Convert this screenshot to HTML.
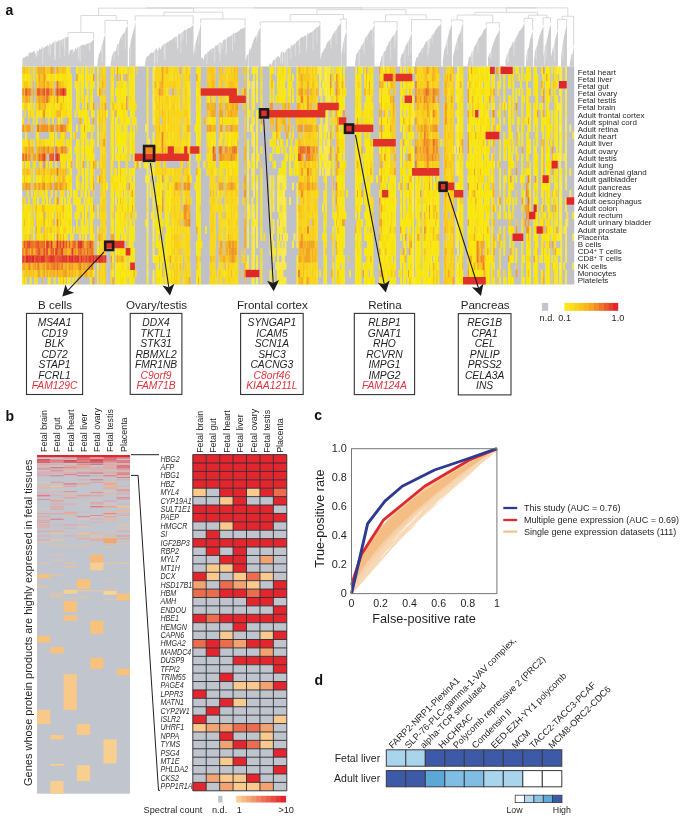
<!DOCTYPE html>
<html><head><meta charset="utf-8"><style>
html,body{margin:0;padding:0;background:#fff;width:685px;height:825px;overflow:hidden}
svg text{font-family:'Liberation Sans', sans-serif}
</style></head><body><svg width="685" height="825" viewBox="0 0 685 825" style="display:block;filter:blur(0.3px)"><defs><filter id="bl" x="-1%" y="-1%" width="102%" height="102%"><feGaussianBlur stdDeviation="0.45"/></filter></defs><g filter="url(#bl)"><path fill="#f8c018" d="M22.2 66.4h1.75v7.56h-1.75zM46.19 66.4h1.75v7.56h-1.75zM61.19 66.4h3.25v7.56h-3.25zM208.13 66.4h1.75v7.56h-1.75zM218.63 66.4h1.75v7.56h-1.75zM221.63 66.4h1.75v7.56h-1.75zM236.62 66.4h1.75v7.56h-1.75zM389.57 66.4h1.75v7.56h-1.75zM424.05 66.4h1.75v7.56h-1.75zM431.55 66.4h1.75v7.56h-1.75zM37.19 73.66h1.75v7.56h-1.75zM188.64 73.66h1.75v7.56h-1.75zM214.13 73.66h1.75v7.56h-1.75zM220.13 73.66h1.75v7.56h-1.75zM236.62 73.66h1.75v7.56h-1.75zM299.6 73.66h1.75v7.56h-1.75zM394.07 73.66h1.75v7.56h-1.75zM424.05 73.66h3.25v7.56h-3.25zM434.55 73.66h1.75v7.56h-1.75zM467.54 73.66h1.75v7.56h-1.75zM32.7 80.93h1.75v7.56h-1.75zM35.7 80.93h1.75v7.56h-1.75zM41.69 80.93h1.75v7.56h-1.75zM55.19 80.93h1.75v7.56h-1.75zM58.19 80.93h1.75v7.56h-1.75zM169.15 80.93h1.75v7.56h-1.75zM172.15 80.93h1.75v7.56h-1.75zM208.13 80.93h1.75v7.56h-1.75zM214.13 80.93h1.75v7.56h-1.75zM220.13 80.93h1.75v7.56h-1.75zM230.62 80.93h3.25v7.56h-3.25zM358.08 80.93h1.75v7.56h-1.75zM380.57 80.93h1.75v7.56h-1.75zM394.07 80.93h1.75v7.56h-1.75zM425.55 80.93h1.75v7.56h-1.75zM433.05 80.93h1.75v7.56h-1.75zM452.54 80.93h1.75v7.56h-1.75zM241.12 88.19h1.75v7.56h-1.75zM313.09 88.19h1.75v7.56h-1.75zM338.59 88.19h1.75v7.56h-1.75zM368.57 88.19h1.75v7.56h-1.75zM416.56 88.19h1.75v7.56h-1.75zM23.7 95.45h1.75v7.56h-1.75zM35.7 95.45h1.75v7.56h-1.75zM49.19 95.45h1.75v7.56h-1.75zM53.69 95.45h1.75v7.56h-1.75zM158.65 95.45h1.75v7.56h-1.75zM166.15 95.45h1.75v7.56h-1.75zM380.57 95.45h1.75v7.56h-1.75zM391.07 95.45h1.75v7.56h-1.75zM421.06 95.45h1.75v7.56h-1.75zM40.19 102.72h3.25v7.56h-3.25zM59.69 102.72h3.25v7.56h-3.25zM97.17 102.72h1.75v7.56h-1.75zM172.15 102.72h1.75v7.56h-1.75zM209.63 102.72h1.75v7.56h-1.75zM212.63 102.72h1.75v7.56h-1.75zM221.63 102.72h1.75v7.56h-1.75zM229.12 102.72h3.25v7.56h-3.25zM244.12 102.72h1.75v7.56h-1.75zM281.61 102.72h3.25v7.56h-3.25zM380.57 102.72h1.75v7.56h-1.75zM394.07 102.72h1.75v7.56h-1.75zM415.06 102.72h1.75v7.56h-1.75zM422.55 102.72h1.75v7.56h-1.75zM425.55 102.72h1.75v7.56h-1.75zM430.05 102.72h1.75v7.56h-1.75zM433.05 102.72h1.75v7.56h-1.75zM55.19 109.98h1.75v7.56h-1.75zM98.67 109.98h1.75v7.56h-1.75zM184.14 109.98h1.75v7.56h-1.75zM206.63 109.98h1.75v7.56h-1.75zM236.62 109.98h1.75v7.56h-1.75zM409.06 109.98h1.75v7.56h-1.75zM415.06 109.98h1.75v7.56h-1.75zM428.55 109.98h1.75v7.56h-1.75zM431.55 109.98h1.75v7.56h-1.75zM434.55 109.98h3.25v7.56h-3.25zM218.63 117.24h1.75v7.56h-1.75zM221.63 117.24h1.75v7.56h-1.75zM271.11 117.24h3.25v7.56h-3.25zM280.11 117.24h3.25v7.56h-3.25zM284.6 117.24h1.75v7.56h-1.75zM289.1 117.24h1.75v7.56h-1.75zM298.1 117.24h1.75v7.56h-1.75zM301.1 117.24h1.75v7.56h-1.75zM334.09 117.24h1.75v7.56h-1.75zM425.55 117.24h1.75v7.56h-1.75zM428.55 117.24h1.75v7.56h-1.75zM436.05 117.24h1.75v7.56h-1.75zM467.54 117.24h1.75v7.56h-1.75zM32.7 124.51h1.75v7.56h-1.75zM58.19 124.51h1.75v7.56h-1.75zM65.68 124.51h1.75v7.56h-1.75zM188.64 124.51h1.75v7.56h-1.75zM269.61 124.51h1.75v7.56h-1.75zM272.61 124.51h1.75v7.56h-1.75zM277.11 124.51h1.75v7.56h-1.75zM296.6 124.51h1.75v7.56h-1.75zM407.56 124.51h1.75v7.56h-1.75zM419.56 124.51h1.75v7.56h-1.75zM422.55 124.51h1.75v7.56h-1.75zM74.68 131.77h1.75v7.56h-1.75zM166.15 131.77h1.75v7.56h-1.75zM277.11 131.77h1.75v7.56h-1.75zM298.1 131.77h1.75v7.56h-1.75zM307.1 131.77h1.75v7.56h-1.75zM337.09 131.77h1.75v7.56h-1.75zM415.06 131.77h1.75v7.56h-1.75zM421.06 131.77h1.75v7.56h-1.75zM425.55 131.77h1.75v7.56h-1.75zM433.05 131.77h1.75v7.56h-1.75zM436.05 131.77h1.75v7.56h-1.75zM236.62 139.03h1.75v7.56h-1.75zM244.12 139.03h1.75v7.56h-1.75zM301.1 139.03h1.75v7.56h-1.75zM416.56 139.03h1.75v7.56h-1.75zM445.05 139.03h1.75v7.56h-1.75zM460.04 139.03h1.75v7.56h-1.75zM482.53 139.03h1.75v7.56h-1.75zM515.52 139.03h1.75v7.56h-1.75zM542.51 139.03h1.75v7.56h-1.75zM23.7 146.3h1.75v7.56h-1.75zM26.7 146.3h1.75v7.56h-1.75zM49.19 146.3h1.75v7.56h-1.75zM188.64 146.3h1.75v7.56h-1.75zM314.59 146.3h1.75v7.56h-1.75zM380.57 146.3h1.75v7.56h-1.75zM385.07 146.3h1.75v7.56h-1.75zM391.07 146.3h1.75v7.56h-1.75zM421.06 146.3h1.75v7.56h-1.75zM443.55 146.3h3.25v7.56h-3.25zM542.51 146.3h1.75v7.56h-1.75zM302.6 153.56h1.75v7.56h-1.75zM316.09 153.56h1.75v7.56h-1.75zM337.09 153.56h1.75v7.56h-1.75zM385.07 153.56h1.75v7.56h-1.75zM418.06 153.56h1.75v7.56h-1.75zM443.55 153.56h1.75v7.56h-1.75zM551.51 153.56h1.75v7.56h-1.75zM59.69 160.82h1.75v7.56h-1.75zM73.18 160.82h1.75v7.56h-1.75zM335.59 160.82h1.75v7.56h-1.75zM370.07 160.82h1.75v7.56h-1.75zM406.06 160.82h1.75v7.56h-1.75zM424.05 160.82h3.25v7.56h-3.25zM515.52 160.82h1.75v7.56h-1.75zM542.51 160.82h1.75v7.56h-1.75zM25.2 168.09h1.75v7.56h-1.75zM28.2 168.09h1.75v7.56h-1.75zM37.19 168.09h1.75v7.56h-1.75zM53.69 168.09h1.75v7.56h-1.75zM64.18 168.09h3.25v7.56h-3.25zM100.17 168.09h1.75v7.56h-1.75zM119.66 168.09h1.75v7.56h-1.75zM182.64 168.09h1.75v7.56h-1.75zM232.12 168.09h1.75v7.56h-1.75zM244.12 168.09h1.75v7.56h-1.75zM380.57 168.09h1.75v7.56h-1.75zM443.55 168.09h1.75v7.56h-1.75zM479.53 168.09h1.75v7.56h-1.75zM493.03 168.09h1.75v7.56h-1.75zM503.53 168.09h1.75v7.56h-1.75zM542.51 168.09h1.75v7.56h-1.75zM23.7 175.35h1.75v7.56h-1.75zM43.19 175.35h1.75v7.56h-1.75zM64.18 175.35h1.75v7.56h-1.75zM92.67 175.35h1.75v7.56h-1.75zM308.6 175.35h1.75v7.56h-1.75zM332.59 175.35h1.75v7.56h-1.75zM379.07 175.35h1.75v7.56h-1.75zM410.56 175.35h1.75v7.56h-1.75zM418.06 175.35h1.75v7.56h-1.75zM428.55 175.35h1.75v7.56h-1.75zM35.7 182.61h1.75v7.56h-1.75zM47.69 182.61h1.75v7.56h-1.75zM64.18 182.61h1.75v7.56h-1.75zM235.12 182.61h1.75v7.56h-1.75zM304.1 182.61h3.25v7.56h-3.25zM316.09 182.61h1.75v7.56h-1.75zM332.59 182.61h1.75v7.56h-1.75zM173.65 189.88h1.75v7.56h-1.75zM178.14 189.88h1.75v7.56h-1.75zM212.63 189.88h1.75v7.56h-1.75zM409.06 189.88h1.75v7.56h-1.75zM472.04 189.88h1.75v7.56h-1.75zM551.51 189.88h1.75v7.56h-1.75zM119.66 197.14h1.75v7.56h-1.75zM307.1 197.14h1.75v7.56h-1.75zM445.05 197.14h1.75v7.56h-1.75zM115.17 204.4h1.75v7.56h-1.75zM121.16 204.4h1.75v7.56h-1.75zM244.12 204.4h1.75v7.56h-1.75zM301.1 204.4h1.75v7.56h-1.75zM337.09 204.4h1.75v7.56h-1.75zM379.07 204.4h1.75v7.56h-1.75zM433.05 204.4h1.75v7.56h-1.75zM445.05 204.4h1.75v7.56h-1.75zM452.54 204.4h1.75v7.56h-1.75zM124.16 211.67h1.75v7.56h-1.75zM182.64 211.67h1.75v7.56h-1.75zM244.12 211.67h1.75v7.56h-1.75zM443.55 211.67h1.75v7.56h-1.75zM452.54 211.67h1.75v7.56h-1.75zM311.6 218.93h3.25v7.56h-3.25zM335.59 218.93h1.75v7.56h-1.75zM424.05 218.93h1.75v7.56h-1.75zM46.19 226.19h1.75v7.56h-1.75zM49.19 226.19h1.75v7.56h-1.75zM56.69 226.19h1.75v7.56h-1.75zM92.67 226.19h1.75v7.56h-1.75zM161.65 226.19h1.75v7.56h-1.75zM394.07 226.19h1.75v7.56h-1.75zM419.56 226.19h1.75v7.56h-1.75zM452.54 226.19h1.75v7.56h-1.75zM46.19 233.46h1.75v7.56h-1.75zM175.14 233.46h1.75v7.56h-1.75zM298.1 233.46h1.75v7.56h-1.75zM331.09 233.46h1.75v7.56h-1.75zM433.05 233.46h1.75v7.56h-1.75zM436.05 233.46h1.75v7.56h-1.75zM452.54 233.46h1.75v7.56h-1.75zM482.53 233.46h1.75v7.56h-1.75zM527.52 233.46h1.75v7.56h-1.75zM67.18 240.72h1.75v7.56h-1.75zM125.66 240.72h1.75v7.56h-1.75zM305.6 240.72h1.75v7.56h-1.75zM452.54 240.72h1.75v7.56h-1.75zM479.53 240.72h1.75v7.56h-1.75zM29.7 247.98h1.75v7.56h-1.75zM157.15 247.98h1.75v7.56h-1.75zM221.63 247.98h1.75v7.56h-1.75zM224.63 247.98h1.75v7.56h-1.75zM304.1 247.98h1.75v7.56h-1.75zM313.09 247.98h1.75v7.56h-1.75zM316.09 247.98h1.75v7.56h-1.75zM325.09 247.98h1.75v7.56h-1.75zM484.03 247.98h1.75v7.56h-1.75zM536.51 247.98h1.75v7.56h-1.75zM118.17 255.25h3.25v7.56h-3.25zM175.14 255.25h1.75v7.56h-1.75zM199.14 255.25h1.75v7.56h-1.75zM211.13 255.25h1.75v7.56h-1.75zM221.63 255.25h1.75v7.56h-1.75zM224.63 255.25h1.75v7.56h-1.75zM241.12 255.25h1.75v7.56h-1.75zM302.6 255.25h1.75v7.56h-1.75zM316.09 255.25h1.75v7.56h-1.75zM437.55 255.25h1.75v7.56h-1.75zM493.03 255.25h1.75v7.56h-1.75zM26.7 262.51h1.75v7.56h-1.75zM44.69 262.51h1.75v7.56h-1.75zM67.18 262.51h1.75v7.56h-1.75zM110.67 262.51h1.75v7.56h-1.75zM172.15 262.51h1.75v7.56h-1.75zM196.14 262.51h1.75v7.56h-1.75zM224.63 262.51h1.75v7.56h-1.75zM227.63 262.51h1.75v7.56h-1.75zM298.1 262.51h1.75v7.56h-1.75zM302.6 262.51h1.75v7.56h-1.75zM380.57 262.51h1.75v7.56h-1.75zM452.54 262.51h1.75v7.56h-1.75zM481.03 262.51h1.75v7.56h-1.75zM484.03 262.51h1.75v7.56h-1.75zM32.7 269.77h1.75v7.56h-1.75zM41.69 269.77h1.75v7.56h-1.75zM67.18 269.77h1.75v7.56h-1.75zM77.68 269.77h1.75v7.56h-1.75zM82.18 269.77h1.75v7.56h-1.75zM86.68 269.77h1.75v7.56h-1.75zM89.68 269.77h3.25v7.56h-3.25zM161.65 269.77h1.75v7.56h-1.75zM241.12 269.77h1.75v7.56h-1.75zM302.6 269.77h1.75v7.56h-1.75zM379.07 269.77h1.75v7.56h-1.75zM394.07 269.77h1.75v7.56h-1.75zM436.05 269.77h1.75v7.56h-1.75zM445.05 269.77h1.75v7.56h-1.75zM482.53 269.77h1.75v7.56h-1.75zM493.03 269.77h1.75v7.56h-1.75zM527.52 269.77h1.75v7.56h-1.75zM187.14 277.04h1.75v7.56h-1.75zM299.6 277.04h1.75v7.56h-1.75zM337.09 277.04h1.75v7.56h-1.75zM445.05 277.04h1.75v7.56h-1.75zM496.03 277.04h1.75v7.56h-1.75z"/><path fill="#f8b818" d="M23.7 66.4h1.75v7.56h-1.75zM41.69 66.4h1.75v7.56h-1.75zM49.19 66.4h1.75v7.56h-1.75zM64.18 66.4h1.75v7.56h-1.75zM233.62 66.4h1.75v7.56h-1.75zM307.1 66.4h1.75v7.56h-1.75zM365.58 66.4h1.75v7.56h-1.75zM385.07 66.4h1.75v7.56h-1.75zM425.55 66.4h1.75v7.56h-1.75zM437.55 66.4h1.75v7.56h-1.75zM452.54 66.4h1.75v7.56h-1.75zM44.69 73.66h1.75v7.56h-1.75zM119.66 73.66h1.75v7.56h-1.75zM211.13 73.66h1.75v7.56h-1.75zM271.11 73.66h1.75v7.56h-1.75zM298.1 73.66h1.75v7.56h-1.75zM307.1 73.66h1.75v7.56h-1.75zM337.09 73.66h1.75v7.56h-1.75zM365.58 73.66h1.75v7.56h-1.75zM392.57 73.66h1.75v7.56h-1.75zM433.05 73.66h1.75v7.56h-1.75zM446.55 73.66h1.75v7.56h-1.75zM40.19 80.93h1.75v7.56h-1.75zM59.69 80.93h1.75v7.56h-1.75zM211.13 80.93h3.25v7.56h-3.25zM229.12 80.93h1.75v7.56h-1.75zM244.12 80.93h1.75v7.56h-1.75zM313.09 80.93h1.75v7.56h-1.75zM553.01 80.93h1.75v7.56h-1.75zM23.7 88.19h1.75v7.56h-1.75zM100.17 88.19h1.75v7.56h-1.75zM304.1 88.19h3.25v7.56h-3.25zM329.59 88.19h1.75v7.56h-1.75zM337.09 88.19h1.75v7.56h-1.75zM388.07 88.19h1.75v7.56h-1.75zM419.56 88.19h3.25v7.56h-3.25zM22.2 95.45h1.75v7.56h-1.75zM32.7 95.45h1.75v7.56h-1.75zM62.69 95.45h1.75v7.56h-1.75zM209.63 95.45h1.75v7.56h-1.75zM220.13 95.45h1.75v7.56h-1.75zM416.56 95.45h3.25v7.56h-3.25zM422.55 95.45h1.75v7.56h-1.75zM434.55 95.45h1.75v7.56h-1.75zM25.2 102.72h1.75v7.56h-1.75zM43.19 102.72h1.75v7.56h-1.75zM218.63 102.72h3.25v7.56h-3.25zM224.63 102.72h1.75v7.56h-1.75zM277.11 102.72h1.75v7.56h-1.75zM289.1 102.72h1.75v7.56h-1.75zM416.56 102.72h3.25v7.56h-3.25zM472.04 102.72h1.75v7.56h-1.75zM56.69 109.98h4.75v7.56h-4.75zM161.65 109.98h1.75v7.56h-1.75zM209.63 109.98h1.75v7.56h-1.75zM224.63 109.98h1.75v7.56h-1.75zM229.12 109.98h1.75v7.56h-1.75zM232.12 109.98h3.25v7.56h-3.25zM244.12 109.98h1.75v7.56h-1.75zM380.57 109.98h1.75v7.56h-1.75zM383.57 109.98h1.75v7.56h-1.75zM491.53 109.98h1.75v7.56h-1.75zM503.53 109.98h1.75v7.56h-1.75zM40.19 117.24h1.75v7.56h-1.75zM98.67 117.24h1.75v7.56h-1.75zM187.14 117.24h1.75v7.56h-1.75zM269.61 117.24h1.75v7.56h-1.75zM295.1 117.24h1.75v7.56h-1.75zM424.05 117.24h1.75v7.56h-1.75zM433.05 117.24h1.75v7.56h-1.75zM23.7 124.51h1.75v7.56h-1.75zM29.7 124.51h1.75v7.56h-1.75zM47.69 124.51h1.75v7.56h-1.75zM158.65 124.51h1.75v7.56h-1.75zM211.13 124.51h3.25v7.56h-3.25zM221.63 124.51h1.75v7.56h-1.75zM233.62 124.51h1.75v7.56h-1.75zM236.62 124.51h1.75v7.56h-1.75zM311.6 124.51h1.75v7.56h-1.75zM379.07 124.51h1.75v7.56h-1.75zM415.06 124.51h1.75v7.56h-1.75zM64.18 131.77h1.75v7.56h-1.75zM275.61 131.77h1.75v7.56h-1.75zM419.56 131.77h1.75v7.56h-1.75zM448.05 131.77h1.75v7.56h-1.75zM515.52 131.77h1.75v7.56h-1.75zM337.09 139.03h1.75v7.56h-1.75zM418.06 139.03h1.75v7.56h-1.75zM421.06 139.03h1.75v7.56h-1.75zM487.03 139.03h1.75v7.56h-1.75zM541.01 139.03h1.75v7.56h-1.75zM29.7 146.3h1.75v7.56h-1.75zM32.7 146.3h1.75v7.56h-1.75zM58.19 146.3h1.75v7.56h-1.75zM164.65 146.3h1.75v7.56h-1.75zM175.14 146.3h1.75v7.56h-1.75zM178.14 146.3h1.75v7.56h-1.75zM227.63 146.3h1.75v7.56h-1.75zM392.57 146.3h1.75v7.56h-1.75zM418.06 146.3h1.75v7.56h-1.75zM428.55 146.3h1.75v7.56h-1.75zM437.55 146.3h1.75v7.56h-1.75zM224.63 153.56h1.75v7.56h-1.75zM313.09 153.56h3.25v7.56h-3.25zM379.07 153.56h1.75v7.56h-1.75zM422.55 153.56h1.75v7.56h-1.75zM493.03 153.56h1.75v7.56h-1.75zM185.64 160.82h1.75v7.56h-1.75zM244.12 160.82h1.75v7.56h-1.75zM379.07 160.82h1.75v7.56h-1.75zM499.03 160.82h1.75v7.56h-1.75zM26.7 168.09h1.75v7.56h-1.75zM38.69 168.09h1.75v7.56h-1.75zM59.69 168.09h1.75v7.56h-1.75zM62.69 168.09h1.75v7.56h-1.75zM211.13 168.09h1.75v7.56h-1.75zM337.09 168.09h1.75v7.56h-1.75zM49.19 175.35h1.75v7.56h-1.75zM58.19 175.35h1.75v7.56h-1.75zM217.13 175.35h1.75v7.56h-1.75zM304.1 175.35h1.75v7.56h-1.75zM23.7 182.61h1.75v7.56h-1.75zM29.7 182.61h1.75v7.56h-1.75zM37.19 182.61h1.75v7.56h-1.75zM46.19 182.61h1.75v7.56h-1.75zM58.19 182.61h1.75v7.56h-1.75zM62.69 182.61h1.75v7.56h-1.75zM182.64 182.61h1.75v7.56h-1.75zM226.13 182.61h1.75v7.56h-1.75zM233.62 182.61h1.75v7.56h-1.75zM314.59 182.61h1.75v7.56h-1.75zM379.07 182.61h1.75v7.56h-1.75zM436.05 182.61h1.75v7.56h-1.75zM493.03 182.61h1.75v7.56h-1.75zM209.63 189.88h1.75v7.56h-1.75zM226.13 189.88h1.75v7.56h-1.75zM235.12 189.88h1.75v7.56h-1.75zM307.1 189.88h1.75v7.56h-1.75zM340.08 189.88h1.75v7.56h-1.75zM185.64 197.14h1.75v7.56h-1.75zM244.12 197.14h1.75v7.56h-1.75zM302.6 197.14h1.75v7.56h-1.75zM409.06 197.14h1.75v7.56h-1.75zM460.04 197.14h1.75v7.56h-1.75zM35.7 204.4h1.75v7.56h-1.75zM41.69 204.4h3.25v7.56h-3.25zM62.69 204.4h1.75v7.56h-1.75zM127.16 204.4h1.75v7.56h-1.75zM182.64 204.4h1.75v7.56h-1.75zM307.1 204.4h1.75v7.56h-1.75zM434.55 204.4h1.75v7.56h-1.75zM56.69 211.67h1.75v7.56h-1.75zM187.14 211.67h1.75v7.56h-1.75zM337.09 211.67h1.75v7.56h-1.75zM379.07 211.67h1.75v7.56h-1.75zM419.56 211.67h1.75v7.56h-1.75zM23.7 218.93h1.75v7.56h-1.75zM52.19 218.93h1.75v7.56h-1.75zM59.69 218.93h1.75v7.56h-1.75zM178.14 218.93h1.75v7.56h-1.75zM307.1 218.93h1.75v7.56h-1.75zM445.05 218.93h1.75v7.56h-1.75zM40.19 226.19h1.75v7.56h-1.75zM43.19 226.19h1.75v7.56h-1.75zM304.1 226.19h1.75v7.56h-1.75zM337.09 226.19h1.75v7.56h-1.75zM380.57 226.19h1.75v7.56h-1.75zM389.57 226.19h1.75v7.56h-1.75zM443.55 226.19h3.25v7.56h-3.25zM451.04 226.19h1.75v7.56h-1.75zM59.69 233.46h1.75v7.56h-1.75zM62.69 233.46h1.75v7.56h-1.75zM217.13 233.46h1.75v7.56h-1.75zM227.63 233.46h1.75v7.56h-1.75zM409.06 233.46h1.75v7.56h-1.75zM437.55 233.46h1.75v7.56h-1.75zM44.69 240.72h1.75v7.56h-1.75zM70.18 240.72h1.75v7.56h-1.75zM221.63 240.72h1.75v7.56h-1.75zM224.63 240.72h3.25v7.56h-3.25zM230.62 240.72h1.75v7.56h-1.75zM298.1 240.72h1.75v7.56h-1.75zM302.6 240.72h1.75v7.56h-1.75zM316.09 240.72h1.75v7.56h-1.75zM478.03 240.72h1.75v7.56h-1.75zM499.03 240.72h1.75v7.56h-1.75zM548.51 240.72h1.75v7.56h-1.75zM68.68 247.98h1.75v7.56h-1.75zM76.18 247.98h1.75v7.56h-1.75zM178.14 247.98h1.75v7.56h-1.75zM298.1 247.98h1.75v7.56h-1.75zM301.1 247.98h1.75v7.56h-1.75zM314.59 247.98h1.75v7.56h-1.75zM335.59 247.98h1.75v7.56h-1.75zM424.05 247.98h1.75v7.56h-1.75zM122.66 255.25h1.75v7.56h-1.75zM209.63 255.25h1.75v7.56h-1.75zM220.13 255.25h1.75v7.56h-1.75zM235.12 255.25h1.75v7.56h-1.75zM301.1 255.25h1.75v7.56h-1.75zM313.09 255.25h3.25v7.56h-3.25zM443.55 255.25h1.75v7.56h-1.75zM484.03 255.25h1.75v7.56h-1.75zM35.7 262.51h1.75v7.56h-1.75zM62.69 262.51h1.75v7.56h-1.75zM73.18 262.51h4.75v7.56h-4.75zM92.67 262.51h1.75v7.56h-1.75zM179.64 262.51h1.75v7.56h-1.75zM445.05 262.51h1.75v7.56h-1.75zM461.54 262.51h1.75v7.56h-1.75zM467.54 262.51h1.75v7.56h-1.75zM476.54 262.51h3.25v7.56h-3.25zM25.2 269.77h1.75v7.56h-1.75zM28.2 269.77h1.75v7.56h-1.75zM50.69 269.77h1.75v7.56h-1.75zM58.19 269.77h4.75v7.56h-4.75zM70.18 269.77h1.75v7.56h-1.75zM74.68 269.77h1.75v7.56h-1.75zM83.68 269.77h1.75v7.56h-1.75zM230.62 269.77h1.75v7.56h-1.75zM391.07 269.77h1.75v7.56h-1.75zM433.05 269.77h1.75v7.56h-1.75zM542.51 269.77h1.75v7.56h-1.75zM41.69 277.04h1.75v7.56h-1.75zM62.69 277.04h1.75v7.56h-1.75zM77.68 277.04h1.75v7.56h-1.75zM244.12 277.04h1.75v7.56h-1.75zM305.6 277.04h1.75v7.56h-1.75z"/><path fill="#f8c818" d="M25.2 66.4h3.25v7.56h-3.25zM47.69 66.4h1.75v7.56h-1.75zM55.19 66.4h1.75v7.56h-1.75zM58.19 66.4h3.25v7.56h-3.25zM100.17 66.4h1.75v7.56h-1.75zM163.15 66.4h1.75v7.56h-1.75zM185.64 66.4h1.75v7.56h-1.75zM209.63 66.4h4.75v7.56h-4.75zM220.13 66.4h1.75v7.56h-1.75zM226.13 66.4h1.75v7.56h-1.75zM230.62 66.4h1.75v7.56h-1.75zM235.12 66.4h1.75v7.56h-1.75zM242.62 66.4h3.25v7.56h-3.25zM299.6 66.4h1.75v7.56h-1.75zM302.6 66.4h1.75v7.56h-1.75zM305.6 66.4h1.75v7.56h-1.75zM311.6 66.4h1.75v7.56h-1.75zM394.07 66.4h1.75v7.56h-1.75zM422.55 66.4h1.75v7.56h-1.75zM434.55 66.4h3.25v7.56h-3.25zM443.55 66.4h1.75v7.56h-1.75zM451.04 66.4h1.75v7.56h-1.75zM467.54 66.4h1.75v7.56h-1.75zM40.19 73.66h3.25v7.56h-3.25zM100.17 73.66h1.75v7.56h-1.75zM104.67 73.66h1.75v7.56h-1.75zM157.15 73.66h1.75v7.56h-1.75zM208.13 73.66h1.75v7.56h-1.75zM212.63 73.66h1.75v7.56h-1.75zM223.13 73.66h1.75v7.56h-1.75zM229.12 73.66h1.75v7.56h-1.75zM232.12 73.66h4.75v7.56h-4.75zM302.6 73.66h4.75v7.56h-4.75zM308.6 73.66h1.75v7.56h-1.75zM341.58 73.66h1.75v7.56h-1.75zM379.07 73.66h1.75v7.56h-1.75zM418.06 73.66h1.75v7.56h-1.75zM421.06 73.66h1.75v7.56h-1.75zM427.05 73.66h1.75v7.56h-1.75zM443.55 73.66h3.25v7.56h-3.25zM451.04 73.66h1.75v7.56h-1.75zM23.7 80.93h4.75v7.56h-4.75zM49.19 80.93h1.75v7.56h-1.75zM61.19 80.93h3.25v7.56h-3.25zM104.67 80.93h1.75v7.56h-1.75zM121.16 80.93h1.75v7.56h-1.75zM158.65 80.93h1.75v7.56h-1.75zM206.63 80.93h1.75v7.56h-1.75zM221.63 80.93h1.75v7.56h-1.75zM233.62 80.93h1.75v7.56h-1.75zM298.1 80.93h1.75v7.56h-1.75zM304.1 80.93h1.75v7.56h-1.75zM311.6 80.93h1.75v7.56h-1.75zM392.57 80.93h1.75v7.56h-1.75zM419.56 80.93h1.75v7.56h-1.75zM424.05 80.93h1.75v7.56h-1.75zM431.55 80.93h1.75v7.56h-1.75zM443.55 80.93h1.75v7.56h-1.75zM448.05 80.93h1.75v7.56h-1.75zM101.67 88.19h1.75v7.56h-1.75zM104.67 88.19h1.75v7.56h-1.75zM302.6 88.19h1.75v7.56h-1.75zM311.6 88.19h1.75v7.56h-1.75zM367.07 88.19h1.75v7.56h-1.75zM392.57 88.19h3.25v7.56h-3.25zM443.55 88.19h1.75v7.56h-1.75zM277.11 95.45h1.75v7.56h-1.75zM299.6 95.45h1.75v7.56h-1.75zM310.1 95.45h3.25v7.56h-3.25zM337.09 95.45h1.75v7.56h-1.75zM430.05 95.45h1.75v7.56h-1.75zM449.55 95.45h1.75v7.56h-1.75zM493.03 95.45h1.75v7.56h-1.75zM551.51 95.45h1.75v7.56h-1.75zM101.67 102.72h1.75v7.56h-1.75zM161.65 102.72h1.75v7.56h-1.75zM227.63 102.72h1.75v7.56h-1.75zM233.62 102.72h1.75v7.56h-1.75zM299.6 102.72h1.75v7.56h-1.75zM302.6 102.72h1.75v7.56h-1.75zM308.6 102.72h1.75v7.56h-1.75zM379.07 102.72h1.75v7.56h-1.75zM409.06 102.72h1.75v7.56h-1.75zM421.06 102.72h1.75v7.56h-1.75zM431.55 102.72h1.75v7.56h-1.75zM443.55 102.72h1.75v7.56h-1.75zM446.55 102.72h1.75v7.56h-1.75zM478.03 102.72h1.75v7.56h-1.75zM503.53 102.72h1.75v7.56h-1.75zM29.7 109.98h1.75v7.56h-1.75zM101.67 109.98h1.75v7.56h-1.75zM104.67 109.98h1.75v7.56h-1.75zM158.65 109.98h1.75v7.56h-1.75zM167.65 109.98h1.75v7.56h-1.75zM172.15 109.98h1.75v7.56h-1.75zM208.13 109.98h1.75v7.56h-1.75zM226.13 109.98h1.75v7.56h-1.75zM329.59 109.98h1.75v7.56h-1.75zM361.08 109.98h1.75v7.56h-1.75zM389.57 109.98h1.75v7.56h-1.75zM421.06 109.98h3.25v7.56h-3.25zM443.55 109.98h1.75v7.56h-1.75zM451.04 109.98h1.75v7.56h-1.75zM515.52 109.98h1.75v7.56h-1.75zM28.2 117.24h1.75v7.56h-1.75zM56.69 117.24h1.75v7.56h-1.75zM80.68 117.24h1.75v7.56h-1.75zM101.67 117.24h1.75v7.56h-1.75zM104.67 117.24h1.75v7.56h-1.75zM158.65 117.24h1.75v7.56h-1.75zM161.65 117.24h1.75v7.56h-1.75zM167.65 117.24h1.75v7.56h-1.75zM232.12 117.24h1.75v7.56h-1.75zM277.11 117.24h1.75v7.56h-1.75zM287.6 117.24h1.75v7.56h-1.75zM299.6 117.24h1.75v7.56h-1.75zM310.1 117.24h1.75v7.56h-1.75zM386.57 117.24h1.75v7.56h-1.75zM391.07 117.24h4.75v7.56h-4.75zM409.06 117.24h1.75v7.56h-1.75zM416.56 117.24h1.75v7.56h-1.75zM422.55 117.24h1.75v7.56h-1.75zM443.55 117.24h1.75v7.56h-1.75zM449.55 117.24h3.25v7.56h-3.25zM35.7 124.51h1.75v7.56h-1.75zM67.18 124.51h1.75v7.56h-1.75zM100.17 124.51h1.75v7.56h-1.75zM155.65 124.51h1.75v7.56h-1.75zM218.63 124.51h1.75v7.56h-1.75zM224.63 124.51h1.75v7.56h-1.75zM244.12 124.51h1.75v7.56h-1.75zM280.11 124.51h1.75v7.56h-1.75zM283.11 124.51h1.75v7.56h-1.75zM289.1 124.51h1.75v7.56h-1.75zM313.09 124.51h3.25v7.56h-3.25zM329.59 124.51h1.75v7.56h-1.75zM394.07 124.51h1.75v7.56h-1.75zM416.56 124.51h1.75v7.56h-1.75zM443.55 124.51h3.25v7.56h-3.25zM449.55 124.51h1.75v7.56h-1.75zM452.54 124.51h1.75v7.56h-1.75zM523.02 124.51h1.75v7.56h-1.75zM59.69 131.77h1.75v7.56h-1.75zM184.14 131.77h1.75v7.56h-1.75zM187.14 131.77h1.75v7.56h-1.75zM218.63 131.77h1.75v7.56h-1.75zM244.12 131.77h1.75v7.56h-1.75zM304.1 131.77h1.75v7.56h-1.75zM308.6 131.77h3.25v7.56h-3.25zM394.07 131.77h1.75v7.56h-1.75zM431.55 131.77h1.75v7.56h-1.75zM434.55 131.77h1.75v7.56h-1.75zM443.55 131.77h3.25v7.56h-3.25zM452.54 131.77h1.75v7.56h-1.75zM40.19 139.03h1.75v7.56h-1.75zM43.19 139.03h1.75v7.56h-1.75zM100.17 139.03h1.75v7.56h-1.75zM104.67 139.03h1.75v7.56h-1.75zM226.13 139.03h1.75v7.56h-1.75zM299.6 139.03h1.75v7.56h-1.75zM305.6 139.03h1.75v7.56h-1.75zM310.1 139.03h1.75v7.56h-1.75zM329.59 139.03h1.75v7.56h-1.75zM335.59 139.03h1.75v7.56h-1.75zM419.56 139.03h1.75v7.56h-1.75zM437.55 139.03h1.75v7.56h-1.75zM452.54 139.03h1.75v7.56h-1.75zM551.51 139.03h1.75v7.56h-1.75zM22.2 146.3h1.75v7.56h-1.75zM35.7 146.3h1.75v7.56h-1.75zM83.68 146.3h1.75v7.56h-1.75zM92.67 146.3h1.75v7.56h-1.75zM104.67 146.3h1.75v7.56h-1.75zM157.15 146.3h1.75v7.56h-1.75zM208.13 146.3h1.75v7.56h-1.75zM236.62 146.3h1.75v7.56h-1.75zM394.07 146.3h1.75v7.56h-1.75zM493.03 146.3h1.75v7.56h-1.75zM35.7 153.56h1.75v7.56h-1.75zM101.67 153.56h1.75v7.56h-1.75zM380.57 153.56h1.75v7.56h-1.75zM445.05 153.56h3.25v7.56h-3.25zM451.04 153.56h3.25v7.56h-3.25zM542.51 153.56h1.75v7.56h-1.75zM104.67 160.82h1.75v7.56h-1.75zM157.15 160.82h1.75v7.56h-1.75zM260.61 160.82h1.75v7.56h-1.75zM299.6 160.82h3.25v7.56h-3.25zM307.1 160.82h3.25v7.56h-3.25zM314.59 160.82h1.75v7.56h-1.75zM391.07 160.82h1.75v7.56h-1.75zM394.07 160.82h1.75v7.56h-1.75zM416.56 160.82h3.25v7.56h-3.25zM431.55 160.82h3.25v7.56h-3.25zM443.55 160.82h1.75v7.56h-1.75zM448.05 160.82h4.75v7.56h-4.75zM526.02 160.82h1.75v7.56h-1.75zM22.2 168.09h3.25v7.56h-3.25zM35.7 168.09h1.75v7.56h-1.75zM40.19 168.09h1.75v7.56h-1.75zM46.19 168.09h1.75v7.56h-1.75zM49.19 168.09h1.75v7.56h-1.75zM52.19 168.09h1.75v7.56h-1.75zM55.19 168.09h1.75v7.56h-1.75zM61.19 168.09h1.75v7.56h-1.75zM101.67 168.09h1.75v7.56h-1.75zM104.67 168.09h1.75v7.56h-1.75zM161.65 168.09h1.75v7.56h-1.75zM208.13 168.09h1.75v7.56h-1.75zM295.1 168.09h1.75v7.56h-1.75zM308.6 168.09h1.75v7.56h-1.75zM389.57 168.09h1.75v7.56h-1.75zM445.05 168.09h1.75v7.56h-1.75zM451.04 168.09h1.75v7.56h-1.75zM41.69 175.35h1.75v7.56h-1.75zM56.69 175.35h1.75v7.56h-1.75zM61.19 175.35h1.75v7.56h-1.75zM100.17 175.35h3.25v7.56h-3.25zM230.62 175.35h1.75v7.56h-1.75zM298.1 175.35h1.75v7.56h-1.75zM311.6 175.35h1.75v7.56h-1.75zM436.05 175.35h1.75v7.56h-1.75zM443.55 175.35h3.25v7.56h-3.25zM451.04 175.35h3.25v7.56h-3.25zM478.03 175.35h1.75v7.56h-1.75zM32.7 182.61h1.75v7.56h-1.75zM40.19 182.61h1.75v7.56h-1.75zM125.66 182.61h1.75v7.56h-1.75zM167.65 182.61h1.75v7.56h-1.75zM173.65 182.61h1.75v7.56h-1.75zM224.63 182.61h1.75v7.56h-1.75zM242.62 182.61h1.75v7.56h-1.75zM310.1 182.61h1.75v7.56h-1.75zM424.05 182.61h1.75v7.56h-1.75zM491.53 182.61h1.75v7.56h-1.75zM100.17 189.88h1.75v7.56h-1.75zM184.14 189.88h1.75v7.56h-1.75zM232.12 189.88h1.75v7.56h-1.75zM298.1 189.88h1.75v7.56h-1.75zM302.6 189.88h1.75v7.56h-1.75zM317.59 189.88h1.75v7.56h-1.75zM337.09 189.88h1.75v7.56h-1.75zM343.08 189.88h1.75v7.56h-1.75zM433.05 189.88h1.75v7.56h-1.75zM443.55 189.88h1.75v7.56h-1.75zM449.55 189.88h1.75v7.56h-1.75zM467.54 189.88h1.75v7.56h-1.75zM556.01 189.88h1.75v7.56h-1.75zM22.2 197.14h1.75v7.56h-1.75zM188.64 197.14h1.75v7.56h-1.75zM214.13 197.14h1.75v7.56h-1.75zM226.13 197.14h1.75v7.56h-1.75zM310.1 197.14h1.75v7.56h-1.75zM443.55 197.14h1.75v7.56h-1.75zM448.05 197.14h1.75v7.56h-1.75zM452.54 197.14h1.75v7.56h-1.75zM34.2 204.4h1.75v7.56h-1.75zM55.19 204.4h1.75v7.56h-1.75zM61.19 204.4h1.75v7.56h-1.75zM100.17 204.4h1.75v7.56h-1.75zM104.67 204.4h1.75v7.56h-1.75zM173.65 204.4h1.75v7.56h-1.75zM199.14 204.4h1.75v7.56h-1.75zM299.6 204.4h1.75v7.56h-1.75zM308.6 204.4h1.75v7.56h-1.75zM425.55 204.4h1.75v7.56h-1.75zM451.04 204.4h1.75v7.56h-1.75zM475.04 204.4h1.75v7.56h-1.75zM59.69 211.67h1.75v7.56h-1.75zM62.69 211.67h1.75v7.56h-1.75zM80.68 211.67h1.75v7.56h-1.75zM86.68 211.67h1.75v7.56h-1.75zM112.17 211.67h1.75v7.56h-1.75zM179.64 211.67h1.75v7.56h-1.75zM224.63 211.67h1.75v7.56h-1.75zM298.1 211.67h4.75v7.56h-4.75zM304.1 211.67h1.75v7.56h-1.75zM307.1 211.67h1.75v7.56h-1.75zM311.6 211.67h1.75v7.56h-1.75zM371.57 211.67h1.75v7.56h-1.75zM391.07 211.67h1.75v7.56h-1.75zM409.06 211.67h1.75v7.56h-1.75zM451.04 211.67h1.75v7.56h-1.75zM535.01 211.67h1.75v7.56h-1.75zM545.51 211.67h1.75v7.56h-1.75zM104.67 218.93h1.75v7.56h-1.75zM182.64 218.93h1.75v7.56h-1.75zM211.13 218.93h1.75v7.56h-1.75zM227.63 218.93h1.75v7.56h-1.75zM298.1 218.93h1.75v7.56h-1.75zM301.1 218.93h1.75v7.56h-1.75zM434.55 218.93h1.75v7.56h-1.75zM446.55 218.93h1.75v7.56h-1.75zM451.04 218.93h1.75v7.56h-1.75zM508.02 218.93h1.75v7.56h-1.75zM515.52 218.93h1.75v7.56h-1.75zM542.51 218.93h1.75v7.56h-1.75zM50.69 226.19h1.75v7.56h-1.75zM58.19 226.19h1.75v7.56h-1.75zM101.67 226.19h1.75v7.56h-1.75zM298.1 226.19h4.75v7.56h-4.75zM310.1 226.19h1.75v7.56h-1.75zM313.09 226.19h1.75v7.56h-1.75zM446.55 226.19h1.75v7.56h-1.75zM473.54 226.19h1.75v7.56h-1.75zM25.2 233.46h1.75v7.56h-1.75zM28.2 233.46h3.25v7.56h-3.25zM97.17 233.46h1.75v7.56h-1.75zM100.17 233.46h3.25v7.56h-3.25zM173.65 233.46h1.75v7.56h-1.75zM178.14 233.46h1.75v7.56h-1.75zM299.6 233.46h1.75v7.56h-1.75zM307.1 233.46h1.75v7.56h-1.75zM310.1 233.46h1.75v7.56h-1.75zM313.09 233.46h1.75v7.56h-1.75zM443.55 233.46h1.75v7.56h-1.75zM449.55 233.46h1.75v7.56h-1.75zM218.63 240.72h1.75v7.56h-1.75zM430.05 240.72h1.75v7.56h-1.75zM100.17 247.98h1.75v7.56h-1.75zM173.65 247.98h1.75v7.56h-1.75zM227.63 247.98h1.75v7.56h-1.75zM241.12 247.98h1.75v7.56h-1.75zM244.12 247.98h1.75v7.56h-1.75zM310.1 247.98h1.75v7.56h-1.75zM443.55 247.98h1.75v7.56h-1.75zM451.04 247.98h3.25v7.56h-3.25zM542.51 247.98h1.75v7.56h-1.75zM551.51 247.98h1.75v7.56h-1.75zM115.17 255.25h1.75v7.56h-1.75zM158.65 255.25h1.75v7.56h-1.75zM212.63 255.25h3.25v7.56h-3.25zM218.63 255.25h1.75v7.56h-1.75zM226.13 255.25h3.25v7.56h-3.25zM244.12 255.25h1.75v7.56h-1.75zM310.1 255.25h1.75v7.56h-1.75zM347.58 255.25h1.75v7.56h-1.75zM424.05 255.25h1.75v7.56h-1.75zM445.05 255.25h1.75v7.56h-1.75zM451.04 255.25h1.75v7.56h-1.75zM104.67 262.51h1.75v7.56h-1.75zM161.65 262.51h1.75v7.56h-1.75zM304.1 262.51h1.75v7.56h-1.75zM307.1 262.51h1.75v7.56h-1.75zM313.09 262.51h1.75v7.56h-1.75zM443.55 262.51h1.75v7.56h-1.75zM479.53 262.51h1.75v7.56h-1.75zM509.52 262.51h1.75v7.56h-1.75zM515.52 262.51h1.75v7.56h-1.75zM551.51 262.51h1.75v7.56h-1.75zM23.7 269.77h1.75v7.56h-1.75zM26.7 269.77h1.75v7.56h-1.75zM29.7 269.77h3.25v7.56h-3.25zM34.2 269.77h1.75v7.56h-1.75zM44.69 269.77h1.75v7.56h-1.75zM47.69 269.77h1.75v7.56h-1.75zM55.19 269.77h1.75v7.56h-1.75zM73.18 269.77h1.75v7.56h-1.75zM88.18 269.77h1.75v7.56h-1.75zM98.67 269.77h1.75v7.56h-1.75zM104.67 269.77h1.75v7.56h-1.75zM173.65 269.77h1.75v7.56h-1.75zM185.64 269.77h1.75v7.56h-1.75zM218.63 269.77h1.75v7.56h-1.75zM311.6 269.77h1.75v7.56h-1.75zM451.04 269.77h1.75v7.56h-1.75zM104.67 277.04h1.75v7.56h-1.75zM184.14 277.04h1.75v7.56h-1.75zM313.09 277.04h1.75v7.56h-1.75zM443.55 277.04h1.75v7.56h-1.75zM446.55 277.04h1.75v7.56h-1.75z"/><path fill="#f8d018" d="M28.2 66.4h3.25v7.56h-3.25zM44.69 66.4h1.75v7.56h-1.75zM101.67 66.4h1.75v7.56h-1.75zM104.67 66.4h1.75v7.56h-1.75zM136.16 66.4h1.75v7.56h-1.75zM155.65 66.4h3.25v7.56h-3.25zM164.65 66.4h1.75v7.56h-1.75zM187.14 66.4h1.75v7.56h-1.75zM206.63 66.4h1.75v7.56h-1.75zM214.13 66.4h1.75v7.56h-1.75zM229.12 66.4h1.75v7.56h-1.75zM232.12 66.4h1.75v7.56h-1.75zM301.1 66.4h1.75v7.56h-1.75zM314.59 66.4h3.25v7.56h-3.25zM337.09 66.4h1.75v7.56h-1.75zM391.07 66.4h3.25v7.56h-3.25zM421.06 66.4h1.75v7.56h-1.75zM428.55 66.4h3.25v7.56h-3.25zM449.55 66.4h1.75v7.56h-1.75zM101.67 73.66h3.25v7.56h-3.25zM154.15 73.66h1.75v7.56h-1.75zM173.65 73.66h1.75v7.56h-1.75zM176.64 73.66h1.75v7.56h-1.75zM206.63 73.66h1.75v7.56h-1.75zM209.63 73.66h1.75v7.56h-1.75zM218.63 73.66h1.75v7.56h-1.75zM221.63 73.66h1.75v7.56h-1.75zM224.63 73.66h1.75v7.56h-1.75zM227.63 73.66h1.75v7.56h-1.75zM230.62 73.66h1.75v7.56h-1.75zM244.12 73.66h1.75v7.56h-1.75zM311.6 73.66h3.25v7.56h-3.25zM316.09 73.66h1.75v7.56h-1.75zM415.06 73.66h1.75v7.56h-1.75zM515.52 73.66h1.75v7.56h-1.75zM551.51 73.66h1.75v7.56h-1.75zM37.19 80.93h1.75v7.56h-1.75zM44.69 80.93h1.75v7.56h-1.75zM50.69 80.93h3.25v7.56h-3.25zM103.17 80.93h1.75v7.56h-1.75zM155.65 80.93h1.75v7.56h-1.75zM173.65 80.93h3.25v7.56h-3.25zM179.64 80.93h1.75v7.56h-1.75zM184.14 80.93h1.75v7.56h-1.75zM199.14 80.93h1.75v7.56h-1.75zM209.63 80.93h1.75v7.56h-1.75zM226.13 80.93h3.25v7.56h-3.25zM235.12 80.93h3.25v7.56h-3.25zM299.6 80.93h1.75v7.56h-1.75zM389.57 80.93h1.75v7.56h-1.75zM406.06 80.93h1.75v7.56h-1.75zM416.56 80.93h3.25v7.56h-3.25zM421.06 80.93h3.25v7.56h-3.25zM428.55 80.93h1.75v7.56h-1.75zM436.05 80.93h3.25v7.56h-3.25zM446.55 80.93h1.75v7.56h-1.75zM451.04 80.93h1.75v7.56h-1.75zM554.51 80.93h1.75v7.56h-1.75zM163.15 88.19h1.75v7.56h-1.75zM167.65 88.19h1.75v7.56h-1.75zM173.65 88.19h1.75v7.56h-1.75zM178.14 88.19h3.25v7.56h-3.25zM184.14 88.19h3.25v7.56h-3.25zM242.62 88.19h1.75v7.56h-1.75zM314.59 88.19h1.75v7.56h-1.75zM341.58 88.19h1.75v7.56h-1.75zM380.57 88.19h1.75v7.56h-1.75zM389.57 88.19h1.75v7.56h-1.75zM446.55 88.19h1.75v7.56h-1.75zM449.55 88.19h4.75v7.56h-4.75zM29.7 95.45h1.75v7.56h-1.75zM101.67 95.45h1.75v7.56h-1.75zM104.67 95.45h1.75v7.56h-1.75zM154.15 95.45h3.25v7.56h-3.25zM161.65 95.45h1.75v7.56h-1.75zM170.65 95.45h1.75v7.56h-1.75zM176.64 95.45h1.75v7.56h-1.75zM179.64 95.45h1.75v7.56h-1.75zM184.14 95.45h3.25v7.56h-3.25zM214.13 95.45h1.75v7.56h-1.75zM298.1 95.45h1.75v7.56h-1.75zM302.6 95.45h1.75v7.56h-1.75zM313.09 95.45h3.25v7.56h-3.25zM371.57 95.45h1.75v7.56h-1.75zM448.05 95.45h1.75v7.56h-1.75zM452.54 95.45h1.75v7.56h-1.75zM499.03 95.45h1.75v7.56h-1.75zM23.7 102.72h1.75v7.56h-1.75zM53.69 102.72h1.75v7.56h-1.75zM100.17 102.72h1.75v7.56h-1.75zM103.17 102.72h1.75v7.56h-1.75zM155.65 102.72h4.75v7.56h-4.75zM173.65 102.72h1.75v7.56h-1.75zM176.64 102.72h1.75v7.56h-1.75zM179.64 102.72h1.75v7.56h-1.75zM187.14 102.72h1.75v7.56h-1.75zM242.62 102.72h1.75v7.56h-1.75zM301.1 102.72h1.75v7.56h-1.75zM305.6 102.72h1.75v7.56h-1.75zM311.6 102.72h1.75v7.56h-1.75zM314.59 102.72h3.25v7.56h-3.25zM419.56 102.72h1.75v7.56h-1.75zM428.55 102.72h1.75v7.56h-1.75zM437.55 102.72h1.75v7.56h-1.75zM449.55 102.72h4.75v7.56h-4.75zM41.69 109.98h1.75v7.56h-1.75zM65.68 109.98h1.75v7.56h-1.75zM155.65 109.98h1.75v7.56h-1.75zM160.15 109.98h1.75v7.56h-1.75zM163.15 109.98h3.25v7.56h-3.25zM181.14 109.98h1.75v7.56h-1.75zM185.64 109.98h3.25v7.56h-3.25zM394.07 109.98h1.75v7.56h-1.75zM416.56 109.98h3.25v7.56h-3.25zM424.05 109.98h3.25v7.56h-3.25zM452.54 109.98h1.75v7.56h-1.75zM545.51 109.98h1.75v7.56h-1.75zM100.17 117.24h1.75v7.56h-1.75zM155.65 117.24h3.25v7.56h-3.25zM163.15 117.24h3.25v7.56h-3.25zM173.65 117.24h1.75v7.56h-1.75zM178.14 117.24h1.75v7.56h-1.75zM184.14 117.24h1.75v7.56h-1.75zM244.12 117.24h1.75v7.56h-1.75zM278.61 117.24h1.75v7.56h-1.75zM302.6 117.24h6.25v7.56h-6.25zM311.6 117.24h1.75v7.56h-1.75zM418.06 117.24h1.75v7.56h-1.75zM421.06 117.24h1.75v7.56h-1.75zM427.05 117.24h1.75v7.56h-1.75zM431.55 117.24h1.75v7.56h-1.75zM434.55 117.24h1.75v7.56h-1.75zM446.55 117.24h3.25v7.56h-3.25zM452.54 117.24h1.75v7.56h-1.75zM101.67 124.51h1.75v7.56h-1.75zM104.67 124.51h1.75v7.56h-1.75zM136.16 124.51h1.75v7.56h-1.75zM154.15 124.51h1.75v7.56h-1.75zM157.15 124.51h1.75v7.56h-1.75zM161.65 124.51h4.75v7.56h-4.75zM173.65 124.51h1.75v7.56h-1.75zM178.14 124.51h3.25v7.56h-3.25zM185.64 124.51h1.75v7.56h-1.75zM278.61 124.51h1.75v7.56h-1.75zM292.1 124.51h1.75v7.56h-1.75zM391.07 124.51h3.25v7.56h-3.25zM406.06 124.51h1.75v7.56h-1.75zM428.55 124.51h1.75v7.56h-1.75zM446.55 124.51h1.75v7.56h-1.75zM451.04 124.51h1.75v7.56h-1.75zM479.53 124.51h1.75v7.56h-1.75zM103.17 131.77h3.25v7.56h-3.25zM155.65 131.77h4.75v7.56h-4.75zM163.15 131.77h1.75v7.56h-1.75zM175.14 131.77h1.75v7.56h-1.75zM178.14 131.77h3.25v7.56h-3.25zM299.6 131.77h1.75v7.56h-1.75zM305.6 131.77h1.75v7.56h-1.75zM311.6 131.77h3.25v7.56h-3.25zM335.59 131.77h1.75v7.56h-1.75zM391.07 131.77h3.25v7.56h-3.25zM418.06 131.77h1.75v7.56h-1.75zM422.55 131.77h1.75v7.56h-1.75zM428.55 131.77h1.75v7.56h-1.75zM437.55 131.77h1.75v7.56h-1.75zM449.55 131.77h3.25v7.56h-3.25zM35.7 139.03h1.75v7.56h-1.75zM38.69 139.03h1.75v7.56h-1.75zM49.19 139.03h1.75v7.56h-1.75zM101.67 139.03h1.75v7.56h-1.75zM154.15 139.03h4.75v7.56h-4.75zM160.15 139.03h1.75v7.56h-1.75zM164.65 139.03h1.75v7.56h-1.75zM173.65 139.03h1.75v7.56h-1.75zM176.64 139.03h1.75v7.56h-1.75zM179.64 139.03h1.75v7.56h-1.75zM185.64 139.03h1.75v7.56h-1.75zM221.63 139.03h1.75v7.56h-1.75zM302.6 139.03h1.75v7.56h-1.75zM307.1 139.03h3.25v7.56h-3.25zM311.6 139.03h6.25v7.56h-6.25zM443.55 139.03h1.75v7.56h-1.75zM446.55 139.03h1.75v7.56h-1.75zM451.04 139.03h1.75v7.56h-1.75zM101.67 146.3h1.75v7.56h-1.75zM155.65 146.3h1.75v7.56h-1.75zM158.65 146.3h3.25v7.56h-3.25zM163.15 146.3h1.75v7.56h-1.75zM173.65 146.3h1.75v7.56h-1.75zM176.64 146.3h1.75v7.56h-1.75zM182.64 146.3h1.75v7.56h-1.75zM199.14 146.3h1.75v7.56h-1.75zM206.63 146.3h1.75v7.56h-1.75zM335.59 146.3h1.75v7.56h-1.75zM338.59 146.3h1.75v7.56h-1.75zM389.57 146.3h1.75v7.56h-1.75zM409.06 146.3h1.75v7.56h-1.75zM446.55 146.3h1.75v7.56h-1.75zM452.54 146.3h1.75v7.56h-1.75zM481.03 146.3h1.75v7.56h-1.75zM103.17 153.56h3.25v7.56h-3.25zM271.11 153.56h1.75v7.56h-1.75zM392.57 153.56h1.75v7.56h-1.75zM448.05 153.56h1.75v7.56h-1.75zM515.52 153.56h1.75v7.56h-1.75zM38.69 160.82h1.75v7.56h-1.75zM101.67 160.82h3.25v7.56h-3.25zM112.17 160.82h1.75v7.56h-1.75zM164.65 160.82h1.75v7.56h-1.75zM179.64 160.82h1.75v7.56h-1.75zM206.63 160.82h1.75v7.56h-1.75zM211.13 160.82h1.75v7.56h-1.75zM218.63 160.82h1.75v7.56h-1.75zM298.1 160.82h1.75v7.56h-1.75zM302.6 160.82h1.75v7.56h-1.75zM305.6 160.82h1.75v7.56h-1.75zM311.6 160.82h3.25v7.56h-3.25zM385.07 160.82h1.75v7.56h-1.75zM392.57 160.82h1.75v7.56h-1.75zM421.06 160.82h1.75v7.56h-1.75zM428.55 160.82h3.25v7.56h-3.25zM434.55 160.82h4.75v7.56h-4.75zM446.55 160.82h1.75v7.56h-1.75zM452.54 160.82h1.75v7.56h-1.75zM460.04 160.82h1.75v7.56h-1.75zM41.69 168.09h1.75v7.56h-1.75zM47.69 168.09h1.75v7.56h-1.75zM58.19 168.09h1.75v7.56h-1.75zM92.67 168.09h1.75v7.56h-1.75zM163.15 168.09h3.25v7.56h-3.25zM173.65 168.09h3.25v7.56h-3.25zM184.14 168.09h4.75v7.56h-4.75zM224.63 168.09h1.75v7.56h-1.75zM227.63 168.09h1.75v7.56h-1.75zM298.1 168.09h3.25v7.56h-3.25zM302.6 168.09h1.75v7.56h-1.75zM314.59 168.09h3.25v7.56h-3.25zM329.59 168.09h1.75v7.56h-1.75zM391.07 168.09h3.25v7.56h-3.25zM449.55 168.09h1.75v7.56h-1.75zM452.54 168.09h1.75v7.56h-1.75zM467.54 168.09h1.75v7.56h-1.75zM59.69 175.35h1.75v7.56h-1.75zM104.67 175.35h1.75v7.56h-1.75zM119.66 175.35h1.75v7.56h-1.75zM170.65 175.35h1.75v7.56h-1.75zM179.64 175.35h1.75v7.56h-1.75zM184.14 175.35h1.75v7.56h-1.75zM188.64 175.35h1.75v7.56h-1.75zM211.13 175.35h1.75v7.56h-1.75zM214.13 175.35h1.75v7.56h-1.75zM229.12 175.35h1.75v7.56h-1.75zM232.12 175.35h1.75v7.56h-1.75zM235.12 175.35h1.75v7.56h-1.75zM299.6 175.35h3.25v7.56h-3.25zM305.6 175.35h1.75v7.56h-1.75zM314.59 175.35h3.25v7.56h-3.25zM335.59 175.35h1.75v7.56h-1.75zM446.55 175.35h1.75v7.56h-1.75zM493.03 175.35h1.75v7.56h-1.75zM44.69 182.61h1.75v7.56h-1.75zM100.17 182.61h3.25v7.56h-3.25zM104.67 182.61h1.75v7.56h-1.75zM166.15 182.61h1.75v7.56h-1.75zM214.13 182.61h1.75v7.56h-1.75zM92.67 189.88h1.75v7.56h-1.75zM104.67 189.88h1.75v7.56h-1.75zM130.16 189.88h1.75v7.56h-1.75zM175.14 189.88h1.75v7.56h-1.75zM179.64 189.88h1.75v7.56h-1.75zM185.64 189.88h4.75v7.56h-4.75zM211.13 189.88h1.75v7.56h-1.75zM229.12 189.88h3.25v7.56h-3.25zM299.6 189.88h1.75v7.56h-1.75zM304.1 189.88h1.75v7.56h-1.75zM308.6 189.88h3.25v7.56h-3.25zM380.57 189.88h1.75v7.56h-1.75zM446.55 189.88h1.75v7.56h-1.75zM451.04 189.88h3.25v7.56h-3.25zM491.53 189.88h1.75v7.56h-1.75zM515.52 189.88h1.75v7.56h-1.75zM53.69 197.14h1.75v7.56h-1.75zM101.67 197.14h4.75v7.56h-4.75zM176.64 197.14h1.75v7.56h-1.75zM179.64 197.14h1.75v7.56h-1.75zM184.14 197.14h1.75v7.56h-1.75zM187.14 197.14h1.75v7.56h-1.75zM190.14 197.14h1.75v7.56h-1.75zM211.13 197.14h3.25v7.56h-3.25zM220.13 197.14h1.75v7.56h-1.75zM230.62 197.14h3.25v7.56h-3.25zM235.12 197.14h1.75v7.56h-1.75zM299.6 197.14h3.25v7.56h-3.25zM304.1 197.14h1.75v7.56h-1.75zM308.6 197.14h1.75v7.56h-1.75zM313.09 197.14h4.75v7.56h-4.75zM395.56 197.14h1.75v7.56h-1.75zM449.55 197.14h3.25v7.56h-3.25zM461.54 197.14h1.75v7.56h-1.75zM493.03 197.14h1.75v7.56h-1.75zM22.2 204.4h1.75v7.56h-1.75zM101.67 204.4h3.25v7.56h-3.25zM170.65 204.4h1.75v7.56h-1.75zM175.14 204.4h1.75v7.56h-1.75zM179.64 204.4h1.75v7.56h-1.75zM209.63 204.4h3.25v7.56h-3.25zM220.13 204.4h1.75v7.56h-1.75zM230.62 204.4h1.75v7.56h-1.75zM236.62 204.4h1.75v7.56h-1.75zM302.6 204.4h1.75v7.56h-1.75zM313.09 204.4h4.75v7.56h-4.75zM335.59 204.4h1.75v7.56h-1.75zM443.55 204.4h1.75v7.56h-1.75zM446.55 204.4h3.25v7.56h-3.25zM173.65 211.67h3.25v7.56h-3.25zM178.14 211.67h1.75v7.56h-1.75zM211.13 211.67h3.25v7.56h-3.25zM220.13 211.67h3.25v7.56h-3.25zM230.62 211.67h1.75v7.56h-1.75zM302.6 211.67h1.75v7.56h-1.75zM313.09 211.67h1.75v7.56h-1.75zM380.57 211.67h1.75v7.56h-1.75zM445.05 211.67h3.25v7.56h-3.25zM449.55 211.67h1.75v7.56h-1.75zM521.52 211.67h1.75v7.56h-1.75zM32.7 218.93h1.75v7.56h-1.75zM35.7 218.93h1.75v7.56h-1.75zM100.17 218.93h1.75v7.56h-1.75zM179.64 218.93h1.75v7.56h-1.75zM212.63 218.93h1.75v7.56h-1.75zM220.13 218.93h1.75v7.56h-1.75zM229.12 218.93h1.75v7.56h-1.75zM235.12 218.93h3.25v7.56h-3.25zM299.6 218.93h1.75v7.56h-1.75zM308.6 218.93h1.75v7.56h-1.75zM391.07 218.93h1.75v7.56h-1.75zM443.55 218.93h1.75v7.56h-1.75zM452.54 218.93h1.75v7.56h-1.75zM509.52 218.93h1.75v7.56h-1.75zM62.69 226.19h3.25v7.56h-3.25zM100.17 226.19h1.75v7.56h-1.75zM103.17 226.19h1.75v7.56h-1.75zM170.65 226.19h1.75v7.56h-1.75zM173.65 226.19h1.75v7.56h-1.75zM176.64 226.19h1.75v7.56h-1.75zM179.64 226.19h1.75v7.56h-1.75zM184.14 226.19h1.75v7.56h-1.75zM188.64 226.19h1.75v7.56h-1.75zM209.63 226.19h4.75v7.56h-4.75zM232.12 226.19h1.75v7.56h-1.75zM235.12 226.19h1.75v7.56h-1.75zM311.6 226.19h1.75v7.56h-1.75zM325.09 226.19h1.75v7.56h-1.75zM379.07 226.19h1.75v7.56h-1.75zM425.55 226.19h1.75v7.56h-1.75zM475.04 226.19h1.75v7.56h-1.75zM35.7 233.46h1.75v7.56h-1.75zM104.67 233.46h1.75v7.56h-1.75zM176.64 233.46h1.75v7.56h-1.75zM184.14 233.46h1.75v7.56h-1.75zM209.63 233.46h1.75v7.56h-1.75zM229.12 233.46h4.75v7.56h-4.75zM235.12 233.46h1.75v7.56h-1.75zM302.6 233.46h3.25v7.56h-3.25zM308.6 233.46h1.75v7.56h-1.75zM311.6 233.46h1.75v7.56h-1.75zM314.59 233.46h1.75v7.56h-1.75zM382.07 233.46h1.75v7.56h-1.75zM173.65 240.72h6.25v7.56h-6.25zM181.14 240.72h1.75v7.56h-1.75zM184.14 240.72h1.75v7.56h-1.75zM188.64 240.72h1.75v7.56h-1.75zM314.59 240.72h1.75v7.56h-1.75zM443.55 240.72h3.25v7.56h-3.25zM451.04 240.72h1.75v7.56h-1.75zM467.54 240.72h1.75v7.56h-1.75zM533.51 240.72h1.75v7.56h-1.75zM542.51 240.72h1.75v7.56h-1.75zM98.67 247.98h1.75v7.56h-1.75zM101.67 247.98h1.75v7.56h-1.75zM104.67 247.98h1.75v7.56h-1.75zM179.64 247.98h1.75v7.56h-1.75zM184.14 247.98h1.75v7.56h-1.75zM211.13 247.98h1.75v7.56h-1.75zM214.13 247.98h1.75v7.56h-1.75zM236.62 247.98h1.75v7.56h-1.75zM337.09 247.98h1.75v7.56h-1.75zM400.06 247.98h1.75v7.56h-1.75zM449.55 247.98h1.75v7.56h-1.75zM479.53 247.98h1.75v7.56h-1.75zM178.14 255.25h1.75v7.56h-1.75zM184.14 255.25h1.75v7.56h-1.75zM187.14 255.25h3.25v7.56h-3.25zM332.59 255.25h1.75v7.56h-1.75zM365.58 255.25h1.75v7.56h-1.75zM446.55 255.25h1.75v7.56h-1.75zM449.55 255.25h1.75v7.56h-1.75zM452.54 255.25h1.75v7.56h-1.75zM461.54 255.25h1.75v7.56h-1.75zM529.02 255.25h1.75v7.56h-1.75zM100.17 262.51h1.75v7.56h-1.75zM103.17 262.51h1.75v7.56h-1.75zM112.17 262.51h1.75v7.56h-1.75zM175.14 262.51h3.25v7.56h-3.25zM181.14 262.51h1.75v7.56h-1.75zM184.14 262.51h3.25v7.56h-3.25zM214.13 262.51h1.75v7.56h-1.75zM220.13 262.51h1.75v7.56h-1.75zM232.12 262.51h1.75v7.56h-1.75zM299.6 262.51h3.25v7.56h-3.25zM305.6 262.51h1.75v7.56h-1.75zM310.1 262.51h1.75v7.56h-1.75zM385.07 262.51h1.75v7.56h-1.75zM428.55 262.51h1.75v7.56h-1.75zM448.05 262.51h4.75v7.56h-4.75zM458.54 262.51h1.75v7.56h-1.75zM22.2 269.77h1.75v7.56h-1.75zM40.19 269.77h1.75v7.56h-1.75zM76.18 269.77h1.75v7.56h-1.75zM100.17 269.77h1.75v7.56h-1.75zM103.17 269.77h1.75v7.56h-1.75zM170.65 269.77h1.75v7.56h-1.75zM175.14 269.77h3.25v7.56h-3.25zM209.63 269.77h3.25v7.56h-3.25zM220.13 269.77h1.75v7.56h-1.75zM299.6 269.77h3.25v7.56h-3.25zM305.6 269.77h3.25v7.56h-3.25zM310.1 269.77h1.75v7.56h-1.75zM314.59 269.77h1.75v7.56h-1.75zM443.55 269.77h1.75v7.56h-1.75zM446.55 269.77h1.75v7.56h-1.75zM452.54 269.77h1.75v7.56h-1.75zM499.03 269.77h1.75v7.56h-1.75zM551.51 269.77h1.75v7.56h-1.75zM23.7 277.04h1.75v7.56h-1.75zM59.69 277.04h1.75v7.56h-1.75zM101.67 277.04h1.75v7.56h-1.75zM166.15 277.04h1.75v7.56h-1.75zM173.65 277.04h4.75v7.56h-4.75zM179.64 277.04h1.75v7.56h-1.75zM185.64 277.04h1.75v7.56h-1.75zM221.63 277.04h1.75v7.56h-1.75zM227.63 277.04h3.25v7.56h-3.25zM232.12 277.04h1.75v7.56h-1.75zM302.6 277.04h1.75v7.56h-1.75zM308.6 277.04h3.25v7.56h-3.25zM314.59 277.04h1.75v7.56h-1.75zM448.05 277.04h4.75v7.56h-4.75zM551.51 277.04h1.75v7.56h-1.75z"/><path fill="#c0c0c8" d="M31.2 66.4h1.75v7.56h-1.75zM34.2 66.4h1.75v7.56h-1.75zM53.69 66.4h1.75v7.56h-1.75zM70.18 66.4h6.25v7.56h-6.25zM79.18 66.4h1.75v7.56h-1.75zM83.68 66.4h1.75v7.56h-1.75zM88.18 66.4h1.75v7.56h-1.75zM91.17 66.4h1.75v7.56h-1.75zM94.17 66.4h3.25v7.56h-3.25zM98.67 66.4h1.75v7.56h-1.75zM106.17 66.4h4.75v7.56h-4.75zM113.67 66.4h1.75v7.56h-1.75zM127.16 66.4h1.75v7.56h-1.75zM134.66 66.4h1.75v7.56h-1.75zM137.66 66.4h9.25v7.56h-9.25zM148.15 66.4h4.75v7.56h-4.75zM178.14 66.4h1.75v7.56h-1.75zM181.14 66.4h1.75v7.56h-1.75zM190.14 66.4h6.25v7.56h-6.25zM200.64 66.4h6.25v7.56h-6.25zM215.63 66.4h3.25v7.56h-3.25zM223.13 66.4h1.75v7.56h-1.75zM238.12 66.4h4.75v7.56h-4.75zM245.62 66.4h1.75v7.56h-1.75zM248.62 66.4h3.25v7.56h-3.25zM257.61 66.4h3.25v7.56h-3.25zM262.11 66.4h7.75v7.56h-7.75zM274.11 66.4h3.25v7.56h-3.25zM286.1 66.4h1.75v7.56h-1.75zM290.6 66.4h6.25v7.56h-6.25zM322.09 66.4h1.75v7.56h-1.75zM331.09 66.4h1.75v7.56h-1.75zM334.09 66.4h1.75v7.56h-1.75zM341.58 66.4h1.75v7.56h-1.75zM344.58 66.4h10.75v7.56h-10.75zM356.58 66.4h1.75v7.56h-1.75zM362.58 66.4h1.75v7.56h-1.75zM367.07 66.4h1.75v7.56h-1.75zM373.07 66.4h6.25v7.56h-6.25zM395.56 66.4h4.75v7.56h-4.75zM401.56 66.4h1.75v7.56h-1.75zM406.06 66.4h1.75v7.56h-1.75zM413.56 66.4h1.75v7.56h-1.75zM439.05 66.4h4.75v7.56h-4.75zM445.05 66.4h1.75v7.56h-1.75zM454.04 66.4h3.25v7.56h-3.25zM463.04 66.4h4.75v7.56h-4.75zM494.53 66.4h1.75v7.56h-1.75zM497.53 66.4h1.75v7.56h-1.75zM514.02 66.4h1.75v7.56h-1.75zM518.52 66.4h3.25v7.56h-3.25zM523.02 66.4h3.25v7.56h-3.25zM530.52 66.4h3.25v7.56h-3.25zM536.51 66.4h4.75v7.56h-4.75zM544.01 66.4h1.75v7.56h-1.75zM550.01 66.4h1.75v7.56h-1.75zM553.01 66.4h1.75v7.56h-1.75zM562 66.4h3.25v7.56h-3.25zM566.5 66.4h7.75v7.56h-7.75zM31.2 73.66h1.75v7.56h-1.75zM34.2 73.66h1.75v7.56h-1.75zM71.68 73.66h4.75v7.56h-4.75zM83.68 73.66h1.75v7.56h-1.75zM94.17 73.66h3.25v7.56h-3.25zM98.67 73.66h1.75v7.56h-1.75zM106.17 73.66h4.75v7.56h-4.75zM113.67 73.66h3.25v7.56h-3.25zM118.17 73.66h1.75v7.56h-1.75zM122.66 73.66h3.25v7.56h-3.25zM127.16 73.66h1.75v7.56h-1.75zM134.66 73.66h12.25v7.56h-12.25zM148.15 73.66h4.75v7.56h-4.75zM181.14 73.66h1.75v7.56h-1.75zM190.14 73.66h6.25v7.56h-6.25zM200.64 73.66h6.25v7.56h-6.25zM215.63 73.66h3.25v7.56h-3.25zM238.12 73.66h6.25v7.56h-6.25zM245.62 73.66h1.75v7.56h-1.75zM248.62 73.66h4.75v7.56h-4.75zM254.62 73.66h1.75v7.56h-1.75zM257.61 73.66h3.25v7.56h-3.25zM262.11 73.66h7.75v7.56h-7.75zM272.61 73.66h4.75v7.56h-4.75zM286.1 73.66h1.75v7.56h-1.75zM290.6 73.66h1.75v7.56h-1.75zM293.6 73.66h3.25v7.56h-3.25zM317.59 73.66h1.75v7.56h-1.75zM322.09 73.66h1.75v7.56h-1.75zM331.09 73.66h1.75v7.56h-1.75zM344.58 73.66h10.75v7.56h-10.75zM361.08 73.66h3.25v7.56h-3.25zM373.07 73.66h6.25v7.56h-6.25zM412.06 73.66h3.25v7.56h-3.25zM439.05 73.66h4.75v7.56h-4.75zM454.04 73.66h1.75v7.56h-1.75zM463.04 73.66h4.75v7.56h-4.75zM490.03 73.66h1.75v7.56h-1.75zM494.53 73.66h4.75v7.56h-4.75zM500.53 73.66h3.25v7.56h-3.25zM505.02 73.66h3.25v7.56h-3.25zM511.02 73.66h1.75v7.56h-1.75zM514.02 73.66h1.75v7.56h-1.75zM517.02 73.66h1.75v7.56h-1.75zM520.02 73.66h1.75v7.56h-1.75zM523.02 73.66h1.75v7.56h-1.75zM530.52 73.66h3.25v7.56h-3.25zM538.01 73.66h4.75v7.56h-4.75zM550.01 73.66h1.75v7.56h-1.75zM553.01 73.66h1.75v7.56h-1.75zM557.51 73.66h1.75v7.56h-1.75zM562 73.66h3.25v7.56h-3.25zM566.5 73.66h7.75v7.56h-7.75zM31.2 80.93h1.75v7.56h-1.75zM34.2 80.93h1.75v7.56h-1.75zM53.69 80.93h1.75v7.56h-1.75zM71.68 80.93h3.25v7.56h-3.25zM79.18 80.93h1.75v7.56h-1.75zM83.68 80.93h1.75v7.56h-1.75zM88.18 80.93h1.75v7.56h-1.75zM94.17 80.93h3.25v7.56h-3.25zM98.67 80.93h1.75v7.56h-1.75zM106.17 80.93h4.75v7.56h-4.75zM113.67 80.93h3.25v7.56h-3.25zM127.16 80.93h1.75v7.56h-1.75zM134.66 80.93h12.25v7.56h-12.25zM148.15 80.93h4.75v7.56h-4.75zM181.14 80.93h1.75v7.56h-1.75zM190.14 80.93h6.25v7.56h-6.25zM200.64 80.93h6.25v7.56h-6.25zM215.63 80.93h3.25v7.56h-3.25zM223.13 80.93h1.75v7.56h-1.75zM238.12 80.93h6.25v7.56h-6.25zM245.62 80.93h1.75v7.56h-1.75zM250.12 80.93h1.75v7.56h-1.75zM254.62 80.93h1.75v7.56h-1.75zM257.61 80.93h3.25v7.56h-3.25zM262.11 80.93h7.75v7.56h-7.75zM274.11 80.93h3.25v7.56h-3.25zM284.6 80.93h3.25v7.56h-3.25zM292.1 80.93h4.75v7.56h-4.75zM317.59 80.93h1.75v7.56h-1.75zM320.59 80.93h1.75v7.56h-1.75zM331.09 80.93h1.75v7.56h-1.75zM334.09 80.93h1.75v7.56h-1.75zM344.58 80.93h10.75v7.56h-10.75zM361.08 80.93h3.25v7.56h-3.25zM373.07 80.93h6.25v7.56h-6.25zM386.57 80.93h1.75v7.56h-1.75zM395.56 80.93h4.75v7.56h-4.75zM401.56 80.93h1.75v7.56h-1.75zM413.56 80.93h1.75v7.56h-1.75zM439.05 80.93h4.75v7.56h-4.75zM454.04 80.93h1.75v7.56h-1.75zM463.04 80.93h4.75v7.56h-4.75zM482.53 80.93h1.75v7.56h-1.75zM490.03 80.93h1.75v7.56h-1.75zM494.53 80.93h3.25v7.56h-3.25zM500.53 80.93h3.25v7.56h-3.25zM505.02 80.93h3.25v7.56h-3.25zM511.02 80.93h1.75v7.56h-1.75zM514.02 80.93h6.25v7.56h-6.25zM521.52 80.93h4.75v7.56h-4.75zM527.52 80.93h6.25v7.56h-6.25zM538.01 80.93h3.25v7.56h-3.25zM544.01 80.93h1.75v7.56h-1.75zM550.01 80.93h1.75v7.56h-1.75zM557.51 80.93h1.75v7.56h-1.75zM566.5 80.93h7.75v7.56h-7.75zM31.2 88.19h1.75v7.56h-1.75zM34.2 88.19h1.75v7.56h-1.75zM53.69 88.19h1.75v7.56h-1.75zM71.68 88.19h4.75v7.56h-4.75zM79.18 88.19h1.75v7.56h-1.75zM83.68 88.19h3.25v7.56h-3.25zM88.18 88.19h1.75v7.56h-1.75zM92.67 88.19h4.75v7.56h-4.75zM103.17 88.19h1.75v7.56h-1.75zM106.17 88.19h4.75v7.56h-4.75zM113.67 88.19h1.75v7.56h-1.75zM127.16 88.19h1.75v7.56h-1.75zM134.66 88.19h12.25v7.56h-12.25zM148.15 88.19h4.75v7.56h-4.75zM169.15 88.19h3.25v7.56h-3.25zM175.14 88.19h1.75v7.56h-1.75zM181.14 88.19h1.75v7.56h-1.75zM190.14 88.19h6.25v7.56h-6.25zM238.12 88.19h3.25v7.56h-3.25zM245.62 88.19h1.75v7.56h-1.75zM248.62 88.19h3.25v7.56h-3.25zM254.62 88.19h1.75v7.56h-1.75zM257.61 88.19h3.25v7.56h-3.25zM262.11 88.19h7.75v7.56h-7.75zM271.11 88.19h1.75v7.56h-1.75zM274.11 88.19h3.25v7.56h-3.25zM286.1 88.19h1.75v7.56h-1.75zM290.6 88.19h1.75v7.56h-1.75zM293.6 88.19h3.25v7.56h-3.25zM308.6 88.19h1.75v7.56h-1.75zM317.59 88.19h1.75v7.56h-1.75zM322.09 88.19h1.75v7.56h-1.75zM334.09 88.19h1.75v7.56h-1.75zM346.08 88.19h9.25v7.56h-9.25zM361.08 88.19h3.25v7.56h-3.25zM373.07 88.19h6.25v7.56h-6.25zM391.07 88.19h1.75v7.56h-1.75zM395.56 88.19h4.75v7.56h-4.75zM406.06 88.19h1.75v7.56h-1.75zM412.06 88.19h3.25v7.56h-3.25zM439.05 88.19h4.75v7.56h-4.75zM454.04 88.19h1.75v7.56h-1.75zM463.04 88.19h4.75v7.56h-4.75zM494.53 88.19h3.25v7.56h-3.25zM499.03 88.19h4.75v7.56h-4.75zM505.02 88.19h7.75v7.56h-7.75zM514.02 88.19h1.75v7.56h-1.75zM517.02 88.19h1.75v7.56h-1.75zM520.02 88.19h1.75v7.56h-1.75zM523.02 88.19h3.25v7.56h-3.25zM530.52 88.19h3.25v7.56h-3.25zM538.01 88.19h3.25v7.56h-3.25zM544.01 88.19h1.75v7.56h-1.75zM550.01 88.19h1.75v7.56h-1.75zM553.01 88.19h1.75v7.56h-1.75zM556.01 88.19h3.25v7.56h-3.25zM562 88.19h3.25v7.56h-3.25zM566.5 88.19h7.75v7.56h-7.75zM31.2 95.45h1.75v7.56h-1.75zM34.2 95.45h1.75v7.56h-1.75zM71.68 95.45h4.75v7.56h-4.75zM79.18 95.45h1.75v7.56h-1.75zM83.68 95.45h1.75v7.56h-1.75zM88.18 95.45h1.75v7.56h-1.75zM92.67 95.45h7.75v7.56h-7.75zM106.17 95.45h4.75v7.56h-4.75zM113.67 95.45h3.25v7.56h-3.25zM127.16 95.45h1.75v7.56h-1.75zM134.66 95.45h12.25v7.56h-12.25zM148.15 95.45h4.75v7.56h-4.75zM181.14 95.45h1.75v7.56h-1.75zM190.14 95.45h6.25v7.56h-6.25zM200.64 95.45h6.25v7.56h-6.25zM211.13 95.45h1.75v7.56h-1.75zM215.63 95.45h3.25v7.56h-3.25zM223.13 95.45h1.75v7.56h-1.75zM245.62 95.45h1.75v7.56h-1.75zM248.62 95.45h3.25v7.56h-3.25zM254.62 95.45h1.75v7.56h-1.75zM257.61 95.45h3.25v7.56h-3.25zM262.11 95.45h7.75v7.56h-7.75zM271.11 95.45h1.75v7.56h-1.75zM274.11 95.45h1.75v7.56h-1.75zM286.1 95.45h1.75v7.56h-1.75zM290.6 95.45h1.75v7.56h-1.75zM293.6 95.45h3.25v7.56h-3.25zM317.59 95.45h3.25v7.56h-3.25zM322.09 95.45h3.25v7.56h-3.25zM331.09 95.45h1.75v7.56h-1.75zM344.58 95.45h10.75v7.56h-10.75zM361.08 95.45h4.75v7.56h-4.75zM373.07 95.45h6.25v7.56h-6.25zM394.07 95.45h6.25v7.56h-6.25zM401.56 95.45h1.75v7.56h-1.75zM413.56 95.45h1.75v7.56h-1.75zM436.05 95.45h1.75v7.56h-1.75zM439.05 95.45h6.25v7.56h-6.25zM454.04 95.45h1.75v7.56h-1.75zM463.04 95.45h4.75v7.56h-4.75zM482.53 95.45h1.75v7.56h-1.75zM490.03 95.45h1.75v7.56h-1.75zM494.53 95.45h4.75v7.56h-4.75zM500.53 95.45h3.25v7.56h-3.25zM505.02 95.45h3.25v7.56h-3.25zM511.02 95.45h1.75v7.56h-1.75zM514.02 95.45h1.75v7.56h-1.75zM517.02 95.45h4.75v7.56h-4.75zM524.52 95.45h1.75v7.56h-1.75zM529.02 95.45h6.25v7.56h-6.25zM538.01 95.45h4.75v7.56h-4.75zM544.01 95.45h1.75v7.56h-1.75zM550.01 95.45h1.75v7.56h-1.75zM553.01 95.45h1.75v7.56h-1.75zM557.51 95.45h3.25v7.56h-3.25zM562 95.45h3.25v7.56h-3.25zM566.5 95.45h7.75v7.56h-7.75zM31.2 102.72h1.75v7.56h-1.75zM34.2 102.72h1.75v7.56h-1.75zM71.68 102.72h4.75v7.56h-4.75zM79.18 102.72h3.25v7.56h-3.25zM83.68 102.72h1.75v7.56h-1.75zM88.18 102.72h1.75v7.56h-1.75zM94.17 102.72h3.25v7.56h-3.25zM98.67 102.72h1.75v7.56h-1.75zM106.17 102.72h4.75v7.56h-4.75zM127.16 102.72h1.75v7.56h-1.75zM136.16 102.72h10.75v7.56h-10.75zM148.15 102.72h4.75v7.56h-4.75zM181.14 102.72h1.75v7.56h-1.75zM190.14 102.72h6.25v7.56h-6.25zM200.64 102.72h6.25v7.56h-6.25zM215.63 102.72h3.25v7.56h-3.25zM223.13 102.72h1.75v7.56h-1.75zM238.12 102.72h4.75v7.56h-4.75zM245.62 102.72h1.75v7.56h-1.75zM248.62 102.72h3.25v7.56h-3.25zM254.62 102.72h6.25v7.56h-6.25zM262.11 102.72h7.75v7.56h-7.75zM272.61 102.72h4.75v7.56h-4.75zM278.61 102.72h3.25v7.56h-3.25zM286.1 102.72h1.75v7.56h-1.75zM290.6 102.72h6.25v7.56h-6.25zM313.09 102.72h1.75v7.56h-1.75zM344.58 102.72h10.75v7.56h-10.75zM361.08 102.72h3.25v7.56h-3.25zM373.07 102.72h6.25v7.56h-6.25zM395.56 102.72h4.75v7.56h-4.75zM413.56 102.72h1.75v7.56h-1.75zM439.05 102.72h4.75v7.56h-4.75zM454.04 102.72h3.25v7.56h-3.25zM463.04 102.72h4.75v7.56h-4.75zM469.04 102.72h1.75v7.56h-1.75zM487.03 102.72h1.75v7.56h-1.75zM490.03 102.72h1.75v7.56h-1.75zM494.53 102.72h4.75v7.56h-4.75zM500.53 102.72h1.75v7.56h-1.75zM506.52 102.72h1.75v7.56h-1.75zM511.02 102.72h1.75v7.56h-1.75zM514.02 102.72h1.75v7.56h-1.75zM517.02 102.72h4.75v7.56h-4.75zM523.02 102.72h3.25v7.56h-3.25zM530.52 102.72h3.25v7.56h-3.25zM538.01 102.72h1.75v7.56h-1.75zM542.51 102.72h3.25v7.56h-3.25zM548.51 102.72h6.25v7.56h-6.25zM562 102.72h3.25v7.56h-3.25zM566.5 102.72h7.75v7.56h-7.75zM22.2 109.98h1.75v7.56h-1.75zM25.2 109.98h3.25v7.56h-3.25zM34.2 109.98h1.75v7.56h-1.75zM71.68 109.98h3.25v7.56h-3.25zM76.18 109.98h1.75v7.56h-1.75zM88.18 109.98h3.25v7.56h-3.25zM94.17 109.98h3.25v7.56h-3.25zM107.67 109.98h3.25v7.56h-3.25zM113.67 109.98h1.75v7.56h-1.75zM127.16 109.98h3.25v7.56h-3.25zM134.66 109.98h12.25v7.56h-12.25zM148.15 109.98h4.75v7.56h-4.75zM190.14 109.98h6.25v7.56h-6.25zM200.64 109.98h6.25v7.56h-6.25zM215.63 109.98h3.25v7.56h-3.25zM223.13 109.98h1.75v7.56h-1.75zM238.12 109.98h6.25v7.56h-6.25zM245.62 109.98h1.75v7.56h-1.75zM250.12 109.98h1.75v7.56h-1.75zM253.12 109.98h3.25v7.56h-3.25zM328.09 109.98h1.75v7.56h-1.75zM331.09 109.98h1.75v7.56h-1.75zM334.09 109.98h1.75v7.56h-1.75zM341.58 109.98h1.75v7.56h-1.75zM344.58 109.98h10.75v7.56h-10.75zM373.07 109.98h6.25v7.56h-6.25zM382.07 109.98h1.75v7.56h-1.75zM388.07 109.98h1.75v7.56h-1.75zM395.56 109.98h4.75v7.56h-4.75zM401.56 109.98h1.75v7.56h-1.75zM406.06 109.98h1.75v7.56h-1.75zM439.05 109.98h4.75v7.56h-4.75zM454.04 109.98h1.75v7.56h-1.75zM463.04 109.98h4.75v7.56h-4.75zM478.03 109.98h1.75v7.56h-1.75zM488.53 109.98h3.25v7.56h-3.25zM494.53 109.98h3.25v7.56h-3.25zM500.53 109.98h3.25v7.56h-3.25zM505.02 109.98h3.25v7.56h-3.25zM511.02 109.98h1.75v7.56h-1.75zM514.02 109.98h1.75v7.56h-1.75zM517.02 109.98h4.75v7.56h-4.75zM523.02 109.98h3.25v7.56h-3.25zM530.52 109.98h3.25v7.56h-3.25zM538.01 109.98h3.25v7.56h-3.25zM544.01 109.98h1.75v7.56h-1.75zM550.01 109.98h1.75v7.56h-1.75zM553.01 109.98h1.75v7.56h-1.75zM557.51 109.98h1.75v7.56h-1.75zM562 109.98h3.25v7.56h-3.25zM566.5 109.98h7.75v7.56h-7.75zM23.7 117.24h4.75v7.56h-4.75zM29.7 117.24h3.25v7.56h-3.25zM34.2 117.24h1.75v7.56h-1.75zM37.19 117.24h3.25v7.56h-3.25zM41.69 117.24h1.75v7.56h-1.75zM44.69 117.24h3.25v7.56h-3.25zM49.19 117.24h3.25v7.56h-3.25zM53.69 117.24h3.25v7.56h-3.25zM59.69 117.24h1.75v7.56h-1.75zM62.69 117.24h4.75v7.56h-4.75zM71.68 117.24h7.75v7.56h-7.75zM82.18 117.24h1.75v7.56h-1.75zM89.68 117.24h3.25v7.56h-3.25zM94.17 117.24h3.25v7.56h-3.25zM106.17 117.24h4.75v7.56h-4.75zM113.67 117.24h1.75v7.56h-1.75zM118.17 117.24h1.75v7.56h-1.75zM130.16 117.24h1.75v7.56h-1.75zM136.16 117.24h10.75v7.56h-10.75zM148.15 117.24h4.75v7.56h-4.75zM160.15 117.24h1.75v7.56h-1.75zM181.14 117.24h1.75v7.56h-1.75zM190.14 117.24h6.25v7.56h-6.25zM200.64 117.24h3.25v7.56h-3.25zM205.13 117.24h1.75v7.56h-1.75zM215.63 117.24h3.25v7.56h-3.25zM238.12 117.24h6.25v7.56h-6.25zM245.62 117.24h1.75v7.56h-1.75zM248.62 117.24h3.25v7.56h-3.25zM254.62 117.24h1.75v7.56h-1.75zM257.61 117.24h3.25v7.56h-3.25zM262.11 117.24h7.75v7.56h-7.75zM274.11 117.24h1.75v7.56h-1.75zM286.1 117.24h1.75v7.56h-1.75zM290.6 117.24h4.75v7.56h-4.75zM316.09 117.24h4.75v7.56h-4.75zM322.09 117.24h3.25v7.56h-3.25zM328.09 117.24h1.75v7.56h-1.75zM331.09 117.24h1.75v7.56h-1.75zM346.08 117.24h9.25v7.56h-9.25zM361.08 117.24h1.75v7.56h-1.75zM373.07 117.24h6.25v7.56h-6.25zM395.56 117.24h4.75v7.56h-4.75zM413.56 117.24h1.75v7.56h-1.75zM439.05 117.24h4.75v7.56h-4.75zM454.04 117.24h3.25v7.56h-3.25zM463.04 117.24h4.75v7.56h-4.75zM490.03 117.24h1.75v7.56h-1.75zM494.53 117.24h4.75v7.56h-4.75zM500.53 117.24h3.25v7.56h-3.25zM505.02 117.24h3.25v7.56h-3.25zM511.02 117.24h1.75v7.56h-1.75zM514.02 117.24h3.25v7.56h-3.25zM520.02 117.24h1.75v7.56h-1.75zM523.02 117.24h1.75v7.56h-1.75zM530.52 117.24h3.25v7.56h-3.25zM538.01 117.24h3.25v7.56h-3.25zM550.01 117.24h1.75v7.56h-1.75zM553.01 117.24h1.75v7.56h-1.75zM557.51 117.24h1.75v7.56h-1.75zM562 117.24h3.25v7.56h-3.25zM566.5 117.24h7.75v7.56h-7.75zM31.2 124.51h1.75v7.56h-1.75zM34.2 124.51h1.75v7.56h-1.75zM53.69 124.51h1.75v7.56h-1.75zM71.68 124.51h4.75v7.56h-4.75zM77.68 124.51h3.25v7.56h-3.25zM91.17 124.51h1.75v7.56h-1.75zM94.17 124.51h3.25v7.56h-3.25zM98.67 124.51h1.75v7.56h-1.75zM106.17 124.51h4.75v7.56h-4.75zM113.67 124.51h1.75v7.56h-1.75zM121.16 124.51h1.75v7.56h-1.75zM127.16 124.51h3.25v7.56h-3.25zM131.66 124.51h1.75v7.56h-1.75zM134.66 124.51h1.75v7.56h-1.75zM137.66 124.51h7.75v7.56h-7.75zM148.15 124.51h6.25v7.56h-6.25zM181.14 124.51h1.75v7.56h-1.75zM190.14 124.51h4.75v7.56h-4.75zM200.64 124.51h6.25v7.56h-6.25zM215.63 124.51h3.25v7.56h-3.25zM223.13 124.51h1.75v7.56h-1.75zM227.63 124.51h1.75v7.56h-1.75zM238.12 124.51h6.25v7.56h-6.25zM245.62 124.51h1.75v7.56h-1.75zM248.62 124.51h1.75v7.56h-1.75zM253.12 124.51h3.25v7.56h-3.25zM257.61 124.51h3.25v7.56h-3.25zM262.11 124.51h7.75v7.56h-7.75zM271.11 124.51h1.75v7.56h-1.75zM274.11 124.51h1.75v7.56h-1.75zM281.61 124.51h1.75v7.56h-1.75zM286.1 124.51h1.75v7.56h-1.75zM290.6 124.51h1.75v7.56h-1.75zM293.6 124.51h3.25v7.56h-3.25zM302.6 124.51h1.75v7.56h-1.75zM317.59 124.51h1.75v7.56h-1.75zM322.09 124.51h1.75v7.56h-1.75zM328.09 124.51h1.75v7.56h-1.75zM331.09 124.51h1.75v7.56h-1.75zM334.09 124.51h1.75v7.56h-1.75zM340.08 124.51h1.75v7.56h-1.75zM373.07 124.51h6.25v7.56h-6.25zM382.07 124.51h1.75v7.56h-1.75zM395.56 124.51h4.75v7.56h-4.75zM401.56 124.51h1.75v7.56h-1.75zM412.06 124.51h3.25v7.56h-3.25zM437.55 124.51h6.25v7.56h-6.25zM454.04 124.51h1.75v7.56h-1.75zM463.04 124.51h4.75v7.56h-4.75zM473.54 124.51h1.75v7.56h-1.75zM490.03 124.51h1.75v7.56h-1.75zM494.53 124.51h1.75v7.56h-1.75zM500.53 124.51h7.75v7.56h-7.75zM511.02 124.51h6.25v7.56h-6.25zM518.52 124.51h3.25v7.56h-3.25zM524.52 124.51h3.25v7.56h-3.25zM530.52 124.51h3.25v7.56h-3.25zM535.01 124.51h1.75v7.56h-1.75zM538.01 124.51h3.25v7.56h-3.25zM544.01 124.51h1.75v7.56h-1.75zM553.01 124.51h1.75v7.56h-1.75zM557.51 124.51h1.75v7.56h-1.75zM562 124.51h3.25v7.56h-3.25zM566.5 124.51h3.25v7.56h-3.25zM571 124.51h3.25v7.56h-3.25zM22.2 131.77h3.25v7.56h-3.25zM26.7 131.77h9.25v7.56h-9.25zM38.69 131.77h10.75v7.56h-10.75zM53.69 131.77h1.75v7.56h-1.75zM56.69 131.77h3.25v7.56h-3.25zM65.68 131.77h4.75v7.56h-4.75zM71.68 131.77h1.75v7.56h-1.75zM76.18 131.77h4.75v7.56h-4.75zM86.68 131.77h4.75v7.56h-4.75zM92.67 131.77h4.75v7.56h-4.75zM98.67 131.77h1.75v7.56h-1.75zM106.17 131.77h4.75v7.56h-4.75zM113.67 131.77h1.75v7.56h-1.75zM127.16 131.77h1.75v7.56h-1.75zM134.66 131.77h12.25v7.56h-12.25zM148.15 131.77h4.75v7.56h-4.75zM154.15 131.77h1.75v7.56h-1.75zM181.14 131.77h1.75v7.56h-1.75zM190.14 131.77h6.25v7.56h-6.25zM200.64 131.77h6.25v7.56h-6.25zM215.63 131.77h3.25v7.56h-3.25zM223.13 131.77h1.75v7.56h-1.75zM238.12 131.77h6.25v7.56h-6.25zM245.62 131.77h6.25v7.56h-6.25zM254.62 131.77h1.75v7.56h-1.75zM257.61 131.77h15.24v7.56h-15.24zM280.11 131.77h6.25v7.56h-6.25zM287.6 131.77h1.75v7.56h-1.75zM290.6 131.77h1.75v7.56h-1.75zM293.6 131.77h4.75v7.56h-4.75zM301.1 131.77h1.75v7.56h-1.75zM317.59 131.77h1.75v7.56h-1.75zM322.09 131.77h1.75v7.56h-1.75zM326.59 131.77h1.75v7.56h-1.75zM331.09 131.77h1.75v7.56h-1.75zM334.09 131.77h1.75v7.56h-1.75zM344.58 131.77h10.75v7.56h-10.75zM361.08 131.77h3.25v7.56h-3.25zM367.07 131.77h1.75v7.56h-1.75zM370.07 131.77h9.25v7.56h-9.25zM395.56 131.77h7.75v7.56h-7.75zM406.06 131.77h1.75v7.56h-1.75zM413.56 131.77h1.75v7.56h-1.75zM416.56 131.77h1.75v7.56h-1.75zM439.05 131.77h4.75v7.56h-4.75zM454.04 131.77h1.75v7.56h-1.75zM463.04 131.77h4.75v7.56h-4.75zM499.03 131.77h4.75v7.56h-4.75zM505.02 131.77h3.25v7.56h-3.25zM512.52 131.77h3.25v7.56h-3.25zM517.02 131.77h1.75v7.56h-1.75zM520.02 131.77h1.75v7.56h-1.75zM523.02 131.77h3.25v7.56h-3.25zM529.02 131.77h6.25v7.56h-6.25zM538.01 131.77h4.75v7.56h-4.75zM544.01 131.77h1.75v7.56h-1.75zM550.01 131.77h1.75v7.56h-1.75zM553.01 131.77h1.75v7.56h-1.75zM557.51 131.77h1.75v7.56h-1.75zM562 131.77h3.25v7.56h-3.25zM566.5 131.77h6.25v7.56h-6.25zM31.2 139.03h1.75v7.56h-1.75zM34.2 139.03h1.75v7.56h-1.75zM53.69 139.03h1.75v7.56h-1.75zM64.18 139.03h1.75v7.56h-1.75zM71.68 139.03h4.75v7.56h-4.75zM79.18 139.03h1.75v7.56h-1.75zM83.68 139.03h1.75v7.56h-1.75zM88.18 139.03h1.75v7.56h-1.75zM94.17 139.03h3.25v7.56h-3.25zM98.67 139.03h1.75v7.56h-1.75zM106.17 139.03h4.75v7.56h-4.75zM113.67 139.03h1.75v7.56h-1.75zM127.16 139.03h1.75v7.56h-1.75zM134.66 139.03h12.25v7.56h-12.25zM149.65 139.03h3.25v7.56h-3.25zM190.14 139.03h6.25v7.56h-6.25zM200.64 139.03h6.25v7.56h-6.25zM215.63 139.03h3.25v7.56h-3.25zM223.13 139.03h1.75v7.56h-1.75zM238.12 139.03h6.25v7.56h-6.25zM245.62 139.03h1.75v7.56h-1.75zM248.62 139.03h3.25v7.56h-3.25zM254.62 139.03h1.75v7.56h-1.75zM257.61 139.03h12.25v7.56h-12.25zM275.61 139.03h1.75v7.56h-1.75zM278.61 139.03h1.75v7.56h-1.75zM283.11 139.03h3.25v7.56h-3.25zM287.6 139.03h3.25v7.56h-3.25zM292.1 139.03h3.25v7.56h-3.25zM317.59 139.03h1.75v7.56h-1.75zM322.09 139.03h1.75v7.56h-1.75zM325.09 139.03h1.75v7.56h-1.75zM331.09 139.03h4.75v7.56h-4.75zM344.58 139.03h10.75v7.56h-10.75zM361.08 139.03h3.25v7.56h-3.25zM395.56 139.03h4.75v7.56h-4.75zM401.56 139.03h1.75v7.56h-1.75zM409.06 139.03h1.75v7.56h-1.75zM412.06 139.03h3.25v7.56h-3.25zM439.05 139.03h1.75v7.56h-1.75zM442.05 139.03h1.75v7.56h-1.75zM454.04 139.03h1.75v7.56h-1.75zM463.04 139.03h4.75v7.56h-4.75zM485.53 139.03h1.75v7.56h-1.75zM490.03 139.03h1.75v7.56h-1.75zM494.53 139.03h4.75v7.56h-4.75zM500.53 139.03h3.25v7.56h-3.25zM511.02 139.03h1.75v7.56h-1.75zM514.02 139.03h1.75v7.56h-1.75zM517.02 139.03h1.75v7.56h-1.75zM520.02 139.03h1.75v7.56h-1.75zM523.02 139.03h3.25v7.56h-3.25zM530.52 139.03h3.25v7.56h-3.25zM535.01 139.03h1.75v7.56h-1.75zM538.01 139.03h3.25v7.56h-3.25zM544.01 139.03h1.75v7.56h-1.75zM548.51 139.03h1.75v7.56h-1.75zM553.01 139.03h1.75v7.56h-1.75zM557.51 139.03h1.75v7.56h-1.75zM562 139.03h3.25v7.56h-3.25zM566.5 139.03h7.75v7.56h-7.75zM34.2 146.3h1.75v7.56h-1.75zM53.69 146.3h1.75v7.56h-1.75zM67.18 146.3h1.75v7.56h-1.75zM71.68 146.3h3.25v7.56h-3.25zM79.18 146.3h1.75v7.56h-1.75zM94.17 146.3h6.25v7.56h-6.25zM106.17 146.3h4.75v7.56h-4.75zM113.67 146.3h1.75v7.56h-1.75zM116.67 146.3h1.75v7.56h-1.75zM122.66 146.3h1.75v7.56h-1.75zM127.16 146.3h1.75v7.56h-1.75zM134.66 146.3h9.25v7.56h-9.25zM200.64 146.3h6.25v7.56h-6.25zM215.63 146.3h3.25v7.56h-3.25zM223.13 146.3h1.75v7.56h-1.75zM238.12 146.3h6.25v7.56h-6.25zM245.62 146.3h1.75v7.56h-1.75zM248.62 146.3h4.75v7.56h-4.75zM254.62 146.3h1.75v7.56h-1.75zM257.61 146.3h3.25v7.56h-3.25zM262.11 146.3h10.75v7.56h-10.75zM274.11 146.3h1.75v7.56h-1.75zM280.11 146.3h1.75v7.56h-1.75zM283.11 146.3h1.75v7.56h-1.75zM286.1 146.3h3.25v7.56h-3.25zM292.1 146.3h1.75v7.56h-1.75zM317.59 146.3h1.75v7.56h-1.75zM322.09 146.3h1.75v7.56h-1.75zM331.09 146.3h1.75v7.56h-1.75zM334.09 146.3h1.75v7.56h-1.75zM344.58 146.3h10.75v7.56h-10.75zM362.58 146.3h3.25v7.56h-3.25zM373.07 146.3h6.25v7.56h-6.25zM395.56 146.3h4.75v7.56h-4.75zM401.56 146.3h1.75v7.56h-1.75zM406.06 146.3h1.75v7.56h-1.75zM413.56 146.3h1.75v7.56h-1.75zM439.05 146.3h4.75v7.56h-4.75zM455.54 146.3h1.75v7.56h-1.75zM463.04 146.3h4.75v7.56h-4.75zM472.04 146.3h1.75v7.56h-1.75zM490.03 146.3h3.25v7.56h-3.25zM494.53 146.3h4.75v7.56h-4.75zM500.53 146.3h3.25v7.56h-3.25zM506.52 146.3h1.75v7.56h-1.75zM511.02 146.3h1.75v7.56h-1.75zM514.02 146.3h1.75v7.56h-1.75zM517.02 146.3h4.75v7.56h-4.75zM523.02 146.3h3.25v7.56h-3.25zM530.52 146.3h3.25v7.56h-3.25zM536.51 146.3h4.75v7.56h-4.75zM544.01 146.3h1.75v7.56h-1.75zM550.01 146.3h1.75v7.56h-1.75zM553.01 146.3h3.25v7.56h-3.25zM557.51 146.3h1.75v7.56h-1.75zM562 146.3h3.25v7.56h-3.25zM566.5 146.3h7.75v7.56h-7.75zM31.2 153.56h1.75v7.56h-1.75zM46.19 153.56h3.25v7.56h-3.25zM53.69 153.56h1.75v7.56h-1.75zM71.68 153.56h4.75v7.56h-4.75zM79.18 153.56h1.75v7.56h-1.75zM83.68 153.56h1.75v7.56h-1.75zM94.17 153.56h6.25v7.56h-6.25zM106.17 153.56h4.75v7.56h-4.75zM113.67 153.56h1.75v7.56h-1.75zM127.16 153.56h1.75v7.56h-1.75zM130.16 153.56h3.25v7.56h-3.25zM190.14 153.56h6.25v7.56h-6.25zM200.64 153.56h6.25v7.56h-6.25zM215.63 153.56h3.25v7.56h-3.25zM238.12 153.56h6.25v7.56h-6.25zM245.62 153.56h1.75v7.56h-1.75zM248.62 153.56h3.25v7.56h-3.25zM254.62 153.56h1.75v7.56h-1.75zM259.11 153.56h10.75v7.56h-10.75zM272.61 153.56h12.25v7.56h-12.25zM287.6 153.56h1.75v7.56h-1.75zM293.6 153.56h1.75v7.56h-1.75zM304.1 153.56h1.75v7.56h-1.75zM317.59 153.56h1.75v7.56h-1.75zM328.09 153.56h1.75v7.56h-1.75zM331.09 153.56h1.75v7.56h-1.75zM334.09 153.56h1.75v7.56h-1.75zM341.58 153.56h1.75v7.56h-1.75zM344.58 153.56h10.75v7.56h-10.75zM361.08 153.56h1.75v7.56h-1.75zM373.07 153.56h6.25v7.56h-6.25zM391.07 153.56h1.75v7.56h-1.75zM395.56 153.56h4.75v7.56h-4.75zM401.56 153.56h1.75v7.56h-1.75zM404.56 153.56h3.25v7.56h-3.25zM413.56 153.56h1.75v7.56h-1.75zM439.05 153.56h4.75v7.56h-4.75zM454.04 153.56h1.75v7.56h-1.75zM457.04 153.56h1.75v7.56h-1.75zM463.04 153.56h4.75v7.56h-4.75zM482.53 153.56h1.75v7.56h-1.75zM488.53 153.56h3.25v7.56h-3.25zM494.53 153.56h4.75v7.56h-4.75zM500.53 153.56h3.25v7.56h-3.25zM506.52 153.56h1.75v7.56h-1.75zM512.52 153.56h3.25v7.56h-3.25zM518.52 153.56h3.25v7.56h-3.25zM523.02 153.56h3.25v7.56h-3.25zM529.02 153.56h4.75v7.56h-4.75zM538.01 153.56h3.25v7.56h-3.25zM544.01 153.56h1.75v7.56h-1.75zM550.01 153.56h1.75v7.56h-1.75zM562 153.56h1.75v7.56h-1.75zM566.5 153.56h7.75v7.56h-7.75zM23.7 160.82h1.75v7.56h-1.75zM29.7 160.82h3.25v7.56h-3.25zM35.7 160.82h3.25v7.56h-3.25zM41.69 160.82h1.75v7.56h-1.75zM44.69 160.82h1.75v7.56h-1.75zM47.69 160.82h1.75v7.56h-1.75zM52.19 160.82h3.25v7.56h-3.25zM56.69 160.82h3.25v7.56h-3.25zM65.68 160.82h1.75v7.56h-1.75zM71.68 160.82h1.75v7.56h-1.75zM74.68 160.82h1.75v7.56h-1.75zM79.18 160.82h1.75v7.56h-1.75zM83.68 160.82h3.25v7.56h-3.25zM88.18 160.82h1.75v7.56h-1.75zM95.67 160.82h1.75v7.56h-1.75zM98.67 160.82h1.75v7.56h-1.75zM106.17 160.82h4.75v7.56h-4.75zM113.67 160.82h4.75v7.56h-4.75zM119.66 160.82h6.25v7.56h-6.25zM127.16 160.82h7.75v7.56h-7.75zM137.66 160.82h1.75v7.56h-1.75zM140.66 160.82h3.25v7.56h-3.25zM148.15 160.82h1.75v7.56h-1.75zM151.15 160.82h1.75v7.56h-1.75zM154.15 160.82h1.75v7.56h-1.75zM160.15 160.82h3.25v7.56h-3.25zM166.15 160.82h13.75v7.56h-13.75zM182.64 160.82h3.25v7.56h-3.25zM187.14 160.82h1.75v7.56h-1.75zM190.14 160.82h7.75v7.56h-7.75zM199.14 160.82h4.75v7.56h-4.75zM205.13 160.82h1.75v7.56h-1.75zM215.63 160.82h3.25v7.56h-3.25zM238.12 160.82h6.25v7.56h-6.25zM245.62 160.82h1.75v7.56h-1.75zM250.12 160.82h1.75v7.56h-1.75zM254.62 160.82h1.75v7.56h-1.75zM257.61 160.82h3.25v7.56h-3.25zM262.11 160.82h10.75v7.56h-10.75zM275.61 160.82h6.25v7.56h-6.25zM286.1 160.82h3.25v7.56h-3.25zM290.6 160.82h3.25v7.56h-3.25zM317.59 160.82h1.75v7.56h-1.75zM322.09 160.82h1.75v7.56h-1.75zM331.09 160.82h1.75v7.56h-1.75zM334.09 160.82h1.75v7.56h-1.75zM338.59 160.82h1.75v7.56h-1.75zM346.08 160.82h9.25v7.56h-9.25zM362.58 160.82h1.75v7.56h-1.75zM373.07 160.82h6.25v7.56h-6.25zM382.07 160.82h1.75v7.56h-1.75zM395.56 160.82h4.75v7.56h-4.75zM401.56 160.82h1.75v7.56h-1.75zM413.56 160.82h1.75v7.56h-1.75zM439.05 160.82h4.75v7.56h-4.75zM454.04 160.82h1.75v7.56h-1.75zM463.04 160.82h3.25v7.56h-3.25zM494.53 160.82h3.25v7.56h-3.25zM500.53 160.82h7.75v7.56h-7.75zM514.02 160.82h1.75v7.56h-1.75zM517.02 160.82h4.75v7.56h-4.75zM523.02 160.82h3.25v7.56h-3.25zM527.52 160.82h1.75v7.56h-1.75zM530.52 160.82h3.25v7.56h-3.25zM538.01 160.82h3.25v7.56h-3.25zM544.01 160.82h1.75v7.56h-1.75zM557.51 160.82h1.75v7.56h-1.75zM560.5 160.82h4.75v7.56h-4.75zM566.5 160.82h7.75v7.56h-7.75zM31.2 168.09h1.75v7.56h-1.75zM34.2 168.09h1.75v7.56h-1.75zM67.18 168.09h1.75v7.56h-1.75zM71.68 168.09h6.25v7.56h-6.25zM79.18 168.09h1.75v7.56h-1.75zM83.68 168.09h1.75v7.56h-1.75zM88.18 168.09h1.75v7.56h-1.75zM94.17 168.09h6.25v7.56h-6.25zM106.17 168.09h4.75v7.56h-4.75zM112.17 168.09h1.75v7.56h-1.75zM116.67 168.09h1.75v7.56h-1.75zM127.16 168.09h1.75v7.56h-1.75zM134.66 168.09h12.25v7.56h-12.25zM148.15 168.09h1.75v7.56h-1.75zM181.14 168.09h1.75v7.56h-1.75zM190.14 168.09h6.25v7.56h-6.25zM200.64 168.09h6.25v7.56h-6.25zM217.13 168.09h1.75v7.56h-1.75zM223.13 168.09h1.75v7.56h-1.75zM238.12 168.09h6.25v7.56h-6.25zM245.62 168.09h1.75v7.56h-1.75zM248.62 168.09h3.25v7.56h-3.25zM254.62 168.09h6.25v7.56h-6.25zM262.11 168.09h16.74v7.56h-16.74zM286.1 168.09h3.25v7.56h-3.25zM292.1 168.09h1.75v7.56h-1.75zM317.59 168.09h1.75v7.56h-1.75zM320.59 168.09h1.75v7.56h-1.75zM323.59 168.09h1.75v7.56h-1.75zM331.09 168.09h1.75v7.56h-1.75zM334.09 168.09h1.75v7.56h-1.75zM344.58 168.09h10.75v7.56h-10.75zM362.58 168.09h1.75v7.56h-1.75zM373.07 168.09h6.25v7.56h-6.25zM395.56 168.09h4.75v7.56h-4.75zM406.06 168.09h1.75v7.56h-1.75zM439.05 168.09h4.75v7.56h-4.75zM454.04 168.09h1.75v7.56h-1.75zM463.04 168.09h4.75v7.56h-4.75zM490.03 168.09h1.75v7.56h-1.75zM494.53 168.09h4.75v7.56h-4.75zM500.53 168.09h3.25v7.56h-3.25zM505.02 168.09h3.25v7.56h-3.25zM511.02 168.09h4.75v7.56h-4.75zM517.02 168.09h4.75v7.56h-4.75zM523.02 168.09h1.75v7.56h-1.75zM530.52 168.09h3.25v7.56h-3.25zM538.01 168.09h3.25v7.56h-3.25zM544.01 168.09h1.75v7.56h-1.75zM550.01 168.09h1.75v7.56h-1.75zM553.01 168.09h1.75v7.56h-1.75zM557.51 168.09h1.75v7.56h-1.75zM562 168.09h3.25v7.56h-3.25zM566.5 168.09h3.25v7.56h-3.25zM571 168.09h3.25v7.56h-3.25zM31.2 175.35h1.75v7.56h-1.75zM34.2 175.35h1.75v7.56h-1.75zM53.69 175.35h1.75v7.56h-1.75zM71.68 175.35h4.75v7.56h-4.75zM79.18 175.35h3.25v7.56h-3.25zM83.68 175.35h1.75v7.56h-1.75zM88.18 175.35h1.75v7.56h-1.75zM94.17 175.35h3.25v7.56h-3.25zM106.17 175.35h4.75v7.56h-4.75zM127.16 175.35h1.75v7.56h-1.75zM131.66 175.35h1.75v7.56h-1.75zM134.66 175.35h10.75v7.56h-10.75zM149.65 175.35h3.25v7.56h-3.25zM154.15 175.35h3.25v7.56h-3.25zM163.15 175.35h1.75v7.56h-1.75zM169.15 175.35h1.75v7.56h-1.75zM181.14 175.35h1.75v7.56h-1.75zM191.64 175.35h4.75v7.56h-4.75zM200.64 175.35h9.25v7.56h-9.25zM215.63 175.35h1.75v7.56h-1.75zM223.13 175.35h1.75v7.56h-1.75zM238.12 175.35h6.25v7.56h-6.25zM245.62 175.35h1.75v7.56h-1.75zM248.62 175.35h3.25v7.56h-3.25zM254.62 175.35h1.75v7.56h-1.75zM257.61 175.35h3.25v7.56h-3.25zM262.11 175.35h7.75v7.56h-7.75zM271.11 175.35h1.75v7.56h-1.75zM274.11 175.35h3.25v7.56h-3.25zM286.1 175.35h12.25v7.56h-12.25zM317.59 175.35h6.25v7.56h-6.25zM326.59 175.35h6.25v7.56h-6.25zM334.09 175.35h1.75v7.56h-1.75zM344.58 175.35h10.75v7.56h-10.75zM362.58 175.35h1.75v7.56h-1.75zM367.07 175.35h1.75v7.56h-1.75zM373.07 175.35h3.25v7.56h-3.25zM377.57 175.35h1.75v7.56h-1.75zM388.07 175.35h1.75v7.56h-1.75zM395.56 175.35h4.75v7.56h-4.75zM401.56 175.35h1.75v7.56h-1.75zM413.56 175.35h1.75v7.56h-1.75zM421.06 175.35h1.75v7.56h-1.75zM431.55 175.35h1.75v7.56h-1.75zM434.55 175.35h1.75v7.56h-1.75zM439.05 175.35h4.75v7.56h-4.75zM454.04 175.35h4.75v7.56h-4.75zM463.04 175.35h4.75v7.56h-4.75zM484.03 175.35h1.75v7.56h-1.75zM487.03 175.35h1.75v7.56h-1.75zM494.53 175.35h4.75v7.56h-4.75zM500.53 175.35h3.25v7.56h-3.25zM506.52 175.35h1.75v7.56h-1.75zM511.02 175.35h1.75v7.56h-1.75zM514.02 175.35h1.75v7.56h-1.75zM517.02 175.35h3.25v7.56h-3.25zM524.52 175.35h3.25v7.56h-3.25zM530.52 175.35h4.75v7.56h-4.75zM538.01 175.35h3.25v7.56h-3.25zM550.01 175.35h1.75v7.56h-1.75zM553.01 175.35h1.75v7.56h-1.75zM557.51 175.35h1.75v7.56h-1.75zM562 175.35h3.25v7.56h-3.25zM566.5 175.35h7.75v7.56h-7.75zM31.2 182.61h1.75v7.56h-1.75zM52.19 182.61h1.75v7.56h-1.75zM71.68 182.61h4.75v7.56h-4.75zM79.18 182.61h1.75v7.56h-1.75zM83.68 182.61h1.75v7.56h-1.75zM88.18 182.61h1.75v7.56h-1.75zM94.17 182.61h6.25v7.56h-6.25zM107.67 182.61h3.25v7.56h-3.25zM127.16 182.61h1.75v7.56h-1.75zM134.66 182.61h12.25v7.56h-12.25zM148.15 182.61h1.75v7.56h-1.75zM151.15 182.61h1.75v7.56h-1.75zM154.15 182.61h1.75v7.56h-1.75zM163.15 182.61h1.75v7.56h-1.75zM181.14 182.61h1.75v7.56h-1.75zM190.14 182.61h4.75v7.56h-4.75zM200.64 182.61h9.25v7.56h-9.25zM217.13 182.61h1.75v7.56h-1.75zM223.13 182.61h1.75v7.56h-1.75zM238.12 182.61h4.75v7.56h-4.75zM245.62 182.61h1.75v7.56h-1.75zM248.62 182.61h3.25v7.56h-3.25zM254.62 182.61h1.75v7.56h-1.75zM257.61 182.61h3.25v7.56h-3.25zM262.11 182.61h7.75v7.56h-7.75zM271.11 182.61h1.75v7.56h-1.75zM274.11 182.61h3.25v7.56h-3.25zM280.11 182.61h1.75v7.56h-1.75zM286.1 182.61h6.25v7.56h-6.25zM293.6 182.61h3.25v7.56h-3.25zM317.59 182.61h7.75v7.56h-7.75zM326.59 182.61h6.25v7.56h-6.25zM334.09 182.61h1.75v7.56h-1.75zM344.58 182.61h10.75v7.56h-10.75zM361.08 182.61h3.25v7.56h-3.25zM370.07 182.61h9.25v7.56h-9.25zM386.57 182.61h1.75v7.56h-1.75zM395.56 182.61h3.25v7.56h-3.25zM401.56 182.61h1.75v7.56h-1.75zM406.06 182.61h1.75v7.56h-1.75zM413.56 182.61h1.75v7.56h-1.75zM421.06 182.61h1.75v7.56h-1.75zM431.55 182.61h1.75v7.56h-1.75zM454.04 182.61h1.75v7.56h-1.75zM463.04 182.61h4.75v7.56h-4.75zM482.53 182.61h1.75v7.56h-1.75zM490.03 182.61h1.75v7.56h-1.75zM494.53 182.61h4.75v7.56h-4.75zM500.53 182.61h3.25v7.56h-3.25zM505.02 182.61h3.25v7.56h-3.25zM514.02 182.61h7.75v7.56h-7.75zM523.02 182.61h3.25v7.56h-3.25zM527.52 182.61h1.75v7.56h-1.75zM530.52 182.61h3.25v7.56h-3.25zM538.01 182.61h3.25v7.56h-3.25zM550.01 182.61h4.75v7.56h-4.75zM557.51 182.61h1.75v7.56h-1.75zM562 182.61h3.25v7.56h-3.25zM566.5 182.61h7.75v7.56h-7.75zM22.2 189.88h4.75v7.56h-4.75zM28.2 189.88h3.25v7.56h-3.25zM32.7 189.88h1.75v7.56h-1.75zM37.19 189.88h1.75v7.56h-1.75zM43.19 189.88h1.75v7.56h-1.75zM47.69 189.88h3.25v7.56h-3.25zM52.19 189.88h3.25v7.56h-3.25zM56.69 189.88h3.25v7.56h-3.25zM64.18 189.88h3.25v7.56h-3.25zM68.68 189.88h1.75v7.56h-1.75zM71.68 189.88h1.75v7.56h-1.75zM77.68 189.88h3.25v7.56h-3.25zM82.18 189.88h1.75v7.56h-1.75zM86.68 189.88h1.75v7.56h-1.75zM89.68 189.88h3.25v7.56h-3.25zM94.17 189.88h6.25v7.56h-6.25zM106.17 189.88h4.75v7.56h-4.75zM113.67 189.88h1.75v7.56h-1.75zM122.66 189.88h1.75v7.56h-1.75zM127.16 189.88h1.75v7.56h-1.75zM134.66 189.88h12.25v7.56h-12.25zM148.15 189.88h1.75v7.56h-1.75zM151.15 189.88h1.75v7.56h-1.75zM154.15 189.88h1.75v7.56h-1.75zM163.15 189.88h1.75v7.56h-1.75zM181.14 189.88h1.75v7.56h-1.75zM190.14 189.88h6.25v7.56h-6.25zM200.64 189.88h9.25v7.56h-9.25zM215.63 189.88h1.75v7.56h-1.75zM223.13 189.88h1.75v7.56h-1.75zM238.12 189.88h6.25v7.56h-6.25zM245.62 189.88h1.75v7.56h-1.75zM248.62 189.88h4.75v7.56h-4.75zM254.62 189.88h1.75v7.56h-1.75zM257.61 189.88h3.25v7.56h-3.25zM262.11 189.88h7.75v7.56h-7.75zM271.11 189.88h1.75v7.56h-1.75zM274.11 189.88h3.25v7.56h-3.25zM284.6 189.88h12.25v7.56h-12.25zM319.09 189.88h4.75v7.56h-4.75zM326.59 189.88h6.25v7.56h-6.25zM334.09 189.88h1.75v7.56h-1.75zM344.58 189.88h1.75v7.56h-1.75zM347.58 189.88h7.75v7.56h-7.75zM362.58 189.88h1.75v7.56h-1.75zM370.07 189.88h9.25v7.56h-9.25zM395.56 189.88h4.75v7.56h-4.75zM401.56 189.88h1.75v7.56h-1.75zM413.56 189.88h1.75v7.56h-1.75zM421.06 189.88h1.75v7.56h-1.75zM439.05 189.88h4.75v7.56h-4.75zM463.04 189.88h4.75v7.56h-4.75zM494.53 189.88h4.75v7.56h-4.75zM500.53 189.88h3.25v7.56h-3.25zM505.02 189.88h3.25v7.56h-3.25zM511.02 189.88h4.75v7.56h-4.75zM517.02 189.88h4.75v7.56h-4.75zM524.52 189.88h1.75v7.56h-1.75zM530.52 189.88h3.25v7.56h-3.25zM535.01 189.88h1.75v7.56h-1.75zM538.01 189.88h3.25v7.56h-3.25zM544.01 189.88h1.75v7.56h-1.75zM550.01 189.88h1.75v7.56h-1.75zM557.51 189.88h1.75v7.56h-1.75zM562 189.88h7.75v7.56h-7.75zM571 189.88h3.25v7.56h-3.25zM25.2 197.14h3.25v7.56h-3.25zM29.7 197.14h3.25v7.56h-3.25zM35.7 197.14h1.75v7.56h-1.75zM38.69 197.14h3.25v7.56h-3.25zM44.69 197.14h1.75v7.56h-1.75zM47.69 197.14h1.75v7.56h-1.75zM50.69 197.14h3.25v7.56h-3.25zM58.19 197.14h1.75v7.56h-1.75zM62.69 197.14h1.75v7.56h-1.75zM65.68 197.14h1.75v7.56h-1.75zM70.18 197.14h3.25v7.56h-3.25zM80.68 197.14h3.25v7.56h-3.25zM85.18 197.14h1.75v7.56h-1.75zM92.67 197.14h7.75v7.56h-7.75zM106.17 197.14h4.75v7.56h-4.75zM113.67 197.14h1.75v7.56h-1.75zM116.67 197.14h1.75v7.56h-1.75zM127.16 197.14h1.75v7.56h-1.75zM134.66 197.14h12.25v7.56h-12.25zM148.15 197.14h4.75v7.56h-4.75zM154.15 197.14h1.75v7.56h-1.75zM163.15 197.14h1.75v7.56h-1.75zM181.14 197.14h1.75v7.56h-1.75zM191.64 197.14h4.75v7.56h-4.75zM200.64 197.14h9.25v7.56h-9.25zM217.13 197.14h1.75v7.56h-1.75zM221.63 197.14h3.25v7.56h-3.25zM238.12 197.14h4.75v7.56h-4.75zM245.62 197.14h1.75v7.56h-1.75zM248.62 197.14h3.25v7.56h-3.25zM253.12 197.14h3.25v7.56h-3.25zM257.61 197.14h3.25v7.56h-3.25zM262.11 197.14h7.75v7.56h-7.75zM271.11 197.14h1.75v7.56h-1.75zM274.11 197.14h3.25v7.56h-3.25zM286.1 197.14h3.25v7.56h-3.25zM290.6 197.14h6.25v7.56h-6.25zM298.1 197.14h1.75v7.56h-1.75zM317.59 197.14h6.25v7.56h-6.25zM326.59 197.14h6.25v7.56h-6.25zM334.09 197.14h1.75v7.56h-1.75zM344.58 197.14h10.75v7.56h-10.75zM362.58 197.14h1.75v7.56h-1.75zM373.07 197.14h6.25v7.56h-6.25zM397.06 197.14h3.25v7.56h-3.25zM401.56 197.14h1.75v7.56h-1.75zM406.06 197.14h1.75v7.56h-1.75zM413.56 197.14h1.75v7.56h-1.75zM421.06 197.14h1.75v7.56h-1.75zM439.05 197.14h4.75v7.56h-4.75zM454.04 197.14h3.25v7.56h-3.25zM463.04 197.14h4.75v7.56h-4.75zM482.53 197.14h1.75v7.56h-1.75zM490.03 197.14h1.75v7.56h-1.75zM494.53 197.14h3.25v7.56h-3.25zM500.53 197.14h3.25v7.56h-3.25zM505.02 197.14h1.75v7.56h-1.75zM511.02 197.14h1.75v7.56h-1.75zM514.02 197.14h1.75v7.56h-1.75zM517.02 197.14h4.75v7.56h-4.75zM524.52 197.14h3.25v7.56h-3.25zM530.52 197.14h3.25v7.56h-3.25zM538.01 197.14h4.75v7.56h-4.75zM544.01 197.14h1.75v7.56h-1.75zM550.01 197.14h1.75v7.56h-1.75zM553.01 197.14h1.75v7.56h-1.75zM557.51 197.14h1.75v7.56h-1.75zM562 197.14h3.25v7.56h-3.25zM31.2 204.4h1.75v7.56h-1.75zM71.68 204.4h4.75v7.56h-4.75zM83.68 204.4h1.75v7.56h-1.75zM88.18 204.4h1.75v7.56h-1.75zM94.17 204.4h3.25v7.56h-3.25zM98.67 204.4h1.75v7.56h-1.75zM106.17 204.4h4.75v7.56h-4.75zM113.67 204.4h1.75v7.56h-1.75zM134.66 204.4h12.25v7.56h-12.25zM148.15 204.4h4.75v7.56h-4.75zM154.15 204.4h1.75v7.56h-1.75zM163.15 204.4h1.75v7.56h-1.75zM181.14 204.4h1.75v7.56h-1.75zM190.14 204.4h6.25v7.56h-6.25zM200.64 204.4h9.25v7.56h-9.25zM223.13 204.4h1.75v7.56h-1.75zM238.12 204.4h6.25v7.56h-6.25zM245.62 204.4h1.75v7.56h-1.75zM250.12 204.4h1.75v7.56h-1.75zM254.62 204.4h1.75v7.56h-1.75zM257.61 204.4h3.25v7.56h-3.25zM262.11 204.4h7.75v7.56h-7.75zM271.11 204.4h1.75v7.56h-1.75zM274.11 204.4h3.25v7.56h-3.25zM280.11 204.4h1.75v7.56h-1.75zM286.1 204.4h10.75v7.56h-10.75zM317.59 204.4h4.75v7.56h-4.75zM323.59 204.4h1.75v7.56h-1.75zM326.59 204.4h6.25v7.56h-6.25zM334.09 204.4h1.75v7.56h-1.75zM344.58 204.4h10.75v7.56h-10.75zM361.08 204.4h4.75v7.56h-4.75zM373.07 204.4h6.25v7.56h-6.25zM395.56 204.4h4.75v7.56h-4.75zM401.56 204.4h1.75v7.56h-1.75zM406.06 204.4h1.75v7.56h-1.75zM413.56 204.4h1.75v7.56h-1.75zM421.06 204.4h1.75v7.56h-1.75zM439.05 204.4h4.75v7.56h-4.75zM454.04 204.4h3.25v7.56h-3.25zM463.04 204.4h4.75v7.56h-4.75zM490.03 204.4h1.75v7.56h-1.75zM496.03 204.4h3.25v7.56h-3.25zM500.53 204.4h3.25v7.56h-3.25zM505.02 204.4h3.25v7.56h-3.25zM509.52 204.4h3.25v7.56h-3.25zM514.02 204.4h7.75v7.56h-7.75zM523.02 204.4h1.75v7.56h-1.75zM530.52 204.4h3.25v7.56h-3.25zM538.01 204.4h3.25v7.56h-3.25zM544.01 204.4h3.25v7.56h-3.25zM550.01 204.4h1.75v7.56h-1.75zM553.01 204.4h1.75v7.56h-1.75zM557.51 204.4h1.75v7.56h-1.75zM562 204.4h3.25v7.56h-3.25zM566.5 204.4h7.75v7.56h-7.75zM31.2 211.67h1.75v7.56h-1.75zM34.2 211.67h1.75v7.56h-1.75zM44.69 211.67h1.75v7.56h-1.75zM53.69 211.67h1.75v7.56h-1.75zM71.68 211.67h3.25v7.56h-3.25zM79.18 211.67h1.75v7.56h-1.75zM83.68 211.67h1.75v7.56h-1.75zM88.18 211.67h1.75v7.56h-1.75zM94.17 211.67h3.25v7.56h-3.25zM98.67 211.67h1.75v7.56h-1.75zM106.17 211.67h4.75v7.56h-4.75zM113.67 211.67h1.75v7.56h-1.75zM127.16 211.67h1.75v7.56h-1.75zM133.16 211.67h1.75v7.56h-1.75zM136.16 211.67h10.75v7.56h-10.75zM148.15 211.67h3.25v7.56h-3.25zM154.15 211.67h1.75v7.56h-1.75zM157.15 211.67h1.75v7.56h-1.75zM161.65 211.67h3.25v7.56h-3.25zM169.15 211.67h1.75v7.56h-1.75zM190.14 211.67h6.25v7.56h-6.25zM200.64 211.67h9.25v7.56h-9.25zM215.63 211.67h3.25v7.56h-3.25zM223.13 211.67h1.75v7.56h-1.75zM238.12 211.67h6.25v7.56h-6.25zM245.62 211.67h1.75v7.56h-1.75zM250.12 211.67h1.75v7.56h-1.75zM254.62 211.67h1.75v7.56h-1.75zM257.61 211.67h3.25v7.56h-3.25zM262.11 211.67h7.75v7.56h-7.75zM271.11 211.67h7.75v7.56h-7.75zM286.1 211.67h10.75v7.56h-10.75zM317.59 211.67h6.25v7.56h-6.25zM326.59 211.67h6.25v7.56h-6.25zM346.08 211.67h9.25v7.56h-9.25zM356.58 211.67h1.75v7.56h-1.75zM359.58 211.67h4.75v7.56h-4.75zM373.07 211.67h6.25v7.56h-6.25zM395.56 211.67h4.75v7.56h-4.75zM401.56 211.67h1.75v7.56h-1.75zM413.56 211.67h1.75v7.56h-1.75zM421.06 211.67h1.75v7.56h-1.75zM439.05 211.67h4.75v7.56h-4.75zM448.05 211.67h1.75v7.56h-1.75zM454.04 211.67h1.75v7.56h-1.75zM463.04 211.67h4.75v7.56h-4.75zM484.03 211.67h1.75v7.56h-1.75zM490.03 211.67h1.75v7.56h-1.75zM493.03 211.67h4.75v7.56h-4.75zM500.53 211.67h3.25v7.56h-3.25zM506.52 211.67h1.75v7.56h-1.75zM511.02 211.67h1.75v7.56h-1.75zM514.02 211.67h7.75v7.56h-7.75zM523.02 211.67h3.25v7.56h-3.25zM538.01 211.67h1.75v7.56h-1.75zM541.01 211.67h1.75v7.56h-1.75zM547.01 211.67h1.75v7.56h-1.75zM553.01 211.67h1.75v7.56h-1.75zM557.51 211.67h1.75v7.56h-1.75zM562 211.67h4.75v7.56h-4.75zM568 211.67h4.75v7.56h-4.75zM34.2 218.93h1.75v7.56h-1.75zM53.69 218.93h1.75v7.56h-1.75zM71.68 218.93h4.75v7.56h-4.75zM77.68 218.93h3.25v7.56h-3.25zM83.68 218.93h1.75v7.56h-1.75zM88.18 218.93h1.75v7.56h-1.75zM92.67 218.93h7.75v7.56h-7.75zM106.17 218.93h4.75v7.56h-4.75zM113.67 218.93h1.75v7.56h-1.75zM127.16 218.93h1.75v7.56h-1.75zM131.66 218.93h1.75v7.56h-1.75zM134.66 218.93h10.75v7.56h-10.75zM148.15 218.93h4.75v7.56h-4.75zM163.15 218.93h1.75v7.56h-1.75zM169.15 218.93h1.75v7.56h-1.75zM181.14 218.93h1.75v7.56h-1.75zM190.14 218.93h6.25v7.56h-6.25zM200.64 218.93h9.25v7.56h-9.25zM215.63 218.93h3.25v7.56h-3.25zM238.12 218.93h6.25v7.56h-6.25zM245.62 218.93h1.75v7.56h-1.75zM248.62 218.93h3.25v7.56h-3.25zM257.61 218.93h3.25v7.56h-3.25zM262.11 218.93h7.75v7.56h-7.75zM271.11 218.93h1.75v7.56h-1.75zM274.11 218.93h3.25v7.56h-3.25zM278.61 218.93h1.75v7.56h-1.75zM286.1 218.93h10.75v7.56h-10.75zM310.1 218.93h1.75v7.56h-1.75zM317.59 218.93h6.25v7.56h-6.25zM326.59 218.93h7.75v7.56h-7.75zM344.58 218.93h12.25v7.56h-12.25zM362.58 218.93h3.25v7.56h-3.25zM373.07 218.93h6.25v7.56h-6.25zM395.56 218.93h4.75v7.56h-4.75zM413.56 218.93h3.25v7.56h-3.25zM421.06 218.93h1.75v7.56h-1.75zM439.05 218.93h4.75v7.56h-4.75zM454.04 218.93h1.75v7.56h-1.75zM463.04 218.93h4.75v7.56h-4.75zM488.53 218.93h3.25v7.56h-3.25zM494.53 218.93h13.75v7.56h-13.75zM511.02 218.93h4.75v7.56h-4.75zM517.02 218.93h4.75v7.56h-4.75zM523.02 218.93h1.75v7.56h-1.75zM526.02 218.93h1.75v7.56h-1.75zM529.02 218.93h4.75v7.56h-4.75zM538.01 218.93h1.75v7.56h-1.75zM544.01 218.93h1.75v7.56h-1.75zM550.01 218.93h1.75v7.56h-1.75zM553.01 218.93h1.75v7.56h-1.75zM557.51 218.93h1.75v7.56h-1.75zM562 218.93h3.25v7.56h-3.25zM568 218.93h6.25v7.56h-6.25zM31.2 226.19h1.75v7.56h-1.75zM34.2 226.19h1.75v7.56h-1.75zM41.69 226.19h1.75v7.56h-1.75zM71.68 226.19h1.75v7.56h-1.75zM74.68 226.19h1.75v7.56h-1.75zM79.18 226.19h1.75v7.56h-1.75zM88.18 226.19h1.75v7.56h-1.75zM94.17 226.19h3.25v7.56h-3.25zM98.67 226.19h1.75v7.56h-1.75zM106.17 226.19h4.75v7.56h-4.75zM113.67 226.19h1.75v7.56h-1.75zM124.16 226.19h1.75v7.56h-1.75zM127.16 226.19h1.75v7.56h-1.75zM134.66 226.19h12.25v7.56h-12.25zM148.15 226.19h4.75v7.56h-4.75zM154.15 226.19h1.75v7.56h-1.75zM163.15 226.19h3.25v7.56h-3.25zM190.14 226.19h6.25v7.56h-6.25zM200.64 226.19h4.75v7.56h-4.75zM206.63 226.19h3.25v7.56h-3.25zM215.63 226.19h3.25v7.56h-3.25zM223.13 226.19h1.75v7.56h-1.75zM238.12 226.19h6.25v7.56h-6.25zM245.62 226.19h1.75v7.56h-1.75zM248.62 226.19h3.25v7.56h-3.25zM254.62 226.19h1.75v7.56h-1.75zM257.61 226.19h3.25v7.56h-3.25zM262.11 226.19h7.75v7.56h-7.75zM271.11 226.19h1.75v7.56h-1.75zM274.11 226.19h3.25v7.56h-3.25zM283.11 226.19h1.75v7.56h-1.75zM286.1 226.19h10.75v7.56h-10.75zM317.59 226.19h6.25v7.56h-6.25zM326.59 226.19h6.25v7.56h-6.25zM334.09 226.19h1.75v7.56h-1.75zM344.58 226.19h10.75v7.56h-10.75zM361.08 226.19h3.25v7.56h-3.25zM367.07 226.19h1.75v7.56h-1.75zM373.07 226.19h6.25v7.56h-6.25zM395.56 226.19h4.75v7.56h-4.75zM406.06 226.19h1.75v7.56h-1.75zM410.56 226.19h1.75v7.56h-1.75zM413.56 226.19h1.75v7.56h-1.75zM421.06 226.19h1.75v7.56h-1.75zM439.05 226.19h4.75v7.56h-4.75zM454.04 226.19h1.75v7.56h-1.75zM463.04 226.19h4.75v7.56h-4.75zM490.03 226.19h1.75v7.56h-1.75zM493.03 226.19h6.25v7.56h-6.25zM500.53 226.19h3.25v7.56h-3.25zM505.02 226.19h3.25v7.56h-3.25zM514.02 226.19h1.75v7.56h-1.75zM517.02 226.19h4.75v7.56h-4.75zM523.02 226.19h3.25v7.56h-3.25zM530.52 226.19h3.25v7.56h-3.25zM544.01 226.19h1.75v7.56h-1.75zM553.01 226.19h1.75v7.56h-1.75zM557.51 226.19h1.75v7.56h-1.75zM562 226.19h1.75v7.56h-1.75zM566.5 226.19h7.75v7.56h-7.75zM31.2 233.46h1.75v7.56h-1.75zM34.2 233.46h1.75v7.56h-1.75zM53.69 233.46h1.75v7.56h-1.75zM67.18 233.46h3.25v7.56h-3.25zM73.18 233.46h6.25v7.56h-6.25zM80.68 233.46h1.75v7.56h-1.75zM83.68 233.46h1.75v7.56h-1.75zM86.68 233.46h3.25v7.56h-3.25zM94.17 233.46h3.25v7.56h-3.25zM106.17 233.46h4.75v7.56h-4.75zM113.67 233.46h1.75v7.56h-1.75zM119.66 233.46h1.75v7.56h-1.75zM127.16 233.46h1.75v7.56h-1.75zM134.66 233.46h12.25v7.56h-12.25zM148.15 233.46h4.75v7.56h-4.75zM154.15 233.46h1.75v7.56h-1.75zM158.65 233.46h1.75v7.56h-1.75zM161.65 233.46h3.25v7.56h-3.25zM181.14 233.46h1.75v7.56h-1.75zM190.14 233.46h7.75v7.56h-7.75zM200.64 233.46h9.25v7.56h-9.25zM215.63 233.46h1.75v7.56h-1.75zM223.13 233.46h1.75v7.56h-1.75zM238.12 233.46h6.25v7.56h-6.25zM245.62 233.46h1.75v7.56h-1.75zM248.62 233.46h3.25v7.56h-3.25zM254.62 233.46h1.75v7.56h-1.75zM257.61 233.46h3.25v7.56h-3.25zM262.11 233.46h1.75v7.56h-1.75zM265.11 233.46h4.75v7.56h-4.75zM272.61 233.46h4.75v7.56h-4.75zM278.61 233.46h1.75v7.56h-1.75zM281.61 233.46h1.75v7.56h-1.75zM287.6 233.46h6.25v7.56h-6.25zM295.1 233.46h1.75v7.56h-1.75zM317.59 233.46h4.75v7.56h-4.75zM326.59 233.46h4.75v7.56h-4.75zM334.09 233.46h1.75v7.56h-1.75zM344.58 233.46h10.75v7.56h-10.75zM361.08 233.46h3.25v7.56h-3.25zM373.07 233.46h6.25v7.56h-6.25zM395.56 233.46h4.75v7.56h-4.75zM401.56 233.46h1.75v7.56h-1.75zM406.06 233.46h1.75v7.56h-1.75zM413.56 233.46h1.75v7.56h-1.75zM421.06 233.46h1.75v7.56h-1.75zM439.05 233.46h4.75v7.56h-4.75zM445.05 233.46h1.75v7.56h-1.75zM454.04 233.46h1.75v7.56h-1.75zM463.04 233.46h4.75v7.56h-4.75zM490.03 233.46h1.75v7.56h-1.75zM494.53 233.46h3.25v7.56h-3.25zM500.53 233.46h3.25v7.56h-3.25zM505.02 233.46h4.75v7.56h-4.75zM511.02 233.46h1.75v7.56h-1.75zM523.02 233.46h3.25v7.56h-3.25zM530.52 233.46h3.25v7.56h-3.25zM538.01 233.46h3.25v7.56h-3.25zM550.01 233.46h1.75v7.56h-1.75zM562 233.46h3.25v7.56h-3.25zM566.5 233.46h6.25v7.56h-6.25zM94.17 240.72h3.25v7.56h-3.25zM98.67 240.72h1.75v7.56h-1.75zM124.16 240.72h1.75v7.56h-1.75zM127.16 240.72h1.75v7.56h-1.75zM133.16 240.72h13.75v7.56h-13.75zM148.15 240.72h4.75v7.56h-4.75zM154.15 240.72h1.75v7.56h-1.75zM163.15 240.72h1.75v7.56h-1.75zM190.14 240.72h6.25v7.56h-6.25zM202.13 240.72h7.75v7.56h-7.75zM215.63 240.72h3.25v7.56h-3.25zM223.13 240.72h1.75v7.56h-1.75zM238.12 240.72h6.25v7.56h-6.25zM245.62 240.72h1.75v7.56h-1.75zM248.62 240.72h3.25v7.56h-3.25zM254.62 240.72h1.75v7.56h-1.75zM257.61 240.72h12.25v7.56h-12.25zM271.11 240.72h1.75v7.56h-1.75zM274.11 240.72h3.25v7.56h-3.25zM280.11 240.72h1.75v7.56h-1.75zM283.11 240.72h1.75v7.56h-1.75zM286.1 240.72h6.25v7.56h-6.25zM293.6 240.72h3.25v7.56h-3.25zM317.59 240.72h6.25v7.56h-6.25zM326.59 240.72h6.25v7.56h-6.25zM334.09 240.72h1.75v7.56h-1.75zM344.58 240.72h10.75v7.56h-10.75zM361.08 240.72h6.25v7.56h-6.25zM373.07 240.72h6.25v7.56h-6.25zM395.56 240.72h7.75v7.56h-7.75zM406.06 240.72h1.75v7.56h-1.75zM413.56 240.72h1.75v7.56h-1.75zM421.06 240.72h1.75v7.56h-1.75zM439.05 240.72h4.75v7.56h-4.75zM454.04 240.72h1.75v7.56h-1.75zM458.54 240.72h1.75v7.56h-1.75zM463.04 240.72h4.75v7.56h-4.75zM484.03 240.72h1.75v7.56h-1.75zM490.03 240.72h1.75v7.56h-1.75zM496.03 240.72h3.25v7.56h-3.25zM502.03 240.72h1.75v7.56h-1.75zM505.02 240.72h4.75v7.56h-4.75zM511.02 240.72h1.75v7.56h-1.75zM514.02 240.72h7.75v7.56h-7.75zM523.02 240.72h3.25v7.56h-3.25zM530.52 240.72h3.25v7.56h-3.25zM538.01 240.72h3.25v7.56h-3.25zM544.01 240.72h1.75v7.56h-1.75zM550.01 240.72h1.75v7.56h-1.75zM553.01 240.72h1.75v7.56h-1.75zM556.01 240.72h4.75v7.56h-4.75zM562 240.72h3.25v7.56h-3.25zM566.5 240.72h7.75v7.56h-7.75zM94.17 247.98h3.25v7.56h-3.25zM106.17 247.98h4.75v7.56h-4.75zM113.67 247.98h1.75v7.56h-1.75zM134.66 247.98h12.25v7.56h-12.25zM148.15 247.98h4.75v7.56h-4.75zM154.15 247.98h3.25v7.56h-3.25zM163.15 247.98h1.75v7.56h-1.75zM181.14 247.98h1.75v7.56h-1.75zM190.14 247.98h6.25v7.56h-6.25zM200.64 247.98h9.25v7.56h-9.25zM215.63 247.98h3.25v7.56h-3.25zM223.13 247.98h1.75v7.56h-1.75zM238.12 247.98h3.25v7.56h-3.25zM242.62 247.98h1.75v7.56h-1.75zM245.62 247.98h6.25v7.56h-6.25zM254.62 247.98h6.25v7.56h-6.25zM262.11 247.98h7.75v7.56h-7.75zM271.11 247.98h1.75v7.56h-1.75zM275.61 247.98h1.75v7.56h-1.75zM286.1 247.98h12.25v7.56h-12.25zM317.59 247.98h6.25v7.56h-6.25zM326.59 247.98h6.25v7.56h-6.25zM334.09 247.98h1.75v7.56h-1.75zM343.08 247.98h12.25v7.56h-12.25zM361.08 247.98h3.25v7.56h-3.25zM373.07 247.98h6.25v7.56h-6.25zM395.56 247.98h4.75v7.56h-4.75zM401.56 247.98h1.75v7.56h-1.75zM406.06 247.98h3.25v7.56h-3.25zM413.56 247.98h1.75v7.56h-1.75zM421.06 247.98h1.75v7.56h-1.75zM439.05 247.98h4.75v7.56h-4.75zM454.04 247.98h3.25v7.56h-3.25zM458.54 247.98h1.75v7.56h-1.75zM463.04 247.98h4.75v7.56h-4.75zM482.53 247.98h1.75v7.56h-1.75zM490.03 247.98h1.75v7.56h-1.75zM494.53 247.98h4.75v7.56h-4.75zM500.53 247.98h3.25v7.56h-3.25zM505.02 247.98h4.75v7.56h-4.75zM511.02 247.98h1.75v7.56h-1.75zM514.02 247.98h1.75v7.56h-1.75zM517.02 247.98h4.75v7.56h-4.75zM523.02 247.98h3.25v7.56h-3.25zM530.52 247.98h3.25v7.56h-3.25zM538.01 247.98h3.25v7.56h-3.25zM547.01 247.98h1.75v7.56h-1.75zM550.01 247.98h1.75v7.56h-1.75zM553.01 247.98h1.75v7.56h-1.75zM562 247.98h3.25v7.56h-3.25zM566.5 247.98h7.75v7.56h-7.75zM106.17 255.25h4.75v7.56h-4.75zM113.67 255.25h1.75v7.56h-1.75zM127.16 255.25h1.75v7.56h-1.75zM134.66 255.25h12.25v7.56h-12.25zM148.15 255.25h4.75v7.56h-4.75zM163.15 255.25h1.75v7.56h-1.75zM182.64 255.25h1.75v7.56h-1.75zM190.14 255.25h6.25v7.56h-6.25zM200.64 255.25h9.25v7.56h-9.25zM215.63 255.25h3.25v7.56h-3.25zM238.12 255.25h3.25v7.56h-3.25zM245.62 255.25h1.75v7.56h-1.75zM248.62 255.25h3.25v7.56h-3.25zM254.62 255.25h1.75v7.56h-1.75zM257.61 255.25h3.25v7.56h-3.25zM262.11 255.25h10.75v7.56h-10.75zM274.11 255.25h3.25v7.56h-3.25zM278.61 255.25h3.25v7.56h-3.25zM284.6 255.25h12.25v7.56h-12.25zM317.59 255.25h6.25v7.56h-6.25zM326.59 255.25h6.25v7.56h-6.25zM334.09 255.25h1.75v7.56h-1.75zM344.58 255.25h3.25v7.56h-3.25zM349.08 255.25h6.25v7.56h-6.25zM361.08 255.25h4.75v7.56h-4.75zM373.07 255.25h6.25v7.56h-6.25zM392.57 255.25h1.75v7.56h-1.75zM395.56 255.25h4.75v7.56h-4.75zM406.06 255.25h1.75v7.56h-1.75zM413.56 255.25h1.75v7.56h-1.75zM421.06 255.25h1.75v7.56h-1.75zM431.55 255.25h1.75v7.56h-1.75zM439.05 255.25h4.75v7.56h-4.75zM454.04 255.25h1.75v7.56h-1.75zM457.04 255.25h1.75v7.56h-1.75zM463.04 255.25h4.75v7.56h-4.75zM494.53 255.25h4.75v7.56h-4.75zM500.53 255.25h7.75v7.56h-7.75zM514.02 255.25h1.75v7.56h-1.75zM517.02 255.25h4.75v7.56h-4.75zM524.52 255.25h1.75v7.56h-1.75zM530.52 255.25h3.25v7.56h-3.25zM538.01 255.25h1.75v7.56h-1.75zM542.51 255.25h1.75v7.56h-1.75zM550.01 255.25h1.75v7.56h-1.75zM553.01 255.25h1.75v7.56h-1.75zM557.51 255.25h3.25v7.56h-3.25zM562 255.25h3.25v7.56h-3.25zM566.5 255.25h7.75v7.56h-7.75zM94.17 262.51h3.25v7.56h-3.25zM98.67 262.51h1.75v7.56h-1.75zM106.17 262.51h4.75v7.56h-4.75zM113.67 262.51h1.75v7.56h-1.75zM127.16 262.51h1.75v7.56h-1.75zM134.66 262.51h12.25v7.56h-12.25zM148.15 262.51h7.75v7.56h-7.75zM158.65 262.51h1.75v7.56h-1.75zM163.15 262.51h1.75v7.56h-1.75zM169.15 262.51h1.75v7.56h-1.75zM182.64 262.51h1.75v7.56h-1.75zM190.14 262.51h6.25v7.56h-6.25zM200.64 262.51h9.25v7.56h-9.25zM215.63 262.51h3.25v7.56h-3.25zM223.13 262.51h1.75v7.56h-1.75zM238.12 262.51h6.25v7.56h-6.25zM248.62 262.51h3.25v7.56h-3.25zM254.62 262.51h1.75v7.56h-1.75zM257.61 262.51h3.25v7.56h-3.25zM262.11 262.51h13.75v7.56h-13.75zM286.1 262.51h10.75v7.56h-10.75zM317.59 262.51h6.25v7.56h-6.25zM326.59 262.51h6.25v7.56h-6.25zM334.09 262.51h1.75v7.56h-1.75zM340.08 262.51h1.75v7.56h-1.75zM344.58 262.51h10.75v7.56h-10.75zM361.08 262.51h1.75v7.56h-1.75zM373.07 262.51h6.25v7.56h-6.25zM395.56 262.51h4.75v7.56h-4.75zM401.56 262.51h1.75v7.56h-1.75zM406.06 262.51h1.75v7.56h-1.75zM413.56 262.51h1.75v7.56h-1.75zM421.06 262.51h1.75v7.56h-1.75zM439.05 262.51h4.75v7.56h-4.75zM454.04 262.51h1.75v7.56h-1.75zM463.04 262.51h4.75v7.56h-4.75zM490.03 262.51h1.75v7.56h-1.75zM494.53 262.51h4.75v7.56h-4.75zM500.53 262.51h7.75v7.56h-7.75zM511.02 262.51h4.75v7.56h-4.75zM517.02 262.51h4.75v7.56h-4.75zM523.02 262.51h3.25v7.56h-3.25zM530.52 262.51h3.25v7.56h-3.25zM538.01 262.51h7.75v7.56h-7.75zM550.01 262.51h1.75v7.56h-1.75zM557.51 262.51h1.75v7.56h-1.75zM562 262.51h1.75v7.56h-1.75zM565 262.51h7.75v7.56h-7.75zM94.17 269.77h3.25v7.56h-3.25zM106.17 269.77h4.75v7.56h-4.75zM113.67 269.77h1.75v7.56h-1.75zM136.16 269.77h10.75v7.56h-10.75zM148.15 269.77h4.75v7.56h-4.75zM154.15 269.77h1.75v7.56h-1.75zM163.15 269.77h1.75v7.56h-1.75zM181.14 269.77h1.75v7.56h-1.75zM190.14 269.77h6.25v7.56h-6.25zM200.64 269.77h9.25v7.56h-9.25zM215.63 269.77h1.75v7.56h-1.75zM238.12 269.77h3.25v7.56h-3.25zM242.62 269.77h1.75v7.56h-1.75zM259.11 269.77h1.75v7.56h-1.75zM262.11 269.77h7.75v7.56h-7.75zM271.11 269.77h1.75v7.56h-1.75zM274.11 269.77h3.25v7.56h-3.25zM283.11 269.77h13.75v7.56h-13.75zM317.59 269.77h1.75v7.56h-1.75zM320.59 269.77h3.25v7.56h-3.25zM326.59 269.77h4.75v7.56h-4.75zM334.09 269.77h1.75v7.56h-1.75zM344.58 269.77h4.75v7.56h-4.75zM350.58 269.77h4.75v7.56h-4.75zM361.08 269.77h1.75v7.56h-1.75zM368.57 269.77h1.75v7.56h-1.75zM373.07 269.77h6.25v7.56h-6.25zM395.56 269.77h3.25v7.56h-3.25zM401.56 269.77h1.75v7.56h-1.75zM413.56 269.77h1.75v7.56h-1.75zM428.55 269.77h1.75v7.56h-1.75zM439.05 269.77h4.75v7.56h-4.75zM454.04 269.77h1.75v7.56h-1.75zM463.04 269.77h4.75v7.56h-4.75zM490.03 269.77h1.75v7.56h-1.75zM494.53 269.77h3.25v7.56h-3.25zM500.53 269.77h3.25v7.56h-3.25zM505.02 269.77h3.25v7.56h-3.25zM511.02 269.77h4.75v7.56h-4.75zM517.02 269.77h4.75v7.56h-4.75zM523.02 269.77h3.25v7.56h-3.25zM530.52 269.77h3.25v7.56h-3.25zM538.01 269.77h3.25v7.56h-3.25zM544.01 269.77h1.75v7.56h-1.75zM550.01 269.77h1.75v7.56h-1.75zM553.01 269.77h1.75v7.56h-1.75zM557.51 269.77h1.75v7.56h-1.75zM562 269.77h3.25v7.56h-3.25zM566.5 269.77h7.75v7.56h-7.75zM26.7 277.04h3.25v7.56h-3.25zM31.2 277.04h3.25v7.56h-3.25zM37.19 277.04h4.75v7.56h-4.75zM43.19 277.04h4.75v7.56h-4.75zM50.69 277.04h3.25v7.56h-3.25zM55.19 277.04h3.25v7.56h-3.25zM65.68 277.04h1.75v7.56h-1.75zM70.18 277.04h1.75v7.56h-1.75zM73.18 277.04h1.75v7.56h-1.75zM76.18 277.04h1.75v7.56h-1.75zM79.18 277.04h10.75v7.56h-10.75zM91.17 277.04h1.75v7.56h-1.75zM94.17 277.04h3.25v7.56h-3.25zM98.67 277.04h1.75v7.56h-1.75zM106.17 277.04h4.75v7.56h-4.75zM113.67 277.04h1.75v7.56h-1.75zM127.16 277.04h1.75v7.56h-1.75zM134.66 277.04h12.25v7.56h-12.25zM148.15 277.04h4.75v7.56h-4.75zM154.15 277.04h1.75v7.56h-1.75zM163.15 277.04h1.75v7.56h-1.75zM181.14 277.04h1.75v7.56h-1.75zM190.14 277.04h6.25v7.56h-6.25zM200.64 277.04h9.25v7.56h-9.25zM217.13 277.04h1.75v7.56h-1.75zM223.13 277.04h1.75v7.56h-1.75zM238.12 277.04h6.25v7.56h-6.25zM245.62 277.04h6.25v7.56h-6.25zM254.62 277.04h1.75v7.56h-1.75zM257.61 277.04h3.25v7.56h-3.25zM262.11 277.04h7.75v7.56h-7.75zM271.11 277.04h1.75v7.56h-1.75zM274.11 277.04h3.25v7.56h-3.25zM286.1 277.04h10.75v7.56h-10.75zM317.59 277.04h6.25v7.56h-6.25zM326.59 277.04h6.25v7.56h-6.25zM334.09 277.04h1.75v7.56h-1.75zM344.58 277.04h10.75v7.56h-10.75zM361.08 277.04h3.25v7.56h-3.25zM374.57 277.04h4.75v7.56h-4.75zM388.07 277.04h1.75v7.56h-1.75zM395.56 277.04h4.75v7.56h-4.75zM401.56 277.04h1.75v7.56h-1.75zM406.06 277.04h1.75v7.56h-1.75zM421.06 277.04h1.75v7.56h-1.75zM439.05 277.04h4.75v7.56h-4.75zM454.04 277.04h1.75v7.56h-1.75zM490.03 277.04h1.75v7.56h-1.75zM494.53 277.04h1.75v7.56h-1.75zM497.53 277.04h1.75v7.56h-1.75zM500.53 277.04h3.25v7.56h-3.25zM506.52 277.04h1.75v7.56h-1.75zM514.02 277.04h7.75v7.56h-7.75zM524.52 277.04h1.75v7.56h-1.75zM530.52 277.04h3.25v7.56h-3.25zM538.01 277.04h3.25v7.56h-3.25zM544.01 277.04h1.75v7.56h-1.75zM550.01 277.04h1.75v7.56h-1.75zM553.01 277.04h1.75v7.56h-1.75zM557.51 277.04h1.75v7.56h-1.75zM562 277.04h3.25v7.56h-3.25zM566.5 277.04h7.75v7.56h-7.75z"/><path fill="#f8e018" d="M32.7 66.4h1.75v7.56h-1.75zM170.65 66.4h1.75v7.56h-1.75zM53.69 73.66h1.75v7.56h-1.75zM169.15 73.66h3.25v7.56h-3.25zM430.05 73.66h1.75v7.56h-1.75zM187.14 80.93h1.75v7.56h-1.75zM166.15 88.19h1.75v7.56h-1.75zM448.05 88.19h1.75v7.56h-1.75zM65.68 95.45h1.75v7.56h-1.75zM182.64 95.45h1.75v7.56h-1.75zM212.63 95.45h1.75v7.56h-1.75zM58.19 102.72h1.75v7.56h-1.75zM154.15 102.72h1.75v7.56h-1.75zM169.15 102.72h1.75v7.56h-1.75zM47.69 109.98h1.75v7.56h-1.75zM430.05 109.98h1.75v7.56h-1.75zM208.13 117.24h1.75v7.56h-1.75zM227.63 117.24h1.75v7.56h-1.75zM430.05 117.24h1.75v7.56h-1.75zM166.15 124.51h1.75v7.56h-1.75zM182.64 124.51h1.75v7.56h-1.75zM182.64 131.77h1.75v7.56h-1.75zM208.13 131.77h1.75v7.56h-1.75zM212.63 131.77h1.75v7.56h-1.75zM224.63 131.77h1.75v7.56h-1.75zM230.62 131.77h1.75v7.56h-1.75zM25.2 139.03h1.75v7.56h-1.75zM167.65 139.03h3.25v7.56h-3.25zM22.2 160.82h1.75v7.56h-1.75zM62.69 160.82h1.75v7.56h-1.75zM229.12 160.82h1.75v7.56h-1.75zM32.7 168.09h1.75v7.56h-1.75zM167.65 168.09h1.75v7.56h-1.75zM172.15 168.09h1.75v7.56h-1.75zM40.19 175.35h1.75v7.56h-1.75zM224.63 175.35h1.75v7.56h-1.75zM103.17 182.61h1.75v7.56h-1.75zM170.65 182.61h1.75v7.56h-1.75zM236.62 182.61h1.75v7.56h-1.75zM59.69 189.88h1.75v7.56h-1.75zM170.65 189.88h1.75v7.56h-1.75zM217.13 189.88h1.75v7.56h-1.75zM221.63 189.88h1.75v7.56h-1.75zM233.62 189.88h1.75v7.56h-1.75zM182.64 197.14h1.75v7.56h-1.75zM215.63 197.14h1.75v7.56h-1.75zM236.62 197.14h1.75v7.56h-1.75zM23.7 204.4h1.75v7.56h-1.75zM221.63 204.4h1.75v7.56h-1.75zM226.13 204.4h1.75v7.56h-1.75zM22.2 211.67h1.75v7.56h-1.75zM41.69 211.67h1.75v7.56h-1.75zM218.63 211.67h1.75v7.56h-1.75zM235.12 211.67h1.75v7.56h-1.75zM221.63 218.93h1.75v7.56h-1.75zM224.63 218.93h1.75v7.56h-1.75zM233.62 218.93h1.75v7.56h-1.75zM28.2 226.19h1.75v7.56h-1.75zM187.14 226.19h1.75v7.56h-1.75zM221.63 226.19h1.75v7.56h-1.75zM40.19 233.46h1.75v7.56h-1.75zM221.63 233.46h1.75v7.56h-1.75zM233.62 233.46h1.75v7.56h-1.75zM448.05 233.46h1.75v7.56h-1.75zM172.15 240.72h1.75v7.56h-1.75zM182.64 240.72h1.75v7.56h-1.75zM172.15 255.25h1.75v7.56h-1.75zM226.13 262.51h1.75v7.56h-1.75zM235.12 262.51h1.75v7.56h-1.75zM172.15 269.77h1.75v7.56h-1.75zM223.13 269.77h1.75v7.56h-1.75zM316.09 269.77h1.75v7.56h-1.75zM58.19 277.04h1.75v7.56h-1.75zM182.64 277.04h1.75v7.56h-1.75zM215.63 277.04h1.75v7.56h-1.75zM235.12 277.04h1.75v7.56h-1.75z"/><path fill="#f8d818" d="M35.7 66.4h1.75v7.56h-1.75zM65.68 66.4h1.75v7.56h-1.75zM103.17 66.4h1.75v7.56h-1.75zM154.15 66.4h1.75v7.56h-1.75zM158.65 66.4h3.25v7.56h-3.25zM167.65 66.4h3.25v7.56h-3.25zM172.15 66.4h6.25v7.56h-6.25zM184.14 66.4h1.75v7.56h-1.75zM224.63 66.4h1.75v7.56h-1.75zM227.63 66.4h1.75v7.56h-1.75zM304.1 66.4h1.75v7.56h-1.75zM308.6 66.4h3.25v7.56h-3.25zM313.09 66.4h1.75v7.56h-1.75zM364.08 66.4h1.75v7.56h-1.75zM416.56 66.4h4.75v7.56h-4.75zM446.55 66.4h3.25v7.56h-3.25zM485.53 66.4h1.75v7.56h-1.75zM26.7 73.66h1.75v7.56h-1.75zM46.19 73.66h1.75v7.56h-1.75zM50.69 73.66h1.75v7.56h-1.75zM155.65 73.66h1.75v7.56h-1.75zM158.65 73.66h3.25v7.56h-3.25zM163.15 73.66h6.25v7.56h-6.25zM172.15 73.66h1.75v7.56h-1.75zM175.14 73.66h1.75v7.56h-1.75zM178.14 73.66h3.25v7.56h-3.25zM182.64 73.66h6.25v7.56h-6.25zM226.13 73.66h1.75v7.56h-1.75zM310.1 73.66h1.75v7.56h-1.75zM314.59 73.66h1.75v7.56h-1.75zM332.59 73.66h1.75v7.56h-1.75zM416.56 73.66h1.75v7.56h-1.75zM419.56 73.66h1.75v7.56h-1.75zM422.55 73.66h1.75v7.56h-1.75zM428.55 73.66h1.75v7.56h-1.75zM436.05 73.66h3.25v7.56h-3.25zM448.05 73.66h1.75v7.56h-1.75zM452.54 73.66h1.75v7.56h-1.75zM478.03 73.66h1.75v7.56h-1.75zM547.01 73.66h1.75v7.56h-1.75zM556.01 73.66h1.75v7.56h-1.75zM22.2 80.93h1.75v7.56h-1.75zM28.2 80.93h3.25v7.56h-3.25zM64.18 80.93h3.25v7.56h-3.25zM100.17 80.93h1.75v7.56h-1.75zM125.66 80.93h1.75v7.56h-1.75zM157.15 80.93h1.75v7.56h-1.75zM163.15 80.93h6.25v7.56h-6.25zM170.65 80.93h1.75v7.56h-1.75zM176.64 80.93h3.25v7.56h-3.25zM182.64 80.93h1.75v7.56h-1.75zM185.64 80.93h1.75v7.56h-1.75zM218.63 80.93h1.75v7.56h-1.75zM224.63 80.93h1.75v7.56h-1.75zM302.6 80.93h1.75v7.56h-1.75zM305.6 80.93h1.75v7.56h-1.75zM308.6 80.93h3.25v7.56h-3.25zM316.09 80.93h1.75v7.56h-1.75zM365.58 80.93h1.75v7.56h-1.75zM430.05 80.93h1.75v7.56h-1.75zM434.55 80.93h1.75v7.56h-1.75zM449.55 80.93h1.75v7.56h-1.75zM154.15 88.19h4.75v7.56h-4.75zM164.65 88.19h1.75v7.56h-1.75zM176.64 88.19h1.75v7.56h-1.75zM187.14 88.19h1.75v7.56h-1.75zM52.19 95.45h1.75v7.56h-1.75zM100.17 95.45h1.75v7.56h-1.75zM103.17 95.45h1.75v7.56h-1.75zM157.15 95.45h1.75v7.56h-1.75zM160.15 95.45h1.75v7.56h-1.75zM163.15 95.45h3.25v7.56h-3.25zM167.65 95.45h1.75v7.56h-1.75zM172.15 95.45h4.75v7.56h-4.75zM178.14 95.45h1.75v7.56h-1.75zM187.14 95.45h1.75v7.56h-1.75zM221.63 95.45h1.75v7.56h-1.75zM227.63 95.45h1.75v7.56h-1.75zM304.1 95.45h3.25v7.56h-3.25zM308.6 95.45h1.75v7.56h-1.75zM316.09 95.45h1.75v7.56h-1.75zM370.07 95.45h1.75v7.56h-1.75zM446.55 95.45h1.75v7.56h-1.75zM35.7 102.72h3.25v7.56h-3.25zM65.68 102.72h1.75v7.56h-1.75zM115.17 102.72h1.75v7.56h-1.75zM160.15 102.72h1.75v7.56h-1.75zM163.15 102.72h6.25v7.56h-6.25zM170.65 102.72h1.75v7.56h-1.75zM175.14 102.72h1.75v7.56h-1.75zM178.14 102.72h1.75v7.56h-1.75zM182.64 102.72h4.75v7.56h-4.75zM304.1 102.72h1.75v7.56h-1.75zM389.57 102.72h3.25v7.56h-3.25zM434.55 102.72h3.25v7.56h-3.25zM448.05 102.72h1.75v7.56h-1.75zM23.7 109.98h1.75v7.56h-1.75zM32.7 109.98h1.75v7.56h-1.75zM70.18 109.98h1.75v7.56h-1.75zM100.17 109.98h1.75v7.56h-1.75zM103.17 109.98h1.75v7.56h-1.75zM154.15 109.98h1.75v7.56h-1.75zM157.15 109.98h1.75v7.56h-1.75zM166.15 109.98h1.75v7.56h-1.75zM169.15 109.98h3.25v7.56h-3.25zM173.65 109.98h7.75v7.56h-7.75zM182.64 109.98h1.75v7.56h-1.75zM362.58 109.98h1.75v7.56h-1.75zM391.07 109.98h1.75v7.56h-1.75zM419.56 109.98h1.75v7.56h-1.75zM437.55 109.98h1.75v7.56h-1.75zM446.55 109.98h4.75v7.56h-4.75zM103.17 117.24h1.75v7.56h-1.75zM154.15 117.24h1.75v7.56h-1.75zM166.15 117.24h1.75v7.56h-1.75zM169.15 117.24h4.75v7.56h-4.75zM175.14 117.24h3.25v7.56h-3.25zM179.64 117.24h1.75v7.56h-1.75zM182.64 117.24h1.75v7.56h-1.75zM185.64 117.24h1.75v7.56h-1.75zM296.6 117.24h1.75v7.56h-1.75zM308.6 117.24h1.75v7.56h-1.75zM313.09 117.24h3.25v7.56h-3.25zM368.57 117.24h1.75v7.56h-1.75zM389.57 117.24h1.75v7.56h-1.75zM419.56 117.24h1.75v7.56h-1.75zM437.55 117.24h1.75v7.56h-1.75zM103.17 124.51h1.75v7.56h-1.75zM160.15 124.51h1.75v7.56h-1.75zM167.65 124.51h6.25v7.56h-6.25zM175.14 124.51h3.25v7.56h-3.25zM184.14 124.51h1.75v7.56h-1.75zM383.57 124.51h1.75v7.56h-1.75zM448.05 124.51h1.75v7.56h-1.75zM550.01 124.51h1.75v7.56h-1.75zM100.17 131.77h3.25v7.56h-3.25zM160.15 131.77h1.75v7.56h-1.75zM164.65 131.77h1.75v7.56h-1.75zM169.15 131.77h3.25v7.56h-3.25zM173.65 131.77h1.75v7.56h-1.75zM176.64 131.77h1.75v7.56h-1.75zM185.64 131.77h1.75v7.56h-1.75zM302.6 131.77h1.75v7.56h-1.75zM314.59 131.77h3.25v7.56h-3.25zM389.57 131.77h1.75v7.56h-1.75zM430.05 131.77h1.75v7.56h-1.75zM446.55 131.77h1.75v7.56h-1.75zM458.54 131.77h1.75v7.56h-1.75zM62.69 139.03h1.75v7.56h-1.75zM68.68 139.03h1.75v7.56h-1.75zM158.65 139.03h1.75v7.56h-1.75zM163.15 139.03h1.75v7.56h-1.75zM166.15 139.03h1.75v7.56h-1.75zM170.65 139.03h3.25v7.56h-3.25zM175.14 139.03h1.75v7.56h-1.75zM178.14 139.03h1.75v7.56h-1.75zM181.14 139.03h1.75v7.56h-1.75zM184.14 139.03h1.75v7.56h-1.75zM187.14 139.03h1.75v7.56h-1.75zM206.63 139.03h1.75v7.56h-1.75zM230.62 139.03h1.75v7.56h-1.75zM272.61 139.03h1.75v7.56h-1.75zM304.1 139.03h1.75v7.56h-1.75zM448.05 139.03h3.25v7.56h-3.25zM478.03 139.03h1.75v7.56h-1.75zM100.17 146.3h1.75v7.56h-1.75zM103.17 146.3h1.75v7.56h-1.75zM166.15 146.3h1.75v7.56h-1.75zM179.64 146.3h3.25v7.56h-3.25zM187.14 146.3h1.75v7.56h-1.75zM211.13 146.3h1.75v7.56h-1.75zM448.05 146.3h4.75v7.56h-4.75zM488.53 146.3h1.75v7.56h-1.75zM65.68 153.56h1.75v7.56h-1.75zM100.17 153.56h1.75v7.56h-1.75zM110.67 153.56h1.75v7.56h-1.75zM119.66 153.56h1.75v7.56h-1.75zM209.63 153.56h1.75v7.56h-1.75zM389.57 153.56h1.75v7.56h-1.75zM449.55 153.56h1.75v7.56h-1.75zM517.02 153.56h1.75v7.56h-1.75zM64.18 160.82h1.75v7.56h-1.75zM89.68 160.82h1.75v7.56h-1.75zM100.17 160.82h1.75v7.56h-1.75zM155.65 160.82h1.75v7.56h-1.75zM158.65 160.82h1.75v7.56h-1.75zM163.15 160.82h1.75v7.56h-1.75zM181.14 160.82h1.75v7.56h-1.75zM310.1 160.82h1.75v7.56h-1.75zM316.09 160.82h1.75v7.56h-1.75zM389.57 160.82h1.75v7.56h-1.75zM419.56 160.82h1.75v7.56h-1.75zM422.55 160.82h1.75v7.56h-1.75zM485.53 160.82h1.75v7.56h-1.75zM29.7 168.09h1.75v7.56h-1.75zM44.69 168.09h1.75v7.56h-1.75zM103.17 168.09h1.75v7.56h-1.75zM154.15 168.09h7.75v7.56h-7.75zM166.15 168.09h1.75v7.56h-1.75zM169.15 168.09h3.25v7.56h-3.25zM176.64 168.09h4.75v7.56h-4.75zM304.1 168.09h3.25v7.56h-3.25zM311.6 168.09h3.25v7.56h-3.25zM446.55 168.09h3.25v7.56h-3.25zM37.19 175.35h1.75v7.56h-1.75zM77.68 175.35h1.75v7.56h-1.75zM103.17 175.35h1.75v7.56h-1.75zM167.65 175.35h1.75v7.56h-1.75zM172.15 175.35h7.75v7.56h-7.75zM182.64 175.35h1.75v7.56h-1.75zM185.64 175.35h1.75v7.56h-1.75zM209.63 175.35h1.75v7.56h-1.75zM212.63 175.35h1.75v7.56h-1.75zM218.63 175.35h4.75v7.56h-4.75zM227.63 175.35h1.75v7.56h-1.75zM233.62 175.35h1.75v7.56h-1.75zM236.62 175.35h1.75v7.56h-1.75zM302.6 175.35h1.75v7.56h-1.75zM310.1 175.35h1.75v7.56h-1.75zM313.09 175.35h1.75v7.56h-1.75zM448.05 175.35h3.25v7.56h-3.25zM172.15 182.61h1.75v7.56h-1.75zM209.63 182.61h4.75v7.56h-4.75zM215.63 182.61h1.75v7.56h-1.75zM61.19 189.88h1.75v7.56h-1.75zM101.67 189.88h3.25v7.56h-3.25zM155.65 189.88h1.75v7.56h-1.75zM172.15 189.88h1.75v7.56h-1.75zM176.64 189.88h1.75v7.56h-1.75zM214.13 189.88h1.75v7.56h-1.75zM218.63 189.88h3.25v7.56h-3.25zM224.63 189.88h1.75v7.56h-1.75zM236.62 189.88h1.75v7.56h-1.75zM305.6 189.88h1.75v7.56h-1.75zM311.6 189.88h6.25v7.56h-6.25zM422.55 189.88h1.75v7.56h-1.75zM448.05 189.88h1.75v7.56h-1.75zM499.03 189.88h1.75v7.56h-1.75zM23.7 197.14h1.75v7.56h-1.75zM28.2 197.14h1.75v7.56h-1.75zM100.17 197.14h1.75v7.56h-1.75zM170.65 197.14h6.25v7.56h-6.25zM178.14 197.14h1.75v7.56h-1.75zM209.63 197.14h1.75v7.56h-1.75zM218.63 197.14h1.75v7.56h-1.75zM224.63 197.14h1.75v7.56h-1.75zM227.63 197.14h3.25v7.56h-3.25zM233.62 197.14h1.75v7.56h-1.75zM242.62 197.14h1.75v7.56h-1.75zM305.6 197.14h1.75v7.56h-1.75zM311.6 197.14h1.75v7.56h-1.75zM446.55 197.14h1.75v7.56h-1.75zM76.18 204.4h1.75v7.56h-1.75zM172.15 204.4h1.75v7.56h-1.75zM176.64 204.4h3.25v7.56h-3.25zM212.63 204.4h3.25v7.56h-3.25zM217.13 204.4h3.25v7.56h-3.25zM229.12 204.4h1.75v7.56h-1.75zM232.12 204.4h4.75v7.56h-4.75zM304.1 204.4h3.25v7.56h-3.25zM310.1 204.4h3.25v7.56h-3.25zM359.58 204.4h1.75v7.56h-1.75zM449.55 204.4h1.75v7.56h-1.75zM484.03 204.4h1.75v7.56h-1.75zM35.7 211.67h1.75v7.56h-1.75zM47.69 211.67h1.75v7.56h-1.75zM58.19 211.67h1.75v7.56h-1.75zM100.17 211.67h6.25v7.56h-6.25zM119.66 211.67h1.75v7.56h-1.75zM170.65 211.67h3.25v7.56h-3.25zM176.64 211.67h1.75v7.56h-1.75zM181.14 211.67h1.75v7.56h-1.75zM209.63 211.67h1.75v7.56h-1.75zM214.13 211.67h1.75v7.56h-1.75zM229.12 211.67h1.75v7.56h-1.75zM232.12 211.67h3.25v7.56h-3.25zM236.62 211.67h1.75v7.56h-1.75zM305.6 211.67h1.75v7.56h-1.75zM308.6 211.67h3.25v7.56h-3.25zM314.59 211.67h3.25v7.56h-3.25zM404.56 211.67h1.75v7.56h-1.75zM503.53 211.67h1.75v7.56h-1.75zM512.52 211.67h1.75v7.56h-1.75zM47.69 218.93h1.75v7.56h-1.75zM101.67 218.93h3.25v7.56h-3.25zM170.65 218.93h1.75v7.56h-1.75zM173.65 218.93h4.75v7.56h-4.75zM209.63 218.93h1.75v7.56h-1.75zM214.13 218.93h1.75v7.56h-1.75zM218.63 218.93h1.75v7.56h-1.75zM223.13 218.93h1.75v7.56h-1.75zM230.62 218.93h3.25v7.56h-3.25zM302.6 218.93h4.75v7.56h-4.75zM314.59 218.93h3.25v7.56h-3.25zM448.05 218.93h3.25v7.56h-3.25zM52.19 226.19h1.75v7.56h-1.75zM104.67 226.19h1.75v7.56h-1.75zM175.14 226.19h1.75v7.56h-1.75zM178.14 226.19h1.75v7.56h-1.75zM181.14 226.19h3.25v7.56h-3.25zM185.64 226.19h1.75v7.56h-1.75zM214.13 226.19h1.75v7.56h-1.75zM218.63 226.19h3.25v7.56h-3.25zM224.63 226.19h1.75v7.56h-1.75zM227.63 226.19h4.75v7.56h-4.75zM233.62 226.19h1.75v7.56h-1.75zM236.62 226.19h1.75v7.56h-1.75zM302.6 226.19h1.75v7.56h-1.75zM305.6 226.19h1.75v7.56h-1.75zM308.6 226.19h1.75v7.56h-1.75zM314.59 226.19h3.25v7.56h-3.25zM448.05 226.19h3.25v7.56h-3.25zM23.7 233.46h1.75v7.56h-1.75zM103.17 233.46h1.75v7.56h-1.75zM170.65 233.46h3.25v7.56h-3.25zM179.64 233.46h1.75v7.56h-1.75zM185.64 233.46h4.75v7.56h-4.75zM211.13 233.46h4.75v7.56h-4.75zM218.63 233.46h3.25v7.56h-3.25zM224.63 233.46h1.75v7.56h-1.75zM236.62 233.46h1.75v7.56h-1.75zM305.6 233.46h1.75v7.56h-1.75zM316.09 233.46h1.75v7.56h-1.75zM410.56 233.46h1.75v7.56h-1.75zM446.55 233.46h1.75v7.56h-1.75zM451.04 233.46h1.75v7.56h-1.75zM100.17 240.72h4.75v7.56h-4.75zM130.16 240.72h1.75v7.56h-1.75zM170.65 240.72h1.75v7.56h-1.75zM179.64 240.72h1.75v7.56h-1.75zM185.64 240.72h3.25v7.56h-3.25zM209.63 240.72h6.25v7.56h-6.25zM236.62 240.72h1.75v7.56h-1.75zM446.55 240.72h4.75v7.56h-4.75zM103.17 247.98h1.75v7.56h-1.75zM170.65 247.98h3.25v7.56h-3.25zM175.14 247.98h3.25v7.56h-3.25zM182.64 247.98h1.75v7.56h-1.75zM185.64 247.98h4.75v7.56h-4.75zM209.63 247.98h1.75v7.56h-1.75zM212.63 247.98h1.75v7.56h-1.75zM446.55 247.98h3.25v7.56h-3.25zM170.65 255.25h1.75v7.56h-1.75zM173.65 255.25h1.75v7.56h-1.75zM176.64 255.25h1.75v7.56h-1.75zM179.64 255.25h3.25v7.56h-3.25zM185.64 255.25h1.75v7.56h-1.75zM236.62 255.25h1.75v7.56h-1.75zM242.62 255.25h1.75v7.56h-1.75zM448.05 255.25h1.75v7.56h-1.75zM101.67 262.51h1.75v7.56h-1.75zM170.65 262.51h1.75v7.56h-1.75zM173.65 262.51h1.75v7.56h-1.75zM178.14 262.51h1.75v7.56h-1.75zM187.14 262.51h3.25v7.56h-3.25zM209.63 262.51h4.75v7.56h-4.75zM229.12 262.51h3.25v7.56h-3.25zM233.62 262.51h1.75v7.56h-1.75zM236.62 262.51h1.75v7.56h-1.75zM308.6 262.51h1.75v7.56h-1.75zM311.6 262.51h1.75v7.56h-1.75zM314.59 262.51h3.25v7.56h-3.25zM388.07 262.51h1.75v7.56h-1.75zM446.55 262.51h1.75v7.56h-1.75zM35.7 269.77h1.75v7.56h-1.75zM101.67 269.77h1.75v7.56h-1.75zM178.14 269.77h3.25v7.56h-3.25zM182.64 269.77h3.25v7.56h-3.25zM187.14 269.77h3.25v7.56h-3.25zM212.63 269.77h3.25v7.56h-3.25zM217.13 269.77h1.75v7.56h-1.75zM226.13 269.77h4.75v7.56h-4.75zM232.12 269.77h1.75v7.56h-1.75zM235.12 269.77h3.25v7.56h-3.25zM304.1 269.77h1.75v7.56h-1.75zM308.6 269.77h1.75v7.56h-1.75zM313.09 269.77h1.75v7.56h-1.75zM449.55 269.77h1.75v7.56h-1.75zM472.04 269.77h1.75v7.56h-1.75zM503.53 269.77h1.75v7.56h-1.75zM100.17 277.04h1.75v7.56h-1.75zM103.17 277.04h1.75v7.56h-1.75zM110.67 277.04h1.75v7.56h-1.75zM170.65 277.04h3.25v7.56h-3.25zM178.14 277.04h1.75v7.56h-1.75zM209.63 277.04h6.25v7.56h-6.25zM218.63 277.04h3.25v7.56h-3.25zM224.63 277.04h3.25v7.56h-3.25zM230.62 277.04h1.75v7.56h-1.75zM233.62 277.04h1.75v7.56h-1.75zM236.62 277.04h1.75v7.56h-1.75zM304.1 277.04h1.75v7.56h-1.75zM311.6 277.04h1.75v7.56h-1.75zM316.09 277.04h1.75v7.56h-1.75z"/><path fill="#f0a820" d="M37.19 66.4h1.75v7.56h-1.75zM40.19 66.4h1.75v7.56h-1.75zM52.19 66.4h1.75v7.56h-1.75zM56.69 66.4h1.75v7.56h-1.75zM415.06 66.4h1.75v7.56h-1.75zM38.69 73.66h1.75v7.56h-1.75zM301.1 73.66h1.75v7.56h-1.75zM449.55 73.66h1.75v7.56h-1.75zM161.65 80.93h1.75v7.56h-1.75zM307.1 80.93h1.75v7.56h-1.75zM335.59 80.93h1.75v7.56h-1.75zM379.07 80.93h1.75v7.56h-1.75zM382.07 80.93h1.75v7.56h-1.75zM469.04 80.93h1.75v7.56h-1.75zM32.7 88.19h1.75v7.56h-1.75zM35.7 88.19h1.75v7.56h-1.75zM44.69 88.19h1.75v7.56h-1.75zM160.15 88.19h1.75v7.56h-1.75zM298.1 88.19h3.25v7.56h-3.25zM418.06 88.19h1.75v7.56h-1.75zM422.55 88.19h1.75v7.56h-1.75zM428.55 88.19h1.75v7.56h-1.75zM431.55 88.19h1.75v7.56h-1.75zM437.55 88.19h1.75v7.56h-1.75zM490.03 88.19h1.75v7.56h-1.75zM26.7 95.45h1.75v7.56h-1.75zM40.19 95.45h1.75v7.56h-1.75zM44.69 95.45h1.75v7.56h-1.75zM428.55 95.45h1.75v7.56h-1.75zM437.55 95.45h1.75v7.56h-1.75zM451.04 95.45h1.75v7.56h-1.75zM472.04 95.45h1.75v7.56h-1.75zM488.53 95.45h1.75v7.56h-1.75zM112.17 102.72h1.75v7.56h-1.75zM211.13 102.72h1.75v7.56h-1.75zM235.12 102.72h3.25v7.56h-3.25zM284.6 102.72h1.75v7.56h-1.75zM115.17 109.98h1.75v7.56h-1.75zM211.13 109.98h1.75v7.56h-1.75zM214.13 109.98h1.75v7.56h-1.75zM379.07 109.98h1.75v7.56h-1.75zM79.18 117.24h1.75v7.56h-1.75zM92.67 117.24h1.75v7.56h-1.75zM260.61 117.24h1.75v7.56h-1.75zM283.11 117.24h1.75v7.56h-1.75zM380.57 117.24h1.75v7.56h-1.75zM527.52 117.24h1.75v7.56h-1.75zM25.2 124.51h1.75v7.56h-1.75zM38.69 124.51h1.75v7.56h-1.75zM49.19 124.51h1.75v7.56h-1.75zM208.13 124.51h1.75v7.56h-1.75zM226.13 124.51h1.75v7.56h-1.75zM304.1 124.51h3.25v7.56h-3.25zM308.6 124.51h1.75v7.56h-1.75zM316.09 124.51h1.75v7.56h-1.75zM389.57 124.51h1.75v7.56h-1.75zM409.06 124.51h1.75v7.56h-1.75zM431.55 124.51h1.75v7.56h-1.75zM286.1 131.77h1.75v7.56h-1.75zM329.59 131.77h1.75v7.56h-1.75zM380.57 131.77h1.75v7.56h-1.75zM427.05 131.77h1.75v7.56h-1.75zM298.1 139.03h1.75v7.56h-1.75zM403.06 139.03h1.75v7.56h-1.75zM415.06 139.03h1.75v7.56h-1.75zM428.55 139.03h1.75v7.56h-1.75zM431.55 139.03h1.75v7.56h-1.75zM434.55 139.03h1.75v7.56h-1.75zM461.54 139.03h1.75v7.56h-1.75zM25.2 146.3h1.75v7.56h-1.75zM31.2 146.3h1.75v7.56h-1.75zM37.19 146.3h1.75v7.56h-1.75zM40.19 146.3h1.75v7.56h-1.75zM65.68 146.3h1.75v7.56h-1.75zM230.62 146.3h1.75v7.56h-1.75zM310.1 146.3h1.75v7.56h-1.75zM337.09 146.3h1.75v7.56h-1.75zM424.05 146.3h1.75v7.56h-1.75zM458.54 146.3h1.75v7.56h-1.75zM521.52 146.3h1.75v7.56h-1.75zM32.7 153.56h1.75v7.56h-1.75zM218.63 153.56h1.75v7.56h-1.75zM329.59 153.56h1.75v7.56h-1.75zM415.06 153.56h1.75v7.56h-1.75zM421.06 153.56h1.75v7.56h-1.75zM424.05 153.56h1.75v7.56h-1.75zM430.05 153.56h1.75v7.56h-1.75zM437.55 153.56h1.75v7.56h-1.75zM380.57 160.82h1.75v7.56h-1.75zM196.14 168.09h1.75v7.56h-1.75zM380.57 175.35h1.75v7.56h-1.75zM26.7 182.61h1.75v7.56h-1.75zM49.19 182.61h1.75v7.56h-1.75zM53.69 182.61h1.75v7.56h-1.75zM56.69 182.61h1.75v7.56h-1.75zM61.19 182.61h1.75v7.56h-1.75zM65.68 182.61h1.75v7.56h-1.75zM92.67 182.61h1.75v7.56h-1.75zM218.63 182.61h3.25v7.56h-3.25zM229.12 182.61h1.75v7.56h-1.75zM301.1 182.61h1.75v7.56h-1.75zM400.06 182.61h1.75v7.56h-1.75zM131.66 189.88h1.75v7.56h-1.75zM356.58 189.88h1.75v7.56h-1.75zM445.05 189.88h1.75v7.56h-1.75zM527.52 189.88h1.75v7.56h-1.75zM367.07 197.14h1.75v7.56h-1.75zM92.67 204.4h1.75v7.56h-1.75zM131.66 204.4h1.75v7.56h-1.75zM524.52 204.4h1.75v7.56h-1.75zM542.51 204.4h1.75v7.56h-1.75zM130.16 211.67h1.75v7.56h-1.75zM185.64 211.67h1.75v7.56h-1.75zM428.55 211.67h1.75v7.56h-1.75zM433.05 211.67h1.75v7.56h-1.75zM184.14 218.93h1.75v7.56h-1.75zM341.58 218.93h1.75v7.56h-1.75zM379.07 218.93h1.75v7.56h-1.75zM467.54 218.93h1.75v7.56h-1.75zM244.12 226.19h1.75v7.56h-1.75zM370.07 226.19h1.75v7.56h-1.75zM433.05 226.19h1.75v7.56h-1.75zM542.51 226.19h1.75v7.56h-1.75zM556.01 226.19h1.75v7.56h-1.75zM98.67 233.46h1.75v7.56h-1.75zM110.67 233.46h1.75v7.56h-1.75zM379.07 233.46h1.75v7.56h-1.75zM418.06 233.46h1.75v7.56h-1.75zM424.05 233.46h1.75v7.56h-1.75zM493.03 233.46h1.75v7.56h-1.75zM22.2 240.72h1.75v7.56h-1.75zM52.19 240.72h3.25v7.56h-3.25zM76.18 240.72h1.75v7.56h-1.75zM83.68 240.72h1.75v7.56h-1.75zM92.67 240.72h1.75v7.56h-1.75zM227.63 240.72h1.75v7.56h-1.75zM235.12 240.72h1.75v7.56h-1.75zM244.12 240.72h1.75v7.56h-1.75zM304.1 240.72h1.75v7.56h-1.75zM308.6 240.72h6.25v7.56h-6.25zM410.56 240.72h1.75v7.56h-1.75zM482.53 240.72h1.75v7.56h-1.75zM493.03 240.72h1.75v7.56h-1.75zM551.51 240.72h1.75v7.56h-1.75zM47.69 247.98h1.75v7.56h-1.75zM53.69 247.98h1.75v7.56h-1.75zM73.18 247.98h1.75v7.56h-1.75zM85.18 247.98h1.75v7.56h-1.75zM226.13 247.98h1.75v7.56h-1.75zM305.6 247.98h1.75v7.56h-1.75zM308.6 247.98h1.75v7.56h-1.75zM379.07 247.98h1.75v7.56h-1.75zM478.03 247.98h1.75v7.56h-1.75zM223.13 255.25h1.75v7.56h-1.75zM230.62 255.25h1.75v7.56h-1.75zM298.1 255.25h3.25v7.56h-3.25zM304.1 255.25h6.25v7.56h-6.25zM479.53 255.25h1.75v7.56h-1.75zM533.51 255.25h1.75v7.56h-1.75zM22.2 262.51h3.25v7.56h-3.25zM29.7 262.51h1.75v7.56h-1.75zM32.7 262.51h1.75v7.56h-1.75zM38.69 262.51h1.75v7.56h-1.75zM64.18 262.51h3.25v7.56h-3.25zM70.18 262.51h1.75v7.56h-1.75zM82.18 262.51h1.75v7.56h-1.75zM37.19 269.77h3.25v7.56h-3.25zM43.19 269.77h1.75v7.56h-1.75zM62.69 269.77h1.75v7.56h-1.75zM65.68 269.77h1.75v7.56h-1.75zM133.16 269.77h1.75v7.56h-1.75zM331.09 269.77h1.75v7.56h-1.75zM448.05 269.77h1.75v7.56h-1.75zM112.17 277.04h1.75v7.56h-1.75zM197.64 277.04h1.75v7.56h-1.75zM301.1 277.04h1.75v7.56h-1.75zM307.1 277.04h1.75v7.56h-1.75z"/><path fill="#f0b020" d="M38.69 66.4h1.75v7.56h-1.75zM298.1 66.4h1.75v7.56h-1.75zM409.06 66.4h1.75v7.56h-1.75zM433.05 66.4h1.75v7.56h-1.75zM116.67 73.66h1.75v7.56h-1.75zM545.51 73.66h1.75v7.56h-1.75zM38.69 80.93h1.75v7.56h-1.75zM47.69 80.93h1.75v7.56h-1.75zM154.15 80.93h1.75v7.56h-1.75zM301.1 80.93h1.75v7.56h-1.75zM445.05 80.93h1.75v7.56h-1.75zM65.68 88.19h1.75v7.56h-1.75zM161.65 88.19h1.75v7.56h-1.75zM172.15 88.19h1.75v7.56h-1.75zM310.1 88.19h1.75v7.56h-1.75zM409.06 88.19h1.75v7.56h-1.75zM430.05 88.19h1.75v7.56h-1.75zM28.2 95.45h1.75v7.56h-1.75zM37.19 95.45h1.75v7.56h-1.75zM335.59 95.45h1.75v7.56h-1.75zM389.57 95.45h1.75v7.56h-1.75zM427.05 95.45h1.75v7.56h-1.75zM445.05 95.45h1.75v7.56h-1.75zM44.69 102.72h1.75v7.56h-1.75zM86.68 102.72h1.75v7.56h-1.75zM121.16 102.72h1.75v7.56h-1.75zM206.63 102.72h3.25v7.56h-3.25zM296.6 102.72h3.25v7.56h-3.25zM392.57 102.72h1.75v7.56h-1.75zM424.05 102.72h1.75v7.56h-1.75zM218.63 109.98h1.75v7.56h-1.75zM221.63 109.98h1.75v7.56h-1.75zM235.12 109.98h1.75v7.56h-1.75zM43.19 117.24h1.75v7.56h-1.75zM67.18 117.24h1.75v7.56h-1.75zM55.19 124.51h1.75v7.56h-1.75zM229.12 124.51h1.75v7.56h-1.75zM232.12 124.51h1.75v7.56h-1.75zM287.6 124.51h1.75v7.56h-1.75zM335.59 124.51h1.75v7.56h-1.75zM430.05 124.51h1.75v7.56h-1.75zM493.03 124.51h1.75v7.56h-1.75zM467.54 131.77h1.75v7.56h-1.75zM370.07 139.03h1.75v7.56h-1.75zM44.69 146.3h1.75v7.56h-1.75zM50.69 146.3h1.75v7.56h-1.75zM59.69 146.3h1.75v7.56h-1.75zM416.56 146.3h1.75v7.56h-1.75zM430.05 146.3h1.75v7.56h-1.75zM434.55 146.3h1.75v7.56h-1.75zM461.54 146.3h1.75v7.56h-1.75zM26.7 153.56h1.75v7.56h-1.75zM29.7 153.56h1.75v7.56h-1.75zM394.07 153.56h1.75v7.56h-1.75zM416.56 153.56h1.75v7.56h-1.75zM433.05 153.56h1.75v7.56h-1.75zM70.18 160.82h1.75v7.56h-1.75zM445.05 160.82h1.75v7.56h-1.75zM50.69 168.09h1.75v7.56h-1.75zM551.51 168.09h1.75v7.56h-1.75zM62.69 175.35h1.75v7.56h-1.75zM409.06 175.35h1.75v7.56h-1.75zM22.2 182.61h1.75v7.56h-1.75zM179.64 182.61h1.75v7.56h-1.75zM185.64 182.61h1.75v7.56h-1.75zM227.63 182.61h1.75v7.56h-1.75zM244.12 182.61h1.75v7.56h-1.75zM437.55 182.61h1.75v7.56h-1.75zM161.65 189.88h1.75v7.56h-1.75zM551.51 204.4h1.75v7.56h-1.75zM43.19 211.67h1.75v7.56h-1.75zM244.12 218.93h1.75v7.56h-1.75zM493.03 218.93h1.75v7.56h-1.75zM35.7 226.19h1.75v7.56h-1.75zM355.08 226.19h1.75v7.56h-1.75zM43.19 233.46h1.75v7.56h-1.75zM244.12 233.46h1.75v7.56h-1.75zM416.56 233.46h1.75v7.56h-1.75zM499.03 233.46h1.75v7.56h-1.75zM233.62 240.72h1.75v7.56h-1.75zM335.59 240.72h1.75v7.56h-1.75zM32.7 247.98h1.75v7.56h-1.75zM302.6 247.98h1.75v7.56h-1.75zM385.07 247.98h1.75v7.56h-1.75zM445.05 247.98h1.75v7.56h-1.75zM554.51 247.98h1.75v7.56h-1.75zM196.14 255.25h1.75v7.56h-1.75zM229.12 255.25h1.75v7.56h-1.75zM233.62 255.25h1.75v7.56h-1.75zM469.04 255.25h3.25v7.56h-3.25zM478.03 255.25h1.75v7.56h-1.75zM25.2 262.51h1.75v7.56h-1.75zM40.19 262.51h1.75v7.56h-1.75zM80.68 262.51h1.75v7.56h-1.75zM85.18 262.51h1.75v7.56h-1.75zM46.19 269.77h1.75v7.56h-1.75zM49.19 269.77h1.75v7.56h-1.75zM52.19 269.77h3.25v7.56h-3.25zM337.09 269.77h1.75v7.56h-1.75zM484.03 269.77h1.75v7.56h-1.75zM298.1 277.04h1.75v7.56h-1.75zM409.06 277.04h1.75v7.56h-1.75zM433.05 277.04h1.75v7.56h-1.75zM436.05 277.04h1.75v7.56h-1.75z"/><path fill="#f0a020" d="M43.19 66.4h1.75v7.56h-1.75zM116.67 66.4h1.75v7.56h-1.75zM161.65 66.4h1.75v7.56h-1.75zM379.07 66.4h1.75v7.56h-1.75zM470.54 66.4h1.75v7.56h-1.75zM496.03 66.4h1.75v7.56h-1.75zM542.51 66.4h1.75v7.56h-1.75zM76.18 73.66h1.75v7.56h-1.75zM161.65 73.66h1.75v7.56h-1.75zM196.14 73.66h1.75v7.56h-1.75zM329.59 73.66h1.75v7.56h-1.75zM43.19 80.93h1.75v7.56h-1.75zM337.09 80.93h1.75v7.56h-1.75zM368.57 80.93h1.75v7.56h-1.75zM460.04 80.93h1.75v7.56h-1.75zM49.19 88.19h1.75v7.56h-1.75zM307.1 88.19h1.75v7.56h-1.75zM467.54 88.19h1.75v7.56h-1.75zM493.03 88.19h1.75v7.56h-1.75zM542.51 88.19h1.75v7.56h-1.75zM548.51 88.19h1.75v7.56h-1.75zM25.2 95.45h1.75v7.56h-1.75zM38.69 95.45h1.75v7.56h-1.75zM41.69 95.45h1.75v7.56h-1.75zM47.69 95.45h1.75v7.56h-1.75zM125.66 95.45h1.75v7.56h-1.75zM392.57 95.45h1.75v7.56h-1.75zM419.56 95.45h1.75v7.56h-1.75zM431.55 95.45h1.75v7.56h-1.75zM467.54 95.45h1.75v7.56h-1.75zM38.69 102.72h1.75v7.56h-1.75zM92.67 102.72h1.75v7.56h-1.75zM104.67 102.72h1.75v7.56h-1.75zM125.66 102.72h1.75v7.56h-1.75zM214.13 102.72h1.75v7.56h-1.75zM232.12 102.72h1.75v7.56h-1.75zM269.61 102.72h1.75v7.56h-1.75zM212.63 109.98h1.75v7.56h-1.75zM230.62 109.98h1.75v7.56h-1.75zM427.05 109.98h1.75v7.56h-1.75zM445.05 109.98h1.75v7.56h-1.75zM467.54 109.98h1.75v7.56h-1.75zM472.04 109.98h1.75v7.56h-1.75zM536.51 109.98h1.75v7.56h-1.75zM356.58 117.24h1.75v7.56h-1.75zM403.06 117.24h1.75v7.56h-1.75zM415.06 117.24h1.75v7.56h-1.75zM26.7 124.51h1.75v7.56h-1.75zM83.68 124.51h1.75v7.56h-1.75zM206.63 124.51h1.75v7.56h-1.75zM299.6 124.51h1.75v7.56h-1.75zM307.1 124.51h1.75v7.56h-1.75zM310.1 124.51h1.75v7.56h-1.75zM337.09 124.51h1.75v7.56h-1.75zM380.57 124.51h1.75v7.56h-1.75zM421.06 124.51h1.75v7.56h-1.75zM425.55 124.51h1.75v7.56h-1.75zM475.04 131.77h1.75v7.56h-1.75zM103.17 139.03h1.75v7.56h-1.75zM422.55 139.03h1.75v7.56h-1.75zM467.54 139.03h1.75v7.56h-1.75zM28.2 146.3h1.75v7.56h-1.75zM38.69 146.3h1.75v7.56h-1.75zM41.69 146.3h1.75v7.56h-1.75zM46.19 146.3h1.75v7.56h-1.75zM52.19 146.3h1.75v7.56h-1.75zM62.69 146.3h1.75v7.56h-1.75zM214.13 146.3h1.75v7.56h-1.75zM229.12 146.3h1.75v7.56h-1.75zM305.6 146.3h1.75v7.56h-1.75zM311.6 146.3h1.75v7.56h-1.75zM316.09 146.3h1.75v7.56h-1.75zM329.59 146.3h1.75v7.56h-1.75zM361.08 146.3h1.75v7.56h-1.75zM419.56 146.3h1.75v7.56h-1.75zM467.54 146.3h1.75v7.56h-1.75zM23.7 153.56h1.75v7.56h-1.75zM37.19 153.56h1.75v7.56h-1.75zM221.63 153.56h3.25v7.56h-3.25zM226.13 153.56h1.75v7.56h-1.75zM229.12 153.56h1.75v7.56h-1.75zM232.12 153.56h3.25v7.56h-3.25zM310.1 153.56h1.75v7.56h-1.75zM335.59 153.56h1.75v7.56h-1.75zM383.57 153.56h1.75v7.56h-1.75zM407.56 153.56h1.75v7.56h-1.75zM425.55 153.56h1.75v7.56h-1.75zM428.55 153.56h1.75v7.56h-1.75zM82.18 160.82h1.75v7.56h-1.75zM92.67 160.82h1.75v7.56h-1.75zM136.16 160.82h1.75v7.56h-1.75zM394.07 168.09h1.75v7.56h-1.75zM473.54 168.09h1.75v7.56h-1.75zM515.52 168.09h1.75v7.56h-1.75zM98.67 175.35h1.75v7.56h-1.75zM244.12 175.35h1.75v7.56h-1.75zM307.1 175.35h1.75v7.56h-1.75zM535.01 175.35h1.75v7.56h-1.75zM34.2 182.61h1.75v7.56h-1.75zM41.69 182.61h1.75v7.56h-1.75zM50.69 182.61h1.75v7.56h-1.75zM128.66 182.61h1.75v7.56h-1.75zM176.64 182.61h1.75v7.56h-1.75zM221.63 182.61h1.75v7.56h-1.75zM232.12 182.61h1.75v7.56h-1.75zM299.6 182.61h1.75v7.56h-1.75zM308.6 182.61h1.75v7.56h-1.75zM311.6 182.61h1.75v7.56h-1.75zM428.55 182.61h1.75v7.56h-1.75zM476.54 182.61h1.75v7.56h-1.75zM419.56 189.88h1.75v7.56h-1.75zM161.65 197.14h1.75v7.56h-1.75zM335.59 197.14h1.75v7.56h-1.75zM475.04 197.14h1.75v7.56h-1.75zM521.52 197.14h1.75v7.56h-1.75zM157.15 204.4h1.75v7.56h-1.75zM187.14 204.4h1.75v7.56h-1.75zM526.02 204.4h1.75v7.56h-1.75zM188.64 211.67h1.75v7.56h-1.75zM424.05 211.67h1.75v7.56h-1.75zM436.05 211.67h1.75v7.56h-1.75zM527.52 211.67h1.75v7.56h-1.75zM187.14 218.93h1.75v7.56h-1.75zM343.08 218.93h1.75v7.56h-1.75zM380.57 218.93h1.75v7.56h-1.75zM527.52 218.93h1.75v7.56h-1.75zM196.14 226.19h1.75v7.56h-1.75zM400.06 226.19h1.75v7.56h-1.75zM487.03 226.19h1.75v7.56h-1.75zM515.52 226.19h1.75v7.56h-1.75zM112.17 233.46h1.75v7.56h-1.75zM404.56 233.46h1.75v7.56h-1.75zM85.18 240.72h1.75v7.56h-1.75zM220.13 240.72h1.75v7.56h-1.75zM307.1 240.72h1.75v7.56h-1.75zM409.06 240.72h1.75v7.56h-1.75zM481.03 240.72h1.75v7.56h-1.75zM34.2 247.98h1.75v7.56h-1.75zM62.69 247.98h4.75v7.56h-4.75zM92.67 247.98h1.75v7.56h-1.75zM230.62 247.98h1.75v7.56h-1.75zM233.62 247.98h3.25v7.56h-3.25zM403.06 247.98h1.75v7.56h-1.75zM409.06 247.98h1.75v7.56h-1.75zM481.03 247.98h1.75v7.56h-1.75zM487.03 247.98h1.75v7.56h-1.75zM493.03 247.98h1.75v7.56h-1.75zM110.67 255.25h1.75v7.56h-1.75zM121.16 255.25h1.75v7.56h-1.75zM169.15 255.25h1.75v7.56h-1.75zM370.07 255.25h1.75v7.56h-1.75zM508.02 255.25h1.75v7.56h-1.75zM49.19 262.51h1.75v7.56h-1.75zM59.69 262.51h1.75v7.56h-1.75zM77.68 262.51h1.75v7.56h-1.75zM83.68 262.51h1.75v7.56h-1.75zM86.68 262.51h1.75v7.56h-1.75zM89.68 262.51h1.75v7.56h-1.75zM433.05 262.51h1.75v7.56h-1.75zM56.69 269.77h1.75v7.56h-1.75zM79.18 269.77h1.75v7.56h-1.75zM85.18 269.77h1.75v7.56h-1.75zM362.58 269.77h1.75v7.56h-1.75zM407.56 269.77h1.75v7.56h-1.75zM467.54 269.77h1.75v7.56h-1.75zM515.52 269.77h1.75v7.56h-1.75zM452.54 277.04h1.75v7.56h-1.75z"/><path fill="#f09820" d="M50.69 66.4h1.75v7.56h-1.75zM427.05 66.4h1.75v7.56h-1.75zM43.19 73.66h1.75v7.56h-1.75zM92.67 73.66h1.75v7.56h-1.75zM335.59 73.66h1.75v7.56h-1.75zM271.11 80.93h1.75v7.56h-1.75zM329.59 80.93h1.75v7.56h-1.75zM98.67 88.19h1.75v7.56h-1.75zM158.65 88.19h1.75v7.56h-1.75zM415.06 88.19h1.75v7.56h-1.75zM424.05 88.19h1.75v7.56h-1.75zM434.55 88.19h3.25v7.56h-3.25zM542.51 95.45h1.75v7.56h-1.75zM427.05 102.72h1.75v7.56h-1.75zM445.05 102.72h1.75v7.56h-1.75zM515.52 102.72h1.75v7.56h-1.75zM220.13 109.98h1.75v7.56h-1.75zM343.08 109.98h1.75v7.56h-1.75zM275.61 117.24h1.75v7.56h-1.75zM28.2 124.51h1.75v7.56h-1.75zM40.19 124.51h1.75v7.56h-1.75zM44.69 124.51h1.75v7.56h-1.75zM209.63 124.51h1.75v7.56h-1.75zM230.62 124.51h1.75v7.56h-1.75zM275.61 124.51h1.75v7.56h-1.75zM298.1 124.51h1.75v7.56h-1.75zM301.1 124.51h1.75v7.56h-1.75zM433.05 124.51h4.75v7.56h-4.75zM56.69 146.3h1.75v7.56h-1.75zM226.13 146.3h1.75v7.56h-1.75zM422.55 146.3h1.75v7.56h-1.75zM551.51 146.3h1.75v7.56h-1.75zM34.2 153.56h1.75v7.56h-1.75zM301.1 153.56h1.75v7.56h-1.75zM311.6 153.56h1.75v7.56h-1.75zM434.55 153.56h1.75v7.56h-1.75zM337.09 160.82h1.75v7.56h-1.75zM301.1 168.09h1.75v7.56h-1.75zM370.07 168.09h1.75v7.56h-1.75zM161.65 175.35h1.75v7.56h-1.75zM509.52 175.35h1.75v7.56h-1.75zM28.2 182.61h1.75v7.56h-1.75zM38.69 182.61h1.75v7.56h-1.75zM188.64 182.61h1.75v7.56h-1.75zM230.62 182.61h1.75v7.56h-1.75zM298.1 182.61h1.75v7.56h-1.75zM407.56 182.61h1.75v7.56h-1.75zM467.54 182.61h1.75v7.56h-1.75zM526.02 182.61h1.75v7.56h-1.75zM361.08 189.88h1.75v7.56h-1.75zM379.07 197.14h1.75v7.56h-1.75zM499.03 197.14h1.75v7.56h-1.75zM161.65 204.4h1.75v7.56h-1.75zM185.64 204.4h1.75v7.56h-1.75zM428.55 204.4h1.75v7.56h-1.75zM43.19 218.93h1.75v7.56h-1.75zM185.64 218.93h1.75v7.56h-1.75zM524.52 218.93h1.75v7.56h-1.75zM526.02 226.19h3.25v7.56h-3.25zM301.1 233.46h1.75v7.56h-1.75zM299.6 240.72h1.75v7.56h-1.75zM49.19 247.98h1.75v7.56h-1.75zM229.12 247.98h1.75v7.56h-1.75zM307.1 247.98h1.75v7.56h-1.75zM71.68 262.51h1.75v7.56h-1.75zM64.18 269.77h1.75v7.56h-1.75zM244.12 269.77h1.75v7.56h-1.75zM92.67 277.04h1.75v7.56h-1.75z"/><path fill="#f8e810" d="M67.18 66.4h1.75v7.56h-1.75zM76.18 66.4h1.75v7.56h-1.75zM80.68 66.4h1.75v7.56h-1.75zM85.18 66.4h1.75v7.56h-1.75zM92.67 66.4h1.75v7.56h-1.75zM97.17 66.4h1.75v7.56h-1.75zM115.17 66.4h1.75v7.56h-1.75zM121.16 66.4h1.75v7.56h-1.75zM124.16 66.4h3.25v7.56h-3.25zM133.16 66.4h1.75v7.56h-1.75zM197.64 66.4h1.75v7.56h-1.75zM269.61 66.4h3.25v7.56h-3.25zM278.61 66.4h1.75v7.56h-1.75zM284.6 66.4h1.75v7.56h-1.75zM296.6 66.4h1.75v7.56h-1.75zM329.59 66.4h1.75v7.56h-1.75zM332.59 66.4h1.75v7.56h-1.75zM338.59 66.4h3.25v7.56h-3.25zM343.08 66.4h1.75v7.56h-1.75zM355.08 66.4h1.75v7.56h-1.75zM359.58 66.4h3.25v7.56h-3.25zM383.57 66.4h1.75v7.56h-1.75zM386.57 66.4h1.75v7.56h-1.75zM400.06 66.4h1.75v7.56h-1.75zM404.56 66.4h1.75v7.56h-1.75zM410.56 66.4h1.75v7.56h-1.75zM458.54 66.4h1.75v7.56h-1.75zM469.04 66.4h1.75v7.56h-1.75zM478.03 66.4h1.75v7.56h-1.75zM481.03 66.4h4.75v7.56h-4.75zM487.03 66.4h3.25v7.56h-3.25zM499.03 66.4h1.75v7.56h-1.75zM515.52 66.4h3.25v7.56h-3.25zM521.52 66.4h1.75v7.56h-1.75zM526.02 66.4h3.25v7.56h-3.25zM533.51 66.4h3.25v7.56h-3.25zM545.51 66.4h4.75v7.56h-4.75zM551.51 66.4h1.75v7.56h-1.75zM554.51 66.4h3.25v7.56h-3.25zM25.2 73.66h1.75v7.56h-1.75zM47.69 73.66h1.75v7.56h-1.75zM55.19 73.66h1.75v7.56h-1.75zM59.69 73.66h1.75v7.56h-1.75zM67.18 73.66h3.25v7.56h-3.25zM79.18 73.66h4.75v7.56h-4.75zM85.18 73.66h1.75v7.56h-1.75zM88.18 73.66h1.75v7.56h-1.75zM91.17 73.66h1.75v7.56h-1.75zM121.16 73.66h1.75v7.56h-1.75zM128.66 73.66h1.75v7.56h-1.75zM131.66 73.66h3.25v7.56h-3.25zM197.64 73.66h1.75v7.56h-1.75zM256.12 73.66h1.75v7.56h-1.75zM277.11 73.66h1.75v7.56h-1.75zM281.61 73.66h1.75v7.56h-1.75zM284.6 73.66h1.75v7.56h-1.75zM287.6 73.66h1.75v7.56h-1.75zM292.1 73.66h1.75v7.56h-1.75zM296.6 73.66h1.75v7.56h-1.75zM334.09 73.66h1.75v7.56h-1.75zM340.08 73.66h1.75v7.56h-1.75zM355.08 73.66h1.75v7.56h-1.75zM358.08 73.66h3.25v7.56h-3.25zM364.08 73.66h1.75v7.56h-1.75zM367.07 73.66h1.75v7.56h-1.75zM371.57 73.66h1.75v7.56h-1.75zM380.57 73.66h1.75v7.56h-1.75zM458.54 73.66h1.75v7.56h-1.75zM461.54 73.66h1.75v7.56h-1.75zM469.04 73.66h1.75v7.56h-1.75zM473.54 73.66h1.75v7.56h-1.75zM476.54 73.66h1.75v7.56h-1.75zM479.53 73.66h1.75v7.56h-1.75zM484.03 73.66h1.75v7.56h-1.75zM488.53 73.66h1.75v7.56h-1.75zM491.53 73.66h1.75v7.56h-1.75zM503.53 73.66h1.75v7.56h-1.75zM518.52 73.66h1.75v7.56h-1.75zM521.52 73.66h1.75v7.56h-1.75zM526.02 73.66h4.75v7.56h-4.75zM533.51 73.66h4.75v7.56h-4.75zM542.51 73.66h1.75v7.56h-1.75zM548.51 73.66h1.75v7.56h-1.75zM68.68 80.93h3.25v7.56h-3.25zM74.68 80.93h1.75v7.56h-1.75zM77.68 80.93h1.75v7.56h-1.75zM80.68 80.93h3.25v7.56h-3.25zM85.18 80.93h3.25v7.56h-3.25zM89.68 80.93h1.75v7.56h-1.75zM92.67 80.93h1.75v7.56h-1.75zM97.17 80.93h1.75v7.56h-1.75zM112.17 80.93h1.75v7.56h-1.75zM122.66 80.93h3.25v7.56h-3.25zM128.66 80.93h6.25v7.56h-6.25zM146.65 80.93h1.75v7.56h-1.75zM260.61 80.93h1.75v7.56h-1.75zM269.61 80.93h1.75v7.56h-1.75zM272.61 80.93h1.75v7.56h-1.75zM277.11 80.93h1.75v7.56h-1.75zM280.11 80.93h4.75v7.56h-4.75zM287.6 80.93h4.75v7.56h-4.75zM296.6 80.93h1.75v7.56h-1.75zM328.09 80.93h1.75v7.56h-1.75zM332.59 80.93h1.75v7.56h-1.75zM338.59 80.93h3.25v7.56h-3.25zM343.08 80.93h1.75v7.56h-1.75zM355.08 80.93h1.75v7.56h-1.75zM359.58 80.93h1.75v7.56h-1.75zM367.07 80.93h1.75v7.56h-1.75zM370.07 80.93h3.25v7.56h-3.25zM383.57 80.93h3.25v7.56h-3.25zM388.07 80.93h1.75v7.56h-1.75zM403.06 80.93h3.25v7.56h-3.25zM407.56 80.93h1.75v7.56h-1.75zM410.56 80.93h1.75v7.56h-1.75zM461.54 80.93h1.75v7.56h-1.75zM467.54 80.93h1.75v7.56h-1.75zM472.04 80.93h1.75v7.56h-1.75zM478.03 80.93h1.75v7.56h-1.75zM481.03 80.93h1.75v7.56h-1.75zM484.03 80.93h6.25v7.56h-6.25zM491.53 80.93h3.25v7.56h-3.25zM497.53 80.93h3.25v7.56h-3.25zM503.53 80.93h1.75v7.56h-1.75zM508.02 80.93h3.25v7.56h-3.25zM512.52 80.93h1.75v7.56h-1.75zM520.02 80.93h1.75v7.56h-1.75zM526.02 80.93h1.75v7.56h-1.75zM533.51 80.93h4.75v7.56h-4.75zM545.51 80.93h4.75v7.56h-4.75zM67.18 88.19h1.75v7.56h-1.75zM70.18 88.19h1.75v7.56h-1.75zM76.18 88.19h3.25v7.56h-3.25zM80.68 88.19h1.75v7.56h-1.75zM86.68 88.19h1.75v7.56h-1.75zM97.17 88.19h1.75v7.56h-1.75zM110.67 88.19h1.75v7.56h-1.75zM116.67 88.19h3.25v7.56h-3.25zM121.16 88.19h6.25v7.56h-6.25zM128.66 88.19h3.25v7.56h-3.25zM133.16 88.19h1.75v7.56h-1.75zM188.64 88.19h1.75v7.56h-1.75zM196.14 88.19h4.75v7.56h-4.75zM272.61 88.19h1.75v7.56h-1.75zM278.61 88.19h1.75v7.56h-1.75zM281.61 88.19h1.75v7.56h-1.75zM284.6 88.19h1.75v7.56h-1.75zM287.6 88.19h3.25v7.56h-3.25zM331.09 88.19h3.25v7.56h-3.25zM340.08 88.19h1.75v7.56h-1.75zM355.08 88.19h6.25v7.56h-6.25zM365.58 88.19h1.75v7.56h-1.75zM383.57 88.19h1.75v7.56h-1.75zM386.57 88.19h1.75v7.56h-1.75zM401.56 88.19h1.75v7.56h-1.75zM407.56 88.19h1.75v7.56h-1.75zM410.56 88.19h1.75v7.56h-1.75zM458.54 88.19h3.25v7.56h-3.25zM470.54 88.19h1.75v7.56h-1.75zM475.04 88.19h6.25v7.56h-6.25zM485.53 88.19h4.75v7.56h-4.75zM512.52 88.19h1.75v7.56h-1.75zM515.52 88.19h1.75v7.56h-1.75zM518.52 88.19h1.75v7.56h-1.75zM527.52 88.19h3.25v7.56h-3.25zM535.01 88.19h3.25v7.56h-3.25zM547.01 88.19h1.75v7.56h-1.75zM64.18 95.45h1.75v7.56h-1.75zM67.18 95.45h4.75v7.56h-4.75zM77.68 95.45h1.75v7.56h-1.75zM85.18 95.45h3.25v7.56h-3.25zM91.17 95.45h1.75v7.56h-1.75zM116.67 95.45h3.25v7.56h-3.25zM121.16 95.45h1.75v7.56h-1.75zM124.16 95.45h1.75v7.56h-1.75zM131.66 95.45h3.25v7.56h-3.25zM199.14 95.45h1.75v7.56h-1.75zM208.13 95.45h1.75v7.56h-1.75zM226.13 95.45h1.75v7.56h-1.75zM260.61 95.45h1.75v7.56h-1.75zM269.61 95.45h1.75v7.56h-1.75zM272.61 95.45h1.75v7.56h-1.75zM275.61 95.45h1.75v7.56h-1.75zM278.61 95.45h6.25v7.56h-6.25zM292.1 95.45h1.75v7.56h-1.75zM296.6 95.45h1.75v7.56h-1.75zM325.09 95.45h1.75v7.56h-1.75zM329.59 95.45h1.75v7.56h-1.75zM334.09 95.45h1.75v7.56h-1.75zM338.59 95.45h6.25v7.56h-6.25zM358.08 95.45h1.75v7.56h-1.75zM365.58 95.45h4.75v7.56h-4.75zM379.07 95.45h1.75v7.56h-1.75zM382.07 95.45h7.75v7.56h-7.75zM400.06 95.45h1.75v7.56h-1.75zM458.54 95.45h1.75v7.56h-1.75zM469.04 95.45h1.75v7.56h-1.75zM473.54 95.45h3.25v7.56h-3.25zM479.53 95.45h3.25v7.56h-3.25zM484.03 95.45h3.25v7.56h-3.25zM503.53 95.45h1.75v7.56h-1.75zM509.52 95.45h1.75v7.56h-1.75zM512.52 95.45h1.75v7.56h-1.75zM515.52 95.45h1.75v7.56h-1.75zM521.52 95.45h1.75v7.56h-1.75zM526.02 95.45h1.75v7.56h-1.75zM536.51 95.45h1.75v7.56h-1.75zM547.01 95.45h3.25v7.56h-3.25zM554.51 95.45h3.25v7.56h-3.25zM22.2 102.72h1.75v7.56h-1.75zM28.2 102.72h3.25v7.56h-3.25zM32.7 102.72h1.75v7.56h-1.75zM49.19 102.72h1.75v7.56h-1.75zM55.19 102.72h1.75v7.56h-1.75zM67.18 102.72h1.75v7.56h-1.75zM70.18 102.72h1.75v7.56h-1.75zM76.18 102.72h1.75v7.56h-1.75zM85.18 102.72h1.75v7.56h-1.75zM89.68 102.72h1.75v7.56h-1.75zM110.67 102.72h1.75v7.56h-1.75zM118.17 102.72h3.25v7.56h-3.25zM128.66 102.72h1.75v7.56h-1.75zM131.66 102.72h1.75v7.56h-1.75zM188.64 102.72h1.75v7.56h-1.75zM196.14 102.72h1.75v7.56h-1.75zM199.14 102.72h1.75v7.56h-1.75zM338.59 102.72h6.25v7.56h-6.25zM358.08 102.72h3.25v7.56h-3.25zM365.58 102.72h1.75v7.56h-1.75zM368.57 102.72h4.75v7.56h-4.75zM382.07 102.72h1.75v7.56h-1.75zM400.06 102.72h1.75v7.56h-1.75zM404.56 102.72h4.75v7.56h-4.75zM410.56 102.72h1.75v7.56h-1.75zM460.04 102.72h3.25v7.56h-3.25zM467.54 102.72h1.75v7.56h-1.75zM470.54 102.72h1.75v7.56h-1.75zM473.54 102.72h1.75v7.56h-1.75zM479.53 102.72h4.75v7.56h-4.75zM488.53 102.72h1.75v7.56h-1.75zM491.53 102.72h3.25v7.56h-3.25zM505.02 102.72h1.75v7.56h-1.75zM509.52 102.72h1.75v7.56h-1.75zM521.52 102.72h1.75v7.56h-1.75zM526.02 102.72h3.25v7.56h-3.25zM533.51 102.72h1.75v7.56h-1.75zM536.51 102.72h1.75v7.56h-1.75zM539.51 102.72h3.25v7.56h-3.25zM547.01 102.72h1.75v7.56h-1.75zM556.01 102.72h1.75v7.56h-1.75zM37.19 109.98h1.75v7.56h-1.75zM40.19 109.98h1.75v7.56h-1.75zM44.69 109.98h1.75v7.56h-1.75zM49.19 109.98h1.75v7.56h-1.75zM68.68 109.98h1.75v7.56h-1.75zM74.68 109.98h1.75v7.56h-1.75zM77.68 109.98h3.25v7.56h-3.25zM82.18 109.98h4.75v7.56h-4.75zM91.17 109.98h3.25v7.56h-3.25zM106.17 109.98h1.75v7.56h-1.75zM112.17 109.98h1.75v7.56h-1.75zM116.67 109.98h6.25v7.56h-6.25zM125.66 109.98h1.75v7.56h-1.75zM130.16 109.98h3.25v7.56h-3.25zM188.64 109.98h1.75v7.56h-1.75zM197.64 109.98h1.75v7.56h-1.75zM332.59 109.98h1.75v7.56h-1.75zM337.09 109.98h3.25v7.56h-3.25zM355.08 109.98h6.25v7.56h-6.25zM364.08 109.98h1.75v7.56h-1.75zM367.07 109.98h1.75v7.56h-1.75zM386.57 109.98h1.75v7.56h-1.75zM400.06 109.98h1.75v7.56h-1.75zM404.56 109.98h1.75v7.56h-1.75zM407.56 109.98h1.75v7.56h-1.75zM410.56 109.98h1.75v7.56h-1.75zM458.54 109.98h1.75v7.56h-1.75zM479.53 109.98h3.25v7.56h-3.25zM485.53 109.98h3.25v7.56h-3.25zM508.02 109.98h3.25v7.56h-3.25zM526.02 109.98h4.75v7.56h-4.75zM533.51 109.98h3.25v7.56h-3.25zM541.01 109.98h1.75v7.56h-1.75zM547.01 109.98h3.25v7.56h-3.25zM551.51 109.98h1.75v7.56h-1.75zM554.51 109.98h3.25v7.56h-3.25zM35.7 117.24h1.75v7.56h-1.75zM58.19 117.24h1.75v7.56h-1.75zM83.68 117.24h3.25v7.56h-3.25zM88.18 117.24h1.75v7.56h-1.75zM97.17 117.24h1.75v7.56h-1.75zM112.17 117.24h1.75v7.56h-1.75zM115.17 117.24h1.75v7.56h-1.75zM121.16 117.24h1.75v7.56h-1.75zM125.66 117.24h4.75v7.56h-4.75zM131.66 117.24h1.75v7.56h-1.75zM134.66 117.24h1.75v7.56h-1.75zM188.64 117.24h1.75v7.56h-1.75zM196.14 117.24h4.75v7.56h-4.75zM209.63 117.24h1.75v7.56h-1.75zM220.13 117.24h1.75v7.56h-1.75zM236.62 117.24h1.75v7.56h-1.75zM370.07 117.24h3.25v7.56h-3.25zM382.07 117.24h4.75v7.56h-4.75zM400.06 117.24h3.25v7.56h-3.25zM406.06 117.24h1.75v7.56h-1.75zM410.56 117.24h1.75v7.56h-1.75zM458.54 117.24h4.75v7.56h-4.75zM469.04 117.24h7.75v7.56h-7.75zM478.03 117.24h1.75v7.56h-1.75zM484.03 117.24h3.25v7.56h-3.25zM499.03 117.24h1.75v7.56h-1.75zM503.53 117.24h1.75v7.56h-1.75zM508.02 117.24h3.25v7.56h-3.25zM512.52 117.24h1.75v7.56h-1.75zM517.02 117.24h1.75v7.56h-1.75zM526.02 117.24h1.75v7.56h-1.75zM529.02 117.24h1.75v7.56h-1.75zM533.51 117.24h4.75v7.56h-4.75zM541.01 117.24h4.75v7.56h-4.75zM551.51 117.24h1.75v7.56h-1.75zM554.51 117.24h3.25v7.56h-3.25zM68.68 124.51h3.25v7.56h-3.25zM76.18 124.51h1.75v7.56h-1.75zM80.68 124.51h3.25v7.56h-3.25zM85.18 124.51h1.75v7.56h-1.75zM88.18 124.51h3.25v7.56h-3.25zM110.67 124.51h3.25v7.56h-3.25zM116.67 124.51h1.75v7.56h-1.75zM119.66 124.51h1.75v7.56h-1.75zM124.16 124.51h3.25v7.56h-3.25zM194.64 124.51h6.25v7.56h-6.25zM260.61 124.51h1.75v7.56h-1.75zM332.59 124.51h1.75v7.56h-1.75zM338.59 124.51h1.75v7.56h-1.75zM343.08 124.51h1.75v7.56h-1.75zM385.07 124.51h4.75v7.56h-4.75zM400.06 124.51h1.75v7.56h-1.75zM403.06 124.51h1.75v7.56h-1.75zM458.54 124.51h4.75v7.56h-4.75zM467.54 124.51h3.25v7.56h-3.25zM475.04 124.51h4.75v7.56h-4.75zM482.53 124.51h3.25v7.56h-3.25zM491.53 124.51h1.75v7.56h-1.75zM497.53 124.51h1.75v7.56h-1.75zM509.52 124.51h1.75v7.56h-1.75zM517.02 124.51h1.75v7.56h-1.75zM521.52 124.51h1.75v7.56h-1.75zM527.52 124.51h3.25v7.56h-3.25zM533.51 124.51h1.75v7.56h-1.75zM536.51 124.51h1.75v7.56h-1.75zM541.01 124.51h3.25v7.56h-3.25zM547.01 124.51h3.25v7.56h-3.25zM554.51 124.51h3.25v7.56h-3.25zM25.2 131.77h1.75v7.56h-1.75zM37.19 131.77h1.75v7.56h-1.75zM50.69 131.77h3.25v7.56h-3.25zM62.69 131.77h1.75v7.56h-1.75zM70.18 131.77h1.75v7.56h-1.75zM80.68 131.77h3.25v7.56h-3.25zM97.17 131.77h1.75v7.56h-1.75zM110.67 131.77h1.75v7.56h-1.75zM115.17 131.77h1.75v7.56h-1.75zM118.17 131.77h9.25v7.56h-9.25zM128.66 131.77h3.25v7.56h-3.25zM133.16 131.77h1.75v7.56h-1.75zM188.64 131.77h1.75v7.56h-1.75zM196.14 131.77h1.75v7.56h-1.75zM199.14 131.77h1.75v7.56h-1.75zM220.13 131.77h1.75v7.56h-1.75zM229.12 131.77h1.75v7.56h-1.75zM272.61 131.77h3.25v7.56h-3.25zM278.61 131.77h1.75v7.56h-1.75zM325.09 131.77h1.75v7.56h-1.75zM338.59 131.77h6.25v7.56h-6.25zM355.08 131.77h1.75v7.56h-1.75zM359.58 131.77h1.75v7.56h-1.75zM368.57 131.77h1.75v7.56h-1.75zM383.57 131.77h6.25v7.56h-6.25zM403.06 131.77h3.25v7.56h-3.25zM407.56 131.77h4.75v7.56h-4.75zM472.04 131.77h3.25v7.56h-3.25zM476.54 131.77h1.75v7.56h-1.75zM482.53 131.77h1.75v7.56h-1.75zM509.52 131.77h3.25v7.56h-3.25zM518.52 131.77h1.75v7.56h-1.75zM521.52 131.77h1.75v7.56h-1.75zM526.02 131.77h1.75v7.56h-1.75zM536.51 131.77h1.75v7.56h-1.75zM542.51 131.77h1.75v7.56h-1.75zM547.01 131.77h3.25v7.56h-3.25zM554.51 131.77h3.25v7.56h-3.25zM44.69 139.03h1.75v7.56h-1.75zM47.69 139.03h1.75v7.56h-1.75zM50.69 139.03h3.25v7.56h-3.25zM76.18 139.03h3.25v7.56h-3.25zM82.18 139.03h1.75v7.56h-1.75zM86.68 139.03h1.75v7.56h-1.75zM89.68 139.03h3.25v7.56h-3.25zM97.17 139.03h1.75v7.56h-1.75zM110.67 139.03h1.75v7.56h-1.75zM116.67 139.03h9.25v7.56h-9.25zM130.16 139.03h1.75v7.56h-1.75zM188.64 139.03h1.75v7.56h-1.75zM196.14 139.03h3.25v7.56h-3.25zM211.13 139.03h1.75v7.56h-1.75zM214.13 139.03h1.75v7.56h-1.75zM218.63 139.03h1.75v7.56h-1.75zM224.63 139.03h1.75v7.56h-1.75zM227.63 139.03h3.25v7.56h-3.25zM235.12 139.03h1.75v7.56h-1.75zM269.61 139.03h1.75v7.56h-1.75zM277.11 139.03h1.75v7.56h-1.75zM280.11 139.03h1.75v7.56h-1.75zM286.1 139.03h1.75v7.56h-1.75zM290.6 139.03h1.75v7.56h-1.75zM355.08 139.03h1.75v7.56h-1.75zM358.08 139.03h3.25v7.56h-3.25zM365.58 139.03h4.75v7.56h-4.75zM404.56 139.03h4.75v7.56h-4.75zM440.55 139.03h1.75v7.56h-1.75zM458.54 139.03h1.75v7.56h-1.75zM469.04 139.03h1.75v7.56h-1.75zM472.04 139.03h3.25v7.56h-3.25zM476.54 139.03h1.75v7.56h-1.75zM479.53 139.03h1.75v7.56h-1.75zM484.03 139.03h1.75v7.56h-1.75zM488.53 139.03h1.75v7.56h-1.75zM491.53 139.03h1.75v7.56h-1.75zM503.53 139.03h1.75v7.56h-1.75zM521.52 139.03h1.75v7.56h-1.75zM527.52 139.03h3.25v7.56h-3.25zM536.51 139.03h1.75v7.56h-1.75zM554.51 139.03h3.25v7.56h-3.25zM68.68 146.3h3.25v7.56h-3.25zM74.68 146.3h4.75v7.56h-4.75zM80.68 146.3h3.25v7.56h-3.25zM85.18 146.3h7.75v7.56h-7.75zM112.17 146.3h1.75v7.56h-1.75zM115.17 146.3h1.75v7.56h-1.75zM118.17 146.3h4.75v7.56h-4.75zM124.16 146.3h3.25v7.56h-3.25zM130.16 146.3h1.75v7.56h-1.75zM260.61 146.3h1.75v7.56h-1.75zM272.61 146.3h1.75v7.56h-1.75zM275.61 146.3h4.75v7.56h-4.75zM281.61 146.3h1.75v7.56h-1.75zM290.6 146.3h1.75v7.56h-1.75zM293.6 146.3h1.75v7.56h-1.75zM296.6 146.3h1.75v7.56h-1.75zM355.08 146.3h3.25v7.56h-3.25zM359.58 146.3h1.75v7.56h-1.75zM365.58 146.3h3.25v7.56h-3.25zM370.07 146.3h3.25v7.56h-3.25zM379.07 146.3h1.75v7.56h-1.75zM383.57 146.3h1.75v7.56h-1.75zM386.57 146.3h3.25v7.56h-3.25zM400.06 146.3h1.75v7.56h-1.75zM403.06 146.3h3.25v7.56h-3.25zM410.56 146.3h1.75v7.56h-1.75zM460.04 146.3h1.75v7.56h-1.75zM469.04 146.3h3.25v7.56h-3.25zM473.54 146.3h3.25v7.56h-3.25zM478.03 146.3h3.25v7.56h-3.25zM482.53 146.3h4.75v7.56h-4.75zM508.02 146.3h3.25v7.56h-3.25zM512.52 146.3h1.75v7.56h-1.75zM515.52 146.3h1.75v7.56h-1.75zM527.52 146.3h3.25v7.56h-3.25zM533.51 146.3h3.25v7.56h-3.25zM541.01 146.3h1.75v7.56h-1.75zM548.51 146.3h1.75v7.56h-1.75zM556.01 146.3h1.75v7.56h-1.75zM59.69 153.56h1.75v7.56h-1.75zM70.18 153.56h1.75v7.56h-1.75zM76.18 153.56h3.25v7.56h-3.25zM82.18 153.56h1.75v7.56h-1.75zM86.68 153.56h7.75v7.56h-7.75zM112.17 153.56h1.75v7.56h-1.75zM116.67 153.56h3.25v7.56h-3.25zM122.66 153.56h1.75v7.56h-1.75zM133.16 153.56h1.75v7.56h-1.75zM188.64 153.56h1.75v7.56h-1.75zM196.14 153.56h1.75v7.56h-1.75zM256.12 153.56h1.75v7.56h-1.75zM269.61 153.56h1.75v7.56h-1.75zM284.6 153.56h3.25v7.56h-3.25zM289.1 153.56h1.75v7.56h-1.75zM292.1 153.56h1.75v7.56h-1.75zM295.1 153.56h3.25v7.56h-3.25zM332.59 153.56h1.75v7.56h-1.75zM338.59 153.56h3.25v7.56h-3.25zM343.08 153.56h1.75v7.56h-1.75zM356.58 153.56h3.25v7.56h-3.25zM362.58 153.56h1.75v7.56h-1.75zM365.58 153.56h3.25v7.56h-3.25zM370.07 153.56h1.75v7.56h-1.75zM382.07 153.56h1.75v7.56h-1.75zM386.57 153.56h3.25v7.56h-3.25zM400.06 153.56h1.75v7.56h-1.75zM403.06 153.56h1.75v7.56h-1.75zM410.56 153.56h1.75v7.56h-1.75zM458.54 153.56h1.75v7.56h-1.75zM470.54 153.56h4.75v7.56h-4.75zM476.54 153.56h1.75v7.56h-1.75zM479.53 153.56h1.75v7.56h-1.75zM484.03 153.56h4.75v7.56h-4.75zM491.53 153.56h1.75v7.56h-1.75zM499.03 153.56h1.75v7.56h-1.75zM503.53 153.56h1.75v7.56h-1.75zM508.02 153.56h1.75v7.56h-1.75zM511.02 153.56h1.75v7.56h-1.75zM521.52 153.56h1.75v7.56h-1.75zM526.02 153.56h1.75v7.56h-1.75zM533.51 153.56h4.75v7.56h-4.75zM541.01 153.56h1.75v7.56h-1.75zM545.51 153.56h4.75v7.56h-4.75zM553.01 153.56h1.75v7.56h-1.75zM67.18 160.82h3.25v7.56h-3.25zM76.18 160.82h1.75v7.56h-1.75zM80.68 160.82h1.75v7.56h-1.75zM86.68 160.82h1.75v7.56h-1.75zM91.17 160.82h1.75v7.56h-1.75zM110.67 160.82h1.75v7.56h-1.75zM118.17 160.82h1.75v7.56h-1.75zM134.66 160.82h1.75v7.56h-1.75zM139.16 160.82h1.75v7.56h-1.75zM143.66 160.82h1.75v7.56h-1.75zM188.64 160.82h1.75v7.56h-1.75zM197.64 160.82h1.75v7.56h-1.75zM203.63 160.82h1.75v7.56h-1.75zM233.62 160.82h1.75v7.56h-1.75zM274.11 160.82h1.75v7.56h-1.75zM281.61 160.82h4.75v7.56h-4.75zM289.1 160.82h1.75v7.56h-1.75zM295.1 160.82h3.25v7.56h-3.25zM329.59 160.82h1.75v7.56h-1.75zM332.59 160.82h1.75v7.56h-1.75zM340.08 160.82h3.25v7.56h-3.25zM355.08 160.82h1.75v7.56h-1.75zM361.08 160.82h1.75v7.56h-1.75zM364.08 160.82h1.75v7.56h-1.75zM367.07 160.82h3.25v7.56h-3.25zM383.57 160.82h1.75v7.56h-1.75zM386.57 160.82h3.25v7.56h-3.25zM400.06 160.82h1.75v7.56h-1.75zM458.54 160.82h1.75v7.56h-1.75zM461.54 160.82h1.75v7.56h-1.75zM466.04 160.82h4.75v7.56h-4.75zM472.04 160.82h1.75v7.56h-1.75zM476.54 160.82h1.75v7.56h-1.75zM479.53 160.82h3.25v7.56h-3.25zM487.03 160.82h4.75v7.56h-4.75zM493.03 160.82h1.75v7.56h-1.75zM511.02 160.82h3.25v7.56h-3.25zM533.51 160.82h1.75v7.56h-1.75zM541.01 160.82h1.75v7.56h-1.75zM550.01 160.82h1.75v7.56h-1.75zM70.18 168.09h1.75v7.56h-1.75zM77.68 168.09h1.75v7.56h-1.75zM82.18 168.09h1.75v7.56h-1.75zM85.18 168.09h3.25v7.56h-3.25zM89.68 168.09h3.25v7.56h-3.25zM110.67 168.09h1.75v7.56h-1.75zM118.17 168.09h1.75v7.56h-1.75zM122.66 168.09h1.75v7.56h-1.75zM125.66 168.09h1.75v7.56h-1.75zM128.66 168.09h1.75v7.56h-1.75zM131.66 168.09h3.25v7.56h-3.25zM188.64 168.09h1.75v7.56h-1.75zM197.64 168.09h3.25v7.56h-3.25zM214.13 168.09h1.75v7.56h-1.75zM230.62 168.09h1.75v7.56h-1.75zM278.61 168.09h4.75v7.56h-4.75zM284.6 168.09h1.75v7.56h-1.75zM289.1 168.09h3.25v7.56h-3.25zM293.6 168.09h1.75v7.56h-1.75zM296.6 168.09h1.75v7.56h-1.75zM332.59 168.09h1.75v7.56h-1.75zM355.08 168.09h1.75v7.56h-1.75zM361.08 168.09h1.75v7.56h-1.75zM364.08 168.09h1.75v7.56h-1.75zM368.57 168.09h1.75v7.56h-1.75zM379.07 168.09h1.75v7.56h-1.75zM385.07 168.09h3.25v7.56h-3.25zM403.06 168.09h3.25v7.56h-3.25zM409.06 168.09h1.75v7.56h-1.75zM458.54 168.09h3.25v7.56h-3.25zM472.04 168.09h1.75v7.56h-1.75zM475.04 168.09h1.75v7.56h-1.75zM481.03 168.09h1.75v7.56h-1.75zM484.03 168.09h3.25v7.56h-3.25zM488.53 168.09h1.75v7.56h-1.75zM491.53 168.09h1.75v7.56h-1.75zM499.03 168.09h1.75v7.56h-1.75zM508.02 168.09h1.75v7.56h-1.75zM521.52 168.09h1.75v7.56h-1.75zM527.52 168.09h3.25v7.56h-3.25zM533.51 168.09h4.75v7.56h-4.75zM541.01 168.09h1.75v7.56h-1.75zM545.51 168.09h4.75v7.56h-4.75zM556.01 168.09h1.75v7.56h-1.75zM22.2 175.35h1.75v7.56h-1.75zM28.2 175.35h1.75v7.56h-1.75zM32.7 175.35h1.75v7.56h-1.75zM35.7 175.35h1.75v7.56h-1.75zM38.69 175.35h1.75v7.56h-1.75zM65.68 175.35h3.25v7.56h-3.25zM76.18 175.35h1.75v7.56h-1.75zM82.18 175.35h1.75v7.56h-1.75zM85.18 175.35h3.25v7.56h-3.25zM89.68 175.35h1.75v7.56h-1.75zM113.67 175.35h3.25v7.56h-3.25zM118.17 175.35h1.75v7.56h-1.75zM121.16 175.35h4.75v7.56h-4.75zM128.66 175.35h1.75v7.56h-1.75zM133.16 175.35h1.75v7.56h-1.75zM160.15 175.35h1.75v7.56h-1.75zM164.65 175.35h1.75v7.56h-1.75zM196.14 175.35h1.75v7.56h-1.75zM199.14 175.35h1.75v7.56h-1.75zM253.12 175.35h1.75v7.56h-1.75zM260.61 175.35h1.75v7.56h-1.75zM325.09 175.35h1.75v7.56h-1.75zM337.09 175.35h6.25v7.56h-6.25zM355.08 175.35h3.25v7.56h-3.25zM359.58 175.35h3.25v7.56h-3.25zM364.08 175.35h3.25v7.56h-3.25zM370.07 175.35h3.25v7.56h-3.25zM376.07 175.35h1.75v7.56h-1.75zM382.07 175.35h1.75v7.56h-1.75zM386.57 175.35h1.75v7.56h-1.75zM389.57 175.35h6.25v7.56h-6.25zM403.06 175.35h6.25v7.56h-6.25zM416.56 175.35h1.75v7.56h-1.75zM419.56 175.35h1.75v7.56h-1.75zM422.55 175.35h1.75v7.56h-1.75zM430.05 175.35h1.75v7.56h-1.75zM433.05 175.35h1.75v7.56h-1.75zM437.55 175.35h1.75v7.56h-1.75zM460.04 175.35h3.25v7.56h-3.25zM467.54 175.35h1.75v7.56h-1.75zM470.54 175.35h3.25v7.56h-3.25zM476.54 175.35h1.75v7.56h-1.75zM491.53 175.35h1.75v7.56h-1.75zM499.03 175.35h1.75v7.56h-1.75zM503.53 175.35h3.25v7.56h-3.25zM508.02 175.35h1.75v7.56h-1.75zM512.52 175.35h1.75v7.56h-1.75zM515.52 175.35h1.75v7.56h-1.75zM520.02 175.35h4.75v7.56h-4.75zM529.02 175.35h1.75v7.56h-1.75zM536.51 175.35h1.75v7.56h-1.75zM541.01 175.35h1.75v7.56h-1.75zM551.51 175.35h1.75v7.56h-1.75zM554.51 175.35h1.75v7.56h-1.75zM70.18 182.61h1.75v7.56h-1.75zM76.18 182.61h3.25v7.56h-3.25zM82.18 182.61h1.75v7.56h-1.75zM85.18 182.61h3.25v7.56h-3.25zM91.17 182.61h1.75v7.56h-1.75zM106.17 182.61h1.75v7.56h-1.75zM110.67 182.61h1.75v7.56h-1.75zM118.17 182.61h3.25v7.56h-3.25zM122.66 182.61h3.25v7.56h-3.25zM131.66 182.61h3.25v7.56h-3.25zM155.65 182.61h3.25v7.56h-3.25zM160.15 182.61h3.25v7.56h-3.25zM164.65 182.61h1.75v7.56h-1.75zM169.15 182.61h1.75v7.56h-1.75zM194.64 182.61h1.75v7.56h-1.75zM197.64 182.61h1.75v7.56h-1.75zM260.61 182.61h1.75v7.56h-1.75zM337.09 182.61h4.75v7.56h-4.75zM343.08 182.61h1.75v7.56h-1.75zM355.08 182.61h3.25v7.56h-3.25zM364.08 182.61h6.25v7.56h-6.25zM382.07 182.61h3.25v7.56h-3.25zM388.07 182.61h3.25v7.56h-3.25zM394.07 182.61h1.75v7.56h-1.75zM398.56 182.61h1.75v7.56h-1.75zM409.06 182.61h3.25v7.56h-3.25zM415.06 182.61h3.25v7.56h-3.25zM419.56 182.61h1.75v7.56h-1.75zM422.55 182.61h1.75v7.56h-1.75zM425.55 182.61h1.75v7.56h-1.75zM430.05 182.61h1.75v7.56h-1.75zM433.05 182.61h3.25v7.56h-3.25zM458.54 182.61h4.75v7.56h-4.75zM469.04 182.61h4.75v7.56h-4.75zM475.04 182.61h1.75v7.56h-1.75zM478.03 182.61h3.25v7.56h-3.25zM484.03 182.61h1.75v7.56h-1.75zM499.03 182.61h1.75v7.56h-1.75zM503.53 182.61h1.75v7.56h-1.75zM509.52 182.61h3.25v7.56h-3.25zM529.02 182.61h1.75v7.56h-1.75zM536.51 182.61h1.75v7.56h-1.75zM541.01 182.61h6.25v7.56h-6.25zM548.51 182.61h1.75v7.56h-1.75zM554.51 182.61h3.25v7.56h-3.25zM41.69 189.88h1.75v7.56h-1.75zM44.69 189.88h1.75v7.56h-1.75zM50.69 189.88h1.75v7.56h-1.75zM67.18 189.88h1.75v7.56h-1.75zM70.18 189.88h1.75v7.56h-1.75zM73.18 189.88h3.25v7.56h-3.25zM80.68 189.88h1.75v7.56h-1.75zM85.18 189.88h1.75v7.56h-1.75zM110.67 189.88h3.25v7.56h-3.25zM116.67 189.88h3.25v7.56h-3.25zM121.16 189.88h1.75v7.56h-1.75zM124.16 189.88h3.25v7.56h-3.25zM128.66 189.88h1.75v7.56h-1.75zM160.15 189.88h1.75v7.56h-1.75zM166.15 189.88h1.75v7.56h-1.75zM169.15 189.88h1.75v7.56h-1.75zM196.14 189.88h4.75v7.56h-4.75zM256.12 189.88h1.75v7.56h-1.75zM260.61 189.88h1.75v7.56h-1.75zM323.59 189.88h1.75v7.56h-1.75zM338.59 189.88h1.75v7.56h-1.75zM341.58 189.88h1.75v7.56h-1.75zM355.08 189.88h1.75v7.56h-1.75zM358.08 189.88h3.25v7.56h-3.25zM364.08 189.88h1.75v7.56h-1.75zM367.07 189.88h3.25v7.56h-3.25zM388.07 189.88h7.75v7.56h-7.75zM400.06 189.88h1.75v7.56h-1.75zM403.06 189.88h1.75v7.56h-1.75zM406.06 189.88h3.25v7.56h-3.25zM410.56 189.88h1.75v7.56h-1.75zM416.56 189.88h3.25v7.56h-3.25zM424.05 189.88h3.25v7.56h-3.25zM430.05 189.88h3.25v7.56h-3.25zM434.55 189.88h1.75v7.56h-1.75zM437.55 189.88h1.75v7.56h-1.75zM469.04 189.88h1.75v7.56h-1.75zM476.54 189.88h3.25v7.56h-3.25zM481.03 189.88h3.25v7.56h-3.25zM485.53 189.88h6.25v7.56h-6.25zM508.02 189.88h1.75v7.56h-1.75zM523.02 189.88h1.75v7.56h-1.75zM529.02 189.88h1.75v7.56h-1.75zM533.51 189.88h1.75v7.56h-1.75zM541.01 189.88h1.75v7.56h-1.75zM548.51 189.88h1.75v7.56h-1.75zM553.01 189.88h1.75v7.56h-1.75zM37.19 197.14h1.75v7.56h-1.75zM46.19 197.14h1.75v7.56h-1.75zM59.69 197.14h3.25v7.56h-3.25zM64.18 197.14h1.75v7.56h-1.75zM68.68 197.14h1.75v7.56h-1.75zM74.68 197.14h4.75v7.56h-4.75zM83.68 197.14h1.75v7.56h-1.75zM86.68 197.14h3.25v7.56h-3.25zM112.17 197.14h1.75v7.56h-1.75zM115.17 197.14h1.75v7.56h-1.75zM118.17 197.14h1.75v7.56h-1.75zM124.16 197.14h3.25v7.56h-3.25zM128.66 197.14h3.25v7.56h-3.25zM155.65 197.14h6.25v7.56h-6.25zM164.65 197.14h1.75v7.56h-1.75zM167.65 197.14h3.25v7.56h-3.25zM196.14 197.14h4.75v7.56h-4.75zM260.61 197.14h1.75v7.56h-1.75zM323.59 197.14h3.25v7.56h-3.25zM332.59 197.14h1.75v7.56h-1.75zM338.59 197.14h4.75v7.56h-4.75zM355.08 197.14h3.25v7.56h-3.25zM359.58 197.14h3.25v7.56h-3.25zM365.58 197.14h1.75v7.56h-1.75zM368.57 197.14h1.75v7.56h-1.75zM382.07 197.14h1.75v7.56h-1.75zM385.07 197.14h6.25v7.56h-6.25zM394.07 197.14h1.75v7.56h-1.75zM403.06 197.14h1.75v7.56h-1.75zM407.56 197.14h1.75v7.56h-1.75zM415.06 197.14h1.75v7.56h-1.75zM427.05 197.14h1.75v7.56h-1.75zM430.05 197.14h1.75v7.56h-1.75zM434.55 197.14h4.75v7.56h-4.75zM458.54 197.14h1.75v7.56h-1.75zM467.54 197.14h1.75v7.56h-1.75zM472.04 197.14h3.25v7.56h-3.25zM476.54 197.14h6.25v7.56h-6.25zM484.03 197.14h4.75v7.56h-4.75zM491.53 197.14h1.75v7.56h-1.75zM503.53 197.14h1.75v7.56h-1.75zM509.52 197.14h1.75v7.56h-1.75zM512.52 197.14h1.75v7.56h-1.75zM533.51 197.14h4.75v7.56h-4.75zM545.51 197.14h1.75v7.56h-1.75zM551.51 197.14h1.75v7.56h-1.75zM556.01 197.14h1.75v7.56h-1.75zM37.19 204.4h1.75v7.56h-1.75zM53.69 204.4h1.75v7.56h-1.75zM65.68 204.4h3.25v7.56h-3.25zM70.18 204.4h1.75v7.56h-1.75zM77.68 204.4h1.75v7.56h-1.75zM80.68 204.4h1.75v7.56h-1.75zM85.18 204.4h3.25v7.56h-3.25zM89.68 204.4h3.25v7.56h-3.25zM110.67 204.4h1.75v7.56h-1.75zM116.67 204.4h1.75v7.56h-1.75zM119.66 204.4h1.75v7.56h-1.75zM122.66 204.4h4.75v7.56h-4.75zM128.66 204.4h3.25v7.56h-3.25zM164.65 204.4h1.75v7.56h-1.75zM169.15 204.4h1.75v7.56h-1.75zM196.14 204.4h3.25v7.56h-3.25zM260.61 204.4h1.75v7.56h-1.75zM322.09 204.4h1.75v7.56h-1.75zM325.09 204.4h1.75v7.56h-1.75zM338.59 204.4h1.75v7.56h-1.75zM341.58 204.4h3.25v7.56h-3.25zM358.08 204.4h1.75v7.56h-1.75zM365.58 204.4h3.25v7.56h-3.25zM386.57 204.4h9.25v7.56h-9.25zM400.06 204.4h1.75v7.56h-1.75zM403.06 204.4h3.25v7.56h-3.25zM415.06 204.4h3.25v7.56h-3.25zM419.56 204.4h1.75v7.56h-1.75zM422.55 204.4h3.25v7.56h-3.25zM427.05 204.4h1.75v7.56h-1.75zM430.05 204.4h1.75v7.56h-1.75zM436.05 204.4h3.25v7.56h-3.25zM458.54 204.4h4.75v7.56h-4.75zM467.54 204.4h7.75v7.56h-7.75zM476.54 204.4h1.75v7.56h-1.75zM479.53 204.4h4.75v7.56h-4.75zM494.53 204.4h1.75v7.56h-1.75zM499.03 204.4h1.75v7.56h-1.75zM503.53 204.4h1.75v7.56h-1.75zM508.02 204.4h1.75v7.56h-1.75zM529.02 204.4h1.75v7.56h-1.75zM541.01 204.4h1.75v7.56h-1.75zM547.01 204.4h3.25v7.56h-3.25zM556.01 204.4h1.75v7.56h-1.75zM28.2 211.67h1.75v7.56h-1.75zM38.69 211.67h3.25v7.56h-3.25zM52.19 211.67h1.75v7.56h-1.75zM64.18 211.67h1.75v7.56h-1.75zM67.18 211.67h4.75v7.56h-4.75zM74.68 211.67h4.75v7.56h-4.75zM82.18 211.67h1.75v7.56h-1.75zM85.18 211.67h1.75v7.56h-1.75zM89.68 211.67h4.75v7.56h-4.75zM110.67 211.67h1.75v7.56h-1.75zM115.17 211.67h3.25v7.56h-3.25zM121.16 211.67h3.25v7.56h-3.25zM128.66 211.67h1.75v7.56h-1.75zM134.66 211.67h1.75v7.56h-1.75zM155.65 211.67h1.75v7.56h-1.75zM158.65 211.67h1.75v7.56h-1.75zM164.65 211.67h4.75v7.56h-4.75zM196.14 211.67h3.25v7.56h-3.25zM260.61 211.67h1.75v7.56h-1.75zM332.59 211.67h1.75v7.56h-1.75zM335.59 211.67h1.75v7.56h-1.75zM338.59 211.67h3.25v7.56h-3.25zM343.08 211.67h3.25v7.56h-3.25zM355.08 211.67h1.75v7.56h-1.75zM358.08 211.67h1.75v7.56h-1.75zM364.08 211.67h4.75v7.56h-4.75zM382.07 211.67h4.75v7.56h-4.75zM388.07 211.67h3.25v7.56h-3.25zM392.57 211.67h1.75v7.56h-1.75zM406.06 211.67h3.25v7.56h-3.25zM416.56 211.67h1.75v7.56h-1.75zM422.55 211.67h1.75v7.56h-1.75zM425.55 211.67h3.25v7.56h-3.25zM430.05 211.67h3.25v7.56h-3.25zM434.55 211.67h1.75v7.56h-1.75zM437.55 211.67h1.75v7.56h-1.75zM461.54 211.67h1.75v7.56h-1.75zM467.54 211.67h9.25v7.56h-9.25zM478.03 211.67h6.25v7.56h-6.25zM485.53 211.67h3.25v7.56h-3.25zM491.53 211.67h1.75v7.56h-1.75zM499.03 211.67h1.75v7.56h-1.75zM505.02 211.67h1.75v7.56h-1.75zM508.02 211.67h3.25v7.56h-3.25zM536.51 211.67h1.75v7.56h-1.75zM544.01 211.67h1.75v7.56h-1.75zM548.51 211.67h1.75v7.56h-1.75zM556.01 211.67h1.75v7.56h-1.75zM28.2 218.93h1.75v7.56h-1.75zM44.69 218.93h3.25v7.56h-3.25zM58.19 218.93h1.75v7.56h-1.75zM62.69 218.93h1.75v7.56h-1.75zM65.68 218.93h1.75v7.56h-1.75zM80.68 218.93h1.75v7.56h-1.75zM86.68 218.93h1.75v7.56h-1.75zM89.68 218.93h1.75v7.56h-1.75zM110.67 218.93h3.25v7.56h-3.25zM115.17 218.93h4.75v7.56h-4.75zM121.16 218.93h1.75v7.56h-1.75zM125.66 218.93h1.75v7.56h-1.75zM130.16 218.93h1.75v7.56h-1.75zM155.65 218.93h3.25v7.56h-3.25zM161.65 218.93h1.75v7.56h-1.75zM164.65 218.93h4.75v7.56h-4.75zM197.64 218.93h3.25v7.56h-3.25zM323.59 218.93h1.75v7.56h-1.75zM334.09 218.93h1.75v7.56h-1.75zM337.09 218.93h1.75v7.56h-1.75zM361.08 218.93h1.75v7.56h-1.75zM365.58 218.93h7.75v7.56h-7.75zM385.07 218.93h1.75v7.56h-1.75zM388.07 218.93h1.75v7.56h-1.75zM392.57 218.93h3.25v7.56h-3.25zM401.56 218.93h9.25v7.56h-9.25zM412.06 218.93h1.75v7.56h-1.75zM418.06 218.93h1.75v7.56h-1.75zM428.55 218.93h1.75v7.56h-1.75zM431.55 218.93h3.25v7.56h-3.25zM437.55 218.93h1.75v7.56h-1.75zM458.54 218.93h4.75v7.56h-4.75zM469.04 218.93h3.25v7.56h-3.25zM473.54 218.93h1.75v7.56h-1.75zM479.53 218.93h3.25v7.56h-3.25zM484.03 218.93h4.75v7.56h-4.75zM533.51 218.93h1.75v7.56h-1.75zM536.51 218.93h1.75v7.56h-1.75zM541.01 218.93h1.75v7.56h-1.75zM551.51 218.93h1.75v7.56h-1.75zM554.51 218.93h3.25v7.56h-3.25zM26.7 226.19h1.75v7.56h-1.75zM32.7 226.19h1.75v7.56h-1.75zM59.69 226.19h3.25v7.56h-3.25zM67.18 226.19h1.75v7.56h-1.75zM70.18 226.19h1.75v7.56h-1.75zM80.68 226.19h4.75v7.56h-4.75zM86.68 226.19h1.75v7.56h-1.75zM89.68 226.19h3.25v7.56h-3.25zM112.17 226.19h1.75v7.56h-1.75zM115.17 226.19h1.75v7.56h-1.75zM118.17 226.19h3.25v7.56h-3.25zM122.66 226.19h1.75v7.56h-1.75zM125.66 226.19h1.75v7.56h-1.75zM128.66 226.19h6.25v7.56h-6.25zM157.15 226.19h4.75v7.56h-4.75zM166.15 226.19h4.75v7.56h-4.75zM197.64 226.19h3.25v7.56h-3.25zM205.13 226.19h1.75v7.56h-1.75zM260.61 226.19h1.75v7.56h-1.75zM323.59 226.19h1.75v7.56h-1.75zM332.59 226.19h1.75v7.56h-1.75zM335.59 226.19h1.75v7.56h-1.75zM340.08 226.19h4.75v7.56h-4.75zM356.58 226.19h1.75v7.56h-1.75zM364.08 226.19h3.25v7.56h-3.25zM368.57 226.19h1.75v7.56h-1.75zM371.57 226.19h1.75v7.56h-1.75zM382.07 226.19h6.25v7.56h-6.25zM401.56 226.19h3.25v7.56h-3.25zM407.56 226.19h1.75v7.56h-1.75zM412.06 226.19h1.75v7.56h-1.75zM422.55 226.19h1.75v7.56h-1.75zM427.05 226.19h1.75v7.56h-1.75zM434.55 226.19h3.25v7.56h-3.25zM458.54 226.19h1.75v7.56h-1.75zM467.54 226.19h3.25v7.56h-3.25zM472.04 226.19h1.75v7.56h-1.75zM478.03 226.19h1.75v7.56h-1.75zM481.03 226.19h1.75v7.56h-1.75zM484.03 226.19h3.25v7.56h-3.25zM488.53 226.19h1.75v7.56h-1.75zM491.53 226.19h1.75v7.56h-1.75zM509.52 226.19h1.75v7.56h-1.75zM521.52 226.19h1.75v7.56h-1.75zM547.01 226.19h1.75v7.56h-1.75zM550.01 226.19h3.25v7.56h-3.25zM32.7 233.46h1.75v7.56h-1.75zM47.69 233.46h1.75v7.56h-1.75zM52.19 233.46h1.75v7.56h-1.75zM55.19 233.46h1.75v7.56h-1.75zM64.18 233.46h3.25v7.56h-3.25zM70.18 233.46h3.25v7.56h-3.25zM85.18 233.46h1.75v7.56h-1.75zM89.68 233.46h1.75v7.56h-1.75zM92.67 233.46h1.75v7.56h-1.75zM115.17 233.46h4.75v7.56h-4.75zM121.16 233.46h1.75v7.56h-1.75zM124.16 233.46h1.75v7.56h-1.75zM128.66 233.46h4.75v7.56h-4.75zM155.65 233.46h1.75v7.56h-1.75zM160.15 233.46h1.75v7.56h-1.75zM164.65 233.46h6.25v7.56h-6.25zM197.64 233.46h3.25v7.56h-3.25zM260.61 233.46h1.75v7.56h-1.75zM323.59 233.46h3.25v7.56h-3.25zM337.09 233.46h7.75v7.56h-7.75zM355.08 233.46h1.75v7.56h-1.75zM358.08 233.46h3.25v7.56h-3.25zM365.58 233.46h3.25v7.56h-3.25zM370.07 233.46h1.75v7.56h-1.75zM383.57 233.46h1.75v7.56h-1.75zM389.57 233.46h4.75v7.56h-4.75zM400.06 233.46h1.75v7.56h-1.75zM403.06 233.46h1.75v7.56h-1.75zM407.56 233.46h1.75v7.56h-1.75zM415.06 233.46h1.75v7.56h-1.75zM425.55 233.46h3.25v7.56h-3.25zM430.05 233.46h1.75v7.56h-1.75zM460.04 233.46h1.75v7.56h-1.75zM475.04 233.46h7.75v7.56h-7.75zM484.03 233.46h1.75v7.56h-1.75zM487.03 233.46h3.25v7.56h-3.25zM491.53 233.46h1.75v7.56h-1.75zM497.53 233.46h1.75v7.56h-1.75zM509.52 233.46h1.75v7.56h-1.75zM533.51 233.46h4.75v7.56h-4.75zM542.51 233.46h1.75v7.56h-1.75zM545.51 233.46h4.75v7.56h-4.75zM551.51 233.46h1.75v7.56h-1.75zM556.01 233.46h1.75v7.56h-1.75zM97.17 240.72h1.75v7.56h-1.75zM128.66 240.72h1.75v7.56h-1.75zM131.66 240.72h1.75v7.56h-1.75zM155.65 240.72h4.75v7.56h-4.75zM161.65 240.72h1.75v7.56h-1.75zM166.15 240.72h3.25v7.56h-3.25zM196.14 240.72h4.75v7.56h-4.75zM323.59 240.72h1.75v7.56h-1.75zM337.09 240.72h1.75v7.56h-1.75zM340.08 240.72h1.75v7.56h-1.75zM343.08 240.72h1.75v7.56h-1.75zM358.08 240.72h1.75v7.56h-1.75zM367.07 240.72h6.25v7.56h-6.25zM379.07 240.72h3.25v7.56h-3.25zM386.57 240.72h4.75v7.56h-4.75zM394.07 240.72h1.75v7.56h-1.75zM404.56 240.72h1.75v7.56h-1.75zM407.56 240.72h1.75v7.56h-1.75zM415.06 240.72h3.25v7.56h-3.25zM419.56 240.72h1.75v7.56h-1.75zM422.55 240.72h4.75v7.56h-4.75zM428.55 240.72h1.75v7.56h-1.75zM431.55 240.72h6.25v7.56h-6.25zM460.04 240.72h3.25v7.56h-3.25zM469.04 240.72h6.25v7.56h-6.25zM488.53 240.72h1.75v7.56h-1.75zM491.53 240.72h1.75v7.56h-1.75zM494.53 240.72h1.75v7.56h-1.75zM500.53 240.72h1.75v7.56h-1.75zM503.53 240.72h1.75v7.56h-1.75zM509.52 240.72h1.75v7.56h-1.75zM521.52 240.72h1.75v7.56h-1.75zM526.02 240.72h1.75v7.56h-1.75zM535.01 240.72h3.25v7.56h-3.25zM554.51 240.72h1.75v7.56h-1.75zM97.17 247.98h1.75v7.56h-1.75zM115.17 247.98h1.75v7.56h-1.75zM118.17 247.98h1.75v7.56h-1.75zM122.66 247.98h3.25v7.56h-3.25zM130.16 247.98h4.75v7.56h-4.75zM158.65 247.98h4.75v7.56h-4.75zM164.65 247.98h3.25v7.56h-3.25zM169.15 247.98h1.75v7.56h-1.75zM196.14 247.98h3.25v7.56h-3.25zM323.59 247.98h1.75v7.56h-1.75zM338.59 247.98h4.75v7.56h-4.75zM355.08 247.98h1.75v7.56h-1.75zM359.58 247.98h1.75v7.56h-1.75zM365.58 247.98h7.75v7.56h-7.75zM380.57 247.98h3.25v7.56h-3.25zM386.57 247.98h4.75v7.56h-4.75zM394.07 247.98h1.75v7.56h-1.75zM404.56 247.98h1.75v7.56h-1.75zM410.56 247.98h1.75v7.56h-1.75zM415.06 247.98h1.75v7.56h-1.75zM418.06 247.98h3.25v7.56h-3.25zM427.05 247.98h1.75v7.56h-1.75zM430.05 247.98h6.25v7.56h-6.25zM437.55 247.98h1.75v7.56h-1.75zM460.04 247.98h3.25v7.56h-3.25zM467.54 247.98h1.75v7.56h-1.75zM472.04 247.98h3.25v7.56h-3.25zM485.53 247.98h1.75v7.56h-1.75zM491.53 247.98h1.75v7.56h-1.75zM503.53 247.98h1.75v7.56h-1.75zM515.52 247.98h1.75v7.56h-1.75zM521.52 247.98h1.75v7.56h-1.75zM526.02 247.98h4.75v7.56h-4.75zM535.01 247.98h1.75v7.56h-1.75zM541.01 247.98h1.75v7.56h-1.75zM544.01 247.98h3.25v7.56h-3.25zM548.51 247.98h1.75v7.56h-1.75zM112.17 255.25h1.75v7.56h-1.75zM128.66 255.25h1.75v7.56h-1.75zM131.66 255.25h1.75v7.56h-1.75zM154.15 255.25h4.75v7.56h-4.75zM161.65 255.25h1.75v7.56h-1.75zM164.65 255.25h1.75v7.56h-1.75zM197.64 255.25h1.75v7.56h-1.75zM323.59 255.25h3.25v7.56h-3.25zM335.59 255.25h9.25v7.56h-9.25zM355.08 255.25h6.25v7.56h-6.25zM368.57 255.25h1.75v7.56h-1.75zM371.57 255.25h1.75v7.56h-1.75zM379.07 255.25h4.75v7.56h-4.75zM385.07 255.25h3.25v7.56h-3.25zM391.07 255.25h1.75v7.56h-1.75zM400.06 255.25h4.75v7.56h-4.75zM407.56 255.25h4.75v7.56h-4.75zM415.06 255.25h4.75v7.56h-4.75zM422.55 255.25h1.75v7.56h-1.75zM425.55 255.25h1.75v7.56h-1.75zM428.55 255.25h3.25v7.56h-3.25zM433.05 255.25h1.75v7.56h-1.75zM436.05 255.25h1.75v7.56h-1.75zM458.54 255.25h3.25v7.56h-3.25zM472.04 255.25h3.25v7.56h-3.25zM487.03 255.25h6.25v7.56h-6.25zM509.52 255.25h3.25v7.56h-3.25zM515.52 255.25h1.75v7.56h-1.75zM521.52 255.25h3.25v7.56h-3.25zM535.01 255.25h1.75v7.56h-1.75zM539.51 255.25h3.25v7.56h-3.25zM544.01 255.25h6.25v7.56h-6.25zM551.51 255.25h1.75v7.56h-1.75zM554.51 255.25h1.75v7.56h-1.75zM97.17 262.51h1.75v7.56h-1.75zM115.17 262.51h6.25v7.56h-6.25zM124.16 262.51h3.25v7.56h-3.25zM128.66 262.51h1.75v7.56h-1.75zM157.15 262.51h1.75v7.56h-1.75zM160.15 262.51h1.75v7.56h-1.75zM164.65 262.51h4.75v7.56h-4.75zM199.14 262.51h1.75v7.56h-1.75zM260.61 262.51h1.75v7.56h-1.75zM325.09 262.51h1.75v7.56h-1.75zM332.59 262.51h1.75v7.56h-1.75zM335.59 262.51h3.25v7.56h-3.25zM341.58 262.51h1.75v7.56h-1.75zM355.08 262.51h1.75v7.56h-1.75zM358.08 262.51h3.25v7.56h-3.25zM362.58 262.51h1.75v7.56h-1.75zM367.07 262.51h6.25v7.56h-6.25zM382.07 262.51h3.25v7.56h-3.25zM386.57 262.51h1.75v7.56h-1.75zM394.07 262.51h1.75v7.56h-1.75zM400.06 262.51h1.75v7.56h-1.75zM403.06 262.51h3.25v7.56h-3.25zM407.56 262.51h1.75v7.56h-1.75zM415.06 262.51h3.25v7.56h-3.25zM422.55 262.51h6.25v7.56h-6.25zM430.05 262.51h1.75v7.56h-1.75zM437.55 262.51h1.75v7.56h-1.75zM460.04 262.51h1.75v7.56h-1.75zM469.04 262.51h3.25v7.56h-3.25zM485.53 262.51h4.75v7.56h-4.75zM491.53 262.51h1.75v7.56h-1.75zM508.02 262.51h1.75v7.56h-1.75zM521.52 262.51h1.75v7.56h-1.75zM526.02 262.51h4.75v7.56h-4.75zM533.51 262.51h3.25v7.56h-3.25zM545.51 262.51h3.25v7.56h-3.25zM553.01 262.51h1.75v7.56h-1.75zM556.01 262.51h1.75v7.56h-1.75zM92.67 269.77h1.75v7.56h-1.75zM112.17 269.77h1.75v7.56h-1.75zM115.17 269.77h4.75v7.56h-4.75zM121.16 269.77h4.75v7.56h-4.75zM127.16 269.77h3.25v7.56h-3.25zM131.66 269.77h1.75v7.56h-1.75zM155.65 269.77h6.25v7.56h-6.25zM164.65 269.77h3.25v7.56h-3.25zM169.15 269.77h1.75v7.56h-1.75zM197.64 269.77h3.25v7.56h-3.25zM323.59 269.77h3.25v7.56h-3.25zM335.59 269.77h1.75v7.56h-1.75zM338.59 269.77h4.75v7.56h-4.75zM349.08 269.77h1.75v7.56h-1.75zM355.08 269.77h6.25v7.56h-6.25zM364.08 269.77h3.25v7.56h-3.25zM370.07 269.77h3.25v7.56h-3.25zM385.07 269.77h1.75v7.56h-1.75zM392.57 269.77h1.75v7.56h-1.75zM404.56 269.77h3.25v7.56h-3.25zM409.06 269.77h3.25v7.56h-3.25zM416.56 269.77h3.25v7.56h-3.25zM421.06 269.77h3.25v7.56h-3.25zM425.55 269.77h3.25v7.56h-3.25zM431.55 269.77h1.75v7.56h-1.75zM434.55 269.77h1.75v7.56h-1.75zM460.04 269.77h3.25v7.56h-3.25zM469.04 269.77h1.75v7.56h-1.75zM473.54 269.77h1.75v7.56h-1.75zM476.54 269.77h4.75v7.56h-4.75zM487.03 269.77h1.75v7.56h-1.75zM497.53 269.77h1.75v7.56h-1.75zM508.02 269.77h3.25v7.56h-3.25zM529.02 269.77h1.75v7.56h-1.75zM533.51 269.77h3.25v7.56h-3.25zM541.01 269.77h1.75v7.56h-1.75zM545.51 269.77h3.25v7.56h-3.25zM554.51 269.77h3.25v7.56h-3.25zM29.7 277.04h1.75v7.56h-1.75zM47.69 277.04h1.75v7.56h-1.75zM53.69 277.04h1.75v7.56h-1.75zM68.68 277.04h1.75v7.56h-1.75zM71.68 277.04h1.75v7.56h-1.75zM74.68 277.04h1.75v7.56h-1.75zM89.68 277.04h1.75v7.56h-1.75zM116.67 277.04h3.25v7.56h-3.25zM124.16 277.04h1.75v7.56h-1.75zM130.16 277.04h1.75v7.56h-1.75zM160.15 277.04h3.25v7.56h-3.25zM164.65 277.04h1.75v7.56h-1.75zM196.14 277.04h1.75v7.56h-1.75zM199.14 277.04h1.75v7.56h-1.75zM323.59 277.04h3.25v7.56h-3.25zM332.59 277.04h1.75v7.56h-1.75zM341.58 277.04h3.25v7.56h-3.25zM355.08 277.04h3.25v7.56h-3.25zM359.58 277.04h1.75v7.56h-1.75zM364.08 277.04h1.75v7.56h-1.75zM367.07 277.04h3.25v7.56h-3.25zM379.07 277.04h3.25v7.56h-3.25zM383.57 277.04h4.75v7.56h-4.75zM389.57 277.04h3.25v7.56h-3.25zM394.07 277.04h1.75v7.56h-1.75zM400.06 277.04h1.75v7.56h-1.75zM403.06 277.04h3.25v7.56h-3.25zM407.56 277.04h1.75v7.56h-1.75zM415.06 277.04h6.25v7.56h-6.25zM422.55 277.04h3.25v7.56h-3.25zM427.05 277.04h6.25v7.56h-6.25zM434.55 277.04h1.75v7.56h-1.75zM437.55 277.04h1.75v7.56h-1.75zM458.54 277.04h4.75v7.56h-4.75zM487.03 277.04h1.75v7.56h-1.75zM493.03 277.04h1.75v7.56h-1.75zM499.03 277.04h1.75v7.56h-1.75zM503.53 277.04h1.75v7.56h-1.75zM508.02 277.04h1.75v7.56h-1.75zM511.02 277.04h1.75v7.56h-1.75zM521.52 277.04h3.25v7.56h-3.25zM527.52 277.04h3.25v7.56h-3.25zM535.01 277.04h3.25v7.56h-3.25zM541.01 277.04h1.75v7.56h-1.75zM545.51 277.04h4.75v7.56h-4.75zM554.51 277.04h3.25v7.56h-3.25z"/><path fill="#f8e010" d="M68.68 66.4h1.75v7.56h-1.75zM77.68 66.4h1.75v7.56h-1.75zM82.18 66.4h1.75v7.56h-1.75zM86.68 66.4h1.75v7.56h-1.75zM89.68 66.4h1.75v7.56h-1.75zM110.67 66.4h3.25v7.56h-3.25zM118.17 66.4h3.25v7.56h-3.25zM122.66 66.4h1.75v7.56h-1.75zM128.66 66.4h4.75v7.56h-4.75zM182.64 66.4h1.75v7.56h-1.75zM188.64 66.4h1.75v7.56h-1.75zM196.14 66.4h1.75v7.56h-1.75zM199.14 66.4h1.75v7.56h-1.75zM260.61 66.4h1.75v7.56h-1.75zM272.61 66.4h1.75v7.56h-1.75zM277.11 66.4h1.75v7.56h-1.75zM280.11 66.4h4.75v7.56h-4.75zM287.6 66.4h3.25v7.56h-3.25zM335.59 66.4h1.75v7.56h-1.75zM358.08 66.4h1.75v7.56h-1.75zM368.57 66.4h4.75v7.56h-4.75zM380.57 66.4h3.25v7.56h-3.25zM388.07 66.4h1.75v7.56h-1.75zM403.06 66.4h1.75v7.56h-1.75zM407.56 66.4h1.75v7.56h-1.75zM460.04 66.4h3.25v7.56h-3.25zM472.04 66.4h6.25v7.56h-6.25zM479.53 66.4h1.75v7.56h-1.75zM512.52 66.4h1.75v7.56h-1.75zM529.02 66.4h1.75v7.56h-1.75zM541.01 66.4h1.75v7.56h-1.75zM22.2 73.66h3.25v7.56h-3.25zM28.2 73.66h3.25v7.56h-3.25zM32.7 73.66h1.75v7.56h-1.75zM35.7 73.66h1.75v7.56h-1.75zM49.19 73.66h1.75v7.56h-1.75zM52.19 73.66h1.75v7.56h-1.75zM56.69 73.66h3.25v7.56h-3.25zM61.19 73.66h6.25v7.56h-6.25zM70.18 73.66h1.75v7.56h-1.75zM77.68 73.66h1.75v7.56h-1.75zM86.68 73.66h1.75v7.56h-1.75zM89.68 73.66h1.75v7.56h-1.75zM97.17 73.66h1.75v7.56h-1.75zM110.67 73.66h3.25v7.56h-3.25zM130.16 73.66h1.75v7.56h-1.75zM199.14 73.66h1.75v7.56h-1.75zM260.61 73.66h1.75v7.56h-1.75zM269.61 73.66h1.75v7.56h-1.75zM278.61 73.66h3.25v7.56h-3.25zM283.11 73.66h1.75v7.56h-1.75zM289.1 73.66h1.75v7.56h-1.75zM338.59 73.66h1.75v7.56h-1.75zM343.08 73.66h1.75v7.56h-1.75zM356.58 73.66h1.75v7.56h-1.75zM368.57 73.66h3.25v7.56h-3.25zM382.07 73.66h1.75v7.56h-1.75zM460.04 73.66h1.75v7.56h-1.75zM470.54 73.66h3.25v7.56h-3.25zM475.04 73.66h1.75v7.56h-1.75zM481.03 73.66h3.25v7.56h-3.25zM485.53 73.66h3.25v7.56h-3.25zM493.03 73.66h1.75v7.56h-1.75zM499.03 73.66h1.75v7.56h-1.75zM508.02 73.66h3.25v7.56h-3.25zM512.52 73.66h1.75v7.56h-1.75zM524.52 73.66h1.75v7.56h-1.75zM544.01 73.66h1.75v7.56h-1.75zM554.51 73.66h1.75v7.56h-1.75zM67.18 80.93h1.75v7.56h-1.75zM76.18 80.93h1.75v7.56h-1.75zM91.17 80.93h1.75v7.56h-1.75zM110.67 80.93h1.75v7.56h-1.75zM116.67 80.93h4.75v7.56h-4.75zM188.64 80.93h1.75v7.56h-1.75zM196.14 80.93h3.25v7.56h-3.25zM278.61 80.93h1.75v7.56h-1.75zM314.59 80.93h1.75v7.56h-1.75zM356.58 80.93h1.75v7.56h-1.75zM364.08 80.93h1.75v7.56h-1.75zM400.06 80.93h1.75v7.56h-1.75zM409.06 80.93h1.75v7.56h-1.75zM458.54 80.93h1.75v7.56h-1.75zM470.54 80.93h1.75v7.56h-1.75zM473.54 80.93h4.75v7.56h-4.75zM479.53 80.93h1.75v7.56h-1.75zM542.51 80.93h1.75v7.56h-1.75zM551.51 80.93h1.75v7.56h-1.75zM556.01 80.93h1.75v7.56h-1.75zM68.68 88.19h1.75v7.56h-1.75zM82.18 88.19h1.75v7.56h-1.75zM89.68 88.19h3.25v7.56h-3.25zM112.17 88.19h1.75v7.56h-1.75zM115.17 88.19h1.75v7.56h-1.75zM119.66 88.19h1.75v7.56h-1.75zM131.66 88.19h1.75v7.56h-1.75zM182.64 88.19h1.75v7.56h-1.75zM236.62 88.19h1.75v7.56h-1.75zM260.61 88.19h1.75v7.56h-1.75zM269.61 88.19h1.75v7.56h-1.75zM277.11 88.19h1.75v7.56h-1.75zM280.11 88.19h1.75v7.56h-1.75zM283.11 88.19h1.75v7.56h-1.75zM292.1 88.19h1.75v7.56h-1.75zM296.6 88.19h1.75v7.56h-1.75zM343.08 88.19h3.25v7.56h-3.25zM370.07 88.19h3.25v7.56h-3.25zM379.07 88.19h1.75v7.56h-1.75zM382.07 88.19h1.75v7.56h-1.75zM385.07 88.19h1.75v7.56h-1.75zM400.06 88.19h1.75v7.56h-1.75zM403.06 88.19h3.25v7.56h-3.25zM461.54 88.19h1.75v7.56h-1.75zM469.04 88.19h1.75v7.56h-1.75zM472.04 88.19h3.25v7.56h-3.25zM481.03 88.19h4.75v7.56h-4.75zM491.53 88.19h1.75v7.56h-1.75zM497.53 88.19h1.75v7.56h-1.75zM503.53 88.19h1.75v7.56h-1.75zM521.52 88.19h1.75v7.56h-1.75zM526.02 88.19h1.75v7.56h-1.75zM533.51 88.19h1.75v7.56h-1.75zM541.01 88.19h1.75v7.56h-1.75zM545.51 88.19h1.75v7.56h-1.75zM551.51 88.19h1.75v7.56h-1.75zM554.51 88.19h1.75v7.56h-1.75zM50.69 95.45h1.75v7.56h-1.75zM55.19 95.45h1.75v7.56h-1.75zM58.19 95.45h4.75v7.56h-4.75zM76.18 95.45h1.75v7.56h-1.75zM80.68 95.45h3.25v7.56h-3.25zM89.68 95.45h1.75v7.56h-1.75zM110.67 95.45h3.25v7.56h-3.25zM119.66 95.45h1.75v7.56h-1.75zM122.66 95.45h1.75v7.56h-1.75zM128.66 95.45h3.25v7.56h-3.25zM169.15 95.45h1.75v7.56h-1.75zM188.64 95.45h1.75v7.56h-1.75zM196.14 95.45h3.25v7.56h-3.25zM206.63 95.45h1.75v7.56h-1.75zM218.63 95.45h1.75v7.56h-1.75zM224.63 95.45h1.75v7.56h-1.75zM284.6 95.45h1.75v7.56h-1.75zM287.6 95.45h3.25v7.56h-3.25zM332.59 95.45h1.75v7.56h-1.75zM355.08 95.45h3.25v7.56h-3.25zM359.58 95.45h1.75v7.56h-1.75zM403.06 95.45h1.75v7.56h-1.75zM460.04 95.45h3.25v7.56h-3.25zM470.54 95.45h1.75v7.56h-1.75zM476.54 95.45h3.25v7.56h-3.25zM487.03 95.45h1.75v7.56h-1.75zM491.53 95.45h1.75v7.56h-1.75zM508.02 95.45h1.75v7.56h-1.75zM523.02 95.45h1.75v7.56h-1.75zM527.52 95.45h1.75v7.56h-1.75zM535.01 95.45h1.75v7.56h-1.75zM545.51 95.45h1.75v7.56h-1.75zM26.7 102.72h1.75v7.56h-1.75zM46.19 102.72h3.25v7.56h-3.25zM50.69 102.72h3.25v7.56h-3.25zM56.69 102.72h1.75v7.56h-1.75zM62.69 102.72h3.25v7.56h-3.25zM68.68 102.72h1.75v7.56h-1.75zM77.68 102.72h1.75v7.56h-1.75zM82.18 102.72h1.75v7.56h-1.75zM91.17 102.72h1.75v7.56h-1.75zM113.67 102.72h1.75v7.56h-1.75zM116.67 102.72h1.75v7.56h-1.75zM122.66 102.72h3.25v7.56h-3.25zM130.16 102.72h1.75v7.56h-1.75zM133.16 102.72h3.25v7.56h-3.25zM197.64 102.72h1.75v7.56h-1.75zM260.61 102.72h1.75v7.56h-1.75zM355.08 102.72h3.25v7.56h-3.25zM364.08 102.72h1.75v7.56h-1.75zM367.07 102.72h1.75v7.56h-1.75zM383.57 102.72h6.25v7.56h-6.25zM401.56 102.72h3.25v7.56h-3.25zM458.54 102.72h1.75v7.56h-1.75zM475.04 102.72h3.25v7.56h-3.25zM484.03 102.72h3.25v7.56h-3.25zM499.03 102.72h1.75v7.56h-1.75zM502.03 102.72h1.75v7.56h-1.75zM508.02 102.72h1.75v7.56h-1.75zM512.52 102.72h1.75v7.56h-1.75zM529.02 102.72h1.75v7.56h-1.75zM535.01 102.72h1.75v7.56h-1.75zM545.51 102.72h1.75v7.56h-1.75zM554.51 102.72h1.75v7.56h-1.75zM28.2 109.98h1.75v7.56h-1.75zM31.2 109.98h1.75v7.56h-1.75zM35.7 109.98h1.75v7.56h-1.75zM38.69 109.98h1.75v7.56h-1.75zM46.19 109.98h1.75v7.56h-1.75zM50.69 109.98h4.75v7.56h-4.75zM61.19 109.98h4.75v7.56h-4.75zM67.18 109.98h1.75v7.56h-1.75zM80.68 109.98h1.75v7.56h-1.75zM86.68 109.98h1.75v7.56h-1.75zM97.17 109.98h1.75v7.56h-1.75zM110.67 109.98h1.75v7.56h-1.75zM122.66 109.98h3.25v7.56h-3.25zM133.16 109.98h1.75v7.56h-1.75zM196.14 109.98h1.75v7.56h-1.75zM199.14 109.98h1.75v7.56h-1.75zM340.08 109.98h1.75v7.56h-1.75zM365.58 109.98h1.75v7.56h-1.75zM368.57 109.98h4.75v7.56h-4.75zM385.07 109.98h1.75v7.56h-1.75zM403.06 109.98h1.75v7.56h-1.75zM460.04 109.98h3.25v7.56h-3.25zM469.04 109.98h3.25v7.56h-3.25zM473.54 109.98h1.75v7.56h-1.75zM482.53 109.98h3.25v7.56h-3.25zM497.53 109.98h3.25v7.56h-3.25zM512.52 109.98h1.75v7.56h-1.75zM521.52 109.98h1.75v7.56h-1.75zM22.2 117.24h1.75v7.56h-1.75zM32.7 117.24h1.75v7.56h-1.75zM47.69 117.24h1.75v7.56h-1.75zM52.19 117.24h1.75v7.56h-1.75zM61.19 117.24h1.75v7.56h-1.75zM68.68 117.24h3.25v7.56h-3.25zM86.68 117.24h1.75v7.56h-1.75zM110.67 117.24h1.75v7.56h-1.75zM116.67 117.24h1.75v7.56h-1.75zM119.66 117.24h1.75v7.56h-1.75zM122.66 117.24h3.25v7.56h-3.25zM133.16 117.24h1.75v7.56h-1.75zM206.63 117.24h1.75v7.56h-1.75zM211.13 117.24h4.75v7.56h-4.75zM223.13 117.24h4.75v7.56h-4.75zM229.12 117.24h3.25v7.56h-3.25zM233.62 117.24h3.25v7.56h-3.25zM329.59 117.24h1.75v7.56h-1.75zM332.59 117.24h1.75v7.56h-1.75zM335.59 117.24h1.75v7.56h-1.75zM355.08 117.24h1.75v7.56h-1.75zM358.08 117.24h3.25v7.56h-3.25zM362.58 117.24h6.25v7.56h-6.25zM379.07 117.24h1.75v7.56h-1.75zM388.07 117.24h1.75v7.56h-1.75zM404.56 117.24h1.75v7.56h-1.75zM407.56 117.24h1.75v7.56h-1.75zM476.54 117.24h1.75v7.56h-1.75zM479.53 117.24h4.75v7.56h-4.75zM487.03 117.24h3.25v7.56h-3.25zM491.53 117.24h3.25v7.56h-3.25zM518.52 117.24h1.75v7.56h-1.75zM521.52 117.24h1.75v7.56h-1.75zM524.52 117.24h1.75v7.56h-1.75zM545.51 117.24h4.75v7.56h-4.75zM86.68 124.51h1.75v7.56h-1.75zM92.67 124.51h1.75v7.56h-1.75zM97.17 124.51h1.75v7.56h-1.75zM115.17 124.51h1.75v7.56h-1.75zM118.17 124.51h1.75v7.56h-1.75zM122.66 124.51h1.75v7.56h-1.75zM130.16 124.51h1.75v7.56h-1.75zM133.16 124.51h1.75v7.56h-1.75zM341.58 124.51h1.75v7.56h-1.75zM404.56 124.51h1.75v7.56h-1.75zM410.56 124.51h1.75v7.56h-1.75zM470.54 124.51h3.25v7.56h-3.25zM481.03 124.51h1.75v7.56h-1.75zM485.53 124.51h4.75v7.56h-4.75zM496.03 124.51h1.75v7.56h-1.75zM499.03 124.51h1.75v7.56h-1.75zM508.02 124.51h1.75v7.56h-1.75zM545.51 124.51h1.75v7.56h-1.75zM551.51 124.51h1.75v7.56h-1.75zM35.7 131.77h1.75v7.56h-1.75zM49.19 131.77h1.75v7.56h-1.75zM55.19 131.77h1.75v7.56h-1.75zM61.19 131.77h1.75v7.56h-1.75zM73.18 131.77h1.75v7.56h-1.75zM83.68 131.77h3.25v7.56h-3.25zM91.17 131.77h1.75v7.56h-1.75zM112.17 131.77h1.75v7.56h-1.75zM116.67 131.77h1.75v7.56h-1.75zM131.66 131.77h1.75v7.56h-1.75zM167.65 131.77h1.75v7.56h-1.75zM172.15 131.77h1.75v7.56h-1.75zM197.64 131.77h1.75v7.56h-1.75zM206.63 131.77h1.75v7.56h-1.75zM209.63 131.77h3.25v7.56h-3.25zM214.13 131.77h1.75v7.56h-1.75zM221.63 131.77h1.75v7.56h-1.75zM226.13 131.77h3.25v7.56h-3.25zM232.12 131.77h6.25v7.56h-6.25zM289.1 131.77h1.75v7.56h-1.75zM292.1 131.77h1.75v7.56h-1.75zM332.59 131.77h1.75v7.56h-1.75zM356.58 131.77h3.25v7.56h-3.25zM364.08 131.77h3.25v7.56h-3.25zM379.07 131.77h1.75v7.56h-1.75zM382.07 131.77h1.75v7.56h-1.75zM460.04 131.77h3.25v7.56h-3.25zM469.04 131.77h3.25v7.56h-3.25zM478.03 131.77h4.75v7.56h-4.75zM484.03 131.77h1.75v7.56h-1.75zM503.53 131.77h1.75v7.56h-1.75zM508.02 131.77h1.75v7.56h-1.75zM527.52 131.77h1.75v7.56h-1.75zM535.01 131.77h1.75v7.56h-1.75zM545.51 131.77h1.75v7.56h-1.75zM551.51 131.77h1.75v7.56h-1.75zM22.2 139.03h3.25v7.56h-3.25zM26.7 139.03h1.75v7.56h-1.75zM29.7 139.03h1.75v7.56h-1.75zM32.7 139.03h1.75v7.56h-1.75zM37.19 139.03h1.75v7.56h-1.75zM41.69 139.03h1.75v7.56h-1.75zM46.19 139.03h1.75v7.56h-1.75zM55.19 139.03h7.75v7.56h-7.75zM65.68 139.03h3.25v7.56h-3.25zM70.18 139.03h1.75v7.56h-1.75zM80.68 139.03h1.75v7.56h-1.75zM85.18 139.03h1.75v7.56h-1.75zM92.67 139.03h1.75v7.56h-1.75zM112.17 139.03h1.75v7.56h-1.75zM115.17 139.03h1.75v7.56h-1.75zM125.66 139.03h1.75v7.56h-1.75zM128.66 139.03h1.75v7.56h-1.75zM131.66 139.03h3.25v7.56h-3.25zM182.64 139.03h1.75v7.56h-1.75zM199.14 139.03h1.75v7.56h-1.75zM208.13 139.03h3.25v7.56h-3.25zM212.63 139.03h1.75v7.56h-1.75zM220.13 139.03h1.75v7.56h-1.75zM232.12 139.03h3.25v7.56h-3.25zM271.11 139.03h1.75v7.56h-1.75zM274.11 139.03h1.75v7.56h-1.75zM281.61 139.03h1.75v7.56h-1.75zM295.1 139.03h3.25v7.56h-3.25zM338.59 139.03h6.25v7.56h-6.25zM356.58 139.03h1.75v7.56h-1.75zM364.08 139.03h1.75v7.56h-1.75zM371.57 139.03h1.75v7.56h-1.75zM400.06 139.03h1.75v7.56h-1.75zM410.56 139.03h1.75v7.56h-1.75zM470.54 139.03h1.75v7.56h-1.75zM475.04 139.03h1.75v7.56h-1.75zM481.03 139.03h1.75v7.56h-1.75zM499.03 139.03h1.75v7.56h-1.75zM505.02 139.03h6.25v7.56h-6.25zM512.52 139.03h1.75v7.56h-1.75zM518.52 139.03h1.75v7.56h-1.75zM526.02 139.03h1.75v7.56h-1.75zM533.51 139.03h1.75v7.56h-1.75zM545.51 139.03h3.25v7.56h-3.25zM550.01 139.03h1.75v7.56h-1.75zM110.67 146.3h1.75v7.56h-1.75zM128.66 146.3h1.75v7.56h-1.75zM131.66 146.3h3.25v7.56h-3.25zM209.63 146.3h1.75v7.56h-1.75zM284.6 146.3h1.75v7.56h-1.75zM289.1 146.3h1.75v7.56h-1.75zM295.1 146.3h1.75v7.56h-1.75zM332.59 146.3h1.75v7.56h-1.75zM340.08 146.3h4.75v7.56h-4.75zM358.08 146.3h1.75v7.56h-1.75zM368.57 146.3h1.75v7.56h-1.75zM382.07 146.3h1.75v7.56h-1.75zM407.56 146.3h1.75v7.56h-1.75zM476.54 146.3h1.75v7.56h-1.75zM487.03 146.3h1.75v7.56h-1.75zM499.03 146.3h1.75v7.56h-1.75zM503.53 146.3h3.25v7.56h-3.25zM526.02 146.3h1.75v7.56h-1.75zM545.51 146.3h3.25v7.56h-3.25zM61.19 153.56h4.75v7.56h-4.75zM67.18 153.56h3.25v7.56h-3.25zM80.68 153.56h1.75v7.56h-1.75zM85.18 153.56h1.75v7.56h-1.75zM115.17 153.56h1.75v7.56h-1.75zM121.16 153.56h1.75v7.56h-1.75zM124.16 153.56h3.25v7.56h-3.25zM128.66 153.56h1.75v7.56h-1.75zM197.64 153.56h3.25v7.56h-3.25zM206.63 153.56h3.25v7.56h-3.25zM211.13 153.56h1.75v7.56h-1.75zM236.62 153.56h1.75v7.56h-1.75zM290.6 153.56h1.75v7.56h-1.75zM355.08 153.56h1.75v7.56h-1.75zM359.58 153.56h1.75v7.56h-1.75zM364.08 153.56h1.75v7.56h-1.75zM368.57 153.56h1.75v7.56h-1.75zM371.57 153.56h1.75v7.56h-1.75zM460.04 153.56h3.25v7.56h-3.25zM467.54 153.56h3.25v7.56h-3.25zM475.04 153.56h1.75v7.56h-1.75zM478.03 153.56h1.75v7.56h-1.75zM481.03 153.56h1.75v7.56h-1.75zM505.02 153.56h1.75v7.56h-1.75zM509.52 153.56h1.75v7.56h-1.75zM527.52 153.56h1.75v7.56h-1.75zM554.51 153.56h3.25v7.56h-3.25zM25.2 160.82h4.75v7.56h-4.75zM32.7 160.82h3.25v7.56h-3.25zM40.19 160.82h1.75v7.56h-1.75zM46.19 160.82h1.75v7.56h-1.75zM49.19 160.82h3.25v7.56h-3.25zM55.19 160.82h1.75v7.56h-1.75zM61.19 160.82h1.75v7.56h-1.75zM77.68 160.82h1.75v7.56h-1.75zM97.17 160.82h1.75v7.56h-1.75zM125.66 160.82h1.75v7.56h-1.75zM208.13 160.82h3.25v7.56h-3.25zM212.63 160.82h3.25v7.56h-3.25zM220.13 160.82h9.25v7.56h-9.25zM230.62 160.82h3.25v7.56h-3.25zM235.12 160.82h3.25v7.56h-3.25zM272.61 160.82h1.75v7.56h-1.75zM293.6 160.82h1.75v7.56h-1.75zM343.08 160.82h3.25v7.56h-3.25zM358.08 160.82h3.25v7.56h-3.25zM365.58 160.82h1.75v7.56h-1.75zM371.57 160.82h1.75v7.56h-1.75zM403.06 160.82h3.25v7.56h-3.25zM407.56 160.82h4.75v7.56h-4.75zM470.54 160.82h1.75v7.56h-1.75zM473.54 160.82h3.25v7.56h-3.25zM478.03 160.82h1.75v7.56h-1.75zM482.53 160.82h3.25v7.56h-3.25zM491.53 160.82h1.75v7.56h-1.75zM497.53 160.82h1.75v7.56h-1.75zM508.02 160.82h3.25v7.56h-3.25zM521.52 160.82h1.75v7.56h-1.75zM529.02 160.82h1.75v7.56h-1.75zM535.01 160.82h3.25v7.56h-3.25zM545.51 160.82h4.75v7.56h-4.75zM68.68 168.09h1.75v7.56h-1.75zM80.68 168.09h1.75v7.56h-1.75zM113.67 168.09h3.25v7.56h-3.25zM121.16 168.09h1.75v7.56h-1.75zM124.16 168.09h1.75v7.56h-1.75zM130.16 168.09h1.75v7.56h-1.75zM206.63 168.09h1.75v7.56h-1.75zM209.63 168.09h1.75v7.56h-1.75zM212.63 168.09h1.75v7.56h-1.75zM215.63 168.09h1.75v7.56h-1.75zM218.63 168.09h4.75v7.56h-4.75zM226.13 168.09h1.75v7.56h-1.75zM229.12 168.09h1.75v7.56h-1.75zM233.62 168.09h4.75v7.56h-4.75zM260.61 168.09h1.75v7.56h-1.75zM283.11 168.09h1.75v7.56h-1.75zM338.59 168.09h6.25v7.56h-6.25zM356.58 168.09h4.75v7.56h-4.75zM365.58 168.09h3.25v7.56h-3.25zM371.57 168.09h1.75v7.56h-1.75zM382.07 168.09h3.25v7.56h-3.25zM388.07 168.09h1.75v7.56h-1.75zM400.06 168.09h3.25v7.56h-3.25zM407.56 168.09h1.75v7.56h-1.75zM410.56 168.09h1.75v7.56h-1.75zM461.54 168.09h1.75v7.56h-1.75zM469.04 168.09h3.25v7.56h-3.25zM476.54 168.09h3.25v7.56h-3.25zM482.53 168.09h1.75v7.56h-1.75zM487.03 168.09h1.75v7.56h-1.75zM509.52 168.09h1.75v7.56h-1.75zM524.52 168.09h3.25v7.56h-3.25zM554.51 168.09h1.75v7.56h-1.75zM25.2 175.35h3.25v7.56h-3.25zM29.7 175.35h1.75v7.56h-1.75zM44.69 175.35h4.75v7.56h-4.75zM50.69 175.35h3.25v7.56h-3.25zM55.19 175.35h1.75v7.56h-1.75zM68.68 175.35h3.25v7.56h-3.25zM91.17 175.35h1.75v7.56h-1.75zM97.17 175.35h1.75v7.56h-1.75zM110.67 175.35h3.25v7.56h-3.25zM116.67 175.35h1.75v7.56h-1.75zM125.66 175.35h1.75v7.56h-1.75zM130.16 175.35h1.75v7.56h-1.75zM157.15 175.35h3.25v7.56h-3.25zM166.15 175.35h1.75v7.56h-1.75zM190.14 175.35h1.75v7.56h-1.75zM197.64 175.35h1.75v7.56h-1.75zM226.13 175.35h1.75v7.56h-1.75zM323.59 175.35h1.75v7.56h-1.75zM343.08 175.35h1.75v7.56h-1.75zM358.08 175.35h1.75v7.56h-1.75zM368.57 175.35h1.75v7.56h-1.75zM383.57 175.35h3.25v7.56h-3.25zM400.06 175.35h1.75v7.56h-1.75zM415.06 175.35h1.75v7.56h-1.75zM424.05 175.35h4.75v7.56h-4.75zM458.54 175.35h1.75v7.56h-1.75zM469.04 175.35h1.75v7.56h-1.75zM473.54 175.35h3.25v7.56h-3.25zM479.53 175.35h4.75v7.56h-4.75zM485.53 175.35h1.75v7.56h-1.75zM488.53 175.35h3.25v7.56h-3.25zM548.51 175.35h1.75v7.56h-1.75zM556.01 175.35h1.75v7.56h-1.75zM67.18 182.61h3.25v7.56h-3.25zM80.68 182.61h1.75v7.56h-1.75zM89.68 182.61h1.75v7.56h-1.75zM112.17 182.61h6.25v7.56h-6.25zM121.16 182.61h1.75v7.56h-1.75zM130.16 182.61h1.75v7.56h-1.75zM158.65 182.61h1.75v7.56h-1.75zM196.14 182.61h1.75v7.56h-1.75zM199.14 182.61h1.75v7.56h-1.75zM325.09 182.61h1.75v7.56h-1.75zM341.58 182.61h1.75v7.56h-1.75zM358.08 182.61h3.25v7.56h-3.25zM380.57 182.61h1.75v7.56h-1.75zM385.07 182.61h1.75v7.56h-1.75zM391.07 182.61h3.25v7.56h-3.25zM403.06 182.61h3.25v7.56h-3.25zM418.06 182.61h1.75v7.56h-1.75zM427.05 182.61h1.75v7.56h-1.75zM473.54 182.61h1.75v7.56h-1.75zM481.03 182.61h1.75v7.56h-1.75zM485.53 182.61h4.75v7.56h-4.75zM508.02 182.61h1.75v7.56h-1.75zM512.52 182.61h1.75v7.56h-1.75zM521.52 182.61h1.75v7.56h-1.75zM533.51 182.61h3.25v7.56h-3.25zM547.01 182.61h1.75v7.56h-1.75zM26.7 189.88h1.75v7.56h-1.75zM31.2 189.88h1.75v7.56h-1.75zM34.2 189.88h3.25v7.56h-3.25zM38.69 189.88h3.25v7.56h-3.25zM46.19 189.88h1.75v7.56h-1.75zM55.19 189.88h1.75v7.56h-1.75zM62.69 189.88h1.75v7.56h-1.75zM76.18 189.88h1.75v7.56h-1.75zM83.68 189.88h1.75v7.56h-1.75zM88.18 189.88h1.75v7.56h-1.75zM115.17 189.88h1.75v7.56h-1.75zM119.66 189.88h1.75v7.56h-1.75zM133.16 189.88h1.75v7.56h-1.75zM157.15 189.88h3.25v7.56h-3.25zM164.65 189.88h1.75v7.56h-1.75zM167.65 189.88h1.75v7.56h-1.75zM182.64 189.88h1.75v7.56h-1.75zM227.63 189.88h1.75v7.56h-1.75zM325.09 189.88h1.75v7.56h-1.75zM332.59 189.88h1.75v7.56h-1.75zM346.08 189.88h1.75v7.56h-1.75zM365.58 189.88h1.75v7.56h-1.75zM379.07 189.88h1.75v7.56h-1.75zM404.56 189.88h1.75v7.56h-1.75zM415.06 189.88h1.75v7.56h-1.75zM427.05 189.88h3.25v7.56h-3.25zM436.05 189.88h1.75v7.56h-1.75zM470.54 189.88h1.75v7.56h-1.75zM475.04 189.88h1.75v7.56h-1.75zM479.53 189.88h1.75v7.56h-1.75zM484.03 189.88h1.75v7.56h-1.75zM503.53 189.88h1.75v7.56h-1.75zM509.52 189.88h1.75v7.56h-1.75zM521.52 189.88h1.75v7.56h-1.75zM536.51 189.88h1.75v7.56h-1.75zM542.51 189.88h1.75v7.56h-1.75zM545.51 189.88h3.25v7.56h-3.25zM554.51 189.88h1.75v7.56h-1.75zM32.7 197.14h3.25v7.56h-3.25zM41.69 197.14h3.25v7.56h-3.25zM49.19 197.14h1.75v7.56h-1.75zM55.19 197.14h1.75v7.56h-1.75zM67.18 197.14h1.75v7.56h-1.75zM73.18 197.14h1.75v7.56h-1.75zM79.18 197.14h1.75v7.56h-1.75zM89.68 197.14h3.25v7.56h-3.25zM110.67 197.14h1.75v7.56h-1.75zM121.16 197.14h3.25v7.56h-3.25zM131.66 197.14h3.25v7.56h-3.25zM166.15 197.14h1.75v7.56h-1.75zM337.09 197.14h1.75v7.56h-1.75zM343.08 197.14h1.75v7.56h-1.75zM358.08 197.14h1.75v7.56h-1.75zM364.08 197.14h1.75v7.56h-1.75zM370.07 197.14h3.25v7.56h-3.25zM380.57 197.14h1.75v7.56h-1.75zM383.57 197.14h1.75v7.56h-1.75zM391.07 197.14h3.25v7.56h-3.25zM400.06 197.14h1.75v7.56h-1.75zM404.56 197.14h1.75v7.56h-1.75zM410.56 197.14h1.75v7.56h-1.75zM416.56 197.14h4.75v7.56h-4.75zM422.55 197.14h4.75v7.56h-4.75zM428.55 197.14h1.75v7.56h-1.75zM431.55 197.14h3.25v7.56h-3.25zM469.04 197.14h3.25v7.56h-3.25zM488.53 197.14h1.75v7.56h-1.75zM497.53 197.14h1.75v7.56h-1.75zM506.52 197.14h3.25v7.56h-3.25zM515.52 197.14h1.75v7.56h-1.75zM523.02 197.14h1.75v7.56h-1.75zM529.02 197.14h1.75v7.56h-1.75zM542.51 197.14h1.75v7.56h-1.75zM547.01 197.14h3.25v7.56h-3.25zM554.51 197.14h1.75v7.56h-1.75zM25.2 204.4h6.25v7.56h-6.25zM32.7 204.4h1.75v7.56h-1.75zM38.69 204.4h3.25v7.56h-3.25zM44.69 204.4h9.25v7.56h-9.25zM56.69 204.4h4.75v7.56h-4.75zM64.18 204.4h1.75v7.56h-1.75zM68.68 204.4h1.75v7.56h-1.75zM79.18 204.4h1.75v7.56h-1.75zM82.18 204.4h1.75v7.56h-1.75zM97.17 204.4h1.75v7.56h-1.75zM112.17 204.4h1.75v7.56h-1.75zM118.17 204.4h1.75v7.56h-1.75zM133.16 204.4h1.75v7.56h-1.75zM155.65 204.4h1.75v7.56h-1.75zM158.65 204.4h3.25v7.56h-3.25zM166.15 204.4h3.25v7.56h-3.25zM215.63 204.4h1.75v7.56h-1.75zM224.63 204.4h1.75v7.56h-1.75zM227.63 204.4h1.75v7.56h-1.75zM332.59 204.4h1.75v7.56h-1.75zM340.08 204.4h1.75v7.56h-1.75zM355.08 204.4h3.25v7.56h-3.25zM368.57 204.4h4.75v7.56h-4.75zM382.07 204.4h4.75v7.56h-4.75zM407.56 204.4h4.75v7.56h-4.75zM418.06 204.4h1.75v7.56h-1.75zM431.55 204.4h1.75v7.56h-1.75zM478.03 204.4h1.75v7.56h-1.75zM485.53 204.4h4.75v7.56h-4.75zM491.53 204.4h1.75v7.56h-1.75zM512.52 204.4h1.75v7.56h-1.75zM521.52 204.4h1.75v7.56h-1.75zM536.51 204.4h1.75v7.56h-1.75zM23.7 211.67h4.75v7.56h-4.75zM29.7 211.67h1.75v7.56h-1.75zM32.7 211.67h1.75v7.56h-1.75zM37.19 211.67h1.75v7.56h-1.75zM46.19 211.67h1.75v7.56h-1.75zM49.19 211.67h3.25v7.56h-3.25zM55.19 211.67h1.75v7.56h-1.75zM61.19 211.67h1.75v7.56h-1.75zM65.68 211.67h1.75v7.56h-1.75zM97.17 211.67h1.75v7.56h-1.75zM118.17 211.67h1.75v7.56h-1.75zM125.66 211.67h1.75v7.56h-1.75zM131.66 211.67h1.75v7.56h-1.75zM160.15 211.67h1.75v7.56h-1.75zM199.14 211.67h1.75v7.56h-1.75zM226.13 211.67h3.25v7.56h-3.25zM323.59 211.67h3.25v7.56h-3.25zM334.09 211.67h1.75v7.56h-1.75zM341.58 211.67h1.75v7.56h-1.75zM368.57 211.67h3.25v7.56h-3.25zM386.57 211.67h1.75v7.56h-1.75zM394.07 211.67h1.75v7.56h-1.75zM400.06 211.67h1.75v7.56h-1.75zM403.06 211.67h1.75v7.56h-1.75zM410.56 211.67h1.75v7.56h-1.75zM415.06 211.67h1.75v7.56h-1.75zM418.06 211.67h1.75v7.56h-1.75zM458.54 211.67h3.25v7.56h-3.25zM476.54 211.67h1.75v7.56h-1.75zM488.53 211.67h1.75v7.56h-1.75zM497.53 211.67h1.75v7.56h-1.75zM539.51 211.67h1.75v7.56h-1.75zM542.51 211.67h1.75v7.56h-1.75zM550.01 211.67h3.25v7.56h-3.25zM554.51 211.67h1.75v7.56h-1.75zM22.2 218.93h1.75v7.56h-1.75zM25.2 218.93h3.25v7.56h-3.25zM29.7 218.93h3.25v7.56h-3.25zM37.19 218.93h6.25v7.56h-6.25zM49.19 218.93h3.25v7.56h-3.25zM55.19 218.93h1.75v7.56h-1.75zM61.19 218.93h1.75v7.56h-1.75zM64.18 218.93h1.75v7.56h-1.75zM67.18 218.93h4.75v7.56h-4.75zM76.18 218.93h1.75v7.56h-1.75zM82.18 218.93h1.75v7.56h-1.75zM85.18 218.93h1.75v7.56h-1.75zM91.17 218.93h1.75v7.56h-1.75zM119.66 218.93h1.75v7.56h-1.75zM122.66 218.93h3.25v7.56h-3.25zM128.66 218.93h1.75v7.56h-1.75zM133.16 218.93h1.75v7.56h-1.75zM154.15 218.93h1.75v7.56h-1.75zM158.65 218.93h3.25v7.56h-3.25zM172.15 218.93h1.75v7.56h-1.75zM196.14 218.93h1.75v7.56h-1.75zM226.13 218.93h1.75v7.56h-1.75zM260.61 218.93h1.75v7.56h-1.75zM325.09 218.93h1.75v7.56h-1.75zM338.59 218.93h3.25v7.56h-3.25zM356.58 218.93h4.75v7.56h-4.75zM382.07 218.93h3.25v7.56h-3.25zM386.57 218.93h1.75v7.56h-1.75zM389.57 218.93h1.75v7.56h-1.75zM400.06 218.93h1.75v7.56h-1.75zM410.56 218.93h1.75v7.56h-1.75zM416.56 218.93h1.75v7.56h-1.75zM419.56 218.93h1.75v7.56h-1.75zM422.55 218.93h1.75v7.56h-1.75zM425.55 218.93h3.25v7.56h-3.25zM430.05 218.93h1.75v7.56h-1.75zM436.05 218.93h1.75v7.56h-1.75zM472.04 218.93h1.75v7.56h-1.75zM475.04 218.93h4.75v7.56h-4.75zM482.53 218.93h1.75v7.56h-1.75zM491.53 218.93h1.75v7.56h-1.75zM521.52 218.93h1.75v7.56h-1.75zM535.01 218.93h1.75v7.56h-1.75zM539.51 218.93h1.75v7.56h-1.75zM545.51 218.93h4.75v7.56h-4.75zM22.2 226.19h4.75v7.56h-4.75zM29.7 226.19h1.75v7.56h-1.75zM37.19 226.19h3.25v7.56h-3.25zM44.69 226.19h1.75v7.56h-1.75zM47.69 226.19h1.75v7.56h-1.75zM53.69 226.19h3.25v7.56h-3.25zM65.68 226.19h1.75v7.56h-1.75zM68.68 226.19h1.75v7.56h-1.75zM73.18 226.19h1.75v7.56h-1.75zM76.18 226.19h3.25v7.56h-3.25zM85.18 226.19h1.75v7.56h-1.75zM97.17 226.19h1.75v7.56h-1.75zM110.67 226.19h1.75v7.56h-1.75zM116.67 226.19h1.75v7.56h-1.75zM121.16 226.19h1.75v7.56h-1.75zM155.65 226.19h1.75v7.56h-1.75zM172.15 226.19h1.75v7.56h-1.75zM226.13 226.19h1.75v7.56h-1.75zM338.59 226.19h1.75v7.56h-1.75zM358.08 226.19h3.25v7.56h-3.25zM388.07 226.19h1.75v7.56h-1.75zM391.07 226.19h3.25v7.56h-3.25zM404.56 226.19h1.75v7.56h-1.75zM409.06 226.19h1.75v7.56h-1.75zM415.06 226.19h4.75v7.56h-4.75zM428.55 226.19h4.75v7.56h-4.75zM437.55 226.19h1.75v7.56h-1.75zM460.04 226.19h3.25v7.56h-3.25zM470.54 226.19h1.75v7.56h-1.75zM476.54 226.19h1.75v7.56h-1.75zM479.53 226.19h1.75v7.56h-1.75zM482.53 226.19h1.75v7.56h-1.75zM499.03 226.19h1.75v7.56h-1.75zM503.53 226.19h1.75v7.56h-1.75zM508.02 226.19h1.75v7.56h-1.75zM511.02 226.19h3.25v7.56h-3.25zM529.02 226.19h1.75v7.56h-1.75zM533.51 226.19h3.25v7.56h-3.25zM548.51 226.19h1.75v7.56h-1.75zM554.51 226.19h1.75v7.56h-1.75zM22.2 233.46h1.75v7.56h-1.75zM26.7 233.46h1.75v7.56h-1.75zM37.19 233.46h3.25v7.56h-3.25zM41.69 233.46h1.75v7.56h-1.75zM44.69 233.46h1.75v7.56h-1.75zM49.19 233.46h3.25v7.56h-3.25zM58.19 233.46h1.75v7.56h-1.75zM61.19 233.46h1.75v7.56h-1.75zM79.18 233.46h1.75v7.56h-1.75zM82.18 233.46h1.75v7.56h-1.75zM91.17 233.46h1.75v7.56h-1.75zM122.66 233.46h1.75v7.56h-1.75zM125.66 233.46h1.75v7.56h-1.75zM133.16 233.46h1.75v7.56h-1.75zM157.15 233.46h1.75v7.56h-1.75zM182.64 233.46h1.75v7.56h-1.75zM226.13 233.46h1.75v7.56h-1.75zM263.61 233.46h1.75v7.56h-1.75zM322.09 233.46h1.75v7.56h-1.75zM332.59 233.46h1.75v7.56h-1.75zM335.59 233.46h1.75v7.56h-1.75zM356.58 233.46h1.75v7.56h-1.75zM364.08 233.46h1.75v7.56h-1.75zM368.57 233.46h1.75v7.56h-1.75zM371.57 233.46h1.75v7.56h-1.75zM380.57 233.46h1.75v7.56h-1.75zM385.07 233.46h4.75v7.56h-4.75zM394.07 233.46h1.75v7.56h-1.75zM419.56 233.46h1.75v7.56h-1.75zM422.55 233.46h1.75v7.56h-1.75zM428.55 233.46h1.75v7.56h-1.75zM431.55 233.46h1.75v7.56h-1.75zM434.55 233.46h1.75v7.56h-1.75zM458.54 233.46h1.75v7.56h-1.75zM461.54 233.46h1.75v7.56h-1.75zM467.54 233.46h6.25v7.56h-6.25zM485.53 233.46h1.75v7.56h-1.75zM503.53 233.46h1.75v7.56h-1.75zM526.02 233.46h1.75v7.56h-1.75zM529.02 233.46h1.75v7.56h-1.75zM541.01 233.46h1.75v7.56h-1.75zM544.01 233.46h1.75v7.56h-1.75zM553.01 233.46h3.25v7.56h-3.25zM160.15 240.72h1.75v7.56h-1.75zM164.65 240.72h1.75v7.56h-1.75zM169.15 240.72h1.75v7.56h-1.75zM200.64 240.72h1.75v7.56h-1.75zM325.09 240.72h1.75v7.56h-1.75zM332.59 240.72h1.75v7.56h-1.75zM338.59 240.72h1.75v7.56h-1.75zM341.58 240.72h1.75v7.56h-1.75zM355.08 240.72h3.25v7.56h-3.25zM359.58 240.72h1.75v7.56h-1.75zM382.07 240.72h4.75v7.56h-4.75zM391.07 240.72h3.25v7.56h-3.25zM403.06 240.72h1.75v7.56h-1.75zM418.06 240.72h1.75v7.56h-1.75zM427.05 240.72h1.75v7.56h-1.75zM437.55 240.72h1.75v7.56h-1.75zM475.04 240.72h1.75v7.56h-1.75zM485.53 240.72h3.25v7.56h-3.25zM512.52 240.72h1.75v7.56h-1.75zM527.52 240.72h3.25v7.56h-3.25zM541.01 240.72h1.75v7.56h-1.75zM545.51 240.72h3.25v7.56h-3.25zM110.67 247.98h3.25v7.56h-3.25zM116.67 247.98h1.75v7.56h-1.75zM119.66 247.98h3.25v7.56h-3.25zM167.65 247.98h1.75v7.56h-1.75zM199.14 247.98h1.75v7.56h-1.75zM260.61 247.98h1.75v7.56h-1.75zM332.59 247.98h1.75v7.56h-1.75zM356.58 247.98h3.25v7.56h-3.25zM364.08 247.98h1.75v7.56h-1.75zM383.57 247.98h1.75v7.56h-1.75zM391.07 247.98h3.25v7.56h-3.25zM416.56 247.98h1.75v7.56h-1.75zM422.55 247.98h1.75v7.56h-1.75zM425.55 247.98h1.75v7.56h-1.75zM428.55 247.98h1.75v7.56h-1.75zM436.05 247.98h1.75v7.56h-1.75zM469.04 247.98h3.25v7.56h-3.25zM475.04 247.98h1.75v7.56h-1.75zM488.53 247.98h1.75v7.56h-1.75zM499.03 247.98h1.75v7.56h-1.75zM512.52 247.98h1.75v7.56h-1.75zM533.51 247.98h1.75v7.56h-1.75zM556.01 247.98h1.75v7.56h-1.75zM124.16 255.25h3.25v7.56h-3.25zM130.16 255.25h1.75v7.56h-1.75zM133.16 255.25h1.75v7.56h-1.75zM160.15 255.25h1.75v7.56h-1.75zM166.15 255.25h3.25v7.56h-3.25zM260.61 255.25h1.75v7.56h-1.75zM367.07 255.25h1.75v7.56h-1.75zM383.57 255.25h1.75v7.56h-1.75zM388.07 255.25h3.25v7.56h-3.25zM394.07 255.25h1.75v7.56h-1.75zM419.56 255.25h1.75v7.56h-1.75zM427.05 255.25h1.75v7.56h-1.75zM434.55 255.25h1.75v7.56h-1.75zM467.54 255.25h1.75v7.56h-1.75zM475.04 255.25h1.75v7.56h-1.75zM485.53 255.25h1.75v7.56h-1.75zM499.03 255.25h1.75v7.56h-1.75zM512.52 255.25h1.75v7.56h-1.75zM526.02 255.25h3.25v7.56h-3.25zM536.51 255.25h1.75v7.56h-1.75zM556.01 255.25h1.75v7.56h-1.75zM121.16 262.51h3.25v7.56h-3.25zM155.65 262.51h1.75v7.56h-1.75zM197.64 262.51h1.75v7.56h-1.75zM218.63 262.51h1.75v7.56h-1.75zM221.63 262.51h1.75v7.56h-1.75zM323.59 262.51h1.75v7.56h-1.75zM338.59 262.51h1.75v7.56h-1.75zM343.08 262.51h1.75v7.56h-1.75zM356.58 262.51h1.75v7.56h-1.75zM364.08 262.51h3.25v7.56h-3.25zM379.07 262.51h1.75v7.56h-1.75zM389.57 262.51h4.75v7.56h-4.75zM409.06 262.51h3.25v7.56h-3.25zM418.06 262.51h3.25v7.56h-3.25zM431.55 262.51h1.75v7.56h-1.75zM434.55 262.51h3.25v7.56h-3.25zM472.04 262.51h1.75v7.56h-1.75zM475.04 262.51h1.75v7.56h-1.75zM493.03 262.51h1.75v7.56h-1.75zM499.03 262.51h1.75v7.56h-1.75zM536.51 262.51h1.75v7.56h-1.75zM548.51 262.51h1.75v7.56h-1.75zM554.51 262.51h1.75v7.56h-1.75zM97.17 269.77h1.75v7.56h-1.75zM110.67 269.77h1.75v7.56h-1.75zM119.66 269.77h1.75v7.56h-1.75zM125.66 269.77h1.75v7.56h-1.75zM130.16 269.77h1.75v7.56h-1.75zM134.66 269.77h1.75v7.56h-1.75zM167.65 269.77h1.75v7.56h-1.75zM196.14 269.77h1.75v7.56h-1.75zM221.63 269.77h1.75v7.56h-1.75zM224.63 269.77h1.75v7.56h-1.75zM233.62 269.77h1.75v7.56h-1.75zM260.61 269.77h1.75v7.56h-1.75zM319.09 269.77h1.75v7.56h-1.75zM332.59 269.77h1.75v7.56h-1.75zM343.08 269.77h1.75v7.56h-1.75zM367.07 269.77h1.75v7.56h-1.75zM382.07 269.77h3.25v7.56h-3.25zM386.57 269.77h4.75v7.56h-4.75zM398.56 269.77h3.25v7.56h-3.25zM403.06 269.77h1.75v7.56h-1.75zM415.06 269.77h1.75v7.56h-1.75zM419.56 269.77h1.75v7.56h-1.75zM424.05 269.77h1.75v7.56h-1.75zM430.05 269.77h1.75v7.56h-1.75zM437.55 269.77h1.75v7.56h-1.75zM458.54 269.77h1.75v7.56h-1.75zM470.54 269.77h1.75v7.56h-1.75zM475.04 269.77h1.75v7.56h-1.75zM481.03 269.77h1.75v7.56h-1.75zM485.53 269.77h1.75v7.56h-1.75zM488.53 269.77h1.75v7.56h-1.75zM491.53 269.77h1.75v7.56h-1.75zM521.52 269.77h1.75v7.56h-1.75zM526.02 269.77h1.75v7.56h-1.75zM536.51 269.77h1.75v7.56h-1.75zM548.51 269.77h1.75v7.56h-1.75zM22.2 277.04h1.75v7.56h-1.75zM25.2 277.04h1.75v7.56h-1.75zM34.2 277.04h3.25v7.56h-3.25zM49.19 277.04h1.75v7.56h-1.75zM61.19 277.04h1.75v7.56h-1.75zM64.18 277.04h1.75v7.56h-1.75zM67.18 277.04h1.75v7.56h-1.75zM97.17 277.04h1.75v7.56h-1.75zM115.17 277.04h1.75v7.56h-1.75zM119.66 277.04h4.75v7.56h-4.75zM125.66 277.04h1.75v7.56h-1.75zM128.66 277.04h1.75v7.56h-1.75zM131.66 277.04h3.25v7.56h-3.25zM155.65 277.04h4.75v7.56h-4.75zM167.65 277.04h3.25v7.56h-3.25zM260.61 277.04h1.75v7.56h-1.75zM335.59 277.04h1.75v7.56h-1.75zM338.59 277.04h3.25v7.56h-3.25zM358.08 277.04h1.75v7.56h-1.75zM365.58 277.04h1.75v7.56h-1.75zM370.07 277.04h4.75v7.56h-4.75zM382.07 277.04h1.75v7.56h-1.75zM392.57 277.04h1.75v7.56h-1.75zM410.56 277.04h1.75v7.56h-1.75zM425.55 277.04h1.75v7.56h-1.75zM485.53 277.04h1.75v7.56h-1.75zM488.53 277.04h1.75v7.56h-1.75zM491.53 277.04h1.75v7.56h-1.75zM505.02 277.04h1.75v7.56h-1.75zM509.52 277.04h1.75v7.56h-1.75zM512.52 277.04h1.75v7.56h-1.75zM526.02 277.04h1.75v7.56h-1.75zM533.51 277.04h1.75v7.56h-1.75z"/><path fill="#f8e828" d="M146.65 66.4h1.75v7.56h-1.75zM254.62 66.4h1.75v7.56h-1.75zM559.01 66.4h1.75v7.56h-1.75zM146.65 73.66h1.75v7.56h-1.75zM320.59 73.66h1.75v7.56h-1.75zM565 73.66h1.75v7.56h-1.75zM146.65 88.19h1.75v7.56h-1.75zM146.65 95.45h1.75v7.56h-1.75zM560.5 95.45h1.75v7.56h-1.75zM146.65 109.98h1.75v7.56h-1.75zM251.62 109.98h1.75v7.56h-1.75zM413.56 109.98h1.75v7.56h-1.75zM565 109.98h1.75v7.56h-1.75zM251.62 117.24h1.75v7.56h-1.75zM559.01 117.24h1.75v7.56h-1.75zM250.12 124.51h1.75v7.56h-1.75zM457.04 124.51h1.75v7.56h-1.75zM320.59 131.77h1.75v7.56h-1.75zM328.09 131.77h1.75v7.56h-1.75zM457.04 131.77h1.75v7.56h-1.75zM560.5 131.77h1.75v7.56h-1.75zM247.12 139.03h1.75v7.56h-1.75zM247.12 146.3h1.75v7.56h-1.75zM253.12 146.3h1.75v7.56h-1.75zM257.61 153.56h1.75v7.56h-1.75zM322.09 153.56h1.75v7.56h-1.75zM455.54 153.56h1.75v7.56h-1.75zM455.54 168.09h1.75v7.56h-1.75zM559.01 168.09h3.25v7.56h-3.25zM152.65 175.35h1.75v7.56h-1.75zM251.62 175.35h1.75v7.56h-1.75zM149.65 182.61h1.75v7.56h-1.75zM247.12 182.61h1.75v7.56h-1.75zM251.62 182.61h1.75v7.56h-1.75zM272.61 182.61h1.75v7.56h-1.75zM281.61 182.61h3.25v7.56h-3.25zM559.01 182.61h1.75v7.56h-1.75zM278.61 189.88h1.75v7.56h-1.75zM272.61 197.14h1.75v7.56h-1.75zM565 197.14h1.75v7.56h-1.75zM278.61 211.67h1.75v7.56h-1.75zM283.11 218.93h1.75v7.56h-1.75zM559.01 218.93h1.75v7.56h-1.75zM277.11 226.19h1.75v7.56h-1.75zM280.11 226.19h1.75v7.56h-1.75zM251.62 233.46h1.75v7.56h-1.75zM277.11 233.46h1.75v7.56h-1.75zM560.5 233.46h1.75v7.56h-1.75zM146.65 240.72h1.75v7.56h-1.75zM269.61 240.72h1.75v7.56h-1.75zM272.61 247.98h1.75v7.56h-1.75zM251.62 255.25h1.75v7.56h-1.75zM277.11 255.25h1.75v7.56h-1.75zM296.6 255.25h1.75v7.56h-1.75zM247.12 262.51h1.75v7.56h-1.75zM281.61 262.51h1.75v7.56h-1.75zM560.5 262.51h1.75v7.56h-1.75zM269.61 269.77h1.75v7.56h-1.75zM280.11 269.77h1.75v7.56h-1.75zM559.01 269.77h1.75v7.56h-1.75zM565 269.77h1.75v7.56h-1.75zM278.61 277.04h1.75v7.56h-1.75zM284.6 277.04h1.75v7.56h-1.75zM457.04 277.04h1.75v7.56h-1.75z"/><path fill="#f8e830" d="M152.65 66.4h1.75v7.56h-1.75zM253.12 66.4h1.75v7.56h-1.75zM326.59 66.4h1.75v7.56h-1.75zM323.59 73.66h1.75v7.56h-1.75zM328.09 73.66h1.75v7.56h-1.75zM455.54 73.66h1.75v7.56h-1.75zM152.65 80.93h1.75v7.56h-1.75zM412.06 80.93h1.75v7.56h-1.75zM328.09 88.19h1.75v7.56h-1.75zM251.62 95.45h3.25v7.56h-3.25zM320.59 95.45h1.75v7.56h-1.75zM565 95.45h1.75v7.56h-1.75zM253.12 102.72h1.75v7.56h-1.75zM565 102.72h1.75v7.56h-1.75zM152.65 109.98h1.75v7.56h-1.75zM247.12 109.98h1.75v7.56h-1.75zM256.12 109.98h1.75v7.56h-1.75zM247.12 117.24h1.75v7.56h-1.75zM320.59 117.24h1.75v7.56h-1.75zM457.04 117.24h1.75v7.56h-1.75zM320.59 124.51h1.75v7.56h-1.75zM323.59 124.51h1.75v7.56h-1.75zM146.65 131.77h1.75v7.56h-1.75zM256.12 131.77h1.75v7.56h-1.75zM572.5 131.77h1.75v7.56h-1.75zM326.59 139.03h1.75v7.56h-1.75zM320.59 146.3h1.75v7.56h-1.75zM253.12 153.56h1.75v7.56h-1.75zM559.01 153.56h1.75v7.56h-1.75zM247.12 160.82h1.75v7.56h-1.75zM326.59 160.82h1.75v7.56h-1.75zM247.12 168.09h1.75v7.56h-1.75zM569.5 168.09h1.75v7.56h-1.75zM148.15 175.35h1.75v7.56h-1.75zM272.61 175.35h1.75v7.56h-1.75zM283.11 175.35h1.75v7.56h-1.75zM560.5 175.35h1.75v7.56h-1.75zM278.61 182.61h1.75v7.56h-1.75zM296.6 182.61h1.75v7.56h-1.75zM455.54 182.61h1.75v7.56h-1.75zM152.65 189.88h1.75v7.56h-1.75zM560.5 189.88h1.75v7.56h-1.75zM146.65 197.14h1.75v7.56h-1.75zM269.61 197.14h1.75v7.56h-1.75zM152.65 204.4h1.75v7.56h-1.75zM560.5 204.4h1.75v7.56h-1.75zM151.15 211.67h3.25v7.56h-3.25zM248.62 211.67h1.75v7.56h-1.75zM281.61 211.67h1.75v7.56h-1.75zM296.6 211.67h1.75v7.56h-1.75zM272.61 218.93h1.75v7.56h-1.75zM560.5 218.93h1.75v7.56h-1.75zM281.61 226.19h1.75v7.56h-1.75zM296.6 226.19h1.75v7.56h-1.75zM563.5 226.19h1.75v7.56h-1.75zM146.65 233.46h1.75v7.56h-1.75zM280.11 233.46h1.75v7.56h-1.75zM457.04 233.46h1.75v7.56h-1.75zM251.62 240.72h1.75v7.56h-1.75zM412.06 240.72h1.75v7.56h-1.75zM565 240.72h1.75v7.56h-1.75zM280.11 247.98h1.75v7.56h-1.75zM272.61 255.25h1.75v7.56h-1.75zM455.54 255.25h1.75v7.56h-1.75zM565 255.25h1.75v7.56h-1.75zM146.65 262.51h1.75v7.56h-1.75zM277.11 262.51h1.75v7.56h-1.75zM412.06 277.04h3.25v7.56h-3.25z"/><path fill="#f8b018" d="M166.15 66.4h1.75v7.56h-1.75zM179.64 66.4h1.75v7.56h-1.75zM125.66 73.66h1.75v7.56h-1.75zM431.55 73.66h1.75v7.56h-1.75zM46.19 80.93h1.75v7.56h-1.75zM101.67 80.93h1.75v7.56h-1.75zM160.15 80.93h1.75v7.56h-1.75zM341.58 80.93h1.75v7.56h-1.75zM391.07 80.93h1.75v7.56h-1.75zM541.01 80.93h1.75v7.56h-1.75zM316.09 88.19h1.75v7.56h-1.75zM445.05 88.19h1.75v7.56h-1.75zM310.1 102.72h1.75v7.56h-1.75zM227.63 109.98h1.75v7.56h-1.75zM335.59 109.98h1.75v7.56h-1.75zM392.57 109.98h1.75v7.56h-1.75zM203.63 117.24h1.75v7.56h-1.75zM187.14 124.51h1.75v7.56h-1.75zM235.12 124.51h1.75v7.56h-1.75zM418.06 124.51h1.75v7.56h-1.75zM427.05 124.51h1.75v7.56h-1.75zM28.2 139.03h1.75v7.56h-1.75zM430.05 139.03h1.75v7.56h-1.75zM493.03 139.03h1.75v7.56h-1.75zM244.12 146.3h1.75v7.56h-1.75zM431.55 146.3h1.75v7.56h-1.75zM227.63 153.56h1.75v7.56h-1.75zM235.12 153.56h1.75v7.56h-1.75zM244.12 153.56h1.75v7.56h-1.75zM419.56 153.56h1.75v7.56h-1.75zM436.05 153.56h1.75v7.56h-1.75zM94.17 160.82h1.75v7.56h-1.75zM304.1 160.82h1.75v7.56h-1.75zM356.58 160.82h1.75v7.56h-1.75zM43.19 168.09h1.75v7.56h-1.75zM310.1 168.09h1.75v7.56h-1.75zM178.14 182.61h1.75v7.56h-1.75zM302.6 182.61h1.75v7.56h-1.75zM313.09 182.61h1.75v7.56h-1.75zM335.59 189.88h1.75v7.56h-1.75zM473.54 189.88h1.75v7.56h-1.75zM493.03 189.88h1.75v7.56h-1.75zM188.64 204.4h1.75v7.56h-1.75zM298.1 204.4h1.75v7.56h-1.75zM380.57 204.4h1.75v7.56h-1.75zM493.03 204.4h1.75v7.56h-1.75zM554.51 204.4h1.75v7.56h-1.75zM545.51 226.19h1.75v7.56h-1.75zM473.54 233.46h1.75v7.56h-1.75zM218.63 247.98h3.25v7.56h-3.25zM299.6 247.98h1.75v7.56h-1.75zM311.6 247.98h1.75v7.56h-1.75zM509.52 247.98h1.75v7.56h-1.75zM311.6 255.25h1.75v7.56h-1.75zM404.56 255.25h1.75v7.56h-1.75zM31.2 262.51h1.75v7.56h-1.75zM41.69 262.51h1.75v7.56h-1.75zM244.12 262.51h1.75v7.56h-1.75zM473.54 262.51h1.75v7.56h-1.75zM68.68 269.77h1.75v7.56h-1.75zM71.68 269.77h1.75v7.56h-1.75zM80.68 269.77h1.75v7.56h-1.75zM542.51 277.04h1.75v7.56h-1.75z"/><path fill="#f8e818" d="M247.12 66.4h1.75v7.56h-1.75zM251.62 66.4h1.75v7.56h-1.75zM319.09 66.4h1.75v7.56h-1.75zM253.12 73.66h1.75v7.56h-1.75zM326.59 73.66h1.75v7.56h-1.75zM559.01 73.66h1.75v7.56h-1.75zM323.59 80.93h1.75v7.56h-1.75zM326.59 88.19h1.75v7.56h-1.75zM455.54 88.19h3.25v7.56h-3.25zM457.04 95.45h1.75v7.56h-1.75zM457.04 102.72h1.75v7.56h-1.75zM325.09 109.98h1.75v7.56h-1.75zM412.06 109.98h1.75v7.56h-1.75zM457.04 109.98h1.75v7.56h-1.75zM560.5 109.98h1.75v7.56h-1.75zM325.09 117.24h1.75v7.56h-1.75zM251.62 131.77h1.75v7.56h-1.75zM323.59 131.77h1.75v7.56h-1.75zM412.06 131.77h1.75v7.56h-1.75zM455.54 131.77h1.75v7.56h-1.75zM559.01 131.77h1.75v7.56h-1.75zM565 131.77h1.75v7.56h-1.75zM146.65 139.03h1.75v7.56h-1.75zM256.12 139.03h1.75v7.56h-1.75zM559.01 139.03h1.75v7.56h-1.75zM328.09 146.3h1.75v7.56h-1.75zM412.06 146.3h1.75v7.56h-1.75zM560.5 146.3h1.75v7.56h-1.75zM319.09 153.56h3.25v7.56h-3.25zM145.16 160.82h1.75v7.56h-1.75zM251.62 160.82h1.75v7.56h-1.75zM320.59 160.82h1.75v7.56h-1.75zM325.09 160.82h1.75v7.56h-1.75zM328.09 160.82h1.75v7.56h-1.75zM565 168.09h1.75v7.56h-1.75zM256.12 175.35h1.75v7.56h-1.75zM277.11 182.61h1.75v7.56h-1.75zM412.06 182.61h1.75v7.56h-1.75zM457.04 182.61h1.75v7.56h-1.75zM247.12 197.14h1.75v7.56h-1.75zM256.12 197.14h1.75v7.56h-1.75zM284.6 197.14h1.75v7.56h-1.75zM146.65 204.4h1.75v7.56h-1.75zM248.62 204.4h1.75v7.56h-1.75zM253.12 204.4h1.75v7.56h-1.75zM278.61 204.4h1.75v7.56h-1.75zM280.11 211.67h1.75v7.56h-1.75zM412.06 211.67h1.75v7.56h-1.75zM145.16 218.93h1.75v7.56h-1.75zM256.12 218.93h1.75v7.56h-1.75zM284.6 226.19h1.75v7.56h-1.75zM457.04 226.19h1.75v7.56h-1.75zM559.01 247.98h1.75v7.56h-1.75zM256.12 255.25h1.75v7.56h-1.75zM563.5 262.51h1.75v7.56h-1.75zM296.6 269.77h1.75v7.56h-1.75zM457.04 269.77h1.75v7.56h-1.75zM146.65 277.04h1.75v7.56h-1.75zM281.61 277.04h1.75v7.56h-1.75z"/><path fill="#f8e838" d="M256.12 66.4h1.75v7.56h-1.75zM412.06 66.4h1.75v7.56h-1.75zM557.51 66.4h1.75v7.56h-1.75zM319.09 80.93h1.75v7.56h-1.75zM322.09 80.93h1.75v7.56h-1.75zM152.65 88.19h1.75v7.56h-1.75zM319.09 88.19h1.75v7.56h-1.75zM559.01 88.19h1.75v7.56h-1.75zM247.12 95.45h1.75v7.56h-1.75zM256.12 95.45h1.75v7.56h-1.75zM326.59 95.45h1.75v7.56h-1.75zM557.51 102.72h1.75v7.56h-1.75zM559.01 109.98h1.75v7.56h-1.75zM146.65 117.24h1.75v7.56h-1.75zM256.12 117.24h1.75v7.56h-1.75zM325.09 124.51h1.75v7.56h-1.75zM560.5 124.51h1.75v7.56h-1.75zM152.65 131.77h1.75v7.56h-1.75zM256.12 146.3h1.75v7.56h-1.75zM559.01 146.3h1.75v7.56h-1.75zM557.51 153.56h1.75v7.56h-1.75zM565 153.56h1.75v7.56h-1.75zM412.06 160.82h1.75v7.56h-1.75zM152.65 168.09h1.75v7.56h-1.75zM319.09 168.09h1.75v7.56h-1.75zM559.01 175.35h1.75v7.56h-1.75zM247.12 189.88h1.75v7.56h-1.75zM412.06 189.88h1.75v7.56h-1.75zM559.01 189.88h1.75v7.56h-1.75zM251.62 197.14h1.75v7.56h-1.75zM289.1 197.14h1.75v7.56h-1.75zM560.5 197.14h1.75v7.56h-1.75zM559.01 204.4h1.75v7.56h-1.75zM455.54 211.67h1.75v7.56h-1.75zM560.5 211.67h1.75v7.56h-1.75zM253.12 218.93h3.25v7.56h-3.25zM269.61 218.93h1.75v7.56h-1.75zM296.6 218.93h1.75v7.56h-1.75zM253.12 226.19h1.75v7.56h-1.75zM455.54 226.19h1.75v7.56h-1.75zM559.01 226.19h3.25v7.56h-3.25zM292.1 240.72h1.75v7.56h-1.75zM560.5 240.72h1.75v7.56h-1.75zM269.61 247.98h1.75v7.56h-1.75zM412.06 247.98h1.75v7.56h-1.75zM253.12 255.25h1.75v7.56h-1.75zM412.06 262.51h1.75v7.56h-1.75zM152.65 269.77h1.75v7.56h-1.75zM455.54 269.77h1.75v7.56h-1.75zM251.62 277.04h1.75v7.56h-1.75zM272.61 277.04h1.75v7.56h-1.75zM280.11 277.04h1.75v7.56h-1.75zM283.11 277.04h1.75v7.56h-1.75z"/><path fill="#f8e850" d="M317.59 66.4h1.75v7.56h-1.75zM457.04 66.4h1.75v7.56h-1.75zM560.5 66.4h1.75v7.56h-1.75zM247.12 80.93h3.25v7.56h-3.25zM253.12 80.93h1.75v7.56h-1.75zM325.09 88.19h1.75v7.56h-1.75zM565 88.19h1.75v7.56h-1.75zM152.65 95.45h1.75v7.56h-1.75zM328.09 95.45h1.75v7.56h-1.75zM145.16 124.51h1.75v7.56h-1.75zM326.59 124.51h1.75v7.56h-1.75zM455.54 124.51h1.75v7.56h-1.75zM559.01 124.51h1.75v7.56h-1.75zM565 124.51h1.75v7.56h-1.75zM454.04 146.3h1.75v7.56h-1.75zM565 146.3h1.75v7.56h-1.75zM247.12 153.56h1.75v7.56h-1.75zM326.59 153.56h1.75v7.56h-1.75zM559.01 160.82h1.75v7.56h-1.75zM146.65 168.09h1.75v7.56h-1.75zM151.15 168.09h1.75v7.56h-1.75zM328.09 168.09h1.75v7.56h-1.75zM457.04 168.09h1.75v7.56h-1.75zM247.12 175.35h1.75v7.56h-1.75zM565 175.35h1.75v7.56h-1.75zM253.12 182.61h1.75v7.56h-1.75zM272.61 189.88h1.75v7.56h-1.75zM283.11 197.14h1.75v7.56h-1.75zM412.06 197.14h1.75v7.56h-1.75zM559.01 197.14h1.75v7.56h-1.75zM277.11 204.4h1.75v7.56h-1.75zM251.62 211.67h1.75v7.56h-1.75zM284.6 211.67h1.75v7.56h-1.75zM457.04 211.67h1.75v7.56h-1.75zM559.01 211.67h1.75v7.56h-1.75zM277.11 218.93h1.75v7.56h-1.75zM284.6 218.93h1.75v7.56h-1.75zM455.54 218.93h1.75v7.56h-1.75zM565 218.93h3.25v7.56h-3.25zM146.65 226.19h1.75v7.56h-1.75zM251.62 226.19h1.75v7.56h-1.75zM256.12 226.19h1.75v7.56h-1.75zM269.61 226.19h1.75v7.56h-1.75zM152.65 233.46h1.75v7.56h-1.75zM256.12 233.46h1.75v7.56h-1.75zM293.6 233.46h1.75v7.56h-1.75zM572.5 233.46h1.75v7.56h-1.75zM256.12 240.72h1.75v7.56h-1.75zM284.6 240.72h1.75v7.56h-1.75zM296.6 240.72h1.75v7.56h-1.75zM457.04 247.98h1.75v7.56h-1.75zM283.11 255.25h1.75v7.56h-1.75zM278.61 262.51h3.25v7.56h-3.25zM559.01 262.51h1.75v7.56h-1.75zM572.5 262.51h1.75v7.56h-1.75zM412.06 269.77h1.75v7.56h-1.75z"/><path fill="#f8e848" d="M320.59 66.4h1.75v7.56h-1.75zM325.09 66.4h1.75v7.56h-1.75zM152.65 73.66h1.75v7.56h-1.75zM560.5 73.66h1.75v7.56h-1.75zM247.12 88.19h1.75v7.56h-1.75zM455.54 95.45h1.75v7.56h-1.75zM152.65 102.72h1.75v7.56h-1.75zM152.65 117.24h1.75v7.56h-1.75zM326.59 117.24h1.75v7.56h-1.75zM251.62 124.51h1.75v7.56h-1.75zM256.12 124.51h1.75v7.56h-1.75zM148.15 139.03h1.75v7.56h-1.75zM251.62 139.03h3.25v7.56h-3.25zM323.59 139.03h1.75v7.56h-1.75zM328.09 139.03h1.75v7.56h-1.75zM326.59 146.3h1.75v7.56h-1.75zM251.62 153.56h1.75v7.56h-1.75zM325.09 153.56h1.75v7.56h-1.75zM323.59 160.82h1.75v7.56h-1.75zM455.54 160.82h1.75v7.56h-1.75zM149.65 168.09h1.75v7.56h-1.75zM325.09 168.09h3.25v7.56h-3.25zM269.61 175.35h1.75v7.56h-1.75zM281.61 175.35h1.75v7.56h-1.75zM412.06 175.35h1.75v7.56h-1.75zM146.65 182.61h1.75v7.56h-1.75zM269.61 182.61h1.75v7.56h-1.75zM292.1 182.61h1.75v7.56h-1.75zM146.65 189.88h1.75v7.56h-1.75zM253.12 189.88h1.75v7.56h-1.75zM569.5 189.88h1.75v7.56h-1.75zM152.65 197.14h1.75v7.56h-1.75zM278.61 197.14h4.75v7.56h-4.75zM296.6 197.14h1.75v7.56h-1.75zM251.62 204.4h1.75v7.56h-1.75zM269.61 204.4h1.75v7.56h-1.75zM272.61 204.4h1.75v7.56h-1.75zM283.11 204.4h1.75v7.56h-1.75zM412.06 204.4h1.75v7.56h-1.75zM565 204.4h1.75v7.56h-1.75zM146.65 211.67h1.75v7.56h-1.75zM253.12 211.67h1.75v7.56h-1.75zM283.11 211.67h1.75v7.56h-1.75zM146.65 218.93h1.75v7.56h-1.75zM280.11 218.93h1.75v7.56h-1.75zM247.12 226.19h1.75v7.56h-1.75zM272.61 226.19h1.75v7.56h-1.75zM269.61 233.46h1.75v7.56h-1.75zM559.01 233.46h1.75v7.56h-1.75zM272.61 240.72h1.75v7.56h-1.75zM281.61 240.72h1.75v7.56h-1.75zM455.54 240.72h3.25v7.56h-3.25zM253.12 247.98h1.75v7.56h-1.75zM281.61 247.98h1.75v7.56h-1.75zM565 247.98h1.75v7.56h-1.75zM146.65 255.25h1.75v7.56h-1.75zM412.06 255.25h1.75v7.56h-1.75zM283.11 262.51h1.75v7.56h-1.75zM457.04 262.51h1.75v7.56h-1.75zM277.11 269.77h1.75v7.56h-1.75zM152.65 277.04h1.75v7.56h-1.75z"/><path fill="#f8e820" d="M323.59 66.4h1.75v7.56h-1.75zM328.09 66.4h1.75v7.56h-1.75zM457.04 80.93h1.75v7.56h-1.75zM253.12 88.19h1.75v7.56h-1.75zM256.12 88.19h1.75v7.56h-1.75zM323.59 88.19h1.75v7.56h-1.75zM560.5 88.19h1.75v7.56h-1.75zM146.65 102.72h1.75v7.56h-1.75zM247.12 102.72h1.75v7.56h-1.75zM251.62 102.72h1.75v7.56h-1.75zM248.62 109.98h1.75v7.56h-1.75zM257.61 109.98h1.75v7.56h-1.75zM455.54 109.98h1.75v7.56h-1.75zM253.12 117.24h1.75v7.56h-1.75zM560.5 117.24h1.75v7.56h-1.75zM319.09 124.51h1.75v7.56h-1.75zM319.09 131.77h1.75v7.56h-1.75zM319.09 139.03h3.25v7.56h-3.25zM455.54 139.03h1.75v7.56h-1.75zM323.59 153.56h1.75v7.56h-1.75zM412.06 153.56h1.75v7.56h-1.75zM149.65 160.82h1.75v7.56h-1.75zM248.62 160.82h1.75v7.56h-1.75zM253.12 160.82h1.75v7.56h-1.75zM319.09 160.82h1.75v7.56h-1.75zM253.12 168.09h1.75v7.56h-1.75zM284.6 175.35h1.75v7.56h-1.75zM565 182.61h1.75v7.56h-1.75zM269.61 189.88h1.75v7.56h-1.75zM280.11 189.88h1.75v7.56h-1.75zM457.04 197.14h1.75v7.56h-1.75zM281.61 204.4h1.75v7.56h-1.75zM284.6 204.4h1.75v7.56h-1.75zM296.6 204.4h1.75v7.56h-1.75zM247.12 211.67h1.75v7.56h-1.75zM566.5 211.67h1.75v7.56h-1.75zM572.5 211.67h1.75v7.56h-1.75zM247.12 218.93h1.75v7.56h-1.75zM251.62 218.93h1.75v7.56h-1.75zM281.61 218.93h1.75v7.56h-1.75zM278.61 226.19h1.75v7.56h-1.75zM253.12 233.46h1.75v7.56h-1.75zM284.6 233.46h1.75v7.56h-1.75zM412.06 233.46h1.75v7.56h-1.75zM455.54 233.46h1.75v7.56h-1.75zM557.51 233.46h1.75v7.56h-1.75zM152.65 240.72h1.75v7.56h-1.75zM277.11 240.72h3.25v7.56h-3.25zM146.65 247.98h1.75v7.56h-1.75zM251.62 247.98h1.75v7.56h-1.75zM274.11 247.98h1.75v7.56h-1.75zM277.11 247.98h1.75v7.56h-1.75zM557.51 247.98h1.75v7.56h-1.75zM152.65 255.25h1.75v7.56h-1.75zM560.5 255.25h1.75v7.56h-1.75zM245.62 262.51h1.75v7.56h-1.75zM253.12 262.51h1.75v7.56h-1.75zM296.6 262.51h1.75v7.56h-1.75zM455.54 262.51h1.75v7.56h-1.75zM278.61 269.77h1.75v7.56h-1.75zM560.5 269.77h1.75v7.56h-1.75zM253.12 277.04h1.75v7.56h-1.75zM277.11 277.04h1.75v7.56h-1.75zM296.6 277.04h1.75v7.56h-1.75zM559.01 277.04h3.25v7.56h-3.25z"/><path fill="#e03028" d="M490.03 66.4h4.75v7.56h-4.75zM383.57 73.66h9.25v7.56h-9.25zM395.56 73.66h16.74v7.56h-16.74zM200.64 88.19h36.24v7.56h-36.24zM229.12 95.45h16.74v7.56h-16.74zM404.56 95.45h7.75v7.56h-7.75zM317.59 102.72h21.24v7.56h-21.24zM259.11 109.98h66.23v7.56h-66.23zM475.04 109.98h3.25v7.56h-3.25zM338.59 117.24h7.75v7.56h-7.75zM344.58 124.51h28.74v7.56h-28.74zM373.07 139.03h22.74v7.56h-22.74zM167.65 146.3h6.25v7.56h-6.25zM184.14 146.3h3.25v7.56h-3.25zM190.14 146.3h9.25v7.56h-9.25zM134.66 153.56h54.23v7.56h-54.23zM412.06 168.09h27.24v7.56h-27.24zM439.05 182.61h15.24v7.56h-15.24zM382.07 189.88h6.25v7.56h-6.25zM454.04 189.88h9.25v7.56h-9.25zM37.19 240.72h1.75v7.56h-1.75zM104.67 240.72h19.74v7.56h-19.74zM43.19 247.98h1.75v7.56h-1.75zM125.66 247.98h4.75v7.56h-4.75zM40.19 255.25h4.75v7.56h-4.75zM70.18 255.25h1.75v7.56h-1.75zM77.68 255.25h1.75v7.56h-1.75zM80.68 255.25h1.75v7.56h-1.75zM95.67 255.25h1.75v7.56h-1.75zM130.16 262.51h4.75v7.56h-4.75zM463.04 277.04h22.74v7.56h-22.74z"/><path fill="#e02828" d="M500.53 66.4h12.25v7.56h-12.25zM559.01 80.93h7.75v7.56h-7.75zM485.53 131.77h13.75v7.56h-13.75zM551.51 160.82h6.25v7.56h-6.25zM542.51 175.35h6.25v7.56h-6.25zM566.5 197.14h7.75v7.56h-7.75zM533.51 204.4h3.25v7.56h-3.25zM529.02 211.67h6.25v7.56h-6.25zM536.51 226.19h6.25v7.56h-6.25zM512.52 233.46h10.75v7.56h-10.75zM46.19 240.72h1.75v7.56h-1.75zM22.2 255.25h1.75v7.56h-1.75zM25.2 255.25h1.75v7.56h-1.75zM28.2 255.25h1.75v7.56h-1.75zM31.2 255.25h3.25v7.56h-3.25zM49.19 255.25h1.75v7.56h-1.75zM61.19 255.25h1.75v7.56h-1.75zM68.68 255.25h1.75v7.56h-1.75zM71.68 255.25h1.75v7.56h-1.75zM76.18 255.25h1.75v7.56h-1.75zM88.18 255.25h1.75v7.56h-1.75zM92.67 255.25h1.75v7.56h-1.75zM100.17 255.25h1.75v7.56h-1.75zM245.62 269.77h13.75v7.56h-13.75z"/><path fill="#f8e840" d="M565 66.4h1.75v7.56h-1.75zM247.12 73.66h1.75v7.56h-1.75zM319.09 73.66h1.75v7.56h-1.75zM457.04 73.66h1.75v7.56h-1.75zM325.09 80.93h3.25v7.56h-3.25zM455.54 80.93h1.75v7.56h-1.75zM251.62 88.19h1.75v7.56h-1.75zM320.59 88.19h1.75v7.56h-1.75zM412.06 95.45h1.75v7.56h-1.75zM412.06 102.72h1.75v7.56h-1.75zM559.01 102.72h3.25v7.56h-3.25zM326.59 109.98h1.75v7.56h-1.75zM412.06 117.24h1.75v7.56h-1.75zM146.65 124.51h1.75v7.56h-1.75zM247.12 124.51h1.75v7.56h-1.75zM253.12 131.77h1.75v7.56h-1.75zM152.65 139.03h1.75v7.56h-1.75zM457.04 139.03h1.75v7.56h-1.75zM560.5 139.03h1.75v7.56h-1.75zM565 139.03h1.75v7.56h-1.75zM319.09 146.3h1.75v7.56h-1.75zM325.09 146.3h1.75v7.56h-1.75zM563.5 153.56h1.75v7.56h-1.75zM146.65 160.82h1.75v7.56h-1.75zM152.65 160.82h1.75v7.56h-1.75zM256.12 160.82h1.75v7.56h-1.75zM457.04 160.82h1.75v7.56h-1.75zM322.09 168.09h1.75v7.56h-1.75zM145.16 175.35h3.25v7.56h-3.25zM277.11 175.35h1.75v7.56h-1.75zM280.11 175.35h1.75v7.56h-1.75zM152.65 182.61h1.75v7.56h-1.75zM284.6 182.61h1.75v7.56h-1.75zM149.65 189.88h1.75v7.56h-1.75zM277.11 189.88h1.75v7.56h-1.75zM281.61 189.88h1.75v7.56h-1.75zM296.6 189.88h1.75v7.56h-1.75zM277.11 197.14h1.75v7.56h-1.75zM256.12 204.4h1.75v7.56h-1.75zM457.04 204.4h1.75v7.56h-1.75zM256.12 211.67h1.75v7.56h-1.75zM269.61 211.67h1.75v7.56h-1.75zM152.65 226.19h1.75v7.56h-1.75zM565 226.19h1.75v7.56h-1.75zM247.12 233.46h1.75v7.56h-1.75zM271.11 233.46h1.75v7.56h-1.75zM286.1 233.46h1.75v7.56h-1.75zM565 233.46h1.75v7.56h-1.75zM247.12 240.72h1.75v7.56h-1.75zM253.12 240.72h1.75v7.56h-1.75zM152.65 247.98h1.75v7.56h-1.75zM278.61 247.98h1.75v7.56h-1.75zM283.11 247.98h1.75v7.56h-1.75zM560.5 247.98h1.75v7.56h-1.75zM247.12 255.25h1.75v7.56h-1.75zM251.62 262.51h1.75v7.56h-1.75zM256.12 262.51h1.75v7.56h-1.75zM284.6 262.51h1.75v7.56h-1.75zM272.61 269.77h1.75v7.56h-1.75zM281.61 269.77h1.75v7.56h-1.75zM269.61 277.04h1.75v7.56h-1.75zM455.54 277.04h1.75v7.56h-1.75zM565 277.04h1.75v7.56h-1.75z"/><path fill="#f8e858" d="M325.09 73.66h1.75v7.56h-1.75zM251.62 80.93h1.75v7.56h-1.75zM256.12 80.93h1.75v7.56h-1.75zM565 117.24h1.75v7.56h-1.75zM569.5 124.51h1.75v7.56h-1.75zM323.59 146.3h1.75v7.56h-1.75zM457.04 146.3h1.75v7.56h-1.75zM560.5 153.56h1.75v7.56h-1.75zM565 160.82h1.75v7.56h-1.75zM251.62 168.09h1.75v7.56h-1.75zM278.61 175.35h1.75v7.56h-1.75zM256.12 182.61h1.75v7.56h-1.75zM560.5 182.61h1.75v7.56h-1.75zM283.11 189.88h1.75v7.56h-1.75zM247.12 204.4h1.75v7.56h-1.75zM152.65 218.93h1.75v7.56h-1.75zM457.04 218.93h1.75v7.56h-1.75zM283.11 233.46h1.75v7.56h-1.75zM296.6 233.46h1.75v7.56h-1.75zM284.6 247.98h1.75v7.56h-1.75zM281.61 255.25h1.75v7.56h-1.75zM275.61 262.51h1.75v7.56h-1.75zM146.65 269.77h1.75v7.56h-1.75zM256.12 277.04h1.75v7.56h-1.75z"/><path fill="#e87820" d="M56.69 80.93h1.75v7.56h-1.75zM41.69 88.19h1.75v7.56h-1.75zM433.05 88.19h1.75v7.56h-1.75zM301.1 95.45h1.75v7.56h-1.75zM415.06 95.45h1.75v7.56h-1.75zM55.19 146.3h1.75v7.56h-1.75zM61.19 146.3h1.75v7.56h-1.75zM232.12 146.3h1.75v7.56h-1.75zM235.12 146.3h1.75v7.56h-1.75zM304.1 146.3h1.75v7.56h-1.75zM415.06 146.3h1.75v7.56h-1.75zM415.06 160.82h1.75v7.56h-1.75zM56.69 168.09h1.75v7.56h-1.75zM307.1 168.09h1.75v7.56h-1.75zM307.1 226.19h1.75v7.56h-1.75zM74.68 240.72h1.75v7.56h-1.75zM22.2 247.98h1.75v7.56h-1.75zM58.19 247.98h3.25v7.56h-3.25zM80.68 247.98h1.75v7.56h-1.75zM83.68 247.98h1.75v7.56h-1.75zM37.19 262.51h1.75v7.56h-1.75zM79.18 262.51h1.75v7.56h-1.75zM91.17 262.51h1.75v7.56h-1.75zM298.1 269.77h1.75v7.56h-1.75z"/><path fill="#f08020" d="M415.06 80.93h1.75v7.56h-1.75zM40.19 88.19h1.75v7.56h-1.75zM50.69 88.19h1.75v7.56h-1.75zM58.19 88.19h1.75v7.56h-1.75zM424.05 95.45h1.75v7.56h-1.75zM433.05 109.98h1.75v7.56h-1.75zM59.69 124.51h1.75v7.56h-1.75zM161.65 131.77h1.75v7.56h-1.75zM161.65 139.03h1.75v7.56h-1.75zM424.05 139.03h1.75v7.56h-1.75zM43.19 146.3h1.75v7.56h-1.75zM433.05 146.3h1.75v7.56h-1.75zM220.13 153.56h1.75v7.56h-1.75zM307.1 153.56h3.25v7.56h-3.25zM427.05 153.56h1.75v7.56h-1.75zM431.55 153.56h1.75v7.56h-1.75zM527.52 175.35h1.75v7.56h-1.75zM43.19 182.61h1.75v7.56h-1.75zM301.1 189.88h1.75v7.56h-1.75zM184.14 204.4h1.75v7.56h-1.75zM184.14 211.67h1.75v7.56h-1.75zM71.68 240.72h1.75v7.56h-1.75zM86.68 240.72h1.75v7.56h-1.75zM476.54 240.72h1.75v7.56h-1.75zM26.7 247.98h1.75v7.56h-1.75zM35.7 247.98h1.75v7.56h-1.75zM44.69 247.98h1.75v7.56h-1.75zM89.68 247.98h1.75v7.56h-1.75zM476.54 247.98h1.75v7.56h-1.75zM481.03 255.25h1.75v7.56h-1.75zM28.2 262.51h1.75v7.56h-1.75z"/><path fill="#f09020" d="M427.05 80.93h1.75v7.56h-1.75zM29.7 88.19h1.75v7.56h-1.75zM244.12 88.19h1.75v7.56h-1.75zM301.1 88.19h1.75v7.56h-1.75zM335.59 88.19h1.75v7.56h-1.75zM307.1 95.45h1.75v7.56h-1.75zM425.55 95.45h1.75v7.56h-1.75zM271.11 102.72h1.75v7.56h-1.75zM307.1 102.72h1.75v7.56h-1.75zM493.03 109.98h1.75v7.56h-1.75zM337.09 117.24h1.75v7.56h-1.75zM445.05 117.24h1.75v7.56h-1.75zM22.2 124.51h1.75v7.56h-1.75zM41.69 124.51h1.75v7.56h-1.75zM52.19 124.51h1.75v7.56h-1.75zM56.69 124.51h1.75v7.56h-1.75zM62.69 124.51h1.75v7.56h-1.75zM220.13 124.51h1.75v7.56h-1.75zM424.05 124.51h1.75v7.56h-1.75zM425.55 139.03h3.25v7.56h-3.25zM436.05 139.03h1.75v7.56h-1.75zM64.18 146.3h1.75v7.56h-1.75zM224.63 146.3h1.75v7.56h-1.75zM298.1 146.3h1.75v7.56h-1.75zM40.19 153.56h1.75v7.56h-1.75zM409.06 153.56h1.75v7.56h-1.75zM43.19 160.82h1.75v7.56h-1.75zM25.2 182.61h1.75v7.56h-1.75zM55.19 182.61h1.75v7.56h-1.75zM59.69 182.61h1.75v7.56h-1.75zM175.14 182.61h1.75v7.56h-1.75zM307.1 182.61h1.75v7.56h-1.75zM335.59 182.61h1.75v7.56h-1.75zM244.12 189.88h1.75v7.56h-1.75zM56.69 197.14h1.75v7.56h-1.75zM526.02 211.67h1.75v7.56h-1.75zM424.05 226.19h1.75v7.56h-1.75zM55.19 240.72h1.75v7.56h-1.75zM61.19 240.72h1.75v7.56h-1.75zM64.18 240.72h1.75v7.56h-1.75zM229.12 240.72h1.75v7.56h-1.75zM232.12 240.72h1.75v7.56h-1.75zM40.19 247.98h3.25v7.56h-3.25zM70.18 247.98h1.75v7.56h-1.75zM232.12 255.25h1.75v7.56h-1.75zM482.53 255.25h1.75v7.56h-1.75zM34.2 262.51h1.75v7.56h-1.75zM43.19 262.51h1.75v7.56h-1.75zM55.19 262.51h1.75v7.56h-1.75zM68.68 262.51h1.75v7.56h-1.75zM380.57 269.77h1.75v7.56h-1.75z"/><path fill="#f08820" d="M22.2 88.19h1.75v7.56h-1.75zM26.7 88.19h1.75v7.56h-1.75zM55.19 88.19h1.75v7.56h-1.75zM43.19 95.45h1.75v7.56h-1.75zM56.69 95.45h1.75v7.56h-1.75zM43.19 109.98h1.75v7.56h-1.75zM43.19 124.51h1.75v7.56h-1.75zM46.19 124.51h1.75v7.56h-1.75zM50.69 124.51h1.75v7.56h-1.75zM64.18 124.51h1.75v7.56h-1.75zM47.69 146.3h1.75v7.56h-1.75zM143.66 146.3h12.25v7.56h-12.25zM161.65 146.3h1.75v7.56h-1.75zM313.09 146.3h1.75v7.56h-1.75zM425.55 146.3h1.75v7.56h-1.75zM436.05 146.3h1.75v7.56h-1.75zM28.2 153.56h1.75v7.56h-1.75zM44.69 153.56h1.75v7.56h-1.75zM230.62 153.56h1.75v7.56h-1.75zM305.6 153.56h1.75v7.56h-1.75zM427.05 160.82h1.75v7.56h-1.75zM184.14 182.61h1.75v7.56h-1.75zM187.14 182.61h1.75v7.56h-1.75zM526.02 189.88h1.75v7.56h-1.75zM527.52 204.4h1.75v7.56h-1.75zM56.69 218.93h1.75v7.56h-1.75zM188.64 218.93h1.75v7.56h-1.75zM56.69 233.46h1.75v7.56h-1.75zM49.19 240.72h1.75v7.56h-1.75zM301.1 240.72h1.75v7.56h-1.75zM28.2 247.98h1.75v7.56h-1.75zM74.68 247.98h1.75v7.56h-1.75zM82.18 247.98h1.75v7.56h-1.75zM88.18 247.98h1.75v7.56h-1.75zM232.12 247.98h1.75v7.56h-1.75zM46.19 262.51h3.25v7.56h-3.25zM50.69 262.51h3.25v7.56h-3.25zM58.19 262.51h1.75v7.56h-1.75zM88.18 262.51h1.75v7.56h-1.75z"/><path fill="#e85020" d="M25.2 88.19h1.75v7.56h-1.75zM37.19 88.19h1.75v7.56h-1.75zM220.13 146.3h1.75v7.56h-1.75zM26.7 240.72h1.75v7.56h-1.75zM47.69 240.72h1.75v7.56h-1.75zM38.69 247.98h1.75v7.56h-1.75zM34.2 255.25h1.75v7.56h-1.75zM47.69 255.25h1.75v7.56h-1.75zM56.69 255.25h1.75v7.56h-1.75z"/><path fill="#f07820" d="M28.2 88.19h1.75v7.56h-1.75zM433.05 95.45h1.75v7.56h-1.75zM424.05 131.77h1.75v7.56h-1.75zM218.63 146.3h1.75v7.56h-1.75zM427.05 146.3h1.75v7.56h-1.75zM212.63 153.56h1.75v7.56h-1.75zM25.2 240.72h1.75v7.56h-1.75zM32.7 240.72h1.75v7.56h-1.75zM38.69 240.72h1.75v7.56h-1.75zM88.18 240.72h1.75v7.56h-1.75zM476.54 255.25h1.75v7.56h-1.75zM61.19 262.51h1.75v7.56h-1.75zM482.53 262.51h1.75v7.56h-1.75z"/><path fill="#e86020" d="M38.69 88.19h1.75v7.56h-1.75zM301.1 146.3h1.75v7.56h-1.75zM49.19 153.56h3.25v7.56h-3.25zM58.19 153.56h1.75v7.56h-1.75zM299.6 153.56h1.75v7.56h-1.75zM68.68 240.72h1.75v7.56h-1.75zM50.69 247.98h1.75v7.56h-1.75zM56.69 247.98h1.75v7.56h-1.75zM79.18 247.98h1.75v7.56h-1.75zM23.7 255.25h1.75v7.56h-1.75zM44.69 255.25h1.75v7.56h-1.75zM83.68 255.25h1.75v7.56h-1.75zM86.68 255.25h1.75v7.56h-1.75z"/><path fill="#e84828" d="M43.19 88.19h1.75v7.56h-1.75zM46.19 88.19h1.75v7.56h-1.75zM307.1 146.3h1.75v7.56h-1.75zM52.19 153.56h1.75v7.56h-1.75zM55.19 153.56h1.75v7.56h-1.75zM59.69 240.72h1.75v7.56h-1.75zM38.69 255.25h1.75v7.56h-1.75zM53.69 255.25h1.75v7.56h-1.75zM59.69 255.25h1.75v7.56h-1.75zM82.18 255.25h1.75v7.56h-1.75zM97.17 255.25h1.75v7.56h-1.75z"/><path fill="#e85820" d="M47.69 88.19h1.75v7.56h-1.75zM59.69 88.19h3.25v7.56h-3.25zM64.18 88.19h1.75v7.56h-1.75zM212.63 146.3h1.75v7.56h-1.75zM23.7 240.72h1.75v7.56h-1.75zM43.19 240.72h1.75v7.56h-1.75zM65.68 240.72h1.75v7.56h-1.75zM73.18 240.72h1.75v7.56h-1.75zM37.19 247.98h1.75v7.56h-1.75zM52.19 247.98h1.75v7.56h-1.75zM46.19 255.25h1.75v7.56h-1.75zM55.19 255.25h1.75v7.56h-1.75zM67.18 255.25h1.75v7.56h-1.75zM79.18 255.25h1.75v7.56h-1.75z"/><path fill="#f0b018" d="M52.19 88.19h1.75v7.56h-1.75zM364.08 88.19h1.75v7.56h-1.75zM226.13 102.72h1.75v7.56h-1.75zM287.6 102.72h1.75v7.56h-1.75zM542.51 109.98h1.75v7.56h-1.75zM214.13 124.51h1.75v7.56h-1.75zM284.6 124.51h1.75v7.56h-1.75zM221.63 146.3h1.75v7.56h-1.75zM335.59 168.09h1.75v7.56h-1.75zM187.14 175.35h1.75v7.56h-1.75zM23.7 247.98h1.75v7.56h-1.75zM67.18 247.98h1.75v7.56h-1.75zM116.67 255.25h1.75v7.56h-1.75zM188.64 277.04h1.75v7.56h-1.75z"/><path fill="#e04828" d="M56.69 88.19h1.75v7.56h-1.75zM89.68 240.72h1.75v7.56h-1.75zM46.19 247.98h1.75v7.56h-1.75zM58.19 255.25h1.75v7.56h-1.75zM94.17 255.25h1.75v7.56h-1.75z"/><path fill="#e02028" d="M62.69 88.19h1.75v7.56h-1.75zM56.69 153.56h1.75v7.56h-1.75zM56.69 240.72h1.75v7.56h-1.75zM79.18 240.72h1.75v7.56h-1.75zM26.7 255.25h1.75v7.56h-1.75zM98.67 255.25h1.75v7.56h-1.75z"/><path fill="#e86820" d="M425.55 88.19h1.75v7.56h-1.75zM433.05 139.03h1.75v7.56h-1.75zM299.6 146.3h1.75v7.56h-1.75zM22.2 153.56h1.75v7.56h-1.75zM25.2 153.56h1.75v7.56h-1.75zM38.69 153.56h1.75v7.56h-1.75zM41.69 153.56h1.75v7.56h-1.75zM35.7 240.72h1.75v7.56h-1.75zM40.19 240.72h1.75v7.56h-1.75zM58.19 240.72h1.75v7.56h-1.75zM25.2 247.98h1.75v7.56h-1.75zM86.68 247.98h1.75v7.56h-1.75zM91.17 247.98h1.75v7.56h-1.75z"/><path fill="#e87020" d="M427.05 88.19h1.75v7.56h-1.75zM46.19 95.45h1.75v7.56h-1.75zM37.19 124.51h1.75v7.56h-1.75zM61.19 124.51h1.75v7.56h-1.75zM233.62 146.3h1.75v7.56h-1.75zM302.6 146.3h1.75v7.56h-1.75zM308.6 146.3h1.75v7.56h-1.75zM214.13 153.56h1.75v7.56h-1.75zM527.52 197.14h1.75v7.56h-1.75zM29.7 240.72h3.25v7.56h-3.25zM34.2 240.72h1.75v7.56h-1.75zM41.69 240.72h1.75v7.56h-1.75zM82.18 240.72h1.75v7.56h-1.75zM91.17 240.72h1.75v7.56h-1.75zM31.2 247.98h1.75v7.56h-1.75zM77.68 247.98h1.75v7.56h-1.75zM53.69 262.51h1.75v7.56h-1.75zM56.69 262.51h1.75v7.56h-1.75z"/><path fill="#e03828" d="M43.19 153.56h1.75v7.56h-1.75zM50.69 240.72h1.75v7.56h-1.75zM62.69 240.72h1.75v7.56h-1.75zM77.68 240.72h1.75v7.56h-1.75zM80.68 240.72h1.75v7.56h-1.75zM55.19 247.98h1.75v7.56h-1.75zM61.19 247.98h1.75v7.56h-1.75zM71.68 247.98h1.75v7.56h-1.75zM29.7 255.25h1.75v7.56h-1.75zM50.69 255.25h3.25v7.56h-3.25zM65.68 255.25h1.75v7.56h-1.75zM74.68 255.25h1.75v7.56h-1.75zM89.68 255.25h1.75v7.56h-1.75zM101.67 255.25h1.75v7.56h-1.75zM104.67 255.25h1.75v7.56h-1.75z"/><path fill="#e04028" d="M298.1 153.56h1.75v7.56h-1.75zM28.2 240.72h1.75v7.56h-1.75zM35.7 255.25h3.25v7.56h-3.25zM62.69 255.25h3.25v7.56h-3.25zM73.18 255.25h1.75v7.56h-1.75zM85.18 255.25h1.75v7.56h-1.75zM91.17 255.25h1.75v7.56h-1.75zM103.17 255.25h1.75v7.56h-1.75z"/></g><text x="5.6" y="14.6" font-size="14" font-weight="bold" fill="#111">a</text><text x="5.6" y="420.8" font-size="14" font-weight="bold" fill="#111">b</text><text x="314.2" y="420.2" font-size="14" font-weight="bold" fill="#111">c</text><text x="314.6" y="684.7" font-size="14" font-weight="bold" fill="#111">d</text><text x="577.7" y="74.5" font-size="8" fill="#231f20" text-anchor="start">Fetal heart</text><text x="577.7" y="81.69" font-size="8" fill="#231f20" text-anchor="start">Fetal liver</text><text x="577.7" y="88.88" font-size="8" fill="#231f20" text-anchor="start">Fetal gut</text><text x="577.7" y="96.07" font-size="8" fill="#231f20" text-anchor="start">Fetal ovary</text><text x="577.7" y="103.26" font-size="8" fill="#231f20" text-anchor="start">Fetal testis</text><text x="577.7" y="110.45" font-size="8" fill="#231f20" text-anchor="start">Fetal brain</text><text x="577.7" y="117.64" font-size="8" fill="#231f20" text-anchor="start">Adult frontal cortex</text><text x="577.7" y="124.83" font-size="8" fill="#231f20" text-anchor="start">Adult spinal cord</text><text x="577.7" y="132.02" font-size="8" fill="#231f20" text-anchor="start">Adult retina</text><text x="577.7" y="139.21" font-size="8" fill="#231f20" text-anchor="start">Adult heart</text><text x="577.7" y="146.4" font-size="8" fill="#231f20" text-anchor="start">Adult liver</text><text x="577.7" y="153.59" font-size="8" fill="#231f20" text-anchor="start">Adult ovary</text><text x="577.7" y="160.78" font-size="8" fill="#231f20" text-anchor="start">Adult testis</text><text x="577.7" y="167.97" font-size="8" fill="#231f20" text-anchor="start">Adult lung</text><text x="577.7" y="175.16" font-size="8" fill="#231f20" text-anchor="start">Adult adrenal gland</text><text x="577.7" y="182.35" font-size="8" fill="#231f20" text-anchor="start">Adult gallbladder</text><text x="577.7" y="189.54" font-size="8" fill="#231f20" text-anchor="start">Adult pancreas</text><text x="577.7" y="196.73" font-size="8" fill="#231f20" text-anchor="start">Adult kidney</text><text x="577.7" y="203.92" font-size="8" fill="#231f20" text-anchor="start">Adult oesophagus</text><text x="577.7" y="211.11" font-size="8" fill="#231f20" text-anchor="start">Adult colon</text><text x="577.7" y="218.3" font-size="8" fill="#231f20" text-anchor="start">Adult rectum</text><text x="577.7" y="225.49" font-size="8" fill="#231f20" text-anchor="start">Adult urinary bladder</text><text x="577.7" y="232.68" font-size="8" fill="#231f20" text-anchor="start">Adult prostate</text><text x="577.7" y="239.87" font-size="8" fill="#231f20" text-anchor="start">Placenta</text><text x="577.7" y="247.06" font-size="8" fill="#231f20" text-anchor="start">B cells</text><text x="577.7" y="254.25" font-size="8" fill="#231f20" text-anchor="start">CD4<tspan font-size='5' dy='-2.5'>+</tspan><tspan dy='2.5'> T cells</tspan></text><text x="577.7" y="261.44" font-size="8" fill="#231f20" text-anchor="start">CD8<tspan font-size='5' dy='-2.5'>+</tspan><tspan dy='2.5'> T cells</tspan></text><text x="577.7" y="268.63" font-size="8" fill="#231f20" text-anchor="start">NK cells</text><text x="577.7" y="275.82" font-size="8" fill="#231f20" text-anchor="start">Monocytes</text><text x="577.7" y="283.01" font-size="8" fill="#231f20" text-anchor="start">Platelets</text><rect x="105.2" y="241.8" width="7.9" height="8.2" fill="none" stroke="#1b1a1f" stroke-width="2.6"/><rect x="144.1" y="146" width="9.9" height="14.8" fill="none" stroke="#1b1a1f" stroke-width="2.6"/><rect x="260" y="109.3" width="8" height="8.1" fill="none" stroke="#1b1a1f" stroke-width="2.6"/><rect x="345" y="124.5" width="8" height="8.3" fill="none" stroke="#1b1a1f" stroke-width="2.6"/><rect x="439.6" y="182.7" width="6.9" height="8.1" fill="none" stroke="#1b1a1f" stroke-width="2.6"/><line x1="104" y1="252" x2="68.04" y2="290.46" stroke="#1b1a1f" stroke-width="1.1"/><path fill="#1b1a1f" d="M62.3 296.6L65.43 284.47L68.04 290.46L74.2 292.66z"/><line x1="150.4" y1="163" x2="168.77" y2="287.29" stroke="#1b1a1f" stroke-width="1.1"/><path fill="#1b1a1f" d="M170 295.6L162.46 285.6L168.77 287.29L174.33 283.84z"/><line x1="263.7" y1="119.3" x2="273.21" y2="282.91" stroke="#1b1a1f" stroke-width="1.1"/><path fill="#1b1a1f" d="M273.7 291.3L267.07 280.67L273.21 282.91L279.05 279.97z"/><line x1="355.5" y1="134.8" x2="384.21" y2="284.15" stroke="#1b1a1f" stroke-width="1.1"/><path fill="#1b1a1f" d="M385.8 292.4L377.83 282.73L384.21 284.15L389.62 280.47z"/><line x1="448" y1="192.5" x2="478.45" y2="288" stroke="#1b1a1f" stroke-width="1.1"/><path fill="#1b1a1f" d="M481 296L471.94 287.34L478.45 288L483.37 283.7z"/><rect x="26.5" y="313.4" width="56.1" height="81.1" fill="none" stroke="#333" stroke-width="1.1"/><text x="55.05" y="309.3" font-size="11.6" fill="#231f20" text-anchor="middle">B cells</text><text x="54.55" y="326.4" font-size="10.3" fill="#231f20" text-anchor="middle" font-style="italic">MS4A1</text><text x="54.55" y="336.83" font-size="10.3" fill="#231f20" text-anchor="middle" font-style="italic">CD19</text><text x="54.55" y="347.26" font-size="10.3" fill="#231f20" text-anchor="middle" font-style="italic">BLK</text><text x="54.55" y="357.69" font-size="10.3" fill="#231f20" text-anchor="middle" font-style="italic">CD72</text><text x="54.55" y="368.12" font-size="10.3" fill="#231f20" text-anchor="middle" font-style="italic">STAP1</text><text x="54.55" y="378.55" font-size="10.3" fill="#231f20" text-anchor="middle" font-style="italic">FCRL1</text><text x="54.55" y="388.98" font-size="10.3" fill="#e0323c" text-anchor="middle" font-style="italic">FAM129C</text><rect x="130.2" y="313.4" width="51.7" height="81" fill="none" stroke="#333" stroke-width="1.1"/><text x="156.55" y="309.3" font-size="11.6" fill="#231f20" text-anchor="middle">Ovary/testis</text><text x="156.05" y="326.4" font-size="10.3" fill="#231f20" text-anchor="middle" font-style="italic">DDX4</text><text x="156.05" y="336.83" font-size="10.3" fill="#231f20" text-anchor="middle" font-style="italic">TKTL1</text><text x="156.05" y="347.26" font-size="10.3" fill="#231f20" text-anchor="middle" font-style="italic">STK31</text><text x="156.05" y="357.69" font-size="10.3" fill="#231f20" text-anchor="middle" font-style="italic">RBMXL2</text><text x="156.05" y="368.12" font-size="10.3" fill="#231f20" text-anchor="middle" font-style="italic">FMR1NB</text><text x="156.05" y="378.55" font-size="10.3" fill="#e0323c" text-anchor="middle" font-style="italic">C9orf9</text><text x="156.05" y="388.98" font-size="10.3" fill="#e0323c" text-anchor="middle" font-style="italic">FAM71B</text><rect x="240.6" y="313.4" width="62.6" height="81.1" fill="none" stroke="#333" stroke-width="1.1"/><text x="272.4" y="309.3" font-size="11.6" fill="#231f20" text-anchor="middle">Frontal cortex</text><text x="271.9" y="326.4" font-size="10.3" fill="#231f20" text-anchor="middle" font-style="italic">SYNGAP1</text><text x="271.9" y="336.83" font-size="10.3" fill="#231f20" text-anchor="middle" font-style="italic">ICAM5</text><text x="271.9" y="347.26" font-size="10.3" fill="#231f20" text-anchor="middle" font-style="italic">SCN1A</text><text x="271.9" y="357.69" font-size="10.3" fill="#231f20" text-anchor="middle" font-style="italic">SHC3</text><text x="271.9" y="368.12" font-size="10.3" fill="#231f20" text-anchor="middle" font-style="italic">CACNG3</text><text x="271.9" y="378.55" font-size="10.3" fill="#e0323c" text-anchor="middle" font-style="italic">C8orf46</text><text x="271.9" y="388.98" font-size="10.3" fill="#e0323c" text-anchor="middle" font-style="italic">KIAA1211L</text><rect x="354.3" y="313.4" width="60.3" height="81.2" fill="none" stroke="#333" stroke-width="1.1"/><text x="384.95" y="309.3" font-size="11.6" fill="#231f20" text-anchor="middle">Retina</text><text x="384.45" y="326.4" font-size="10.3" fill="#231f20" text-anchor="middle" font-style="italic">RLBP1</text><text x="384.45" y="336.83" font-size="10.3" fill="#231f20" text-anchor="middle" font-style="italic">GNAT1</text><text x="384.45" y="347.26" font-size="10.3" fill="#231f20" text-anchor="middle" font-style="italic">RHO</text><text x="384.45" y="357.69" font-size="10.3" fill="#231f20" text-anchor="middle" font-style="italic">RCVRN</text><text x="384.45" y="368.12" font-size="10.3" fill="#231f20" text-anchor="middle" font-style="italic">IMPG1</text><text x="384.45" y="378.55" font-size="10.3" fill="#231f20" text-anchor="middle" font-style="italic">IMPG2</text><text x="384.45" y="388.98" font-size="10.3" fill="#e0323c" text-anchor="middle" font-style="italic">FAM124A</text><rect x="458.3" y="313.6" width="52.7" height="81.3" fill="none" stroke="#333" stroke-width="1.1"/><text x="485.15" y="309.3" font-size="11.6" fill="#231f20" text-anchor="middle">Pancreas</text><text x="484.65" y="326.4" font-size="10.3" fill="#231f20" text-anchor="middle" font-style="italic">REG1B</text><text x="484.65" y="336.83" font-size="10.3" fill="#231f20" text-anchor="middle" font-style="italic">CPA1</text><text x="484.65" y="347.26" font-size="10.3" fill="#231f20" text-anchor="middle" font-style="italic">CEL</text><text x="484.65" y="357.69" font-size="10.3" fill="#231f20" text-anchor="middle" font-style="italic">PNLIP</text><text x="484.65" y="368.12" font-size="10.3" fill="#231f20" text-anchor="middle" font-style="italic">PRSS2</text><text x="484.65" y="378.55" font-size="10.3" fill="#231f20" text-anchor="middle" font-style="italic">CELA3A</text><text x="484.65" y="388.98" font-size="10.3" fill="#231f20" text-anchor="middle" font-style="italic">INS</text><rect x="541.9" y="302.9" width="6.3" height="7.9" fill="#c3c6cf"/><rect x="564.4" y="302.9" width="5.16" height="7.9" fill="#fee717"/><rect x="569.26" y="302.9" width="5.16" height="7.9" fill="#fdde18"/><rect x="574.13" y="302.9" width="5.16" height="7.9" fill="#fbd21a"/><rect x="578.99" y="302.9" width="5.16" height="7.9" fill="#f9c41d"/><rect x="583.85" y="302.9" width="5.16" height="7.9" fill="#f8b51f"/><rect x="588.72" y="302.9" width="5.16" height="7.9" fill="#f6a522"/><rect x="593.58" y="302.9" width="5.16" height="7.9" fill="#f28d24"/><rect x="598.45" y="302.9" width="5.16" height="7.9" fill="#ee7326"/><rect x="603.31" y="302.9" width="5.16" height="7.9" fill="#ea5a27"/><rect x="608.17" y="302.9" width="5.16" height="7.9" fill="#e64029"/><rect x="613.04" y="302.9" width="5.16" height="7.9" fill="#e2262a"/><text x="539.6" y="320.9" font-size="9.1" fill="#231f20" text-anchor="start">n.d.</text><text x="558.3" y="320.9" font-size="9.1" fill="#231f20" text-anchor="start">0.1</text><text x="611.6" y="320.9" font-size="9.1" fill="#231f20" text-anchor="start">1.0</text><rect x="37.0" y="455.0" width="93" height="338.7" fill="#c0c5ce"/><rect x="37.0" y="455.0" width="93" height="2.2" fill="#e3262e"/><rect x="63.57" y="457.2" width="13.29" height="1.4" fill="#ea8a8c" opacity="1.0"/><rect x="76.86" y="457.2" width="13.29" height="1.4" fill="#e5474e" opacity="1.0"/><rect x="90.14" y="457.2" width="13.29" height="1.4" fill="#ea8a8c" opacity="1.0"/><rect x="103.43" y="457.2" width="13.29" height="1.4" fill="#e5474e" opacity="1.0"/><rect x="116.71" y="457.2" width="13.29" height="1.4" fill="#e8686d" opacity="1.0"/><rect x="37" y="459.2" width="13.29" height="0.7" fill="#e3262e" opacity="1.0"/><rect x="50.29" y="459.2" width="13.29" height="0.7" fill="#ea8a8c" opacity="1.0"/><rect x="76.86" y="459.2" width="13.29" height="0.7" fill="#e5474e" opacity="1.0"/><rect x="90.14" y="459.2" width="13.29" height="0.7" fill="#e3262e" opacity="1.0"/><rect x="103.43" y="459.2" width="13.29" height="0.7" fill="#e5474e" opacity="1.0"/><rect x="37" y="460.2" width="13.29" height="1.4" fill="#e5474e" opacity="1.0"/><rect x="50.29" y="460.2" width="13.29" height="1.4" fill="#e8686d" opacity="1.0"/><rect x="63.57" y="460.2" width="13.29" height="1.4" fill="#e3262e" opacity="1.0"/><rect x="76.86" y="460.2" width="13.29" height="1.4" fill="#e8686d" opacity="1.0"/><rect x="90.14" y="460.2" width="13.29" height="1.4" fill="#e3262e" opacity="1.0"/><rect x="103.43" y="460.2" width="13.29" height="1.4" fill="#e8686d" opacity="1.0"/><rect x="116.71" y="460.2" width="13.29" height="1.4" fill="#e8686d" opacity="1.0"/><rect x="37" y="461.9" width="13.29" height="0.7" fill="#e3262e" opacity="1.0"/><rect x="50.29" y="461.9" width="13.29" height="0.7" fill="#e8686d" opacity="1.0"/><rect x="63.57" y="461.9" width="13.29" height="0.7" fill="#e3262e" opacity="1.0"/><rect x="76.86" y="461.9" width="13.29" height="0.7" fill="#e3262e" opacity="1.0"/><rect x="90.14" y="461.9" width="13.29" height="0.7" fill="#e3262e" opacity="1.0"/><rect x="103.43" y="461.9" width="13.29" height="0.7" fill="#ea8a8c" opacity="1.0"/><rect x="116.71" y="461.9" width="13.29" height="0.7" fill="#e5474e" opacity="1.0"/><rect x="37" y="463.6" width="13.29" height="1.1" fill="#eb9a9a" opacity="1.0"/><rect x="50.29" y="463.6" width="13.29" height="1.1" fill="#f0a088" opacity="1.0"/><rect x="76.86" y="463.6" width="13.29" height="1.1" fill="#e8797c" opacity="1.0"/><rect x="90.14" y="463.6" width="13.29" height="1.1" fill="#e5585e" opacity="1.0"/><rect x="103.43" y="463.6" width="13.29" height="1.1" fill="#f0a088" opacity="1.0"/><rect x="116.71" y="463.6" width="13.29" height="1.1" fill="#e6a4a8" opacity="1.0"/><rect x="37" y="465.3" width="13.29" height="1.4" fill="#ddb6b9" opacity="1.0"/><rect x="63.57" y="465.3" width="13.29" height="1.4" fill="#f0a088" opacity="1.0"/><rect x="76.86" y="465.3" width="13.29" height="1.4" fill="#f0a088" opacity="1.0"/><rect x="103.43" y="465.3" width="13.29" height="1.4" fill="#e6a4a8" opacity="1.0"/><rect x="116.71" y="465.3" width="13.29" height="1.4" fill="#e5585e" opacity="1.0"/><rect x="37" y="467.3" width="13.29" height="0.9" fill="#e6a4a8" opacity="1.0"/><rect x="50.29" y="467.3" width="13.29" height="0.9" fill="#e5585e" opacity="1.0"/><rect x="63.57" y="467.3" width="13.29" height="0.9" fill="#e8797c" opacity="1.0"/><rect x="76.86" y="467.3" width="13.29" height="0.9" fill="#eb9a9a" opacity="1.0"/><rect x="90.14" y="467.3" width="13.29" height="0.9" fill="#e6a4a8" opacity="1.0"/><rect x="103.43" y="467.3" width="13.29" height="0.9" fill="#eb9a9a" opacity="1.0"/><rect x="116.71" y="467.3" width="13.29" height="0.9" fill="#e5585e" opacity="1.0"/><rect x="37" y="468.5" width="13.29" height="0.9" fill="#e8797c" opacity="1.0"/><rect x="50.29" y="468.5" width="13.29" height="0.9" fill="#eb9a9a" opacity="1.0"/><rect x="63.57" y="468.5" width="13.29" height="0.9" fill="#f0a088" opacity="1.0"/><rect x="76.86" y="468.5" width="13.29" height="0.9" fill="#e6a4a8" opacity="1.0"/><rect x="90.14" y="468.5" width="13.29" height="0.9" fill="#e6a4a8" opacity="1.0"/><rect x="103.43" y="468.5" width="13.29" height="0.9" fill="#f0a088" opacity="1.0"/><rect x="116.71" y="468.5" width="13.29" height="0.9" fill="#e8797c" opacity="1.0"/><rect x="50.29" y="470.4" width="13.29" height="0.9" fill="#e8797c" opacity="1.0"/><rect x="63.57" y="470.4" width="13.29" height="0.9" fill="#ddb6b9" opacity="1.0"/><rect x="90.14" y="470.4" width="13.29" height="0.9" fill="#f0a088" opacity="1.0"/><rect x="116.71" y="470.4" width="13.29" height="0.9" fill="#f0a088" opacity="1.0"/><rect x="37" y="471.6" width="13.29" height="0.7" fill="#e6a4a8" opacity="1.0"/><rect x="63.57" y="471.6" width="13.29" height="0.7" fill="#ddb6b9" opacity="1.0"/><rect x="76.86" y="471.6" width="13.29" height="0.7" fill="#f0a088" opacity="1.0"/><rect x="103.43" y="471.6" width="13.29" height="0.7" fill="#eb9a9a" opacity="1.0"/><rect x="116.71" y="471.6" width="13.29" height="0.7" fill="#ddb6b9" opacity="1.0"/><rect x="37" y="472.6" width="13.29" height="0.9" fill="#e6a4a8" opacity="1.0"/><rect x="50.29" y="472.6" width="13.29" height="0.9" fill="#e6a4a8" opacity="1.0"/><rect x="63.57" y="472.6" width="13.29" height="0.9" fill="#eb9a9a" opacity="1.0"/><rect x="76.86" y="472.6" width="13.29" height="0.9" fill="#e8797c" opacity="1.0"/><rect x="90.14" y="472.6" width="13.29" height="0.9" fill="#e5585e" opacity="1.0"/><rect x="103.43" y="472.6" width="13.29" height="0.9" fill="#f0a088" opacity="1.0"/><rect x="116.71" y="472.6" width="13.29" height="0.9" fill="#e5585e" opacity="1.0"/><rect x="37" y="474.1" width="13.29" height="1.1" fill="#e6a4a8" opacity="1.0"/><rect x="63.57" y="474.1" width="13.29" height="1.1" fill="#e8797c" opacity="1.0"/><rect x="103.43" y="474.1" width="13.29" height="1.1" fill="#ddb6b9" opacity="1.0"/><rect x="116.71" y="474.1" width="13.29" height="1.1" fill="#e8797c" opacity="1.0"/><rect x="37" y="475.5" width="13.29" height="0.7" fill="#eb9a9a" opacity="1.0"/><rect x="50.29" y="475.5" width="13.29" height="0.7" fill="#e5585e" opacity="1.0"/><rect x="63.57" y="475.5" width="13.29" height="0.7" fill="#ddb6b9" opacity="1.0"/><rect x="76.86" y="475.5" width="13.29" height="0.7" fill="#e5585e" opacity="1.0"/><rect x="90.14" y="475.5" width="13.29" height="0.7" fill="#eb9a9a" opacity="1.0"/><rect x="103.43" y="475.5" width="13.29" height="0.7" fill="#e5585e" opacity="1.0"/><rect x="116.71" y="475.5" width="13.29" height="0.7" fill="#e6a4a8" opacity="1.0"/><rect x="103.43" y="477.2" width="13.29" height="0.7" fill="#ddb6b9" opacity="1.0"/><rect x="116.71" y="477.2" width="13.29" height="0.7" fill="#e5585e" opacity="1.0"/><rect x="76.86" y="479.5" width="13.29" height="0.7" fill="#e6a4a8" opacity="1.0"/><rect x="90.14" y="479.5" width="13.29" height="0.7" fill="#e5585e" opacity="1.0"/><rect x="103.43" y="479.5" width="13.29" height="0.7" fill="#ddb6b9" opacity="1.0"/><rect x="116.71" y="479.5" width="13.29" height="0.7" fill="#eb9a9a" opacity="1.0"/><rect x="37" y="481.8" width="13.29" height="1.1" fill="#e4c2b8" opacity="1.0"/><rect x="50.29" y="481.8" width="13.29" height="1.1" fill="#eb9a9a" opacity="1.0"/><rect x="90.14" y="481.8" width="13.29" height="1.1" fill="#eb9a9a" opacity="1.0"/><rect x="103.43" y="481.8" width="13.29" height="1.1" fill="#f3b48c" opacity="1.0"/><rect x="63.57" y="483.2" width="13.29" height="1.4" fill="#e8797c" opacity="1.0"/><rect x="76.86" y="483.2" width="13.29" height="1.4" fill="#f0a088" opacity="1.0"/><rect x="103.43" y="483.2" width="13.29" height="1.4" fill="#f0a088" opacity="1.0"/><rect x="37" y="485.6" width="13.29" height="1.4" fill="#f3b48c" opacity="1.0"/><rect x="50.29" y="485.6" width="13.29" height="1.4" fill="#f7c38a" opacity="1.0"/><rect x="63.57" y="485.6" width="13.29" height="1.4" fill="#e6a4a8" opacity="1.0"/><rect x="103.43" y="485.6" width="13.29" height="1.4" fill="#f3b48c" opacity="1.0"/><rect x="116.71" y="485.6" width="13.29" height="1.4" fill="#d9b3b8" opacity="1.0"/><rect x="37" y="487.6" width="13.29" height="0.9" fill="#d9b3b8" opacity="1.0"/><rect x="103.43" y="487.6" width="13.29" height="0.9" fill="#f0a088" opacity="1.0"/><rect x="116.71" y="487.6" width="13.29" height="0.9" fill="#e4c2b8" opacity="1.0"/><rect x="50.29" y="489.5" width="13.29" height="0.9" fill="#e4c2b8" opacity="1.0"/><rect x="116.71" y="489.5" width="13.29" height="0.9" fill="#e8797c" opacity="1.0"/><rect x="50.29" y="491.4" width="13.29" height="0.7" fill="#d9b3b8" opacity="1.0"/><rect x="63.57" y="491.4" width="13.29" height="0.7" fill="#e8797c" opacity="1.0"/><rect x="90.14" y="491.4" width="13.29" height="0.7" fill="#f3b48c" opacity="1.0"/><rect x="103.43" y="491.4" width="13.29" height="0.7" fill="#f7c38a" opacity="1.0"/><rect x="116.71" y="491.4" width="13.29" height="0.7" fill="#f0a088" opacity="1.0"/><rect x="37" y="492.4" width="13.29" height="0.7" fill="#d9b3b8" opacity="1.0"/><rect x="76.86" y="492.4" width="13.29" height="0.7" fill="#e4c2b8" opacity="1.0"/><rect x="90.14" y="492.4" width="13.29" height="0.7" fill="#e8797c" opacity="1.0"/><rect x="37" y="493.4" width="13.29" height="0.9" fill="#d9b3b8" opacity="1.0"/><rect x="103.43" y="493.4" width="13.29" height="0.9" fill="#f3b48c" opacity="1.0"/><rect x="116.71" y="493.4" width="13.29" height="0.9" fill="#e6a4a8" opacity="1.0"/><rect x="37" y="494.9" width="13.29" height="1.4" fill="#e8797c" opacity="1.0"/><rect x="50.29" y="494.9" width="13.29" height="1.4" fill="#d9b3b8" opacity="1.0"/><rect x="63.57" y="494.9" width="13.29" height="1.4" fill="#f3b48c" opacity="1.0"/><rect x="76.86" y="494.9" width="13.29" height="1.4" fill="#eb9a9a" opacity="1.0"/><rect x="90.14" y="494.9" width="13.29" height="1.4" fill="#e6a4a8" opacity="1.0"/><rect x="63.57" y="497.3" width="13.29" height="1.1" fill="#eb9a9a" opacity="1.0"/><rect x="76.86" y="497.3" width="13.29" height="1.1" fill="#d9b3b8" opacity="1.0"/><rect x="116.71" y="497.3" width="13.29" height="1.1" fill="#e8797c" opacity="1.0"/><rect x="37" y="499" width="13.29" height="0.7" fill="#e8797c" opacity="1.0"/><rect x="50.29" y="499" width="13.29" height="0.7" fill="#d9b3b8" opacity="1.0"/><rect x="90.14" y="499" width="13.29" height="0.7" fill="#e4c2b8" opacity="1.0"/><rect x="116.71" y="499" width="13.29" height="0.7" fill="#eb9a9a" opacity="1.0"/><rect x="50.29" y="500.3" width="13.29" height="1.4" fill="#f0a088" opacity="1.0"/><rect x="103.43" y="500.3" width="13.29" height="1.4" fill="#e6a4a8" opacity="1.0"/><rect x="90.14" y="502.3" width="13.29" height="1.1" fill="#eb9a9a" opacity="1.0"/><rect x="50.29" y="503.7" width="13.29" height="0.7" fill="#eb9a9a" opacity="1.0"/><rect x="63.57" y="503.7" width="13.29" height="0.7" fill="#f0a088" opacity="1.0"/><rect x="76.86" y="503.7" width="13.29" height="0.7" fill="#e4c2b8" opacity="1.0"/><rect x="90.14" y="503.7" width="13.29" height="0.7" fill="#e6a4a8" opacity="1.0"/><rect x="103.43" y="503.7" width="13.29" height="0.7" fill="#e4c2b8" opacity="1.0"/><rect x="116.71" y="503.7" width="13.29" height="0.7" fill="#d9b3b8" opacity="1.0"/><rect x="50.29" y="506" width="13.29" height="1.4" fill="#e6a4a8" opacity="1.0"/><rect x="90.14" y="506" width="13.29" height="1.4" fill="#e8797c" opacity="1.0"/><rect x="103.43" y="506" width="13.29" height="1.4" fill="#f0a088" opacity="1.0"/><rect x="116.71" y="506" width="13.29" height="1.4" fill="#f7c38a" opacity="1.0"/><rect x="37" y="508.4" width="13.29" height="1.1" fill="#e4c2b8" opacity="1.0"/><rect x="50.29" y="508.4" width="13.29" height="1.1" fill="#eb9a9a" opacity="1.0"/><rect x="116.71" y="509.8" width="13.29" height="1.4" fill="#f3b48c" opacity="1.0"/><rect x="63.57" y="511.8" width="13.29" height="0.9" fill="#f0a088" opacity="1.0"/><rect x="76.86" y="511.8" width="13.29" height="0.9" fill="#d9b3b8" opacity="1.0"/><rect x="103.43" y="511.8" width="13.29" height="0.9" fill="#f3b48c" opacity="1.0"/><rect x="37" y="513.3" width="13.29" height="0.9" fill="#eb9a9a" opacity="1.0"/><rect x="50.29" y="513.3" width="13.29" height="0.9" fill="#eb9a9a" opacity="1.0"/><rect x="63.57" y="513.3" width="13.29" height="0.9" fill="#e6a4a8" opacity="1.0"/><rect x="103.43" y="513.3" width="13.29" height="0.9" fill="#e8797c" opacity="1.0"/><rect x="116.71" y="513.3" width="13.29" height="0.9" fill="#d9b3b8" opacity="1.0"/><rect x="63.57" y="515.2" width="13.29" height="0.7" fill="#f3b48c" opacity="1.0"/><rect x="90.14" y="515.2" width="13.29" height="0.7" fill="#e8797c" opacity="1.0"/><rect x="103.43" y="515.2" width="13.29" height="0.7" fill="#e4c2b8" opacity="1.0"/><rect x="116.71" y="515.2" width="13.29" height="0.7" fill="#f0a088" opacity="1.0"/><rect x="37" y="516.2" width="13.29" height="0.9" fill="#f0a088" opacity="1.0"/><rect x="76.86" y="516.2" width="13.29" height="0.9" fill="#e8797c" opacity="1.0"/><rect x="90.14" y="516.2" width="13.29" height="0.9" fill="#e4c2b8" opacity="1.0"/><rect x="103.43" y="516.2" width="13.29" height="0.9" fill="#eb9a9a" opacity="1.0"/><rect x="116.71" y="516.2" width="13.29" height="0.9" fill="#e4c2b8" opacity="1.0"/><rect x="37" y="518.7" width="13.29" height="1.1" fill="#d9b3b8" opacity="1.0"/><rect x="50.29" y="518.7" width="13.29" height="1.1" fill="#e8797c" opacity="1.0"/><rect x="76.86" y="518.7" width="13.29" height="1.1" fill="#e4c2b8" opacity="1.0"/><rect x="90.14" y="518.7" width="13.29" height="1.1" fill="#d9b3b8" opacity="1.0"/><rect x="103.43" y="518.7" width="13.29" height="1.1" fill="#f3b48c" opacity="1.0"/><rect x="37" y="520.1" width="13.29" height="0.7" fill="#eb9a9a" opacity="1.0"/><rect x="103.43" y="520.1" width="13.29" height="0.7" fill="#f3b48c" opacity="1.0"/><rect x="37" y="521.8" width="13.29" height="1.1" fill="#eb9a9a" opacity="1.0"/><rect x="90.14" y="521.8" width="13.29" height="1.1" fill="#d9b3b8" opacity="1.0"/><rect x="37" y="524.5" width="13.29" height="0.9" fill="#f0a088" opacity="1.0"/><rect x="50.29" y="524.5" width="13.29" height="0.9" fill="#d9b3b8" opacity="1.0"/><rect x="63.57" y="524.5" width="13.29" height="0.9" fill="#eb9a9a" opacity="1.0"/><rect x="76.86" y="524.5" width="13.29" height="0.9" fill="#d9b3b8" opacity="1.0"/><rect x="116.71" y="524.5" width="13.29" height="0.9" fill="#f7c38a" opacity="1.0"/><rect x="37" y="526.4" width="13.29" height="1.1" fill="#e6a4a8" opacity="1.0"/><rect x="76.86" y="526.4" width="13.29" height="1.1" fill="#e4c2b8" opacity="1.0"/><rect x="63.57" y="527.8" width="13.29" height="0.7" fill="#e6a4a8" opacity="1.0"/><rect x="116.71" y="527.8" width="13.29" height="0.7" fill="#f7c38a" opacity="1.0"/><rect x="37" y="530.9" width="13.29" height="0.7" fill="#f0a088" opacity="1.0"/><rect x="50.29" y="530.9" width="13.29" height="0.7" fill="#f0a088" opacity="1.0"/><rect x="103.43" y="530.9" width="13.29" height="0.7" fill="#e4c2b8" opacity="1.0"/><rect x="116.71" y="530.9" width="13.29" height="0.7" fill="#e6a4a8" opacity="1.0"/><rect x="50.29" y="532.6" width="13.29" height="1.1" fill="#f7c38a" opacity="1.0"/><rect x="76.86" y="532.6" width="13.29" height="1.1" fill="#f7c38a" opacity="1.0"/><rect x="90.14" y="532.6" width="13.29" height="1.1" fill="#f3b48c" opacity="1.0"/><rect x="37" y="535.3" width="13.29" height="1.4" fill="#d9b3b8" opacity="1.0"/><rect x="63.57" y="535.3" width="13.29" height="1.4" fill="#d9b3b8" opacity="1.0"/><rect x="76.86" y="535.3" width="13.29" height="1.4" fill="#f3b48c" opacity="1.0"/><rect x="90.14" y="535.3" width="13.29" height="1.4" fill="#e4c2b8" opacity="1.0"/><rect x="103.43" y="535.3" width="13.29" height="1.4" fill="#f3b48c" opacity="1.0"/><rect x="116.71" y="535.3" width="13.29" height="1.4" fill="#eb9a9a" opacity="1.0"/><rect x="76.86" y="538.3" width="13.29" height="0.9" fill="#e6a4a8" opacity="1.0"/><rect x="90.14" y="538.3" width="13.29" height="0.9" fill="#f3b48c" opacity="1.0"/><rect x="116.71" y="538.3" width="13.29" height="0.9" fill="#f0a088" opacity="1.0"/><rect x="37" y="539.5" width="13.29" height="1.1" fill="#e6a4a8" opacity="1.0"/><rect x="50.29" y="539.5" width="13.29" height="1.1" fill="#f7c38a" opacity="1.0"/><rect x="90.14" y="539.5" width="13.29" height="1.1" fill="#f0a088" opacity="1.0"/><rect x="37" y="541.2" width="13.29" height="1.4" fill="#e9c3a8" opacity="0.6"/><rect x="116.71" y="543.2" width="13.29" height="1.1" fill="#f7c38a" opacity="0.6"/><rect x="50.29" y="544.6" width="13.29" height="1.1" fill="#f7c38a" opacity="0.6"/><rect x="63.57" y="544.6" width="13.29" height="1.1" fill="#e9c3a8" opacity="0.6"/><rect x="76.86" y="544.6" width="13.29" height="1.1" fill="#f7c38a" opacity="0.6"/><rect x="103.43" y="546.7" width="13.29" height="1.4" fill="#f7c38a" opacity="0.6"/><rect x="50.29" y="553.7" width="13.29" height="1.1" fill="#e9c3a8" opacity="0.6"/><rect x="90.14" y="553.7" width="13.29" height="1.1" fill="#e9c3a8" opacity="0.6"/><rect x="50.29" y="559.6" width="13.29" height="1.1" fill="#f5cb95" opacity="0.6"/><rect x="90.14" y="561.3" width="13.29" height="0.9" fill="#f7c38a" opacity="0.6"/><rect x="37" y="562.5" width="13.29" height="1.4" fill="#e9c3a8" opacity="0.6"/><rect x="63.57" y="562.5" width="13.29" height="1.4" fill="#f7c38a" opacity="0.6"/><rect x="90.14" y="562.5" width="13.29" height="1.4" fill="#e9c3a8" opacity="0.6"/><rect x="103.43" y="562.5" width="13.29" height="1.4" fill="#f3c596" opacity="0.6"/><rect x="116.71" y="562.5" width="13.29" height="1.4" fill="#f5cb95" opacity="0.6"/><rect x="63.57" y="566" width="13.29" height="1.4" fill="#f7c38a" opacity="0.6"/><rect x="50.29" y="574.2" width="13.29" height="1.4" fill="#f7c38a" opacity="0.6"/><rect x="103.43" y="579.2" width="13.29" height="1.1" fill="#f3c596" opacity="0.6"/><rect x="37" y="585.6" width="13.29" height="0.9" fill="#f3c596" opacity="0.6"/><rect x="63.57" y="585.6" width="13.29" height="0.9" fill="#e9c3a8" opacity="0.6"/><rect x="37" y="586.8" width="13.29" height="1.1" fill="#f3c596" opacity="0.6"/><rect x="76.86" y="586.8" width="13.29" height="1.1" fill="#f5cb95" opacity="0.6"/><rect x="103.43" y="588.5" width="13.29" height="1.1" fill="#f7c38a" opacity="0.6"/><rect x="76.86" y="589.9" width="13.29" height="1.4" fill="#f5cb95" opacity="0.6"/><rect x="90.14" y="589.9" width="13.29" height="1.4" fill="#f5cb95" opacity="0.6"/><rect x="50.29" y="592.3" width="13.29" height="0.7" fill="#f3c596" opacity="0.6"/><rect x="50.29" y="594" width="13.29" height="1.4" fill="#f3c596" opacity="0.6"/><rect x="50.29" y="596.4" width="13.29" height="1.4" fill="#f3c596" opacity="0.6"/><rect x="76.86" y="596.4" width="13.29" height="1.4" fill="#f3c596" opacity="0.6"/><rect x="63.57" y="598.1" width="13.29" height="0.7" fill="#f5cb95" opacity="0.6"/><rect x="103.43" y="599.4" width="13.29" height="0.9" fill="#f5cb95" opacity="0.6"/><rect x="103.43" y="538.3" width="13.29" height="4.9" fill="#f5a66a"/><rect x="90.14" y="554.9" width="13.29" height="7.7" fill="#f8b878"/><rect x="90.14" y="562.6" width="13.29" height="7.8" fill="#f8cd92"/><rect x="37" y="574.3" width="13.29" height="3.9" fill="#f9c07c"/><rect x="76.86" y="579.1" width="13.29" height="9.7" fill="#f9c27c"/><rect x="63.57" y="589.8" width="13.29" height="3.9" fill="#f9d090"/><rect x="103.43" y="590.8" width="13.29" height="3.9" fill="#f9d592"/><rect x="116.71" y="593.7" width="13.29" height="6.8" fill="#f9c27c"/><rect x="63.57" y="601" width="13.29" height="11" fill="#f9c27c"/><rect x="63.57" y="615.3" width="13.29" height="5.4" fill="#f9c27c"/><rect x="90.14" y="620.7" width="13.29" height="13.1" fill="#f9c27c"/><rect x="37" y="636" width="13.29" height="6.5" fill="#f9c27c"/><rect x="50.29" y="646.9" width="13.29" height="6.5" fill="#f9c27c"/><rect x="90.14" y="657.8" width="13.29" height="10.9" fill="#f9c27c"/><rect x="116.71" y="668.7" width="13.29" height="6.5" fill="#f9c27c"/><rect x="63.57" y="674.2" width="13.29" height="35.7" fill="#f9c98a"/><rect x="37" y="709.9" width="13.29" height="14.1" fill="#f9c98a"/><rect x="76.86" y="724" width="13.29" height="11" fill="#f9c98a"/><rect x="50.29" y="735" width="13.29" height="4.4" fill="#f9c98a"/><rect x="103.43" y="739.4" width="13.29" height="24.1" fill="#f9cf8f"/><rect x="50.29" y="764" width="13.29" height="1.7" fill="#f9cf8f"/><rect x="76.86" y="765.2" width="13.29" height="15.8" fill="#f9cf8f"/><rect x="50.29" y="781" width="13.29" height="12.7" fill="#f9cf8f"/><text transform="translate(46.94,452) rotate(-90)" font-size="8.9" fill="#231f20">Fetal brain</text><text transform="translate(60.23,452) rotate(-90)" font-size="8.9" fill="#231f20">Fetal gut</text><text transform="translate(73.51,452) rotate(-90)" font-size="8.9" fill="#231f20">Fetal heart</text><text transform="translate(86.8,452) rotate(-90)" font-size="8.9" fill="#231f20">Fetal liver</text><text transform="translate(100.09,452) rotate(-90)" font-size="8.9" fill="#231f20">Fetal ovary</text><text transform="translate(113.37,452) rotate(-90)" font-size="8.9" fill="#231f20">Fetal testis</text><text transform="translate(126.66,452) rotate(-90)" font-size="8.9" fill="#231f20">Placenta</text><text transform="translate(32.3,786) rotate(-90)" font-size="11" fill="#231f20">Genes whose protein products are highly expressed in fetal tissues</text><path d="M131 454.7H159M131 475.4H138.1L158.5 790.4H160" fill="none" stroke="#231f20" stroke-width="1"/><rect x="192.8" y="454.6" width="13.43" height="8.4" fill="#e3262e"/><rect x="206.23" y="454.6" width="13.43" height="8.4" fill="#e3262e"/><rect x="219.66" y="454.6" width="13.43" height="8.4" fill="#e3262e"/><rect x="233.09" y="454.6" width="13.43" height="8.4" fill="#e3262e"/><rect x="246.51" y="454.6" width="13.43" height="8.4" fill="#e3262e"/><rect x="259.94" y="454.6" width="13.43" height="8.4" fill="#e3262e"/><rect x="273.37" y="454.6" width="13.43" height="8.4" fill="#e3262e"/><rect x="192.8" y="463" width="13.43" height="8.4" fill="#e3262e"/><rect x="206.23" y="463" width="13.43" height="8.4" fill="#e3262e"/><rect x="219.66" y="463" width="13.43" height="8.4" fill="#e3262e"/><rect x="233.09" y="463" width="13.43" height="8.4" fill="#e3262e"/><rect x="246.51" y="463" width="13.43" height="8.4" fill="#e3262e"/><rect x="259.94" y="463" width="13.43" height="8.4" fill="#e3262e"/><rect x="273.37" y="463" width="13.43" height="8.4" fill="#e3262e"/><rect x="192.8" y="471.41" width="13.43" height="8.4" fill="#e3262e"/><rect x="206.23" y="471.41" width="13.43" height="8.4" fill="#e3262e"/><rect x="219.66" y="471.41" width="13.43" height="8.4" fill="#e3262e"/><rect x="233.09" y="471.41" width="13.43" height="8.4" fill="#e3262e"/><rect x="246.51" y="471.41" width="13.43" height="8.4" fill="#e3262e"/><rect x="259.94" y="471.41" width="13.43" height="8.4" fill="#e3262e"/><rect x="273.37" y="471.41" width="13.43" height="8.4" fill="#e3262e"/><rect x="192.8" y="479.81" width="13.43" height="8.4" fill="#e3262e"/><rect x="206.23" y="479.81" width="13.43" height="8.4" fill="#e3262e"/><rect x="219.66" y="479.81" width="13.43" height="8.4" fill="#e3262e"/><rect x="233.09" y="479.81" width="13.43" height="8.4" fill="#e3262e"/><rect x="246.51" y="479.81" width="13.43" height="8.4" fill="#e3262e"/><rect x="259.94" y="479.81" width="13.43" height="8.4" fill="#e3262e"/><rect x="273.37" y="479.81" width="13.43" height="8.4" fill="#e3262e"/><rect x="192.8" y="488.22" width="13.43" height="8.4" fill="#f9c98e"/><rect x="206.23" y="488.22" width="13.43" height="8.4" fill="#bfc4cd"/><rect x="219.66" y="488.22" width="13.43" height="8.4" fill="#e3262e"/><rect x="233.09" y="488.22" width="13.43" height="8.4" fill="#e3262e"/><rect x="246.51" y="488.22" width="13.43" height="8.4" fill="#f9c98e"/><rect x="259.94" y="488.22" width="13.43" height="8.4" fill="#e3262e"/><rect x="273.37" y="488.22" width="13.43" height="8.4" fill="#ec6d4e"/><rect x="192.8" y="496.62" width="13.43" height="8.4" fill="#bfc4cd"/><rect x="206.23" y="496.62" width="13.43" height="8.4" fill="#bfc4cd"/><rect x="219.66" y="496.62" width="13.43" height="8.4" fill="#f9c98e"/><rect x="233.09" y="496.62" width="13.43" height="8.4" fill="#e3262e"/><rect x="246.51" y="496.62" width="13.43" height="8.4" fill="#bfc4cd"/><rect x="259.94" y="496.62" width="13.43" height="8.4" fill="#bfc4cd"/><rect x="273.37" y="496.62" width="13.43" height="8.4" fill="#e3262e"/><rect x="192.8" y="505.03" width="13.43" height="8.4" fill="#e3262e"/><rect x="206.23" y="505.03" width="13.43" height="8.4" fill="#e3262e"/><rect x="219.66" y="505.03" width="13.43" height="8.4" fill="#e3262e"/><rect x="233.09" y="505.03" width="13.43" height="8.4" fill="#e3262e"/><rect x="246.51" y="505.03" width="13.43" height="8.4" fill="#e3262e"/><rect x="259.94" y="505.03" width="13.43" height="8.4" fill="#e3262e"/><rect x="273.37" y="505.03" width="13.43" height="8.4" fill="#bfc4cd"/><rect x="192.8" y="513.43" width="13.43" height="8.4" fill="#e3262e"/><rect x="206.23" y="513.43" width="13.43" height="8.4" fill="#e3262e"/><rect x="219.66" y="513.43" width="13.43" height="8.4" fill="#e3262e"/><rect x="233.09" y="513.43" width="13.43" height="8.4" fill="#e3262e"/><rect x="246.51" y="513.43" width="13.43" height="8.4" fill="#e3262e"/><rect x="259.94" y="513.43" width="13.43" height="8.4" fill="#e3262e"/><rect x="273.37" y="513.43" width="13.43" height="8.4" fill="#e3262e"/><rect x="192.8" y="521.84" width="13.43" height="8.4" fill="#bfc4cd"/><rect x="206.23" y="521.84" width="13.43" height="8.4" fill="#bfc4cd"/><rect x="219.66" y="521.84" width="13.43" height="8.4" fill="#f9c98e"/><rect x="233.09" y="521.84" width="13.43" height="8.4" fill="#e3262e"/><rect x="246.51" y="521.84" width="13.43" height="8.4" fill="#e3262e"/><rect x="259.94" y="521.84" width="13.43" height="8.4" fill="#e3262e"/><rect x="273.37" y="521.84" width="13.43" height="8.4" fill="#bfc4cd"/><rect x="192.8" y="530.25" width="13.43" height="8.4" fill="#bfc4cd"/><rect x="206.23" y="530.25" width="13.43" height="8.4" fill="#e3262e"/><rect x="219.66" y="530.25" width="13.43" height="8.4" fill="#bfc4cd"/><rect x="233.09" y="530.25" width="13.43" height="8.4" fill="#bfc4cd"/><rect x="246.51" y="530.25" width="13.43" height="8.4" fill="#bfc4cd"/><rect x="259.94" y="530.25" width="13.43" height="8.4" fill="#bfc4cd"/><rect x="273.37" y="530.25" width="13.43" height="8.4" fill="#bfc4cd"/><rect x="192.8" y="538.65" width="13.43" height="8.4" fill="#e3262e"/><rect x="206.23" y="538.65" width="13.43" height="8.4" fill="#e3262e"/><rect x="219.66" y="538.65" width="13.43" height="8.4" fill="#e3262e"/><rect x="233.09" y="538.65" width="13.43" height="8.4" fill="#e3262e"/><rect x="246.51" y="538.65" width="13.43" height="8.4" fill="#e3262e"/><rect x="259.94" y="538.65" width="13.43" height="8.4" fill="#e3262e"/><rect x="273.37" y="538.65" width="13.43" height="8.4" fill="#e3262e"/><rect x="192.8" y="547.05" width="13.43" height="8.4" fill="#bfc4cd"/><rect x="206.23" y="547.05" width="13.43" height="8.4" fill="#e3262e"/><rect x="219.66" y="547.05" width="13.43" height="8.4" fill="#bfc4cd"/><rect x="233.09" y="547.05" width="13.43" height="8.4" fill="#e3262e"/><rect x="246.51" y="547.05" width="13.43" height="8.4" fill="#bfc4cd"/><rect x="259.94" y="547.05" width="13.43" height="8.4" fill="#bfc4cd"/><rect x="273.37" y="547.05" width="13.43" height="8.4" fill="#bfc4cd"/><rect x="192.8" y="555.46" width="13.43" height="8.4" fill="#bfc4cd"/><rect x="206.23" y="555.46" width="13.43" height="8.4" fill="#bfc4cd"/><rect x="219.66" y="555.46" width="13.43" height="8.4" fill="#e3262e"/><rect x="233.09" y="555.46" width="13.43" height="8.4" fill="#e3262e"/><rect x="246.51" y="555.46" width="13.43" height="8.4" fill="#bfc4cd"/><rect x="259.94" y="555.46" width="13.43" height="8.4" fill="#f3a272"/><rect x="273.37" y="555.46" width="13.43" height="8.4" fill="#bfc4cd"/><rect x="192.8" y="563.87" width="13.43" height="8.4" fill="#bfc4cd"/><rect x="206.23" y="563.87" width="13.43" height="8.4" fill="#f9c98e"/><rect x="219.66" y="563.87" width="13.43" height="8.4" fill="#f9c98e"/><rect x="233.09" y="563.87" width="13.43" height="8.4" fill="#e3262e"/><rect x="246.51" y="563.87" width="13.43" height="8.4" fill="#bfc4cd"/><rect x="259.94" y="563.87" width="13.43" height="8.4" fill="#bfc4cd"/><rect x="273.37" y="563.87" width="13.43" height="8.4" fill="#bfc4cd"/><rect x="192.8" y="572.27" width="13.43" height="8.4" fill="#e3262e"/><rect x="206.23" y="572.27" width="13.43" height="8.4" fill="#f9c98e"/><rect x="219.66" y="572.27" width="13.43" height="8.4" fill="#bfc4cd"/><rect x="233.09" y="572.27" width="13.43" height="8.4" fill="#f9c98e"/><rect x="246.51" y="572.27" width="13.43" height="8.4" fill="#ec6d4e"/><rect x="259.94" y="572.27" width="13.43" height="8.4" fill="#f9c98e"/><rect x="273.37" y="572.27" width="13.43" height="8.4" fill="#bfc4cd"/><rect x="192.8" y="580.67" width="13.43" height="8.4" fill="#f3a272"/><rect x="206.23" y="580.67" width="13.43" height="8.4" fill="#bfc4cd"/><rect x="219.66" y="580.67" width="13.43" height="8.4" fill="#ec6d4e"/><rect x="233.09" y="580.67" width="13.43" height="8.4" fill="#f3a272"/><rect x="246.51" y="580.67" width="13.43" height="8.4" fill="#f9c98e"/><rect x="259.94" y="580.67" width="13.43" height="8.4" fill="#bfc4cd"/><rect x="273.37" y="580.67" width="13.43" height="8.4" fill="#e3262e"/><rect x="192.8" y="589.08" width="13.43" height="8.4" fill="#ec6d4e"/><rect x="206.23" y="589.08" width="13.43" height="8.4" fill="#ec6d4e"/><rect x="219.66" y="589.08" width="13.43" height="8.4" fill="#e3262e"/><rect x="233.09" y="589.08" width="13.43" height="8.4" fill="#e3262e"/><rect x="246.51" y="589.08" width="13.43" height="8.4" fill="#ec6d4e"/><rect x="259.94" y="589.08" width="13.43" height="8.4" fill="#e3262e"/><rect x="273.37" y="589.08" width="13.43" height="8.4" fill="#e3262e"/><rect x="192.8" y="597.49" width="13.43" height="8.4" fill="#bfc4cd"/><rect x="206.23" y="597.49" width="13.43" height="8.4" fill="#bfc4cd"/><rect x="219.66" y="597.49" width="13.43" height="8.4" fill="#bfc4cd"/><rect x="233.09" y="597.49" width="13.43" height="8.4" fill="#bfc4cd"/><rect x="246.51" y="597.49" width="13.43" height="8.4" fill="#e3262e"/><rect x="259.94" y="597.49" width="13.43" height="8.4" fill="#e3262e"/><rect x="273.37" y="597.49" width="13.43" height="8.4" fill="#bfc4cd"/><rect x="192.8" y="605.89" width="13.43" height="8.4" fill="#bfc4cd"/><rect x="206.23" y="605.89" width="13.43" height="8.4" fill="#bfc4cd"/><rect x="219.66" y="605.89" width="13.43" height="8.4" fill="#bfc4cd"/><rect x="233.09" y="605.89" width="13.43" height="8.4" fill="#bfc4cd"/><rect x="246.51" y="605.89" width="13.43" height="8.4" fill="#bfc4cd"/><rect x="259.94" y="605.89" width="13.43" height="8.4" fill="#bfc4cd"/><rect x="273.37" y="605.89" width="13.43" height="8.4" fill="#e3262e"/><rect x="192.8" y="614.29" width="13.43" height="8.4" fill="#e3262e"/><rect x="206.23" y="614.29" width="13.43" height="8.4" fill="#ec6d4e"/><rect x="219.66" y="614.29" width="13.43" height="8.4" fill="#e3262e"/><rect x="233.09" y="614.29" width="13.43" height="8.4" fill="#e3262e"/><rect x="246.51" y="614.29" width="13.43" height="8.4" fill="#e3262e"/><rect x="259.94" y="614.29" width="13.43" height="8.4" fill="#e3262e"/><rect x="273.37" y="614.29" width="13.43" height="8.4" fill="#e3262e"/><rect x="192.8" y="622.7" width="13.43" height="8.4" fill="#bfc4cd"/><rect x="206.23" y="622.7" width="13.43" height="8.4" fill="#bfc4cd"/><rect x="219.66" y="622.7" width="13.43" height="8.4" fill="#bfc4cd"/><rect x="233.09" y="622.7" width="13.43" height="8.4" fill="#e3262e"/><rect x="246.51" y="622.7" width="13.43" height="8.4" fill="#bfc4cd"/><rect x="259.94" y="622.7" width="13.43" height="8.4" fill="#bfc4cd"/><rect x="273.37" y="622.7" width="13.43" height="8.4" fill="#bfc4cd"/><rect x="192.8" y="631.11" width="13.43" height="8.4" fill="#bfc4cd"/><rect x="206.23" y="631.11" width="13.43" height="8.4" fill="#bfc4cd"/><rect x="219.66" y="631.11" width="13.43" height="8.4" fill="#f9c98e"/><rect x="233.09" y="631.11" width="13.43" height="8.4" fill="#bfc4cd"/><rect x="246.51" y="631.11" width="13.43" height="8.4" fill="#bfc4cd"/><rect x="259.94" y="631.11" width="13.43" height="8.4" fill="#f9c98e"/><rect x="273.37" y="631.11" width="13.43" height="8.4" fill="#e3262e"/><rect x="192.8" y="639.51" width="13.43" height="8.4" fill="#ec6d4e"/><rect x="206.23" y="639.51" width="13.43" height="8.4" fill="#e3262e"/><rect x="219.66" y="639.51" width="13.43" height="8.4" fill="#ec6d4e"/><rect x="233.09" y="639.51" width="13.43" height="8.4" fill="#f3a272"/><rect x="246.51" y="639.51" width="13.43" height="8.4" fill="#e3262e"/><rect x="259.94" y="639.51" width="13.43" height="8.4" fill="#e3262e"/><rect x="273.37" y="639.51" width="13.43" height="8.4" fill="#bfc4cd"/><rect x="192.8" y="647.91" width="13.43" height="8.4" fill="#bfc4cd"/><rect x="206.23" y="647.91" width="13.43" height="8.4" fill="#e3262e"/><rect x="219.66" y="647.91" width="13.43" height="8.4" fill="#bfc4cd"/><rect x="233.09" y="647.91" width="13.43" height="8.4" fill="#bfc4cd"/><rect x="246.51" y="647.91" width="13.43" height="8.4" fill="#bfc4cd"/><rect x="259.94" y="647.91" width="13.43" height="8.4" fill="#f3a272"/><rect x="273.37" y="647.91" width="13.43" height="8.4" fill="#bfc4cd"/><rect x="192.8" y="656.32" width="13.43" height="8.4" fill="#bfc4cd"/><rect x="206.23" y="656.32" width="13.43" height="8.4" fill="#bfc4cd"/><rect x="219.66" y="656.32" width="13.43" height="8.4" fill="#bfc4cd"/><rect x="233.09" y="656.32" width="13.43" height="8.4" fill="#e3262e"/><rect x="246.51" y="656.32" width="13.43" height="8.4" fill="#e3262e"/><rect x="259.94" y="656.32" width="13.43" height="8.4" fill="#e3262e"/><rect x="273.37" y="656.32" width="13.43" height="8.4" fill="#e3262e"/><rect x="192.8" y="664.72" width="13.43" height="8.4" fill="#bfc4cd"/><rect x="206.23" y="664.72" width="13.43" height="8.4" fill="#bfc4cd"/><rect x="219.66" y="664.72" width="13.43" height="8.4" fill="#bfc4cd"/><rect x="233.09" y="664.72" width="13.43" height="8.4" fill="#bfc4cd"/><rect x="246.51" y="664.72" width="13.43" height="8.4" fill="#bfc4cd"/><rect x="259.94" y="664.72" width="13.43" height="8.4" fill="#bfc4cd"/><rect x="273.37" y="664.72" width="13.43" height="8.4" fill="#e3262e"/><rect x="192.8" y="673.13" width="13.43" height="8.4" fill="#bfc4cd"/><rect x="206.23" y="673.13" width="13.43" height="8.4" fill="#bfc4cd"/><rect x="219.66" y="673.13" width="13.43" height="8.4" fill="#e3262e"/><rect x="233.09" y="673.13" width="13.43" height="8.4" fill="#bfc4cd"/><rect x="246.51" y="673.13" width="13.43" height="8.4" fill="#bfc4cd"/><rect x="259.94" y="673.13" width="13.43" height="8.4" fill="#bfc4cd"/><rect x="273.37" y="673.13" width="13.43" height="8.4" fill="#bfc4cd"/><rect x="192.8" y="681.53" width="13.43" height="8.4" fill="#bfc4cd"/><rect x="206.23" y="681.53" width="13.43" height="8.4" fill="#bfc4cd"/><rect x="219.66" y="681.53" width="13.43" height="8.4" fill="#bfc4cd"/><rect x="233.09" y="681.53" width="13.43" height="8.4" fill="#f9c98e"/><rect x="246.51" y="681.53" width="13.43" height="8.4" fill="#f9c98e"/><rect x="259.94" y="681.53" width="13.43" height="8.4" fill="#f3a272"/><rect x="273.37" y="681.53" width="13.43" height="8.4" fill="#e3262e"/><rect x="192.8" y="689.94" width="13.43" height="8.4" fill="#e3262e"/><rect x="206.23" y="689.94" width="13.43" height="8.4" fill="#bfc4cd"/><rect x="219.66" y="689.94" width="13.43" height="8.4" fill="#bfc4cd"/><rect x="233.09" y="689.94" width="13.43" height="8.4" fill="#bfc4cd"/><rect x="246.51" y="689.94" width="13.43" height="8.4" fill="#bfc4cd"/><rect x="259.94" y="689.94" width="13.43" height="8.4" fill="#bfc4cd"/><rect x="273.37" y="689.94" width="13.43" height="8.4" fill="#bfc4cd"/><rect x="192.8" y="698.34" width="13.43" height="8.4" fill="#bfc4cd"/><rect x="206.23" y="698.34" width="13.43" height="8.4" fill="#bfc4cd"/><rect x="219.66" y="698.34" width="13.43" height="8.4" fill="#e3262e"/><rect x="233.09" y="698.34" width="13.43" height="8.4" fill="#f9c98e"/><rect x="246.51" y="698.34" width="13.43" height="8.4" fill="#bfc4cd"/><rect x="259.94" y="698.34" width="13.43" height="8.4" fill="#bfc4cd"/><rect x="273.37" y="698.34" width="13.43" height="8.4" fill="#bfc4cd"/><rect x="192.8" y="706.75" width="13.43" height="8.4" fill="#bfc4cd"/><rect x="206.23" y="706.75" width="13.43" height="8.4" fill="#e3262e"/><rect x="219.66" y="706.75" width="13.43" height="8.4" fill="#bfc4cd"/><rect x="233.09" y="706.75" width="13.43" height="8.4" fill="#bfc4cd"/><rect x="246.51" y="706.75" width="13.43" height="8.4" fill="#bfc4cd"/><rect x="259.94" y="706.75" width="13.43" height="8.4" fill="#bfc4cd"/><rect x="273.37" y="706.75" width="13.43" height="8.4" fill="#bfc4cd"/><rect x="192.8" y="715.15" width="13.43" height="8.4" fill="#e3262e"/><rect x="206.23" y="715.15" width="13.43" height="8.4" fill="#bfc4cd"/><rect x="219.66" y="715.15" width="13.43" height="8.4" fill="#bfc4cd"/><rect x="233.09" y="715.15" width="13.43" height="8.4" fill="#bfc4cd"/><rect x="246.51" y="715.15" width="13.43" height="8.4" fill="#bfc4cd"/><rect x="259.94" y="715.15" width="13.43" height="8.4" fill="#bfc4cd"/><rect x="273.37" y="715.15" width="13.43" height="8.4" fill="#f9c98e"/><rect x="192.8" y="723.56" width="13.43" height="8.4" fill="#f9c98e"/><rect x="206.23" y="723.56" width="13.43" height="8.4" fill="#f3a272"/><rect x="219.66" y="723.56" width="13.43" height="8.4" fill="#f3a272"/><rect x="233.09" y="723.56" width="13.43" height="8.4" fill="#ec6d4e"/><rect x="246.51" y="723.56" width="13.43" height="8.4" fill="#ec6d4e"/><rect x="259.94" y="723.56" width="13.43" height="8.4" fill="#f3a272"/><rect x="273.37" y="723.56" width="13.43" height="8.4" fill="#bfc4cd"/><rect x="192.8" y="731.96" width="13.43" height="8.4" fill="#bfc4cd"/><rect x="206.23" y="731.96" width="13.43" height="8.4" fill="#bfc4cd"/><rect x="219.66" y="731.96" width="13.43" height="8.4" fill="#e3262e"/><rect x="233.09" y="731.96" width="13.43" height="8.4" fill="#bfc4cd"/><rect x="246.51" y="731.96" width="13.43" height="8.4" fill="#bfc4cd"/><rect x="259.94" y="731.96" width="13.43" height="8.4" fill="#f9c98e"/><rect x="273.37" y="731.96" width="13.43" height="8.4" fill="#bfc4cd"/><rect x="192.8" y="740.37" width="13.43" height="8.4" fill="#bfc4cd"/><rect x="206.23" y="740.37" width="13.43" height="8.4" fill="#bfc4cd"/><rect x="219.66" y="740.37" width="13.43" height="8.4" fill="#f3a272"/><rect x="233.09" y="740.37" width="13.43" height="8.4" fill="#e3262e"/><rect x="246.51" y="740.37" width="13.43" height="8.4" fill="#ec6d4e"/><rect x="259.94" y="740.37" width="13.43" height="8.4" fill="#f9c98e"/><rect x="273.37" y="740.37" width="13.43" height="8.4" fill="#bfc4cd"/><rect x="192.8" y="748.77" width="13.43" height="8.4" fill="#bfc4cd"/><rect x="206.23" y="748.77" width="13.43" height="8.4" fill="#bfc4cd"/><rect x="219.66" y="748.77" width="13.43" height="8.4" fill="#bfc4cd"/><rect x="233.09" y="748.77" width="13.43" height="8.4" fill="#bfc4cd"/><rect x="246.51" y="748.77" width="13.43" height="8.4" fill="#bfc4cd"/><rect x="259.94" y="748.77" width="13.43" height="8.4" fill="#bfc4cd"/><rect x="273.37" y="748.77" width="13.43" height="8.4" fill="#e3262e"/><rect x="192.8" y="757.18" width="13.43" height="8.4" fill="#bfc4cd"/><rect x="206.23" y="757.18" width="13.43" height="8.4" fill="#bfc4cd"/><rect x="219.66" y="757.18" width="13.43" height="8.4" fill="#f9c98e"/><rect x="233.09" y="757.18" width="13.43" height="8.4" fill="#e3262e"/><rect x="246.51" y="757.18" width="13.43" height="8.4" fill="#bfc4cd"/><rect x="259.94" y="757.18" width="13.43" height="8.4" fill="#bfc4cd"/><rect x="273.37" y="757.18" width="13.43" height="8.4" fill="#bfc4cd"/><rect x="192.8" y="765.58" width="13.43" height="8.4" fill="#bfc4cd"/><rect x="206.23" y="765.58" width="13.43" height="8.4" fill="#bfc4cd"/><rect x="219.66" y="765.58" width="13.43" height="8.4" fill="#bfc4cd"/><rect x="233.09" y="765.58" width="13.43" height="8.4" fill="#bfc4cd"/><rect x="246.51" y="765.58" width="13.43" height="8.4" fill="#bfc4cd"/><rect x="259.94" y="765.58" width="13.43" height="8.4" fill="#bfc4cd"/><rect x="273.37" y="765.58" width="13.43" height="8.4" fill="#e3262e"/><rect x="192.8" y="773.99" width="13.43" height="8.4" fill="#bfc4cd"/><rect x="206.23" y="773.99" width="13.43" height="8.4" fill="#f3a272"/><rect x="219.66" y="773.99" width="13.43" height="8.4" fill="#f9c98e"/><rect x="233.09" y="773.99" width="13.43" height="8.4" fill="#f9c98e"/><rect x="246.51" y="773.99" width="13.43" height="8.4" fill="#e3262e"/><rect x="259.94" y="773.99" width="13.43" height="8.4" fill="#bfc4cd"/><rect x="273.37" y="773.99" width="13.43" height="8.4" fill="#bfc4cd"/><rect x="192.8" y="782.39" width="13.43" height="8.4" fill="#e3262e"/><rect x="206.23" y="782.39" width="13.43" height="8.4" fill="#bfc4cd"/><rect x="219.66" y="782.39" width="13.43" height="8.4" fill="#f3a272"/><rect x="233.09" y="782.39" width="13.43" height="8.4" fill="#f9c98e"/><rect x="246.51" y="782.39" width="13.43" height="8.4" fill="#f9c98e"/><rect x="259.94" y="782.39" width="13.43" height="8.4" fill="#f3a272"/><rect x="273.37" y="782.39" width="13.43" height="8.4" fill="#bfc4cd"/><path d="M192.8 454.6H286.8M192.8 463H286.8M192.8 471.41H286.8M192.8 479.81H286.8M192.8 488.22H286.8M192.8 496.62H286.8M192.8 505.03H286.8M192.8 513.43H286.8M192.8 521.84H286.8M192.8 530.25H286.8M192.8 538.65H286.8M192.8 547.05H286.8M192.8 555.46H286.8M192.8 563.87H286.8M192.8 572.27H286.8M192.8 580.67H286.8M192.8 589.08H286.8M192.8 597.49H286.8M192.8 605.89H286.8M192.8 614.29H286.8M192.8 622.7H286.8M192.8 631.11H286.8M192.8 639.51H286.8M192.8 647.91H286.8M192.8 656.32H286.8M192.8 664.72H286.8M192.8 673.13H286.8M192.8 681.53H286.8M192.8 689.94H286.8M192.8 698.34H286.8M192.8 706.75H286.8M192.8 715.15H286.8M192.8 723.56H286.8M192.8 731.96H286.8M192.8 740.37H286.8M192.8 748.77H286.8M192.8 757.18H286.8M192.8 765.58H286.8M192.8 773.99H286.8M192.8 782.39H286.8M192.8 790.8H286.8M192.8 454.6V790.8M206.23 454.6V790.8M219.66 454.6V790.8M233.09 454.6V790.8M246.51 454.6V790.8M259.94 454.6V790.8M273.37 454.6V790.8M286.8 454.6V790.8" stroke="#2a2a30" stroke-width="0.9" fill="none"/><text transform="translate(160.4,461.5) scale(0.86,1)" font-size="8.3" fill="#2c2c2c" font-style="italic">HBG2</text><text transform="translate(160.4,469.9) scale(0.86,1)" font-size="8.3" fill="#2c2c2c" font-style="italic">AFP</text><text transform="translate(160.4,478.31) scale(0.86,1)" font-size="8.3" fill="#2c2c2c" font-style="italic">HBG1</text><text transform="translate(160.4,486.71) scale(0.86,1)" font-size="8.3" fill="#2c2c2c" font-style="italic">HBZ</text><text transform="translate(160.4,495.12) scale(0.86,1)" font-size="8.3" fill="#2c2c2c" font-style="italic">MYL4</text><text transform="translate(160.4,503.52) scale(0.86,1)" font-size="8.3" fill="#2c2c2c" font-style="italic">CYP19A1</text><text transform="translate(160.4,511.93) scale(0.86,1)" font-size="8.3" fill="#2c2c2c" font-style="italic">SULT1E1</text><text transform="translate(160.4,520.33) scale(0.86,1)" font-size="8.3" fill="#2c2c2c" font-style="italic">PAEP</text><text transform="translate(160.4,528.74) scale(0.86,1)" font-size="8.3" fill="#2c2c2c" font-style="italic">HMGCR</text><text transform="translate(160.4,537.14) scale(0.86,1)" font-size="8.3" fill="#2c2c2c" font-style="italic">SI</text><text transform="translate(160.4,545.55) scale(0.86,1)" font-size="8.3" fill="#2c2c2c" font-style="italic">IGF2BP3</text><text transform="translate(160.4,553.95) scale(0.86,1)" font-size="8.3" fill="#2c2c2c" font-style="italic">RBP2</text><text transform="translate(160.4,562.36) scale(0.86,1)" font-size="8.3" fill="#2c2c2c" font-style="italic">MYL7</text><text transform="translate(160.4,570.76) scale(0.86,1)" font-size="8.3" fill="#2c2c2c" font-style="italic">MT1H</text><text transform="translate(160.4,579.17) scale(0.86,1)" font-size="8.3" fill="#2c2c2c" font-style="italic">DCX</text><text transform="translate(160.4,587.57) scale(0.86,1)" font-size="8.3" fill="#2c2c2c" font-style="italic">HSD17B1</text><text transform="translate(160.4,595.98) scale(0.86,1)" font-size="8.3" fill="#2c2c2c" font-style="italic">HBM</text><text transform="translate(160.4,604.38) scale(0.86,1)" font-size="8.3" fill="#2c2c2c" font-style="italic">AMH</text><text transform="translate(160.4,612.79) scale(0.86,1)" font-size="8.3" fill="#2c2c2c" font-style="italic">ENDOU</text><text transform="translate(160.4,621.19) scale(0.86,1)" font-size="8.3" fill="#2c2c2c" font-style="italic">HBE1</text><text transform="translate(160.4,629.6) scale(0.86,1)" font-size="8.3" fill="#2c2c2c" font-style="italic">HEMGN</text><text transform="translate(160.4,638) scale(0.86,1)" font-size="8.3" fill="#2c2c2c" font-style="italic">CAPN6</text><text transform="translate(160.4,646.41) scale(0.86,1)" font-size="8.3" fill="#2c2c2c" font-style="italic">HMGA2</text><text transform="translate(160.4,654.81) scale(0.86,1)" font-size="8.3" fill="#2c2c2c" font-style="italic">MAMDC4</text><text transform="translate(160.4,663.22) scale(0.86,1)" font-size="8.3" fill="#2c2c2c" font-style="italic">DUSP9</text><text transform="translate(160.4,671.62) scale(0.86,1)" font-size="8.3" fill="#2c2c2c" font-style="italic">TFPI2</text><text transform="translate(160.4,680.03) scale(0.86,1)" font-size="8.3" fill="#2c2c2c" font-style="italic">TRIM55</text><text transform="translate(160.4,688.43) scale(0.86,1)" font-size="8.3" fill="#2c2c2c" font-style="italic">PAGE4</text><text transform="translate(160.4,696.84) scale(0.86,1)" font-size="8.3" fill="#2c2c2c" font-style="italic">LPPR3</text><text transform="translate(160.4,705.24) scale(0.86,1)" font-size="8.3" fill="#2c2c2c" font-style="italic">MATN1</text><text transform="translate(160.4,713.65) scale(0.86,1)" font-size="8.3" fill="#2c2c2c" font-style="italic">CYP2W1</text><text transform="translate(160.4,722.05) scale(0.86,1)" font-size="8.3" fill="#2c2c2c" font-style="italic">ISLR2</text><text transform="translate(160.4,730.46) scale(0.86,1)" font-size="8.3" fill="#2c2c2c" font-style="italic">UHRF1</text><text transform="translate(160.4,738.86) scale(0.86,1)" font-size="8.3" fill="#2c2c2c" font-style="italic">NPPA</text><text transform="translate(160.4,747.27) scale(0.86,1)" font-size="8.3" fill="#2c2c2c" font-style="italic">TYMS</text><text transform="translate(160.4,755.67) scale(0.86,1)" font-size="8.3" fill="#2c2c2c" font-style="italic">PSG4</text><text transform="translate(160.4,764.08) scale(0.86,1)" font-size="8.3" fill="#2c2c2c" font-style="italic">MT1E</text><text transform="translate(160.4,772.48) scale(0.86,1)" font-size="8.3" fill="#2c2c2c" font-style="italic">PHLDA2</text><text transform="translate(160.4,780.89) scale(0.86,1)" font-size="8.3" fill="#2c2c2c" font-style="italic">CKS2</text><text transform="translate(160.4,789.29) scale(0.86,1)" font-size="8.3" fill="#2c2c2c" font-style="italic">PPP1R1A</text><text transform="translate(202.81,452.8) rotate(-90)" font-size="8.9" fill="#231f20">Fetal brain</text><text transform="translate(216.24,452.8) rotate(-90)" font-size="8.9" fill="#231f20">Fetal gut</text><text transform="translate(229.67,452.8) rotate(-90)" font-size="8.9" fill="#231f20">Fetal heart</text><text transform="translate(243.1,452.8) rotate(-90)" font-size="8.9" fill="#231f20">Fetal liver</text><text transform="translate(256.53,452.8) rotate(-90)" font-size="8.9" fill="#231f20">Fetal ovary</text><text transform="translate(269.96,452.8) rotate(-90)" font-size="8.9" fill="#231f20">Fetal testis</text><text transform="translate(283.39,452.8) rotate(-90)" font-size="8.9" fill="#231f20">Placenta</text><rect x="218.1" y="795.8" width="4.5" height="6.7" fill="#c0c4cc"/><rect x="236.2" y="795.8" width="5.2" height="6.7" fill="#facd8c"/><rect x="241.16" y="795.8" width="5.2" height="6.7" fill="#f7ba82"/><rect x="246.12" y="795.8" width="5.2" height="6.7" fill="#f5a877"/><rect x="251.08" y="795.8" width="5.2" height="6.7" fill="#f2956d"/><rect x="256.04" y="795.8" width="5.2" height="6.7" fill="#f08362"/><rect x="261" y="795.8" width="5.2" height="6.7" fill="#ed7058"/><rect x="265.96" y="795.8" width="5.2" height="6.7" fill="#eb5e4d"/><rect x="270.92" y="795.8" width="5.2" height="6.7" fill="#e84b43"/><rect x="275.88" y="795.8" width="5.2" height="6.7" fill="#e63938"/><rect x="280.84" y="795.8" width="5.2" height="6.7" fill="#e3262e"/><text x="143.6" y="812.6" font-size="9.2" fill="#231f20" text-anchor="start">Spectral count</text><text x="211.9" y="812.6" font-size="9.2" fill="#231f20" text-anchor="start">n.d.</text><text x="236.7" y="812.6" font-size="9.2" fill="#231f20" text-anchor="start">1</text><text x="278.4" y="812.6" font-size="9.2" fill="#231f20" text-anchor="start">&gt;10</text><path d="M351.5 593.6L355.72 575.22L419.26 502.88L459.1 471.26L459.39 475.62L467.09 468.26L485.56 457.35L488.47 453.76L496.9 448.7M351.5 593.6L353.39 585.6L374.76 545.84L383.05 539.01L392.07 530.27L462.88 468.41L467.38 469.21L484.69 457.94L496.9 448.7M351.5 593.6L381.31 545.88L393.52 531.29L429.87 498.21L450.08 485.04L478.29 463.03L488.32 456.81L491.23 454.82L496.9 448.7M351.5 593.6L351.94 585.12L395.27 513.85L396.57 511.73L400.65 506.91L439.18 482.86L450.08 470.9L470.58 464.87L496.9 448.7M351.5 593.6L352.81 588.9L354.12 580.63L358.33 575.95L404.72 517.29L435.69 489.94L466.08 467.15L474.36 464.79L496.9 448.7M351.5 593.6L356.88 568.05L367.2 554.18L427.83 493.43L460.26 469.76L464.33 465.42L467.38 466.88L476.54 457.95L496.9 448.7M351.5 593.6L362.84 564.7L373.16 550.53L377.24 540.07L396.86 521.89L397.59 521.94L451.68 479.52L496.46 448.7L496.9 448.7M351.5 593.6L356.3 581.33L359.64 571.65L412.86 510.16L417.8 507.67L423.33 502.01L473.35 467.31L484.69 457.43L496.9 448.7M351.5 593.6L394.39 515.67L417.37 495.31L417.51 496.65L474.36 461.78L475.38 460.57L493.41 452.52L496.75 449.49L496.9 448.7M351.5 593.6L364.44 565.9L391.05 537.44L400.65 525.38L424.05 503.99L442.67 488.79L465.2 471.17L491.08 451.38L496.9 448.7M351.5 593.6L392.36 521.63L394.25 520.21L422.16 499.76L451.97 475.56L453.86 476.04L463.46 467.46L489.05 453.36L496.9 448.7M351.5 593.6L402.1 520.49L402.39 520.06L445.14 484.81L445.57 482.8L458.81 472.89L467.53 469.04L471.89 465.84L496.9 448.7M351.5 593.6L376.51 533.09L420.86 493.91L451.97 472.7L456.19 471.57L457.64 469.53L473.2 459.71L487.74 452.65L496.9 448.7M351.5 593.6L355.57 582.08L374.76 549.74L383.34 541.2L415.62 511.09L443.25 488.31L446.01 485.15L451.24 482.03L496.9 448.7M351.5 593.6L356.73 570.63L386.11 525.3L406.75 507.13L419.11 496.69L437.29 485.6L440.48 479.34L482.8 456.9L496.9 448.7M351.5 593.6L365.31 547.15L400.79 505.48L430.74 484.43L435.98 482.64L440.78 480.97L470.58 461.36L490.79 451.28L496.9 448.7M351.5 593.6L351.65 591.85L367.2 565.8L402.54 523.9L433.8 494.56L440.05 492.39L481.34 460.27L492.25 453.59L496.9 448.7M351.5 593.6L389.3 523.88L406.75 508.4L438.16 485.24L484.4 452.8L491.23 451.84L492.83 452.15L494.14 450.33L496.9 448.7M351.5 593.6L353.39 578.42L394.1 512.69L415.91 495.56L429 489.32L441.94 480.69L465.2 467.48L471.75 459.01L496.9 448.7M351.5 593.6L368.66 549.38L420.56 496.71L439.32 484.37L439.9 484.2L445.28 479.24L459.53 470.5L462 469.58L496.9 448.7M351.5 593.6L356.73 580.06L388.14 533.34L417.8 507.47L430.89 495.75L437.43 489.79L480.62 458.8L484.83 456.81L496.9 448.7M351.5 593.6L361.1 569.91L380 546.01L394.54 532.04L407.48 520.41L408.5 516.6L472.18 463.99L475.38 466.1L496.9 448.7M351.5 593.6L361.39 565.47L373.89 543.66L399.63 516.41L423.91 496.59L431.32 494.6L436.7 486.57L469.56 462.67L496.9 448.7M351.5 593.6L358.62 579.18L383.34 546.22L445.43 485.37L453.43 483.42L455.02 479.48L473.93 466.07L489.92 455.7L496.9 448.7M351.5 593.6L357.9 570.88L359.93 571.32L361.97 566.06L367.2 558.67L406.61 514.05L435.1 491.16L459.39 470.83L496.9 448.7M351.5 593.6L359.64 564.35L373.46 545.04L425.07 494.59L432.2 491.04L443.25 480.36L452.84 475.27L483.81 458.32L496.9 448.7M351.5 593.6L363.86 556.6L377.53 537.41L405.44 507.27L446.74 479.26L448.63 474.35L455.17 472.54L458.66 471.31L496.9 448.7M351.5 593.6L355.72 582.27L359.35 570.31L373.46 551.74L383.92 538.65L450.52 483.63L456.91 476.03L489.92 454.24L496.9 448.7M351.5 593.6L371.27 541.38L399.92 512.97L402.24 508.51L407.62 505.9L440.78 481.1L445.72 477.98L472.33 460.82L496.9 448.7M351.5 593.6L356.3 575.68L357.17 570.89L365.6 552.91L380.87 534.58L421.44 498.46L462 469.84L480.76 460.4L496.9 448.7M351.5 593.6L373.6 539.98L374.62 537.97L388.43 522.97L391.78 518.29L406.02 508.33L407.62 501.85L479.45 458.58L496.9 448.7M351.5 593.6L368.66 560.44L393.81 531.54L420.13 510.17L448.77 486.17L449.5 486.61L451.54 483.82L488.9 456.81L496.9 448.7M351.5 593.6L392.65 525.01L396.86 520.53L404.43 511.17L419.55 497.07L455.9 472.8L457.93 472.72L493.12 448.7L496.9 448.7M351.5 593.6L358.04 560.9L360.37 557.2L411.11 500.92L426.96 484.94L431.18 484.54L464.77 462.27L495.45 451.97L496.9 448.7M351.5 593.6L358.77 566.74L358.92 561.02L360.22 562.92L388.58 523.4L395.99 516.89L409.22 504.69L410.68 506.1L496.9 448.7M351.5 593.6L353.97 577.86L367.2 550.93L382.62 530.98L430.31 490.76L438.45 483.58L476.11 459.15L485.41 452.7L496.9 448.7M351.5 593.6L364.3 553.4L368.37 550.08L384.07 531.81L396.86 519.39L416.78 501.56L463.75 470.23L471.6 463.5L496.9 448.7M351.5 593.6L358.48 573.49L360.37 568.06L380.58 540.76L387.12 531.06L393.08 526.11L405.88 512.11L453.43 476.21L496.9 448.7M351.5 593.6L415.77 510.4L435.1 491.22L446.74 484.68L453.43 481.13L457.35 478.6L470.29 468.71L490.36 454.41L496.9 448.7M351.5 593.6L355.43 580.02L358.92 569.88L360.81 565.98L370.4 553.6L393.08 530.04L432.49 494.32L462.59 472.4L496.9 448.7M351.5 593.6L353.24 579.81L365.31 554.45L376.36 536.45L428.56 489.87L436.41 488.17L457.21 473.17L471.75 460.73L496.9 448.7M351.5 593.6L414.6 507L415.62 502.04L429 493.8L438.16 489.16L463.17 466.67L487.59 456.91L492.54 450.81L496.9 448.7M351.5 593.6L380.73 535.96L382.91 536.48L391.78 526.56L403.41 516.19L408.64 507.33L433.21 488.52L479.74 457.03L496.9 448.7M351.5 593.6L357.03 573.54L365.89 557.1L372.29 552.34L376.22 543.97L409.81 512.73L422.75 499.73L472.47 462.32L496.9 448.7M351.5 593.6L352.95 586.54L378.4 545.94L406.17 516.12L408.06 514.02L425.94 498.43L436.85 488.6L467.82 468.17L496.9 448.7M351.5 593.6L404.28 522.89L429.58 499.7L448.92 484.68L452.26 483.4L467.67 472.64L470.15 470.71L485.85 457.5L496.9 448.7M351.5 593.6L361.97 563.41L391.49 527.12L396.14 520.87L455.32 473.52L455.61 474.53L462 469.25L486.58 453.73L496.9 448.7M351.5 593.6L381.89 541.82L386.25 534.81L408.64 514.47L426.67 496.63L430.6 492.11L481.78 455.9L493.26 450.31L496.9 448.7M351.5 593.6L367.35 553.46L382.47 534.62L405.88 509.9L431.91 487.72L451.68 478.2L455.46 473.02L480.47 456.67L496.9 448.7M351.5 593.6L360.66 559.6L412.13 499.8L413.29 502.37L433.8 487.47L457.35 470.38L472.18 459.53L479.31 460.02L496.9 448.7M351.5 593.6L368.37 540.71L378.25 527.72L379.13 530.59L433.36 483.56L438.01 478.58L439.18 477.15L445.43 477.05L496.9 448.7M351.5 593.6L366.19 565.08L384.8 542.61L420.86 508.54L445.28 488.2L452.84 479.67L473.78 467.14L486.29 454.51L496.9 448.7M351.5 593.6L442.38 489.35L455.17 479.76L468.4 470.49L470.15 468.45L485.85 456.73L490.65 453.05L491.81 450.99L496.9 448.7M351.5 593.6L363.71 563.98L368.66 557.94L405.88 514.89L406.02 514.86L410.1 516.23L430.45 495.01L438.3 489L496.9 448.7M351.5 593.6L368.51 548.51L393.81 518.42L402.97 509.56L407.04 507.32L421.15 497.69L458.66 471.81L484.98 453.27L496.9 448.7M351.5 593.6L358.77 569.7L362.11 560.64L365.46 557.83L386.11 533.01L390.9 524.87L412.71 509.73L448.34 480.89L496.9 448.7M351.5 593.6L352.23 589.4L353.83 587.22L388 538.05L403.99 517.84L407.19 517.95L418.09 508.07L462.88 474.89L496.9 448.7M351.5 593.6L359.21 563.38L408.64 503.74L414.75 500.3L425.36 492.28L451.39 477.97L464.62 469.82L490.36 450.69L496.9 448.7M351.5 593.6L406.61 512.56L461.42 468.54L471.6 464.19L478.58 456.73L481.2 455.03L484.54 457.54L496.75 449.24L496.9 448.7M351.5 593.6L362.26 558.56L369.38 544.34L376.07 535.66L393.23 521.3L418.09 501.18L419.84 495.15L448.48 474.38L496.9 448.7M351.5 593.6L356.01 578.12L371.27 550.05L378.4 543.41L385.96 532.63L413.88 509.86L485.27 455.89L487.89 451.58L496.9 448.7M351.5 593.6L364.59 560.28L367.64 560.04L405.15 517.07L406.02 518.04L421 503.36L436.12 490.09L445.14 486.65L496.9 448.7M351.5 593.6L352.66 587.79L412.42 506.89L424.78 499.58L440.34 485.93L454.15 476.51L463.6 472.09L466.8 468.41L496.9 448.7M351.5 593.6L405.3 509.57L428.56 494.64L446.74 482.28L455.17 472.11L486 457.58L487.74 454.39L489.63 451.6L496.9 448.7M351.5 593.6L371.57 549.67L394.97 523.18L402.54 518.16L408.06 511.8L431.76 494.84L472.18 466.47L486 456.26L496.9 448.7M351.5 593.6L389.59 519.29L389.74 520.52L391.63 517.31L459.24 470.56L465.49 466.86L472.04 459.63L492.25 451.42L496.9 448.7M351.5 593.6L352.95 585.8L357.75 577.33L359.06 572.85L371.42 559.82L377.24 549.54L433.07 498.82L459.1 474.75L496.9 448.7M351.5 593.6L360.81 569.96L365.02 560.82L367.64 555.88L383.78 534.58L440.48 485.6L450.95 481.72L489.48 452.52L496.9 448.7M351.5 593.6L351.65 589.96L369.09 559.4L389.16 537.84L394.97 531.56L426.53 502.63L461.13 471.45L461.71 475.32L496.9 448.7M351.5 593.6L362.99 552.09L371.71 537.64L376.94 532.44L402.83 506.37L413.29 496.1L441.94 480.95L446.16 477.63L496.9 448.7M351.5 593.6L412.57 508.2L429.43 495.79L432.2 492.83L447.75 480.99L465.49 465.93L473.05 464.68L482.36 456.73L496.9 448.7M351.5 593.6L366.48 558.53L368.37 558.92L400.35 517.99L443.39 485.76L463.46 469.91L474.22 462.09L490.5 454.14L496.9 448.7M351.5 593.6L360.66 564.95L360.81 565.39L365.46 553.11L399.34 515.2L411.26 504.18L455.75 473.78L478 462.09L496.9 448.7M351.5 593.6L355.43 572.79L367.2 553.41L384.36 534.2L393.67 520.85L425.94 497.16L433.65 488.97L487.16 456.77L496.9 448.7M351.5 593.6L381.89 546.34L391.05 534.19L413.73 515.42L415.04 512.77L430.45 497.64L431.62 500.09L492.97 449.71L496.9 448.7M351.5 593.6L359.35 568.62L371.71 550.7L415.91 503.45L419.26 503.53L434.96 490.05L484.98 454.48L488.03 453.48L496.9 448.7M351.5 593.6L366.48 549.85L370.84 541.44L375.93 533.89L381.02 526.61L452.55 474.91L457.5 468.87L496.61 451.13L496.9 448.7M351.5 593.6L359.06 569.56L369.24 553.07L388.14 531.6L400.35 517.35L403.26 514.4L456.33 476.37L462.59 471.77L496.9 448.7M351.5 593.6L370.11 557.14L370.84 560.42L411.84 511.99L412.57 515L446.74 483.31L461.57 473.06L493.41 451.56L496.9 448.7M351.5 593.6L400.94 525.95L424.93 502.54L440.78 492.46L449.79 480.86L455.02 476.99L457.93 474.42L467.24 472.15L496.9 448.7M351.5 593.6L368.8 552.65L381.02 538.94L386.11 531.86L421.15 502.26L472.04 465.52L475.53 464.8L493.12 450.08L496.9 448.7M351.5 593.6L395.99 522.19L405.73 514.94L414.75 505.7L424.78 501.09L438.3 489.5L458.37 471.73L459.53 474.95L496.9 448.7M351.5 593.6L353.54 575.13L366.91 547.48L415.19 494.73L418.09 492.77L420.86 491.63L462.88 464.31L468.26 462.64L496.9 448.7M351.5 593.6L354.41 583.09L361.1 571.09L380.73 543.21L441.21 490.06L475.24 464.73L480.18 462.62L495.45 450.06L496.9 448.7M351.5 593.6L375.64 539.71L383.05 530.87L408.06 507.51L451.68 478.07L457.5 471.89L481.49 455.73L490.07 451.33L496.9 448.7M351.5 593.6L411.99 513.23L447.46 482.38L450.81 480.77L462.44 473.54L466.8 471.78L478.14 462.78L484.83 458.5L496.9 448.7M351.5 593.6L365.31 562.31L379.42 545.31L404.72 518.71L429 499.62L439.61 490.5L463.31 471.57L473.64 466.3L496.9 448.7M351.5 593.6L363.13 552.42L373.31 536.92L398.9 507.59L431.47 482.8L472.76 460.72L485.85 452.24L490.79 451.88L496.9 448.7" fill="none" stroke="#f5c28c" stroke-width="1.2" opacity="0.8"/><path d="M351.5 593.6L376.36 563.45L384.94 551.24L413.59 526.8L415.48 522.27L429.58 510.71L439.9 498.52L471.16 470.67L496.9 448.7M351.5 593.6L396.57 534.52L398.17 530.64L410.68 521.19L450.08 483.89L457.64 476.22L464.77 472.21L476.11 466.9L496.9 448.7M351.5 593.6L361.82 577.72L373.46 563.01L391.92 544.08L415.91 519.33L416.93 514.73L419.84 515.73L449.5 490.35L496.9 448.7M351.5 593.6L364.3 569.49L365.75 570.67L381.89 549.47L401.23 530.81L418.67 511.82L450.66 488.47L488.9 456.49L496.9 448.7M351.5 593.6L389.89 541.62L401.95 528.26L424.49 507.45L425.22 508.01L434.38 499.81L471.02 471.03L474.51 466.47L496.9 448.7M351.5 593.6L376.94 563.93L395.99 543.57L404.57 531.26L416.35 518.93L437.29 504.09L439.18 502.27L458.22 481.83L496.9 448.7M351.5 593.6L356.44 580.67L375.05 555.65L399.77 530.61L417.95 512.02L425.65 508.93L447.03 488.69L452.41 485.09L496.9 448.7M351.5 593.6L367.64 567.64L405.3 526.6L408.21 528.79L465.49 473.48L480.18 461.2L488.18 456.11L488.61 456.8L496.9 448.7M351.5 593.6L388.58 541.71L409.95 521.53L411.4 521.63L415.04 513.73L440.78 492.06L441.5 493.86L487.01 456.14L496.9 448.7M351.5 593.6L375.05 558.09L395.99 540.9L400.79 533.47L424.78 511.9L440.48 496.24L464.77 477.96L482.51 462.07L496.9 448.7M351.5 593.6L356.15 587.64L369.24 572.22L379.42 562.11L383.63 557.38L417.8 518.03L466.08 474.67L494.57 448.7L496.9 448.7M351.5 593.6L360.95 579.6L376.07 564.68L376.94 562.01L388.58 546.45L390.76 544.18L456.19 482.81L465.35 474.67L496.9 448.7M351.5 593.6L356.73 587.65L389.3 550.9L392.5 546.64L407.19 531.24L418.09 517.26L432.49 506.38L434.81 502.18L496.9 448.7M351.5 593.6L397.59 539.53L398.32 539.64L408.64 530.27L437.58 499.78L443.68 496.32L466.51 477.44L475.82 467.7L496.9 448.7M351.5 593.6L381.31 552.12L381.45 549.22L392.5 536.8L436.41 495.79L448.05 487.38L457.79 477.13L485.41 456.7L496.9 448.7M351.5 593.6L362.99 576.14L365.31 572.96L378.69 555.64L401.95 534.59L419.26 516.4L430.74 505.46L459.39 479.61L496.9 448.7M351.5 593.6L370.98 564.54L392.07 541.68L416.35 513.3L419.84 515.36L432.92 500.89L438.89 496.88L445.28 492.94L496.9 448.7M351.5 593.6L362.99 575.5L374.91 559.22L402.68 529.56L409.66 519.31L442.38 492.71L452.55 485.24L483.81 458.88L496.9 448.7M351.5 593.6L373.16 561.21L420.86 515.95L429.58 505.33L448.48 487.76L456.33 482.96L463.6 474.78L490.5 454.57L496.9 448.7M351.5 593.6L385.09 549.28L440.78 495.7L448.92 491.75L453.86 483.41L454.44 485.96L454.59 484.3L486 457.52L496.9 448.7M351.5 593.6L398.61 535.85L415.91 517.57L419.55 519.18L433.8 501.93L462.73 476.88L488.18 455.77L495.74 448.7L496.9 448.7M351.5 593.6L372.87 568.14L422.31 515.85L440.92 495.7L453.13 484.43L468.26 472.07L471.89 471.32L490.79 452.37L496.9 448.7M351.5 593.6L423.33 510.56L444.12 492.46L448.48 491.63L455.32 480.46L477.27 465.72L492.54 452.21L496.9 448.7" fill="none" stroke="#f8d8b5" stroke-width="1" opacity="0.8"/><path d="M351.5 593.6L358.77 561.2L366.04 547.78L373.31 537.48L380.58 528.8L387.85 521.15L395.12 514.24L402.39 507.88L409.66 501.96L416.93 496.4L424.2 491.14L431.47 486.14L438.74 481.36L446.01 476.78L453.28 472.37L460.55 468.11L467.82 464L475.09 460.01L482.36 456.14L489.63 452.37L496.9 448.7L496.9 448.7L489.63 453.67L482.36 458.72L475.09 463.86L467.82 469.1L460.55 474.45L453.28 479.91L446.01 485.49L438.74 491.22L431.47 497.1L424.2 503.16L416.93 509.41L409.66 515.89L402.39 522.64L395.12 529.7L387.85 537.15L380.58 545.1L373.31 553.71L366.04 563.33L358.77 574.7L351.5 593.6z" fill="#f4bb80" opacity="0.9"/><path d="M351.5 584.91L361.39 554.48L383.63 519.85L424.64 486.23L469.27 460L496.9 448.7" fill="none" stroke="#dc2b30" stroke-width="2.8" stroke-linejoin="round"/><path d="M351.5 593.6L367.64 523.61L384.94 501.15L402.24 486.23L434.52 470L464.19 460L496.9 448.7" fill="none" stroke="#2e3990" stroke-width="2.9" stroke-linejoin="round"/><rect x="351.5" y="448.7" width="145.4" height="144.9" fill="none" stroke="#777" stroke-width="1"/><text x="346.9" y="597.2" font-size="10.9" fill="#231f20" text-anchor="end">0</text><text x="346.9" y="568.22" font-size="10.9" fill="#231f20" text-anchor="end">0.2</text><text x="346.9" y="539.24" font-size="10.9" fill="#231f20" text-anchor="end">0.4</text><text x="346.9" y="510.26" font-size="10.9" fill="#231f20" text-anchor="end">0.6</text><text x="346.9" y="481.28" font-size="10.9" fill="#231f20" text-anchor="end">0.8</text><text x="346.9" y="452.3" font-size="10.9" fill="#231f20" text-anchor="end">1.0</text><text x="351.5" y="607" font-size="10.6" fill="#231f20" text-anchor="middle">0</text><text x="380.58" y="607" font-size="10.6" fill="#231f20" text-anchor="middle">0.2</text><text x="409.66" y="607" font-size="10.6" fill="#231f20" text-anchor="middle">0.4</text><text x="438.74" y="607" font-size="10.6" fill="#231f20" text-anchor="middle">0.6</text><text x="467.82" y="607" font-size="10.6" fill="#231f20" text-anchor="middle">0.8</text><text x="496.9" y="607" font-size="10.6" fill="#231f20" text-anchor="middle">1</text><text x="424.1" y="623.4" font-size="12.7" fill="#231f20" text-anchor="middle">False-positive rate</text><text transform="translate(324,518.5) rotate(-90)" font-size="12.7" fill="#231f20" text-anchor="middle">True-positive rate</text><line x1="503.3" y1="508" x2="517.2" y2="508" stroke="#2e3990" stroke-width="2.3"/><text x="524.1" y="511.2" font-size="9.0" fill="#231f20" text-anchor="start">This study (AUC = 0.76)</text><line x1="503.3" y1="520" x2="517.2" y2="520" stroke="#dc2b30" stroke-width="2.3"/><text x="524.1" y="523.2" font-size="9.0" fill="#231f20" text-anchor="start">Multiple gene expression (AUC = 0.69)</text><line x1="503.3" y1="531.6" x2="517.2" y2="531.6" stroke="#f5c48e" stroke-width="2.3"/><text x="524.1" y="534.8" font-size="9.0" fill="#231f20" text-anchor="start">Single gene expression datasets (111)</text><rect x="386.3" y="749.8" width="19.5" height="16.4" fill="#a9d5ec" stroke="#3a3a40" stroke-width="1"/><rect x="405.8" y="749.8" width="19.5" height="16.4" fill="#a9d5ec" stroke="#3a3a40" stroke-width="1"/><rect x="425.3" y="749.8" width="19.5" height="16.4" fill="#3d5aa8" stroke="#3a3a40" stroke-width="1"/><rect x="444.8" y="749.8" width="19.5" height="16.4" fill="#3d5aa8" stroke="#3a3a40" stroke-width="1"/><rect x="464.3" y="749.8" width="19.5" height="16.4" fill="#3d5aa8" stroke="#3a3a40" stroke-width="1"/><rect x="483.8" y="749.8" width="19.5" height="16.4" fill="#3d5aa8" stroke="#3a3a40" stroke-width="1"/><rect x="503.3" y="749.8" width="19.5" height="16.4" fill="#3d5aa8" stroke="#3a3a40" stroke-width="1"/><rect x="522.8" y="749.8" width="19.5" height="16.4" fill="#3d5aa8" stroke="#3a3a40" stroke-width="1"/><rect x="542.3" y="749.8" width="19.5" height="16.4" fill="#3d5aa8" stroke="#3a3a40" stroke-width="1"/><rect x="386.3" y="770.6" width="19.5" height="16.2" fill="#3d5aa8" stroke="#3a3a40" stroke-width="1"/><rect x="405.8" y="770.6" width="19.5" height="16.2" fill="#3d5aa8" stroke="#3a3a40" stroke-width="1"/><rect x="425.3" y="770.6" width="19.5" height="16.2" fill="#5ba7d8" stroke="#3a3a40" stroke-width="1"/><rect x="444.8" y="770.6" width="19.5" height="16.2" fill="#7fbde5" stroke="#3a3a40" stroke-width="1"/><rect x="464.3" y="770.6" width="19.5" height="16.2" fill="#7fbde5" stroke="#3a3a40" stroke-width="1"/><rect x="483.8" y="770.6" width="19.5" height="16.2" fill="#a9d5ec" stroke="#3a3a40" stroke-width="1"/><rect x="503.3" y="770.6" width="19.5" height="16.2" fill="#a9d5ec" stroke="#3a3a40" stroke-width="1"/><rect x="522.8" y="770.6" width="19.5" height="16.2" fill="#ffffff" stroke="#3a3a40" stroke-width="1"/><rect x="542.3" y="770.6" width="19.5" height="16.2" fill="#ffffff" stroke="#3a3a40" stroke-width="1"/><text x="380.2" y="761.6" font-size="10.5" fill="#231f20" text-anchor="end">Fetal liver</text><text x="380.2" y="782.4" font-size="10.5" fill="#231f20" text-anchor="end">Adult liver</text><text transform="translate(392.4,749) rotate(-45)" font-size="9.2" fill="#231f20">FARP2-NRP1-PlexinA1</text><text transform="translate(408.5,749) rotate(-45)" font-size="9.2" fill="#231f20">SLP-76-PLC-gamma-1-VAV complex,</text><text transform="translate(423.8,749) rotate(-45)" font-size="9.2" fill="#231f20">alpha-TCR stimulated</text><text transform="translate(442.1,749) rotate(-45)" font-size="9.2" fill="#231f20">HuCHRAC</text><text transform="translate(456.7,749) rotate(-45)" font-size="9.2" fill="#231f20">Polycomb repressive 2 (PRC2)</text><text transform="translate(475.6,749) rotate(-45)" font-size="9.2" fill="#231f20">Condensin II</text><text transform="translate(494.6,749) rotate(-45)" font-size="9.2" fill="#231f20">EED-EZH-YY1 polycomb</text><text transform="translate(515.5,749) rotate(-45)" font-size="9.2" fill="#231f20">MCM</text><text transform="translate(533.2,749) rotate(-45)" font-size="9.2" fill="#231f20">TACC2-TACC3-PCAF</text><text transform="translate(552.2,749) rotate(-45)" font-size="9.2" fill="#231f20">MCM8-ORC2-CDC6</text><rect x="515.2" y="795.2" width="9.36" height="7.4" fill="#ffffff" stroke="#3a3a40" stroke-width="0.8"/><rect x="524.56" y="795.2" width="9.36" height="7.4" fill="#b3d9ee" stroke="#3a3a40" stroke-width="0.8"/><rect x="533.92" y="795.2" width="9.36" height="7.4" fill="#8cc4e6" stroke="#3a3a40" stroke-width="0.8"/><rect x="543.28" y="795.2" width="9.36" height="7.4" fill="#5ea9da" stroke="#3a3a40" stroke-width="0.8"/><rect x="552.64" y="795.2" width="9.36" height="7.4" fill="#3d5aa8" stroke="#3a3a40" stroke-width="0.8"/><text x="506.4" y="812.7" font-size="8.8" fill="#231f20" text-anchor="start">Low</text><text x="552.8" y="812.7" font-size="8.8" fill="#231f20" text-anchor="start">High</text><path d="M22.4 66.6L22.4 58.93L23.72 57.29L25.04 57.4L26.36 55.58L27.68 57.1L29 52.93L30.32 52.13L31.64 53.02L32.96 52.02L34.28 50.44L35.6 54.36L36.92 49.61L38.24 52.1L39.56 48.36L40.88 49.76L42.2 46.48L43.52 48.38L44.84 46.72L46.16 46.59L47.48 45.3L48.8 45.89L50.12 42.81L51.44 44.89L52.76 42.74L54.08 42.02L55.4 40.52L56.72 42.55L58.04 40.33L59.36 40.77L60.68 40.07L62 39.41L63.32 39.11L64.64 37.44L65.96 37.83L67.28 36.16L68.6 37.07L68.6 66.6zM68.6 66.6L68.6 56.27L69.94 50.08L71.27 49.82L72.61 48.74L73.95 52.75L75.28 47.82L76.62 49.42L77.96 46.29L79.29 47.41L80.63 45.28L81.97 45.39L83.31 44.55L84.64 44.96L85.98 44.1L87.32 43.86L88.65 43.09L89.99 42.76L91.33 42.19L92.66 40.62L94 39.53L94 66.6zM97.5 66.6L97.5 63.16L98.82 54.18L100.13 52.42L101.45 45.3L102.77 43.05L104.08 37.59L105.4 33.9L105.4 66.6zM110.7 66.6L110.7 63.44L112.02 56.03L113.33 52.45L114.65 50.79L115.96 51.19L117.28 43.74L118.59 44.51L119.91 39.31L121.22 36.62L122.54 34.28L123.85 33.6L125.17 30.86L126.48 26.96L127.8 25.93L127.8 66.6zM129 66.6L129 50.27L130.32 43.38L131.64 37.51L132.96 32.36L134.28 28.21L135.6 21.81L135.6 66.6zM144.8 66.6L144.8 64.99L146.12 57.71L147.43 56.13L148.75 55.6L150.06 53.39L151.38 52.48L152.7 53.24L154.01 51.17L155.33 49.76L156.65 48.02L157.96 51.4L159.28 46.63L160.59 49.79L161.91 45.94L163.23 45.02L164.54 43.26L165.86 43.81L167.18 41.88L168.49 42.29L169.81 39.99L171.12 40.55L172.44 39.08L173.76 38.31L175.07 36.41L176.39 37.3L177.71 34.41L179.02 34.12L180.34 34.3L181.65 33.1L182.97 31.87L184.29 30.03L185.6 30.06L186.92 29.74L188.24 27.74L189.55 28L190.87 27.46L192.18 25.5L193.5 25.95L193.5 66.6zM193.5 66.6L193.5 54.8L195 45.36L196.5 39.71L198 34.14L199.5 29.72L201 23.04L201 66.6zM201 66.6L201 58.06L202.31 57.15L203.62 60L204.93 53.63L206.24 54.51L207.54 52L208.85 51.48L210.16 49.42L211.47 49.32L212.78 47.42L214.09 48.72L215.4 45.37L216.71 45.65L218.01 44.46L219.32 42.14L220.63 42.26L221.94 43.46L223.25 40L224.56 39.44L225.87 39.28L227.18 37.75L228.49 36.38L229.79 36.73L231.1 35.76L232.41 33.89L233.72 33.4L235.03 32.93L236.34 32.84L237.65 31.49L238.96 31.32L240.26 29.19L241.57 28.75L242.88 28.26L244.19 28.32L245.5 25.8L245.5 66.6zM245.5 66.6L245.5 61.35L246.88 55.22L248.26 54.13L249.65 48.29L251.03 48.64L252.41 43.48L253.79 39.68L255.17 36.73L256.55 36.02L257.94 32.16L259.32 29.77L260.7 26.49L260.7 66.6zM269 66.6L269 65.38L270.32 63.04L271.64 65.51L272.95 59.98L274.27 60.07L275.59 57.66L276.91 57.92L278.23 55.25L279.54 58.2L280.86 52.47L282.18 51.09L283.5 51.88L284.82 53.34L286.13 49.88L287.45 48.97L288.77 47.78L290.09 49.16L291.41 44.36L292.72 46.23L294.04 43.66L295.36 43.82L296.68 41.14L297.99 40.32L299.31 38.93L300.63 38.19L301.95 36.57L303.27 37.58L304.58 35.22L305.9 36.34L307.22 32.97L308.54 34.62L309.86 32.53L311.17 32.63L312.49 31.22L313.81 30.51L315.13 28.89L316.45 26.92L317.76 27.55L319.08 25.39L320.4 25L320.4 66.6zM320.4 66.6L320.4 59.98L321.7 53.31L323 51.8L324.3 48.86L325.6 47.83L326.9 43.12L328.2 41.5L329.5 39.97L330.8 38.27L332.1 35.85L333.4 33.67L334.7 30.9L336 30.28L337.3 28.5L338.6 25.45L339.9 24.91L341.2 21.6L341.2 66.6zM341.5 66.6L341.5 54.84L343.23 43.34L344.97 35.57L346.7 31.26L346.7 66.6zM355 66.6L355 63.18L356.3 54.25L357.6 52.81L358.9 49.27L360.2 49.04L361.5 44.89L362.8 44.05L364.1 41.29L365.4 37.69L366.7 35.78L368 34.15L369.3 32.03L370.6 30.08L371.9 29.98L373.2 27.53L374.5 24.57L374.5 66.6zM380 66.6L380 63.51L381.35 57.01L382.69 55.06L384.04 51.27L385.38 51.23L386.73 46.73L388.08 44.8L389.42 41.32L390.77 39.96L392.12 36.83L393.46 36.08L394.81 33.85L396.15 31.02L397.5 28.56L397.5 66.6zM400.4 66.6L400.4 59.07L401.85 53.95L403.3 52.79L404.75 48.02L406.2 45.08L407.65 42.23L409.1 39.77L410.55 36.13L412 32.7L412 66.6zM415 66.6L415 62.98L416.31 57.99L417.63 56.45L418.94 53.17L420.26 52.13L421.57 48.12L422.89 48.38L424.2 45.2L425.52 42.32L426.83 41.05L428.15 40.27L429.47 38.51L430.78 38.63L432.1 34.18L433.41 34.76L434.73 31.79L436.04 29.33L437.36 28L438.67 25.76L439.99 25.63L441.3 22.5L441.3 66.6zM442.8 66.6L442.8 61.32L444.11 50.52L445.43 47.09L446.74 40.46L448.06 36.8L449.37 30.61L450.69 27.72L452 22.51L452 66.6zM453 66.6L453 56.86L454.46 50.49L455.91 43.93L457.37 39.18L458.83 34.98L460.29 32.17L461.74 26.79L463.2 22.55L463.2 66.6zM467.6 66.6L467.6 65.05L468.96 56.05L470.31 57.39L471.67 51.26L473.03 51.54L474.39 46.72L475.74 45.06L477.1 41.73L478.46 38.03L479.81 37.24L481.17 35.21L482.53 32.9L483.89 29.66L485.24 28.89L486.6 25.4L486.6 66.6zM488 66.6L488 58.37L489.46 53.04L490.93 51.17L492.39 46.15L493.85 42.03L495.31 38.04L496.77 35.24L498.24 32.63L499.7 28.4L499.7 66.6zM505.5 66.6L505.5 60.36L506.86 54.44L508.21 52.72L509.57 48.35L510.93 47.09L512.29 42.59L513.64 42.25L515 39.56L516.36 36.93L517.71 34.56L519.07 31.39L520.43 30.11L521.79 28.33L523.14 25.89L524.5 22.5L524.5 66.6zM526 66.6L526 57.9L527.4 49.39L528.8 47.16L530.2 38.69L531.6 34.34L533 31.5L533 66.6zM534 66.6L534 60.5L535.36 49.71L536.71 46.23L538.07 41.21L539.43 36.56L540.79 32.61L542.14 28.93L543.5 26.17L543.5 66.6zM543.5 66.6L543.5 56.89L545 46.5L546.5 42.6L548 35.31L549.5 28.61L551 23.91L551 66.6zM551 66.6L551 57.48L552.4 49.81L553.8 45.71L555.2 38.92L556.6 34.67L558 30.05L558 66.6zM561 66.6L561 57.88L562.5 45.04L564 37.06L565.5 29.9L567 22.5L567 66.6zM569.8 66.6L569.8 64.65L571.2 54.43L572.6 53.24L574 46.86L574 66.6z" fill="#cdcdcf"/><path d="M50.54 42.5V54.93M59.8 38.67V57.46M48.9 43.21V55.87M55.32 40.49V59.91M42.74 45.93V63.14M64.73 36.71V49.12M36.04 49.1V57.32M55.2 40.54V56.7M64.67 36.73V56.1M36.53 48.86V56.27M37.18 48.54V55.91M54.69 40.75V60.21M62.35 37.65V46.24M89.82 40.78V50.42M80.28 44.66V61.78M73 48.1V53.77M89.14 41.04V50.29M78.84 45.29V59.74M85.72 42.39V46.52M78.37 45.51V57.36M101.55 43.87V51.65M102.22 42.04V63.24M118.09 41.95V55.75M114.14 50.21V59.15M122.08 34.51V40.54M125.31 28.88V49.24M130.2 42.52V63.46M165.16 41.93V59.83M181.02 31.93V41.25M177.65 33.97V49.74M183.04 30.73V39.52M180.89 32.01V53.32M177.52 34.05V47.7M154.36 49.68V62.57M164.25 42.54V59.47M177.76 33.9V48.1M157.2 47.52V63.14M175.79 35.11V42.33M186.51 28.7V44.5M154.77 49.36V70.13M195.15 43.36V53.33M198.84 29.89V44.64M226.44 37.31V52.96M222.76 39.7V49.32M212.12 47.18V52.41M232.53 33.49V51.07M225.99 37.59V54.91M219.04 42.21V51M219.95 41.59V61.29M207.04 51.24V64.33M214.8 45.2V63.04M218.84 42.34V52.33M220.71 41.07V54.82M234.64 32.2V42.55M257.96 30.82V36.84M250.51 45.92V51.71M248.48 50.72V68.74M256.42 33.76V41.08M282.4 50.88V62.38M306.62 33.29V51.97M306.85 33.13V47.78M280.54 52.43V63.6M282.6 50.72V64.22M298.97 38.49V46.13M285.07 48.74V66.81M275.45 56.96V75.41M313.08 29.05V50.14M290.88 44.3V58.25M299.61 38.04V53.45M316.82 26.65V43.01M287.22 47.06V66.54M295.29 41.09V55.91M335.33 29.61V33.66M336.1 28.53V44.44M331.18 35.67V49.1M330.62 36.51V43.99M331.84 34.67V39.34M344.23 38.05V53.68M364.31 39.4V53.59M372.85 26.7V46.76M359.2 48.17V66.43M367.28 34.79V39.7M362.92 41.67V49.87M382.91 52.86V66.56M395.58 31.25V41.06M394.7 32.58V49.08M383.75 51.14V70.59M390.69 38.86V59.54M408.62 38.79V56.11M404.95 46.04V64.56M410.75 34.91V54.42M427.4 39.45V57.07M428.47 38.04V44M418.58 52.39V57.79M422.11 46.83V53.73M428.74 37.69V54.27M429.64 36.53V48.12M432.14 33.37V42.85M447.35 36.92V54.55M446.86 38.59V45.84M461.82 26.18V43.14M457.2 39.52V50.2M478.05 38.56V53.29M473.12 47.14V51.19M472.88 47.59V65.68M471.82 49.62V61.9M472.65 48.01V55.77M490.87 48.39V59.65M490.84 48.45V52.95M490.26 50.04V57.07M515.32 37.07V42.14M507.76 51.53V63.6M513.99 39.37V56.03M508.23 50.49V61.75M513.81 39.69V44.17M532.44 31.6V39.54M527.26 48.66V61.2M536.28 45.42V60.62M537.75 40.75V46.98M544.58 48.1V65.2M546 41.49V59.67M554.47 40.74V61.54M553.49 44.07V52.57M562.96 41.74V60.41M572.47 50.2V60.4" fill="none" stroke="#ffffff" stroke-width="0.5" opacity="0.7"/><path d="M68.2 35.2V32.47H93.6V39.2M105 33.9V20.49H127.4V24.7M135.2 20.8V15.88H193.1V24.7M200.6 23V19.02H245.1V25.8M260.3 25.8V21.89H320V24.4M340.8 21.6V19.02H346.3V30M374.1 24.4V21.67H397.1V28.4M411.6 32.7V19.57H440.9V22.5M451.6 22.5V19.91H462.8V22.5M486.2 25.4V22.77H499.3V28.4M524.1 22.5V18.36H532.6V30M543.1 25V17.75H550.6V22.5M557.6 30V19.5H566.6V22.5M80.9 32.47V15.56H116.2V20.49M164.15 15.88V12.18H222.85V19.02M290.15 21.89V14.52H343.55V19.02M385.6 21.67V14.78H426.25V19.57M457.2 19.91V15.06H492.75V22.77M528.35 18.36V15.16H546.85V17.75M562.1 19.5V16.24H573.6V45.9M98.55 15.56V8.17H193.5V12.18M316.85 14.52V9.65H405.93V14.78M474.98 15.06V12.34H537.6V15.16M146.02 8.17V7.9H361.39V9.65M506.29 12.34V7.9H567.85V16.24M253.71 7.9V7.9H537.07V7.9" fill="none" stroke="#c8c8ca" stroke-width="0.7"/></svg></body></html>
